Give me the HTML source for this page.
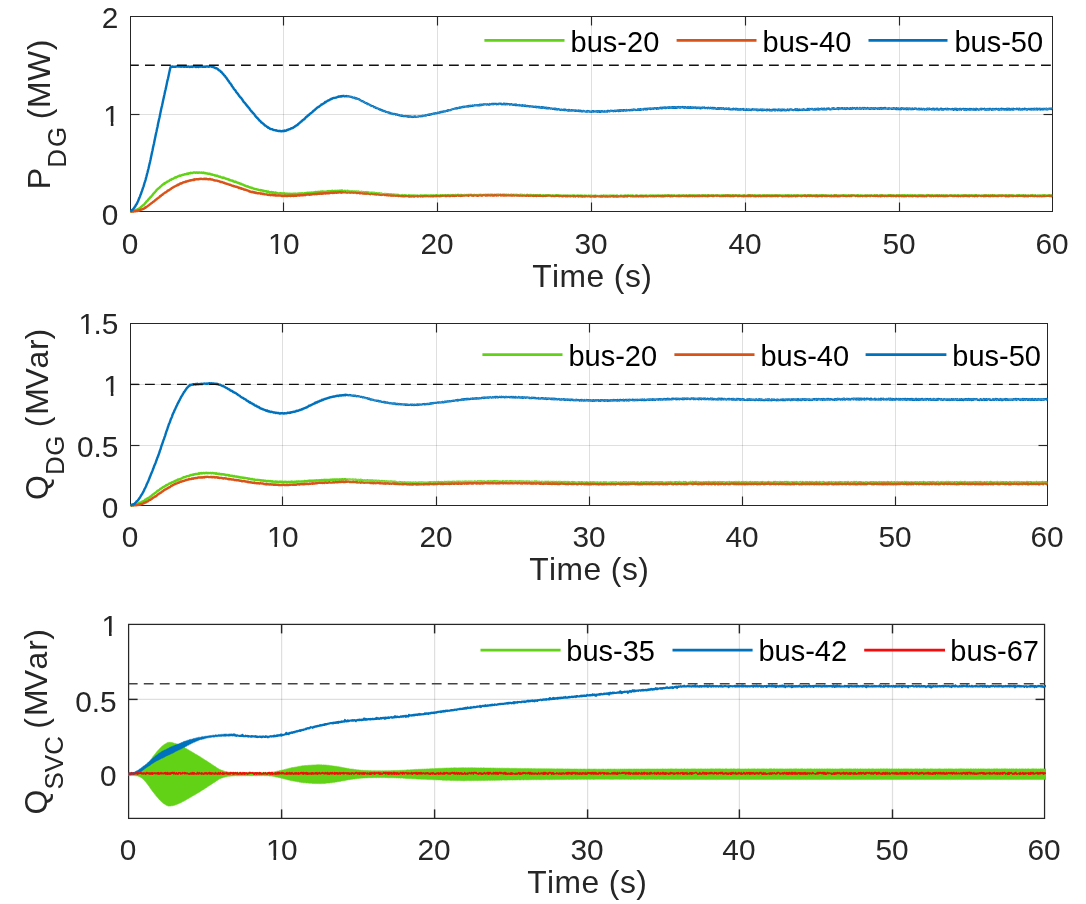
<!DOCTYPE html>
<html lang="en"><head><meta charset="utf-8"><title>DG and SVC power response</title>
<style>html,body{margin:0;padding:0;background:#fff;}svg{display:block;}text{font-family:"Liberation Sans", Arial, Helvetica, sans-serif;fill:#262626;font-kerning:none;}</style></head><body>
<svg width="1086" height="904" viewBox="0 0 1086 904">
<rect x="0" y="0" width="1086" height="904" fill="#ffffff"/>
<g id="ax1">
<clipPath id="clip1"><rect x="130.00" y="16.00" width="924.00" height="197.00"/></clipPath>
<line x1="283.50" y1="16.50" x2="283.50" y2="211.50" stroke="#262626" stroke-opacity="0.15" stroke-width="1.0"/>
<line x1="437.50" y1="16.50" x2="437.50" y2="211.50" stroke="#262626" stroke-opacity="0.15" stroke-width="1.0"/>
<line x1="591.50" y1="16.50" x2="591.50" y2="211.50" stroke="#262626" stroke-opacity="0.15" stroke-width="1.0"/>
<line x1="745.50" y1="16.50" x2="745.50" y2="211.50" stroke="#262626" stroke-opacity="0.15" stroke-width="1.0"/>
<line x1="899.50" y1="16.50" x2="899.50" y2="211.50" stroke="#262626" stroke-opacity="0.15" stroke-width="1.0"/>
<line x1="130.50" y1="114.50" x2="1052.50" y2="114.50" stroke="#262626" stroke-opacity="0.15" stroke-width="1.0"/>
<line x1="283.50" y1="211.50" x2="283.50" y2="202.50" stroke="#262626" stroke-width="1.15"/>
<line x1="283.50" y1="16.50" x2="283.50" y2="25.50" stroke="#262626" stroke-width="1.15"/>
<line x1="437.50" y1="211.50" x2="437.50" y2="202.50" stroke="#262626" stroke-width="1.15"/>
<line x1="437.50" y1="16.50" x2="437.50" y2="25.50" stroke="#262626" stroke-width="1.15"/>
<line x1="591.50" y1="211.50" x2="591.50" y2="202.50" stroke="#262626" stroke-width="1.15"/>
<line x1="591.50" y1="16.50" x2="591.50" y2="25.50" stroke="#262626" stroke-width="1.15"/>
<line x1="745.50" y1="211.50" x2="745.50" y2="202.50" stroke="#262626" stroke-width="1.15"/>
<line x1="745.50" y1="16.50" x2="745.50" y2="25.50" stroke="#262626" stroke-width="1.15"/>
<line x1="899.50" y1="211.50" x2="899.50" y2="202.50" stroke="#262626" stroke-width="1.15"/>
<line x1="899.50" y1="16.50" x2="899.50" y2="25.50" stroke="#262626" stroke-width="1.15"/>
<line x1="130.50" y1="114.50" x2="139.50" y2="114.50" stroke="#262626" stroke-width="1.15"/>
<line x1="1052.50" y1="114.50" x2="1043.50" y2="114.50" stroke="#262626" stroke-width="1.15"/>
<rect x="130.50" y="16.50" width="922.00" height="195.00" fill="none" stroke="#262626" stroke-width="1.0"/>
<g clip-path="url(#clip1)">
<path d="M130.50 211.50l.5 .1 .5-.15 .5-.42 .5-.06 .5 .24 .5-.64 .5 .36 .5-.16 .5-.36 .5-.27 .5-.21 .5-.22 .5-.11 .5-.21 .5-.24 .5-.02 .5-.42 .5-.43 .5-.12 .5-.83 .5-.42 .5-.13 .5-.76 .5-.45 .5-.17 .5-.5 .5-.21 .5-.68 .5-.58 .5-.54 .5-.69 .5-.69 .5-.45 .5-.26 .5-.87 .5-.47 .5-.8 .5-.08 .5-.99 .5-.52 .5-.22 .5-.81 .5-.38 .5-.71 .5-.52 .5-.96 .5-.31 .5-.58 .5-.34 .5-.86 .5-.4 .5-.86 .5-.33 .5-.56 .5-.6 .5-.09 .5-.74 .5-.11 .5-.68 .5-.43 .5-.41 .5-.38 .5-.72 .5-.21 .5-.49 .5-.26 .5-.54 .5 .18 .5-.78 .5-.06 .5-.54 .5 .03 .5-.43 .5-.62 .5 .13 .5-.22 .5-.31 .5-.47 .5-.53 .5-.23 .5 .18 .5-.48 .5-.47 .5 .17 .5-.38 .5-.28 .5-.35 .5-.21 .5-.33 .5-.34 .5 .28 .5-.46 .5-.15 .5-.34 .5 .06 .5-.63 .5 .02 .5-.38 .5-.12 .5 .34 .5-.35 .5-.29 .5-.1 .5 .06 .5-.46 .5 .01 .5-.08 .5-.32 .5-.03 .5 .03 .5-.03 .5-.57 .5 .36 .5-.67 .5 .35 .5-.07 .5-.5 .5 .08 .5 .15 .5-.57 .5 .29 .5 .03 .5-.24 .5 .06 .5-.36 .5-.07 .5 .05 .5-.15 .5 .06 .5 .32 .5-.25 .5-.16 .5-.06 .5 .39 .5-.31 .5 .32 .5-.27 .5 .01 .5 .24 .5-.07 .5-.06 .5-.06 .5 .31 .5-.23 .5 .36 .5-.46 .5 .28 .5 .13 .5 .33 .5-.34 .5 .42 .5 .01 .5 .12 .5 .05 .5 .32 .5-.28 .5 .16 .5 0 .5 .03 .5 .22 .5 .54 .5 .09 .5-.31 .5 .42 .5 .06 .5 .2 .5 .18 .5-.08 .5 .53 .5-.16 .5 .23 .5 .15 .5-.13 .5 .07 .5 .36 .5 .36 .5 .18 .5 .09 .5-.21 .5 .63 .5 .09 .5 .2 .5-.06 .5 .4 .5-.36 .5 .15 .5 .15 .5 .3 .5 .17 .5 .12 .5 .4 .5-.16 .5 .5 .5-.09 .5 .48 .5-.23 .5 .34 .5 .55 .5-.07 .5 .33 .5 .08 .5 .14 .5-.08 .5 .39 .5-.15 .5 .63 .5 .27 .5 .1 .5-.31 .5 .35 .5 .16 .5 .06 .5 .48 .5 .28 .5-.1 .5 .51 .5 .15 .5-.22 .5 .57 .5 .26 .5-.22 .5 .42 .5 .24 .5 .17 .5-.11 .5 .54 .5 .18 .5 .31 .5 .18 .5-.09 .5 .43 .5 .28 .5 .21 .5-.25 .5 .11 .5 .56 .5-.08 .5 .4 .5 .4 .5-.16 .5 .1 .5 .29 .5 .29 .5-.17 .5 .32 .5 .01 .5 .47 .5 .25 .5-.14 .5 .14 .5 .23 .5-.06 .5 .14 .5 .17 .5 .2 .5-.11 .5 .51 .5 .01 .5-.06 .5-.03 .5 .51 .5-.27 .5 .1 .5 .1 .5 .07 .5 .59 .5-.29 .5 .12 .5 .41 .5-.04 .5-.17 .5 .24 .5 .36 .5-.22 .5 .28 .5-.28 .5 .46 .5 .11 .5 .1 .5-.01 .5-.11 .5-.11 .5 .34 .5 .22 .5-.28 .5 .11 .5 .23 .5 .19 .5 .15 .5-.41 .5 .09 .5 .42 .5-.04 .5 .1 .5 .21 .5 .01 .5-.01 .5 0 .5-.18 .5 .19 .5-.24 .5 .39 .5 .03 .5 .02 .5-.13 .5-.01 .5 .06 .5-.2 .5 .52 .5-.15 .5-.06 .5 .13 .5 .13 .5-.18 .5 .29 .5 .08 .5-.3 .5-.13 .5 .39 .5 .15 .5-.5 .5 .35 .5 .08 .5 .06 .5-.48 .5-.02 .5 .54 .5-.53 .5 .02 .5 .23 .5-.09 .5 .17 .5-.35 .5 .41 .5-.44 .5 .31 .5-.45 .5 .22 .5-.29 .5 .13 .5-.03 .5 .21 .5-.19 .5-.28 .5 .53 .5-.11 .5-.02 .5-.44 .5 .04 .5-.14 .5-.11 .5-.1 .5 .24 .5-.28 .5-.01 .5 .36 .5-.27 .5-.23 .5 .24 .5-.29 .5 .11 .5-.2 .5 .09 .5 .02 .5-.11 .5-.13 .5 .19 .5 0 .5-.46 .5-.08 .5-.06 .5 .48 .5-.07 .5-.47 .5 .4 .5-.5 .5 .13 .5-.04 .5 .21 .5-.56 .5 .12 .5 .14 .5-.36 .5 .07 .5 .1 .5 .22 .5-.1 .5 .01 .5-.07 .5-.07 .5 .06 .5-.13 .5 0 .5-.29 .5-.11 .5 .32 .5-.38 .5 .42 .5-.22 .5-.19 .5 .33 .5-.5 .5 .19 .5-.28 .5 .5 .5-.27 .5 .12 .5-.34 .5 .28 .5-.08 .5-.06 .5 .16 .5-.33 .5-.03 .5 .15 .5 .07 .5-.32 .5 .19 .5-.29 .5 .19 .5 .12 .5-.43 .5 .39 .5-.43 .5 .56 .5-.29" fill="none" stroke="#62d216" stroke-width="2.4" stroke-linejoin="round" />
<path d="M343.20 190.65l.35 .25 .35-.16 .35 .17 .35-.51 .35 .38 .35 0 .35 .31 .35-.71 .35 .34 .35 .15 .35-.06 .35-.37 .35 .42 .35-.28 .35-.01 .35 .56 .35-.53 .35 .22 .35 .25 .35-.02 .35-.1 .35 .22 .35-.26 .35 .14 .35 .18 .35-.09 .35-.01 .35-.17 .35 .15 .35-.11 .35 .3 .35-.27 .35 .09 .35 .26 .35-.18 .35-.11 .35 .42 .35-.34 .35 .4 .35-.02 .35-.25 .35 .24 .35-.52 .35 .31 .35 .41 .35-.2 .35 .01 .35 .11 .35 .04 .35-.05 .35-.11 .35-.16 .35 .11 .35 .03 .35 .14 .35 .48 .35-.49 .35 .1 .35-.04 .35 .2 .35 .32 .35-.02 .35-.39 .35-.06 .35 .53 .35-.29 .35 .18 .35-.46 .35 .67 .35-.42 .35 .17 .35-.21 .35 .21 .35 .36 .35 .04 .35-.26 .35 .27 .35-.22 .35-.04 .35 .18 .35-.25 .35 .13 .35 .35 .35 .08 .35-.54 .35 .58 .35 .11 .35-.27 .35-.28 .35 .54 .35-.32 .35 .36 .35-.18 .35 .25 .35-.27 .35 .21 .35 .07 .35 .13 .35-.32 .35 .66 .35-.51 .35 .05 .35-.01 .35-.12 .35 .33 .35 .32 .35-.02 .35-.38 .35-.02 .35 .19 .35 .4 .35-.2 .35 .39 .35-.18 .35 0 .35 .15 .35 .02 .35-.3 .35-.04 .35 .18 .35 .07 .35-.25 .35 .27 .35 .2 .35-.39 .35 .03 .35 .06 .35 .12 .35 .58 .35-.74 .35 .15 .35 .02 .35 .27 .35-.35 .35 .39 .35-.21 .35 .11 .35 .45 .35-.47 .35 .38 .35-.15 .35 .03 .35 .36 .35-.52 .35 .65 .35 0 .35-.16 .35-.48 .35 .53 .35-.03 .35 .17 .35-.44 .35 .63 .35-.03 .35-.61 .35 .19 .35-.21 .35 .68 .35 .09 .35 .09 .35-.29 .35 .07 .35 .03 .35-.07 .35 .34 .35-.26 .35-.2 .35 .16 .35-.38 .35 .6 .35-.01 .35-.2 .35 .37 .35-.06 .35-.33 .35-.2 .35 .07 .35 .05 .35 .12 .35 .13 .35 .41 .35-.52 .35 .53 .35-.17 .35 .15 .35-.36 .35-.32 .35 .66 .35-.44 .35-.08 .35 .56 .35-.09 .35-.39 .35 .05 .35 .57 .35-.56 .35 .37 .35-.47 .35 .57 .35-.58 .35 .33 .35-.39 .35 .42 .35 .25 .35-.63 .35 .15 .35 .41 .35-.13 .35-.25 .35 .27 .35-.15 .35 .34 .35-.48 .35 .39 .35-.11 .35 .09 .35-.31 .35 .29 .35-.02 .35-.27 .35-.3 .35 .78 .35-.21 .35-.43 .35 .44 .35-.38 .35 .15 .35 .32 .35-.34 .35-.14 .35 .01 .35-.19 .35 .11 .35 .04 .35-.08 .35-.1 .35 .33 .35-.21 .35 .43 .35 .15 .35-.55 .35 .25 .35-.06 .35-.36 .35 .03 .35 .63 .35-.34 .35 .27 .35-.62 .35 .43 .35 .22 .35 0 .35-.72 .35 .42 .35-.13 .35 .32 .35-.58 .35 .16 .35 .45 .35-.29 .35-.02 .35 .43 .35-.55 .35-.24 .35 .29 .35-.21 .35-.06 .35 .4 .35 .32 .35-.32 .35 .05 .35-.27 .35 .2 .35 .15 .35-.14 .35 .17 .35-.22 .35-.3 .35 .32 .35-.08 .35-.28 .35 .38 .35 .16 .35-.58 .35 .34 .35 .15 .35-.28 .35-.11 .35 .08 .35 .14 .35 .11 .35-.11 .35-.38 .35 .59 .35 .09 .35-.7 .35 .12 .35-.07 .35 .57 .35 .05 .35-.74 .35 .24 .35-.12 .35 .23 .35 .38 .35-.73 .35 .09 .35 .26 .35 .03 .35 .18 .35-.26 .35-.26 .35 .18 .35 .53 .35-.2 .35-.54 .35 .58 .35-.42 .35 .39 .35-.65 .35 .72 .35-.61 .35 .25 .35 .17 .35-.13 .35-.3 .35-.02 .35 .12 .35-.2 .35 .13 .35-.08 .35 .28 .35-.09 .35 .19 .35-.26 .35-.22 .35 .25 .35 .36 .35-.43 .35 .12 .35 .3 .35-.3 .35 .4 .35 .02 .35-.52 .35 .36 .35-.41 .35-.1 .35 .25 .35 .13 .35 .28 .35-.67 .35 .47 .35-.2 .35-.3 .35 .72 .35-.24 .35-.49 .35 .66 .35-.69 .35-.01 .35 .2 .35 .51 .35-.78 .35 .76 .35-.27 .35-.47 .35 .43 .35-.1 .35 .09 .35 .14 .35-.05 .35 .27 .35-.73 .35 .56 .35-.35 .35 .32 .35 .09 .35 .08 .35-.62 .35 .15 .35 .42 .35 0 .35-.5 .35 .49 .35-.46 .35-.03 .35 .32 .35-.25 .35-.02 .35-.06 .35 .04 .35-.25 .35-.07 .35 .59 .35-.17 .35 .09 .35 .11 .35-.49 .35 0 .35 .03 .35 .02 .35 .39 .35-.33 .35-.05 .35 .27 .35-.39 .35-.07 .35 .5 .35 .05 .35-.39 .35 .29 .35-.52 .35 .31 .35 .15 .35-.28 .35 .08 .35 .22 .35-.02 .35-.37 .35 .47 .35-.54 .35 .76 .35-.66 .35 .04 .35-.04 .35 .68 .35-.61 .35 .27 .35 .33 .35-.03 .35-.79 .35 .42 .35 .06 .35 .09 .35-.32 .35 0 .35-.28 .35 .02 .35 .45 .35-.41 .35 .11 .35 .11 .35-.23 .35-.03 .35 .77 .35-.42 .35-.2 .35 .43 .35-.6 .35 .2 .35 .62 .35-.05 .35-.23 .35-.47 .35 .2 .35-.25 .35 .17 .35-.17 .35 .09 .35 .44 .35-.46 .35 .05 .35 .65 .35-.49 .35 0 .35-.21 .35 .61 .35-.1 .35-.11 .35 .06 .35-.44 .35 .14 .35 .28 .35 .33 .35-.12 .35-.15 .35-.1 .35-.44 .35 .77 .35-.72 .35 .06 .35 .49 .35 .11 .35-.02 .35-.29 .35-.23 .35-.12 .35 .71 .35 .11 .35-.63 .35 .54 .35-.4 .35-.07 .35 .17 .35-.43 .35 .38 .35-.2 .35 .45 .35-.18 .35 .32 .35 .03 .35-.5 .35-.03 .35 .58 .35-.38 .35-.35 .35-.04 .35 .83 .35-.35 .35-.46 .35 .41 .35 0 .35-.06 .35 .46 .35 0 .35-.72 .35 .03 .35 .23 .35 .38 .35-.18 .35 .1 .35-.13 .35-.32 .35 .54 .35-.7 .35 .6 .35-.43 .35 .24 .35 .45 .35-.38 .35-.41 .35 .33 .35 .21 .35-.53 .35 .18 .35-.2 .35 .46 .35-.13 .35 .11 .35-.18 .35 .33 .35-.42 .35 .65 .35 .05 .35-.41 .35-.02 .35 .36 .35-.5 .35 .46 .35-.45 .35 .38 .35-.33 .35 .24 .35 .29 .35-.76 .35 .67 .35-.23 .35-.14 .35-.02 .35-.24 .35 .17 .35 .33 .35-.46 .35 .51 .35 .26 .35 .03 .35-.08 .35-.07 .35-.55 .35 .71 .35-.68 .35 .6 .35 .01 .35-.22 .35-.08 .35-.28 .35 .29 .35-.2 .35-.14 .35 0 .35 .6 .35 .12 .35-.69 .35-.11 .35 .23 .35-.11 .35 .05 .35 .36 .35-.14 .35 .01 .35-.19 .35 .41 .35-.33 .35 .1 .35 .06 .35 .4 .35-.58 .35 .42 .35-.36 .35 .53 .35-.44 .35 .1 .35 .33 .35-.17 .35-.51 .35 .04 .35 .76 .35-.85 .35 .25 .35 .59 .35-.84 .35 .13 .35 .05 .35-.1 .35 .34 .35 .11 .35-.24 .35-.18 .35 .63 .35 0 .35-.22 .35-.37 .35 .36 .35 .09 .35-.18 .35 .39 .35-.42 .35 .11 .35-.35 .35 .41 .35 .18 .35-.02 .35-.42 .35 .66 .35-.24 .35-.26 .35-.01 .35 .33 .35-.53 .35 .42 .35 .07 .35-.18 .35 .33 .35-.36 .35 0 .35-.16 .35 .57 .35-.53 .35 .34 .35-.25 .35 .47 .35 .02 .35-.82 .35 .87 .35-.35 .35-.47 .35 .39 .35-.4 .35 .45 .35-.32 .35 .17 .35-.06 .35 .27 .35 .2 .35 .11 .35-.54 .35 .22 .35-.5 .35 .33 .35 .53 .35-.75 .35 .68 .35-.2 .35-.31 .35 .43 .35-.43 .35 .55 .35-.73 .35 .04 .35 .57 .35-.27 .35-.27 .35 .33 .35-.19 .35 .23 .35 .18 .35 .1 .35-.71 .35 .48 .35 .35 .35-.46 .35 .28 .35-.61 .35 .71 .35-.27 .35 .28 .35-.09 .35 .08 .35-.73 .35 .59 .35-.46 .35 .06 .35 .06 .35 .24 .35 .03 .35 .28 .35-.83 .35 .16 .35 .16 .35 .41 .35-.24 .35-.03 .35 .22 .35-.09 .35-.33 .35-.19 .35 .34 .35 .38 .35-.25 .35-.5 .35 .35 .35-.05 .35 .18 .35 .01 .35 .33 .35-.56 .35 .07 .35 .18 .35 .25 .35-.17 .35-.21 .35 .31 .35-.3 .35 .44 .35-.62 .35-.14 .35 .63 .35-.48 .35 .5 .35-.22 .35-.09 .35-.38 .35 .63 .35-.65 .35 .81 .35-.08 .35-.52 .35-.16 .35 .69 .35-.37 .35-.32 .35 .33 .35-.23 .35 .15 .35 .21 .35 .25 .35-.1 .35-.59 .35 .29 .35 .01 .35 .45 .35-.82 .35 .39 .35 .36 .35-.47 .35-.12 .35 .26 .35-.21 .35 .55 .35-.77 .35 .11 .35-.11 .35 .57 .35-.39 .35 .56 .35-.01 .35 .04 .35-.62 .35-.24 .35 .35 .35 .53 .35-.19 .35-.64 .35 .59 .35 .19 .35 .05 .35-.24 .35 .14 .35-.02 .35-.45 .35-.24 .35 .58 .35-.54 .35 .22 .35 .56 .35-.4 .35-.04 .35 .39 .35-.61 .35 .65 .35-.08 .35-.5 .35-.04 .35-.18 .35 .72 .35-.67 .35-.16 .35 .8 .35-.27 .35 .07 .35 .05 .35-.63 .35 .04 .35 .37 .35-.41 .35 .41 .35 .22 .35-.08 .35-.04 .35-.52 .35 .17 .35 .61 .35-.72 .35 .38 .35-.45 .35 .82 .35-.71 .35 .22 .35 .12 .35 .16 .35 .2 .35-.19 .35-.36 .35-.25 .35 .58 .35 .24 .35-.88 .35 .69 .35-.55 .35 .26 .35 .06 .35 .08 .35 .34 .35-.28 .35-.27 .35 .29 .35-.23 .35-.05 .35-.05 .35 .12 .35-.2 .35-.04 .35-.08 .35 .26 .35-.13 .35 .5 .35 0 .35-.46 .35 .25 .35 .26 .35-.51 .35 .18 .35-.1 .35 .19 .35 .28 .35-.76 .35 .76 .35-.28 .35 .12 .35-.15 .35 .22 .35-.51 .35 .35 .35-.41 .35 .22 .35 .16 .35-.44 .35-.14 .35 .68 .35 .01 .35-.13 .35-.32 .35 .31 .35-.54 .35 .54 .35-.08 .35 .03 .35-.16 .35-.21 .35 .47 .35-.25 .35 .26 .35-.35 .35-.26 .35 .42 .35 .07 .35 .28 .35-.04 .35-.77 .35 .66 .35-.48 .35 .41 .35-.3 .35-.06 .35 .16 .35 .04 .35 .15 .35-.06 .35 .04 .35-.28 .35 .27 .35-.31 .35 .24 .35-.14 .35 .1 .35-.51 .35 .45 .35-.27 .35 .16 .35-.3 .35 .55 .35 .22 .35-.51 .35-.23 .35 .47 .35-.46 .35 .72 .35-.73 .35 .23 .35 .12 .35-.36 .35 .19 .35-.04 .35 .41 .35 .25 .35-.58 .35 .39 .35-.61 .35 .41 .35-.14 .35-.13 .35 .5 .35-.08 .35-.57 .35 .15 .35 .49 .35 .16 .35-.36 .35 .24 .35 .11 .35-.23 .35-.09 .35-.4 .35 .14 .35 .23 .35 .29 .35-.59 .35 .08 .35-.35 .35 .63 .35-.23 .35 .33 .35-.53 .35 .4 .35 .01 .35-.2 .35-.26 .35 .2 .35 .32 .35-.52 .35-.1 .35 .35 .35-.21 .35 .53 .35 .01 .35 .12 .35-.1 .35-.18 .35-.44 .35 .6 .35-.09 .35 .02 .35-.05 .35 .13 .35-.51 .35 .36 .35-.15 .35-.17 .35-.01 .35-.16 .35 .31 .35-.11 .35 .04 .35 .41 .35-.16 .35 0 .35 .28 .35-.72 .35 .27 .35-.39 .35 .28 .35 .53 .35-.82 .35 .64 .35 .1 .35-.34 .35 .27 .35-.33 .35-.09 .35 .15 .35-.3 .35 .11 .35 0 .35 .64 .35-.62 .35-.1 .35 .68 .35-.76 .35 .78 .35-.1 .35-.2 .35-.21 .35-.22 .35-.08 .35-.01 .35 .24 .35 .05 .35 .49 .35-.37 .35 .44 .35-.26 .35-.55 .35 .39 .35-.37 .35-.12 .35 .86 .35-.57 .35-.15 .35-.08 .35 .52 .35-.18 .35-.42 .35 .66 .35-.43 .35 .5 .35-.28 .35 .04 .35-.07 .35 .21 .35 .3 .35-.19 .35-.69 .35 .41 .35-.25 .35-.13 .35 .09 .35 .05 .35 .68 .35-.21 .35 .11 .35-.15 .35-.37 .35 .08 .35 .04 .35-.14 .35 .12 .35 .34 .35-.67 .35 .2 .35 .19 .35 .19 .35-.03 .35 .08 .35-.6 .35 .07 .35 .13 .35-.03 .35 .45 .35 .23 .35-.29 .35-.63 .35 .26 .35 .48 .35 .12 .35-.32 .35-.23 .35 0 .35 .27 .35 .22 .35-.5 .35-.15 .35-.18 .35 .13 .35 .69 .35-.22 .35 .35 .35-.88 .35 .28 .35 .41 .35-.13 .35-.57 .35 .33 .35 .22 .35 .05 .35-.23 .35-.25 .35 .75 .35-.48 .35 .24 .35-.18 .35-.43 .35 .15 .35-.17 .35 .12 .35 .01 .35 .21 .35-.09 .35 .04 .35 .44 .35-.77 .35 .08 .35 .68 .35-.27 .35-.09 .35-.16 .35 .26 .35-.31 .35 .62 .35-.04 .35-.48 .35-.29 .35 .83 .35-.56 .35 .34 .35 .2 .35-.06 .35 .06 .35-.36 .35 .34 .35-.37 .35-.19 .35 .21 .35-.14 .35 .42 .35 .06 .35-.67 .35 .03 .35 .21 .35 .07 .35 .48 .35-.01 .35 .02 .35-.23 .35-.05 .35-.39 .35 .1 .35-.36 .35 .8 .35-.54 .35-.19 .35 .23 .35 .01 .35 .39 .35-.7 .35 .22 .35 .64 .35-.04 .35-.21 .35-.07 .35-.33 .35 .63 .35-.11 .35-.24 .35-.34 .35 .05 .35 .16 .35-.04 .35-.27 .35 .34 .35 .04 .35-.16 .35 .1 .35-.05 .35 .04 .35 .24 .35-.12 .35-.29 .35 .58 .35-.28 .35-.05 .35 .25 .35 .04 .35 .09 .35-.04 .35-.14 .35 .06 .35-.55 .35 .52 .35-.43 .35 0 .35-.13 .35 .27 .35-.37 .35 .62 .35 .09 .35 .03 .35-.63 .35 .5 .35 .19 .35-.78 .35 .15 .35 .07 .35 .19 .35-.28 .35 .36 .35-.19 .35 .3 .35-.12 .35 .15 .35-.43 .35 .45 .35 .03 .35-.01 .35-.64 .35 .86 .35-.36 .35-.3 .35 .16 .35 .08 .35 0 .35-.27 .35 .02 .35 .1 .35 .41 .35-.34 .35-.39 .35 .4 .35-.24 .35-.19 .35 .95 .35-.67 .35 .24 .35-.18 .35-.3 .35 .83 .35 .04 .35-.74 .35 .23 .35-.04 .35-.21 .35 .49 .35 .12 .35-.02 .35-.09 .35-.64 .35 .2 .35 .28 .35 .19 .35-.31 .35 .06 .35 .39 .35-.81 .35 .24 .35 .02 .35 .7 .35-.76 .35-.18 .35 .37 .35 .23 .35-.49 .35 .67 .35-.63 .35 .5 .35-.53 .35 .71 .35-.67 .35 .52 .35 .1 .35-.57 .35-.16 .35 .48 .35-.08 .35-.02 .35 .3 .35-.32 .35 .04 .35-.01 .35-.03 .35-.05 .35-.25 .35 .14 .35-.03 .35-.02 .35 .53 .35-.66 .35 .09 .35 .32 .35-.22 .35-.07 .35 .13 .35 .13 .35 .17 .35 .3 .35-.12 .35-.42 .35 .02 .35-.03 .35-.18 .35 .71 .35-.88 .35 .14 .35 .45 .35-.07 .35-.31 .35 .65 .35-.52 .35 .19 .35-.51 .35 .8 .35-.78 .35 .28 .35 .49 .35 .06 .35-.04 .35-.07 .35-.59 .35-.21 .35 .42 .35-.38 .35 .89 .35-.95 .35 .32 .35-.13 .35-.18 .35 .48 .35-.42 .35 .82 .35-.21 .35-.32 .35 .47 .35-.04 .35-.47 .35 .52 .35 .08 .35-.31 .35-.27 .35 .55 .35 .04 .35-.59 .35-.26 .35 .78 .35-.21 .35-.43 .35 .34 .35-.26 .35 .61 .35-.58 .35-.14 .35-.16 .35 .3 .35 .65 .35-.77 .35 .24 .35 .51 .35-.96 .35 .29 .35 .52 .35-.72 .35 .83 .35-.1 .35-.69 .35 .45 .35-.03 .35 .13 .35-.38 .35 .07 .35-.14 .35 .05 .35-.11 .35 .72 .35-.01 .35-.53 .35 .33 .35-.2 .35-.21 .35 .07 .35 .62 .35-.63 .35 .24 .35 .37 .35-.65 .35 .51 .35-.7 .35 .62 .35 .08 .35 .03 .35 .14 .35-.27 .35 .27 .35-.7 .35 .24 .35-.31 .35-.13 .35 .36 .35 .28 .35 .06 .35-.76 .35 .92 .35-.69 .35 .04 .35 .54 .35 .06 .35-.15 .35-.41 .35 .13 .35 .37 .35-.47 .35 .45 .35-.03 .35-.31 .35 .43 .35-.52 .35 .37 .35-.11 .35-.31 .35 .2 .35 .08 .35-.07 .35-.43 .35 .88 .35-.02 .35-.93 .35 .9 .35-.41 .35-.4 .35 .69 .35-.39 .35 .28 .35 .12 .35-.29 .35-.49 .35 .77 .35-.13 .35 .22 .35-.64 .35 .52 .35 .08 .35-.51 .35 .05 .35-.08 .35-.32 .35 .22 .35 .1 .35-.22 .35 .66 .35-.34 .35 .14 .35-.29 .35 .08 .35 .39 .35-.28 .35 .13 .35-.18 .35 .14 .35 .34 .35-.63 .35 .25 .35 .17 .35-.6 .35 .87 .35-.46 .35-.25 .35 .51 .35 .06 .35-.19 .35 .29 .35-.83 .35 .44 .35 .21 .35 .18 .35-.28 .35-.04 .35-.21 .35 .18 .35-.02 .35 .36 .35-.08 .35-.09 .35 .18 .35-.85 .35 .7 .35-.31 .35 .29 .35-.45 .35 .17 .35 .35 .35-.78 .35 .25 .35 .2 .35 .36 .35-.58 .35 .55 .35-.58 .35 .06 .35 .25 .35 .1 .35 .23 .35 0 .35-.63 .35 .5 .35-.12 .35-.24 .35 .39 .35 .12 .35-.42 .35 .44 .35-.79 .35 .04 .35 .59 .35-.45 .35 .28 .35-.09 .35-.35 .35 .6 .35-.01 .35-.59 .35 .11 .35 .54 .35 .11 .35-.04 .35-.37 .35-.13 .35 .08 .35-.27 .35 .32 .35-.27 .35-.07 .35 .22 .35-.32 .35 .41 .35 .23 .35-.05 .35 .33 .35-.09 .35-.26 .35 .27 .35-.46 .35 .36 .35-.52 .35 .25 .35 .45 .35-.38 .35-.09 .35 .28 .35-.48 .35 .52 .35-.81 .35 .22 .35-.06 .35 .08 .35 .69 .35-.93 .35 .28 .35 .27 .35 .13 .35 .07 .35-.39 .35-.16 .35 .63 .35-.73 .35-.05 .35 .16 .35 .26 .35 .45 .35-.21 .35-.17 .35-.04 .35 .17 .35-.06 .35-.29 .35-.25 .35 .11 .35 .58 .35-.15 .35 .17 .35-.76 .35 .86 .35-.52 .35 .55 .35-.34 .35-.04 .35 .27 .35-.19 .35 .04 .35-.51 .35 .44 .35-.24 .35-.28 .35 .05 .35 .35 .35-.22 .35 .51 .35-.65 .35-.11 .35 .99 .35-.69 .35 .2 .35-.3 .35 0 .35 .19 .35 .39 .35-.75 .35 .8 .35 .15 .35-.43 .35-.2 .35-.13 .35-.05 .35 .14 .35 .53 .35-.85 .35 .79 .35-.12 .35-.65 .35 .05 .35 .67 .35-.07 .35-.36 .35 .55 .35-.65 .35 .22 .35-.31 .35 .53 .35-.56 .35 .09 .35 .59 .35-.27 .35 .16 .35 .07 .35-.12 .35-.41 .35 .5 .35-.58 .35 .15 .35 .18 .35-.34 .35 0 .35 .54 .35 .09 .35-.37 .35 .02 .35-.18 .35 .31 .35 .06 .35 .35 .35-.89 .35 .87 .35 .08 .35-.64 .35 .38 .35 .09 .35-.17 .35-.36 .35 .33 .35 .26 .35-.77 .35 .37 .35-.46 .35 .82 .35-.06 .35-.73 .35 .7 .35-.06 .35-.56 .35 .4 .35 .16 .35-.35 .35 .16 .35 .48 .35-.34 .35-.14 .35-.43 .35 .05 .35 .73 .35-.11 .35 .1 .35-.26 .35 0 .35-.05 .35 .21 .35-.41 .35 .17 .35-.03 .35 .19 .35-.44 .35-.19 .35 .06 .35 .09 .35 .68 .35-.14 .35 .03 .35-.31 .35-.34 .35 .37 .35 .39 .35-.35 .35 .12 .35-.26 .35-.22 .35 .48 .35-.15 .35-.13 .35-.09 .35 .44 .35-.38 .35 .26 .35-.32 .35 .49 .35-.38 .35 .11 .35 .45 .35-.21 .35 .02 .35-.4 .35 .5 .35-.45 .35 .6 .35-.09 .35-.24 .35 .17 .35-.29 .35 .19 .35-.61 .35 .87 .35-.19 .35-.66 .35 .1 .35 .33 .35 .19 .35-.61 .35 .81 .35-.61 .35 .64 .35-.24 .35-.26 .35-.13 .35-.26 .35-.01 .35 .54 .35 .14 .35 .14 .35-.55 .35 .58 .35-.64 .35 .64 .35-.02 .35-.77 .35 .71 .35-.16 .35 0 .35 .14 .35-.3 .35-.03 .35-.14 .35 .5 .35 .03 .35-.74 .35 .61 .35-.49 .35-.1 .35 .02 .35 .37 .35-.29 .35-.04 .35-.14 .35 .22 .35 .45 .35-.75 .35 .46 .35 .12 .35-.55 .35 .24 .35 .62 .35 .08 .35-.14 .35-.68 .35 .59 .35-.31 .35-.28 .35 .31 .35 .44 .35-.04 .35-.49 .35-.33 .35 .84 .35 .09 .35-.48 .35-.28 .35 .31 .35 .16 .35-.22 .35-.13 .35-.1 .35 .05 .35-.25 .35 .21 .35 .69 .35-.94 .35 .72 .35 .06 .35-.39 .35 .2 .35-.38 .35 .45 .35 .04 .35 .02 .35-.24 .35 .48 .35-.1 .35-.3 .35 .11 .35-.41 .35 .67 .35-.29 .35 .24 .35-.6 .35 .69 .35-.87 .35 .42 .35-.42 .35 .08 .35 .57 .35-.69 .35 .31 .35-.19 .35 .66 .35-.77 .35 .26 .35 .52 .35-.17 .35 .01 .35 .29 .35-.97 .35 .64 .35 .08 .35 .01 .35-.04 .35-.64 .35 .01 .35 .69 .35-.16 .35-.35 .35-.25 .35 .52 .35-.44 .35 .66 .35-.41 .35 .47 .35-.71 .35 .39 .35-.39 .35 .68 .35-.22 .35-.33 .35 .73 .35-.28 .35-.34 .35 .52 .35-.48 .35 .56 .35-.64 .35 .68 .35-.92 .35 .67 .35-.44 .35 .13 .35 .22 .35-.59 .35 .17 .35-.12 .35 .64 .35-.52 .35 .28 .35-.17 .35-.09 .35 .7 .35-.43 .35 .14 .35 .05 .35 .12 .35-.56 .35-.18 .35 .39 .35-.3 .35-.15 .35 .9 .35-.29 .35-.22 .35-.27 .35 .62 .35-.23 .35-.36 .35 .81 .35-.03 .35-.02 .35-.1 .35-.3 .35-.23 .35 .35 .35-.5 .35 .47 .35-.55 .35-.06 .35 .71 .35-.38 .35 .36 .35 .08 .35 .06 .35-.22 .35 .23 .35-.19 .35 .27 .35-.03 .35-.86 .35 .23 .35 .12 .35-.14 .35-.07 .35 .69 .35-.84 .35 .15 .35 .58 .35-.54 .35 .04 .35 .71 .35-.21 .35-.31 .35-.31 .35 .13 .35 .71 .35-.19 .35-.72 .35 .64 .35-.33 .35 .34 .35-.42 .35-.17 .35-.11 .35 .28 .35 .56 .35 .03 .35-.21 .35 .07 .35-.56 .35 .16 .35 .55 .35 .09 .35-.55 .35 .34 .35 .15 .35 .07 .35-.7 .35 .35 .35-.26 .35 .08 .35-.01 .35-.18 .35-.26 .35 .75 .35-.07 .35 .14 .35-.69 .35 .09 .35 .36 .35 .34 .35-.47 .35-.27 .35 .39 .35 .37 .35-.09 .35 .03 .35-.49 .35-.15 .35 .61 .35-.08 .35 .06 .35-.46 .35-.1 .35-.05 .35 .63 .35 .05 .35-.55 .35 .5 .35-.49 .35 .07 .35 .12 .35-.35 .35 .05 .35 0 .35-.01 .35 .26 .35-.42 .35 .68 .35-.61 .35 .27 .35 .2 .35-.5 .35 .27 .35 .15 .35-.01 .35 .34 .35-.1 .35-.67 .35 .71 .35-.28 .35 .13 .35-.52 .35 .31 .35 .23 .35 .1 .35 .01 .35-.59 .35 .61 .35-.26 .35 .1" fill="none" stroke="#62d216" stroke-width="1.6" stroke-linejoin="round" />
<path d="M345.80 191.17l.6-.53 .6 .63 .6-.03 .6-.06 .6-.5 .6 .2 .6-.4 .6 .74 .6 .19 .6-.85 .6 .74 .6-.03 .6-.76 .6 1.11 .6-.49 .6-.22 .6-.25 .6 .96 .6-.5 .6 .26 .6-.34 .6 .54 .6-.21 .6 .55 .6-.13 .6 .12 .6-.54 .6-.18 .6 1.05 .6 .11 .6-.31 .6 .38 .6-.22 .6-.07 .6-.18 .6-.03 .6 .21 .6-.28 .6 .31 .6 .15 .6-.53 .6 .5 .6-.08 .6 .49 .6 .28 .6-.18 .6 .12 .6 0 .6-.39 .6 .21 .6 .65 .6 .19 .6-.9 .6-.15 .6 1.25 .6-.07 .6-.25 .6 .32 .6-.22 .6 .45 .6-.77 .6 .31 .6 .34 .6-.52 .6 .69 .6-.52 .6 .62 .6 .16 .6-.43 .6 .77 .6-.41 .6 .2 .6-.88 .6 .16 .6 .8 .6 .34 .6-.36 .6 .4 .6-1.04 .6 1.1 .6 .03 .6-.28 .6-.21 .6 .39 .6-.54 .6 .58 .6 .07 .6-.15 .6-.32 .6-.29 .6 .28 .6 .86 .6-.76 .6-.14 .6 .25 .6 .39 .6 .11 .6 .41 .6 0 .6 .17 .6-.08 .6-.54 .6-.37 .6 1.07 .6-.92 .6 .52 .6-.45 .6 .73 .6-.79 .6 .29 .6-.25 .6 .84 .6-.31 .6 .01 .6-.41 .6-.18 .6 .89 .6-.13 .6-.04 .6 .34 .6-.57 .6-.5 .6 .56 .6-.43 .6 .29 .6-.07 .6 .13 .6 .46 .6-.15 .6-.53 .6 .53 .6 .05 .6-.12 .6-.3 .6 .45 .6-.54 .6-.52 .6 .21 .6 .5 .6-.37 .6 .05 .6-.04 .6-.29 .6-.14 .6-.07 .6 .83 .6-.48 .6 .17 .6 .63 .6-.42 .6 .24 .6-.07 .6 .24 .6-1.19 .6 .41 .6 .75 .6-.66 .6 .64 .6-1.03 .6-.17 .6 1.11 .6-.66 .6 .13 .6 .56 .6-.97 .6 1 .6-.78 .6-.2 .6-.03 .6 .38 .6-.08 .6 .56 .6-1.13 .6-.02 .6 .14 .6 .61 .6 .23 .6-.41 .6 .17 .6 .04 .6-.86 .6 .3 .6 1.02 .6-.91 .6 .83 .6-.63 .6-.37 .6-.31 .6 .29 .6 .14 .6 .15 .6 0 .6 .14 .6-.11 .6-.61 .6 .31 .6 .95 .6-1.29 .6 .96 .6-.36 .6 .31 .6-.52 .6 .05 .6 .19 .6 .54 .6-.81 .6-.34 .6-.08 .6 1.17 .6-.8 .6-.27 .6 .65 .6 .34 .6-.35 .6-.62 .6 .34 .6-.2 .6-.35 .6 1.32 .6-.72 .6-.45 .6 1.04 .6 .13 .6-.24 .6-.79 .6-.09 .6 .46 .6 .08 .6 .41 .6 .12 .6-.09 .6-.8 .6 .34 .6-.65 .6 .55 .6-.64 .6 .06 .6 .01 .6 .25 .6 .01 .6 .55 .6-.89 .6 .05 .6 .77 .6 .02 .6 .05 .6 .01 .6-.08 .6-.16 .6 .27 .6-.94 .6 .18 .6 .76 .6-.79 .6 .49 .6-.39 .6 .24 .6 .58 .6-.25 .6-.3 .6-.25 .6 .77 .6-.21 .6-.31 .6 .61 .6-.25 .6 .42 .6-.45 .6 .34 .6-.5 .6 .24 .6 .19 .6-1.08 .6 .56 .6 .19 .6-.78 .6 1.06 .6-.1 .6 .32 .6-.81 .6 .15 .6 .65 .6-.72 .6 .62 .6-.59 .6-.12 .6-.08 .6-.09 .6 .33 .6-.39 .6 .98 .6 .22 .6-1.27 .6-.06 .6-.06 .6 1.36 .6-1.24 .6 .89 .6-.54 .6-.15 .6 .08 .6 .66 .6-.98 .6 1.25 .6-.42 .6-.48 .6-.04 .6 .67 .6-.03 .6-.45 .6 .04 .6 .2 .6 .66 .6-.54 .6 .46 .6-.29 .6-.1 .6-.1 .6 .29 .6-.27 .6 .36 .6-.8 .6 .22 .6 .82 .6-.7 .6 .68 .6 .15 .6-.53 .6-.7 .6 .99 .6-.13 .6-.55 .6 .86 .6-.56 .6-.63 .6 .03 .6 .25 .6 .58 .6 .31 .6-1.06 .6-.11 .6 .91 .6-.31 .6 .05 .6 .58 .6 .16 .6 .08 .6-.28 .6-1.16 .6 .23 .6 .66 .6 .57 .6-1.32 .6 .66 .6-.17 .6 .02 .6-.2 .6 .01 .6-.04 .6-.2 .6 .69 .6-.16 .6 .41 .6-.1 .6 .48 .6-.93 .6 .84 .6-.76 .6 .43 .6 .23 .6-.62 .6 .09 .6 .29 .6-.79 .6 .65 .6-.67 .6 .21 .6 .62 .6 .54 .6 .05 .6-1.13 .6-.17 .6 .58 .6-.11 .6-.09 .6 .6 .6-.08 .6-.22 .6 .1 .6-.06 .6 .15 .6 .4 .6 .03 .6 .06 .6-.18 .6-1.17 .6 .55 .6 .51 .6-.75 .6 .49 .6-.85 .6 .23 .6 .31 .6-.51 .6 .55 .6-.3 .6 .99 .6-.84 .6 .1 .6 .65 .6-.37 .6-.8 .6 .27 .6 .61 .6-.64 .6 .07 .6 .59 .6-.2 .6-.35 .6 .45 .6 .12 .6-.94 .6 .37 .6 .05 .6 .9 .6-1.3 .6 .46 .6-.24 .6 .79 .6 .18 .6-1.19 .6 1.27 .6-.26 .6-.76 .6 1.1 .6-.98 .6 .78 .6-1.13 .6 .6 .6 .08 .6 .62 .6-.1 .6-.46 .6-.79 .6 .6 .6-.09 .6 .98 .6-.5 .6-.44 .6-.07 .6 .64 .6-1.07 .6 1.15 .6-.24 .6-.38 .6 .44 .6-.5 .6-.41 .6 .43 .6-.59 .6 .06 .6 .56 .6 .62 .6-1 .6 .47 .6 .77 .6-.25 .6 .12 .6-.37 .6-.14 .6-.01 .6 .02 .6-.22 .6-.17 .6-.2 .6-.29 .6 .49 .6 .65 .6-.36 .6-.63 .6 1.05 .6-1.26 .6 1.45 .6-.46 .6-.16 .6-.24 .6 .67 .6-1.33 .6 .01 .6 .82 .6-.37 .6 .17 .6 .21 .6-.81 .6 1.54 .6-.51 .6-.95 .6 1.05 .6-.34 .6 .25 .6 .08 .6 .41 .6-1.44 .6 1.44 .6-.86 .6-.45 .6 .28 .6-.02 .6 .87 .6-.61 .6-.76 .6 1.06 .6-.36 .6 .52 .6-1.27 .6 1.35 .6 .04 .6-1.47 .6 .78 .6-.6 .6 .68 .6-.74 .6 1.32 .6-1.17 .6 .81 .6-.03 .6-.56 .6-.18 .6 1.16 .6-1.46 .6 .36 .6 .11 .6 .43 .6-.36 .6-.43 .6 .76 .6 .25 .6-.03 .6-.36 .6-.31 .6-.5 .6 .87 .6 .16 .6-.32 .6 .87 .6-1.28 .6 1.03 .6-.16 .6 .3 .6 .04 .6-1.16 .6 1.15 .6-.88 .6 .47 .6 .46 .6-.61 .6-.02 .6-.87 .6 .89 .6-.61 .6 .25 .6-.02 .6 1.01 .6-.57 .6 .15 .6-.94 .6 .22 .6 .97 .6-1.29 .6 1.42 .6-.9 .6-.06 .6 .21 .6-.13 .6 .05 .6-.08 .6 .47 .6-.73 .6-.18 .6 .45 .6-.59 .6 .61 .6 .08 .6 .5 .6-1.16 .6 .49 .6 .66 .6-.76 .6 .86 .6-.2 .6-1.17 .6 .59 .6 .66 .6-.41 .6 .25 .6 .55 .6-.55 .6-.22 .6 .52 .6-.72 .6-.73 .6 .46 .6 .55 .6 .62 .6-.59 .6-.56 .6 1.23 .6-1.03 .6-.3 .6 .56 .6-.36 .6-.41 .6 1.05 .6-.04 .6 .49 .6-1.45 .6 1.35 .6-.2 .6-.95 .6 .39 .6 .27 .6-.55 .6-.37 .6 1.28 .6-1.18 .6 .57 .6-.09 .6 .82 .6-.61 .6-.23 .6 .97 .6-1.1 .6 .66 .6-.87 .6 .92 .6-.01 .6 .14 .6-.61 .6-.46 .6 .72 .6 .49 .6-1.06 .6-.51 .6 .29 .6 1.33 .6-1.64 .6 .08 .6 .08 .6 1.4 .6-.9 .6 .55 .6 .03 .6-.49 .6 .53 .6-.48 .6 .14 .6-.41 .6-.55 .6 1.06 .6-.59 .6 .02 .6 1.08 .6-.93 .6-.46 .6 .94 .6-.16 .6-.86 .6 .52 .6 .47 .6-.59 .6 1.26 .6-.33 .6-.53 .6 .73 .6-1.57 .6 .34 .6 1.23 .6-.72 .6-.61 .6 .72 .6 .28 .6-.22 .6-1.01 .6-.01 .6 .66 .6-.7 .6 .12 .6 1.01 .6-.37 .6-.64 .6 1.43 .6-.92 .6 .93 .6-.49 .6 .02 .6-.36 .6 .45 .6-.78 .6 .03 .6 1.12 .6-1.22 .6 .33 .6 .65 .6-.75 .6 .07 .6 .98 .6-1.27 .6 .06 .6 1.18 .6-1.12 .6 .1 .6 1.01 .6-1.03 .6 1.24 .6-.32 .6 .04 .6-1.13 .6-.02 .6 .98 .6 .14 .6-1.11 .6-.03 .6 .07 .6-.2 .6 .53 .6 .15 .6 .23 .6-1.06 .6 .25 .6-.14 .6 .29 .6-.16 .6 1.38 .6-1.03 .6-.44 .6 .98 .6 .56 .6-.33 .6-.27 .6-.5 .6 .05 .6-.19 .6 .94 .6-.01 .6-.58 .6 .69 .6-.39 .6 .06 .6-.77 .6-.05 .6-.03 .6 1.28 .6-.21 .6 .18 .6-.14 .6-.03 .6-.69 .6 .62 .6-1.12 .6 .91 .6-1.14 .6 1.72 .6-.16 .6-1.34 .6 1.13 .6 .11 .6-1.47 .6 .98 .6-.27 .6 .37 .6 .51 .6-.31 .6-.96 .6 .64 .6 .02 .6-1.04 .6 .23 .6 .43 .6-.35 .6 .11 .6 .83 .6 .54 .6-.95 .6 .36 .6 .21 .6-.16 .6-.03 .6-1.24 .6 1.64 .6-1.34 .6 .03 .6 .63 .6 .14 .6 .32 .6-.87 .6 1.24 .6-.61 .6 .41 .6-.69 .6-.77 .6-.12 .6 1.2 .6-.41 .6 .03 .6-.22 .6-.28 .6 .56 .6-.42 .6 1.22 .6-1.36 .6 1.5 .6-.21 .6-.9 .6 .74 .6-.37 .6-.21 .6 .65 .6 .04 .6-1.2 .6 1.34 .6-1.66 .6-.05 .6 .91 .6-.35 .6 .23 .6 .11 .6-.02 .6 .83 .6 .02 .6-1.08 .6-.11 .6 .69 .6-.86 .6 .38 .6 .6 .6-1.35 .6 1.46 .6-.08 .6-.65 .6-.27 .6 .56 .6-.47 .6 1 .6-.44 .6-.54 .6 .95 .6-.38 .6-.9 .6 .54 .6 .14 .6 .87 .6-1.19 .6 .24 .6 1.01 .6-1.05 .6 .76 .6-1.39 .6 .57 .6-.4 .6 1.33 .6-.63 .6-.63 .6-.24 .6 .62 .6-.62 .6 .74 .6 .46 .6-.79 .6-.27 .6 .37 .6-.37 .6 1.28 .6-1.42 .6 1.23 .6-.78 .6 .75 .6 .08 .6-1.2 .6 1.18 .6 .36 .6-.72 .6 .15 .6-.62 .6-.28 .6 1.08 .6 .15 .6-1.17 .6-.17 .6 .45 .6 .52 .6-.5 .6 1.14 .6-.33 .6 .24 .6-.6 .6 .3 .6 .37 .6-1.74 .6 1.02 .6-.73 .6 1.15 .6-1.07 .6 .97 .6-.78 .6 .61 .6 .05 .6 .44 .6-.07 .6-.83 .6 .48 .6-.96 .6-.16 .6 1.17 .6 .36 .6-.3 .6-.44 .6 .22 .6 .19 .6-.31 .6-.39 .6 .93 .6-.92 .6 1.02 .6-.2 .6-.01 .6 .07 .6 .29 .6 .01 .6-.93 .6-.23 .6 .67 .6 .45 .6-.64 .6-1.15 .6 .02 .6 .81 .6 .62 .6 .19 .6-.98 .6 .27 .6-.01 .6-.79 .6-.18 .6 .99 .6-.03 .6 .68 .6-1.29 .6 1.27 .6-1.1 .6 .5 .6 .32 .6-1.06 .6 1.52 .6 .02 .6 .02 .6-1.84 .6 1.22 .6 .06 .6 .39 .6-1.29 .6-.14 .6 1.3 .6-1.04 .6-.37 .6 .04 .6 1.06 .6-.21 .6 .4 .6 .11 .6-1.52 .6 1.76 .6-.1 .6 .1 .6-.31 .6-.73 .6-.26 .6 1.26 .6-.93 .6 .13 .6 .4 .6-.02 .6 .01 .6-.14 .6-.21 .6 .49 .6-.71 .6-.25 .6 1.23 .6-.12 .6-.25 .6-1.04 .6-.23 .6 1.66 .6 .04 .6-1.27 .6 .68 .6-1.17 .6 .72 .6 .59 .6-.65 .6 .84 .6 .2 .6-1.47 .6 1.05 .6-.6 .6-.38 .6 .33 .6 .26 .6 .78 .6-.25 .6-1.44 .6 .1 .6 1.78 .6-.83 .6 .1 .6-.49 .6 .91 .6-.52 .6 .07 .6-.66 .6 1.01 .6-1.07 .6-.15 .6 .88 .6 .44 .6-1.02 .6 .01 .6-.29 .6 .87 .6 .31 .6-1.22 .6 .78 .6 .01 .6-.83 .6 .81 .6-.49 .6-.14 .6 1.49 .6-1.7 .6 .48 .6 .53 .6-.41 .6-.74 .6 1.62 .6-1.2 .6 .33 .6 .95 .6 .11 .6-.1 .6-.96 .6 .63 .6 .2 .6-1.24 .6 1.47 .6-1.65 .6 1.06 .6-.8 .6-.04 .6-.15 .6 1.53 .6-1.55 .6 1.49 .6-1.42 .6 .32 .6-.23 .6 1.48 .6-1.7 .6 1.46 .6-1.07 .6 1.24 .6-.38 .6-.93 .6 .47 .6-.66 .6 .46 .6-.72 .6 1.25 .6-.17 .6-.61 .6-.49 .6 1.75 .6-1.54 .6 .38 .6-.57 .6 .68 .6 .03 .6 .25 .6-.4 .6-.14 .6 1.02 .6-.96 .6 .1 .6 .3 .6-.41 .6 .86 .6-1.22 .6 .45 .6 .19 .6-.31 .6 1.11 .6-.93 .6 .13 .6 .09 .6 .69 .6-1.16 .6 1.15 .6 .23 .6-1.29 .6-.19 .6 1.18 .6-.91 .6-.16 .6-.28 .6 1.02 .6 .61 .6-.11 .6-.55 .6-.29 .6 1.03 .6-.61 .6 .57 .6-.51 .6 .01 .6 .01 .6-1.09 .6 .24 .6-.35 .6 1.64 .6 .12 .6-.74 .6-.85 .6-.06 .6 .61 .6-.11 .6-.37 .6-.2 .6 1.06 .6 .28 .6-1.39 .6 .47 .6-.02 .6 .46 .6 .12 .6-.37 .6 .87 .6-.91 .6-.16 .6 .88 .6 .14 .6 .07 .6-1.35 .6 .05 .6 .51 .6 .96 .6-.66 .6 0 .6-.56 .6 1.26 .6-1.53 .6 .71 .6 .22 .6 .26 .6 .01 .6-.82 .6-.22 .6 1.35 .6-.81 .6-.51 .6-.28 .6 1.27 .6 .08 .6-.53 .6-.35 .6 .52 .6 .61 .6-.76 .6 .4" fill="none" stroke="#ffffff" stroke-width="0.45" stroke-linejoin="round" stroke-opacity="0.5"/>
<path d="M130.50 211.50l.5 .11 .5-.19 .5-.22 .5 .28 .5 .05 .5 .04 .5-.53 .5-.07 .5 .27 .5 .06 .5-.51 .5 .25 .5-.28 .5 .35 .5-.48 .5-.27 .5 .3 .5-.43 .5-.08 .5-.34 .5-.06 .5-.31 .5-.14 .5-.04 .5-.41 .5-.03 .5-.13 .5-.48 .5-.63 .5 .25 .5-.78 .5-.24 .5-.24 .5-.29 .5-.53 .5-.3 .5-.26 .5-.48 .5-.48 .5-.31 .5-.4 .5-.45 .5-.21 .5-.44 .5-.46 .5-.22 .5-.33 .5-.5 .5-.59 .5-.04 .5-.9 .5 .01 .5-.63 .5-.42 .5-.13 .5-.51 .5-.21 .5-.45 .5-.84 .5-.15 .5-.23 .5-.78 .5-.1 .5-.1 .5-.81 .5-.44 .5-.25 .5-.32 .5-.39 .5-.26 .5-.11 .5-.53 .5-.3 .5-.63 .5-.36 .5 .2 .5-.69 .5 .03 .5-.68 .5-.14 .5-.29 .5-.65 .5-.32 .5-.07 .5-.49 .5-.19 .5-.35 .5-.21 .5-.2 .5-.36 .5-.26 .5-.17 .5-.14 .5-.64 .5 .32 .5-.59 .5 .06 .5-.78 .5-.19 .5-.2 .5 .27 .5-.5 .5 .05 .5-.28 .5-.56 .5-.02 .5-.2 .5-.1 .5 .01 .5-.57 .5 .35 .5-.43 .5-.21 .5 .05 .5-.39 .5 .12 .5-.31 .5-.09 .5-.29 .5-.11 .5 .28 .5-.28 .5-.2 .5 .11 .5-.02 .5-.54 .5 .41 .5-.67 .5 .28 .5-.29 .5-.08 .5 .08 .5 0 .5-.17 .5 .11 .5 .09 .5-.51 .5 0 .5 .19 .5-.16 .5-.08 .5 .1 .5 .1 .5 .11 .5 .02 .5-.08 .5-.28 .5 .33 .5-.1 .5-.3 .5 .48 .5-.4 .5 .29 .5 .04 .5 .17 .5-.1 .5 .25 .5-.49 .5 .06 .5 .17 .5 .32 .5 0 .5-.1 .5 .17 .5 .34 .5 .01 .5 .33 .5-.06 .5 .37 .5 .05 .5-.03 .5 .05 .5 .04 .5 .18 .5 .18 .5 .14 .5 .03 .5 .33 .5-.08 .5 .61 .5-.04 .5-.12 .5 .29 .5 .11 .5 .1 .5 .35 .5-.02 .5 .14 .5 .49 .5 0 .5 .31 .5 .04 .5 .19 .5 .04 .5 .24 .5 .19 .5 .09 .5 .45 .5-.19 .5 .15 .5 .24 .5 .42 .5 .2 .5-.01 .5 .04 .5 .33 .5 .27 .5-.19 .5 .41 .5 .18 .5-.03 .5 .01 .5 .44 .5-.08 .5 .26 .5 .27 .5 .42 .5-.32 .5 .12 .5 .45 .5 .41 .5-.37 .5 .53 .5-.19 .5 .48 .5-.09 .5 .5 .5-.01 .5 .35 .5-.07 .5 .06 .5 .23 .5 .22 .5 .09 .5 .18 .5 .37 .5 .09 .5 .39 .5-.05 .5 .17 .5 .25 .5 .22 .5-.03 .5-.2 .5 .38 .5-.13 .5 .46 .5-.21 .5 .39 .5-.13 .5 .52 .5-.36 .5 .43 .5 .11 .5-.17 .5 .27 .5-.08 .5 .04 .5 .07 .5-.07 .5 .47 .5-.29 .5 .14 .5 .01 .5 .5 .5-.1 .5 .03 .5 .14 .5 .2 .5-.05 .5 0 .5-.05 .5 .18 .5 .34 .5-.18 .5 0 .5 .31 .5-.45 .5 .07 .5 .49 .5 .14 .5-.48 .5 .04 .5 .04 .5 .39 .5-.21 .5 .3 .5 .1 .5-.34 .5 .55 .5-.32 .5 .22 .5-.09 .5 .03 .5 .07 .5-.2 .5 .28 .5-.07 .5 .09 .5-.1 .5 .13 .5 .24 .5 .19 .5-.45 .5 .41 .5-.13 .5-.3 .5-.04 .5 .53 .5-.39 .5-.07 .5 .33 .5 .03 .5 .11 .5-.24 .5-.12 .5-.01 .5-.07 .5 .24 .5 .17 .5-.52 .5 .16 .5-.04 .5-.18 .5 .29 .5 .21 .5-.45 .5 .25 .5 .08 .5-.4 .5 .36 .5-.13 .5-.1 .5-.3 .5 .02 .5-.14 .5 .45 .5-.09 .5-.47 .5 .23 .5-.23 .5 .3 .5-.16 .5 .19 .5-.17 .5-.42 .5 .12 .5 .08 .5 .16 .5-.36 .5-.15 .5 .01 .5-.06 .5-.1 .5 .07 .5-.1 .5 .11 .5 .19 .5-.01 .5-.52 .5 .2 .5 .02 .5-.36 .5 .19 .5-.25 .5 .06 .5-.07 .5 .25 .5-.39 .5 .14 .5-.01 .5-.19 .5 .31 .5-.39 .5-.05 .5 .18 .5-.16 .5 .11 .5-.38 .5-.04 .5 .31 .5-.24 .5 .24 .5-.4 .5-.04 .5 .34 .5-.33 .5-.19 .5 .04 .5 .29 .5-.34 .5 .14 .5 .14 .5-.17 .5 .05 .5 .09 .5-.44 .5 .31 .5-.23 .5-.25 .5-.07 .5 .08 .5-.15 .5 .35 .5-.17 .5-.34 .5 .47 .5-.2 .5-.12 .5-.21 .5 .18 .5 .24 .5-.22 .5-.1 .5 .07 .5-.05 .5 .03 .5-.27 .5-.04 .5-.08 .5 .48 .5-.5" fill="none" stroke="#d95319" stroke-width="2.4" stroke-linejoin="round" />
<path d="M341.00 192.24l.35 .26 .35-.07 .35 .32 .35-.55 .35-.08 .35 .04 .35 .27 .35-.16 .35 .14 .35 .19 .35-.28 .35 .28 .35-.51 .35 .43 .35 .3 .35 .04 .35-.28 .35 .34 .35-.59 .35 .07 .35 .13 .35 .06 .35 .27 .35-.28 .35-.31 .35 .54 .35-.36 .35 .55 .35-.52 .35 .08 .35-.11 .35 .16 .35 .26 .35-.25 .35-.16 .35 .46 .35 .14 .35-.48 .35 .27 .35-.26 .35-.02 .35 .31 .35-.05 .35 .5 .35-.67 .35 .53 .35 .09 .35-.23 .35 .09 .35-.18 .35 .03 .35-.14 .35 .72 .35-.69 .35 .11 .35 .5 .35-.19 .35 .07 .35-.16 .35-.08 .35 .54 .35-.52 .35 .16 .35 .39 .35-.34 .35 .55 .35-.61 .35 .31 .35 .03 .35 0 .35 .24 .35-.56 .35 .43 .35 .22 .35-.58 .35 .43 .35-.06 .35-.01 .35 .14 .35 .09 .35 .1 .35 .18 .35-.17 .35 .31 .35-.25 .35-.29 .35-.07 .35-.04 .35 .19 .35-.09 .35 .49 .35 .03 .35-.03 .35-.16 .35 .09 .35-.13 .35 .56 .35-.7 .35 .28 .35 .23 .35-.29 .35 .58 .35-.28 .35-.05 .35-.23 .35 .21 .35 .28 .35-.22 .35-.16 .35 .46 .35-.19 .35 .47 .35-.1 .35 .05 .35 .17 .35-.04 .35-.36 .35 .22 .35-.23 .35-.02 .35 .03 .35-.05 .35 .13 .35 .02 .35 .39 .35-.32 .35-.14 .35 .33 .35-.16 .35 .43 .35-.36 .35 .29 .35-.29 .35 .28 .35 .33 .35-.44 .35 .21 .35-.06 .35-.28 .35-.02 .35 .69 .35-.39 .35 .31 .35-.21 .35 .37 .35-.51 .35 .26 .35 .07 .35 .22 .35-.61 .35 .29 .35 .11 .35 .11 .35-.34 .35 .34 .35 .15 .35 .05 .35-.4 .35 .19 .35-.1 .35 .1 .35-.01 .35 .5 .35-.75 .35 .79 .35-.74 .35 .06 .35 .12 .35 .08 .35 .49 .35 0 .35 .1 .35-.44 .35-.29 .35 .52 .35 .24 .35-.64 .35 .61 .35-.67 .35 .62 .35-.19 .35 .36 .35-.02 .35-.67 .35 .39 .35-.2 .35 .17 .35-.3 .35 .25 .35 .05 .35-.32 .35 .4 .35 .35 .35-.68 .35 .74 .35-.37 .35-.23 .35 .63 .35-.4 .35-.03 .35-.04 .35 .42 .35-.62 .35 .07 .35 .06 .35-.18 .35 .65 .35-.3 .35 .1 .35 .23 .35-.32 .35-.19 .35 .22 .35-.03 .35-.17 .35-.06 .35 .11 .35 .31 .35-.48 .35 .69 .35-.63 .35 .02 .35-.12 .35 .22 .35-.02 .35 .25 .35 .18 .35-.55 .35 .47 .35-.42 .35 .08 .35-.24 .35 .63 .35-.43 .35 .26 .35-.56 .35 .55 .35-.39 .35 .18 .35 .18 .35-.42 .35 .29 .35 .25 .35-.57 .35 .25 .35-.24 .35-.04 .35 .29 .35-.04 .35 .15 .35 .18 .35-.14 .35-.31 .35 .12 .35 .15 .35 .13 .35-.13 .35-.16 .35-.32 .35 .61 .35-.49 .35 .09 .35 .4 .35-.58 .35 .59 .35-.58 .35-.12 .35 .35 .35 .23 .35-.34 .35 .36 .35-.38 .35 .35 .35-.6 .35 .14 .35-.14 .35 .51 .35-.23 .35 .15 .35-.36 .35 .41 .35 .21 .35-.77 .35 .19 .35 .46 .35-.02 .35 .01 .35-.55 .35 .28 .35-.41 .35 .29 .35 .11 .35-.27 .35 .13 .35-.05 .35-.24 .35-.02 .35 .59 .35-.66 .35 .83 .35-.08 .35 .07 .35-.18 .35-.66 .35 .09 .35 .16 .35-.12 .35-.1 .35 .71 .35-.01 .35-.12 .35-.44 .35 .5 .35-.03 .35-.42 .35-.17 .35 0 .35 .22 .35 .36 .35-.65 .35 .3 .35-.07 .35 .45 .35-.63 .35 .42 .35-.28 .35 .27 .35 .14 .35 0 .35 .01 .35-.47 .35-.02 .35-.14 .35 .11 .35-.12 .35 .56 .35-.63 .35 .12 .35 .5 .35-.02 .35 .17 .35-.51 .35-.29 .35 .64 .35-.44 .35 .41 .35-.65 .35 .01 .35 .47 .35 .07 .35-.11 .35-.03 .35 .05 .35-.4 .35-.06 .35 .24 .35 .16 .35-.26 .35-.06 .35 .22 .35-.04 .35-.12 .35 .56 .35 .01 .35-.77 .35 .36 .35-.21 .35 .08 .35-.27 .35 .04 .35-.04 .35 .07 .35 .44 .35-.49 .35 .69 .35-.08 .35-.46 .35 .36 .35 .22 .35-.72 .35 .37 .35-.08 .35-.14 .35-.02 .35-.18 .35 .48 .35-.39 .35 .19 .35 .42 .35-.5 .35-.03 .35 .53 .35-.31 .35-.01 .35-.3 .35 .35 .35-.23 .35 .14 .35-.13 .35-.27 .35 .68 .35-.17 .35 .23 .35-.57 .35-.02 .35-.13 .35 .14 .35 .02 .35-.13 .35 .07 .35 .02 .35 .48 .35-.35 .35 .31 .35-.66 .35 .12 .35 .65 .35-.78 .35 .02 .35 .38 .35-.2 .35-.08 .35 .35 .35 0 .35-.37 .35 .3 .35-.07 .35 .33 .35-.67 .35 .14 .35 .29 .35-.46 .35 .7 .35 .1 .35-.55 .35 .38 .35-.46 .35 .61 .35-.64 .35-.18 .35 .05 .35 .34 .35-.36 .35 .81 .35-.3 .35-.06 .35 .05 .35-.18 .35 .41 .35-.15 .35-.25 .35-.12 .35-.13 .35 .15 .35 .04 .35-.24 .35 .73 .35-.58 .35 .25 .35-.41 .35 .42 .35 .08 .35-.49 .35 .78 .35-.7 .35 .09 .35 .41 .35-.35 .35 .47 .35-.55 .35 .07 .35 .33 .35 .15 .35 .02 .35-.52 .35 .22 .35-.11 .35 .24 .35-.39 .35 .53 .35-.1 .35-.47 .35 .12 .35 .03 .35 .52 .35-.41 .35 .14 .35 .28 .35-.47 .35 .49 .35-.57 .35-.24 .35 .08 .35 .52 .35-.27 .35 .4 .35-.26 .35 .14 .35-.29 .35 .21 .35 .1 .35-.28 .35 .1 .35 .32 .35 .08 .35-.51 .35-.24 .35 .68 .35-.34 .35 .46 .35-.18 .35-.34 .35 .43 .35-.26 .35 .15 .35 .15 .35-.26 .35 .33 .35-.48 .35-.01 .35 .23 .35-.2 .35 .27 .35-.15 .35 .19 .35 .08 .35-.22 .35 .31 .35-.12 .35 .08 .35-.73 .35 0 .35 .55 .35-.26 .35 .48 .35-.42 .35 .31 .35-.43 .35 .34 .35 .25 .35-.03 .35-.43 .35 .1 .35 .06 .35-.17 .35 .13 .35 .43 .35-.07 .35-.49 .35 .33 .35 .24 .35-.51 .35 .43 .35-.04 .35 .08 .35-.7 .35 .75 .35 .05 .35-.64 .35 .35 .35-.48 .35 .46 .35 .1 .35 .04 .35 .1 .35-.49 .35-.15 .35 .62 .35-.69 .35 .19 .35 .01 .35 .48 .35-.29 .35 .35 .35-.14 .35 .16 .35-.05 .35 .09 .35-.53 .35 .08 .35 .24 .35-.03 .35 .18 .35 .03 .35-.44 .35-.16 .35 .56 .35-.05 .35-.36 .35-.19 .35-.02 .35 .2 .35 .03 .35-.05 .35-.14 .35 .11 .35 .17 .35-.23 .35 .11 .35 .21 .35 .37 .35 .02 .35-.41 .35-.24 .35 .13 .35 .37 .35-.24 .35 .15 .35 .15 .35-.06 .35 .18 .35-.68 .35 .19 .35-.23 .35 .44 .35 .09 .35-.32 .35-.17 .35 .36 .35-.26 .35 .03 .35 .17 .35 .51 .35-.52 .35 .31 .35-.29 .35 .03 .35-.23 .35 .04 .35 .53 .35-.3 .35-.13 .35 .63 .35-.09 .35-.55 .35 .16 .35 .12 .35-.35 .35 .23 .35-.12 .35 .47 .35-.63 .35 .8 .35-.67 .35 .09 .35-.22 .35 .75 .35-.07 .35-.68 .35 .42 .35-.12 .35 .19 .35-.23 .35 .56 .35-.66 .35 .54 .35-.49 .35 .35 .35-.2 .35 .09 .35 .01 .35 .09 .35-.49 .35-.01 .35 .82 .35-.64 .35 .1 .35-.1 .35 .37 .35 .3 .35-.51 .35-.07 .35 .03 .35-.29 .35 .06 .35-.03 .35 .25 .35 .59 .35-.75 .35 .37 .35-.3 .35-.15 .35 .72 .35-.64 .35 .02 .35 .61 .35-.51 .35-.04 .35 .67 .35-.67 .35 .58 .35-.47 .35 .24 .35-.23 .35 .03 .35 .54 .35-.02 .35-.66 .35 .5 .35-.53 .35 .15 .35-.21 .35 .53 .35 .07 .35 .02 .35 .03 .35-.35 .35-.19 .35-.15 .35 .39 .35 .45 .35-.44 .35 .15 .35 .28 .35-.05 .35-.11 .35-.13 .35-.33 .35 .47 .35-.3 .35 .26 .35-.43 .35 .65 .35-.71 .35 .57 .35 .09 .35-.67 .35 .65 .35-.2 .35-.04 .35-.31 .35 .06 .35-.08 .35 .19 .35 .18 .35 .08 .35-.03 .35-.32 .35-.01 .35 .39 .35 .19 .35-.69 .35 .18 .35-.13 .35 .64 .35-.88 .35 .8 .35-.11 .35-.4 .35 .32 .35-.29 .35 .25 .35-.2 .35 .45 .35-.42 .35 .32 .35-.21 .35-.19 .35 .54 .35-.7 .35 .65 .35 .06 .35-.12 .35-.22 .35 .01 .35 .28 .35-.45 .35 .35 .35-.04 .35 .07 .35-.38 .35 .19 .35-.51 .35-.02 .35 .03 .35 .57 .35-.34 .35 .5 .35-.76 .35 .09 .35 .6 .35-.38 .35-.18 .35 .51 .35-.5 .35 .67 .35-.64 .35 .53 .35-.34 .35 .41 .35-.59 .35 .58 .35-.57 .35 .13 .35 .17 .35-.08 .35 .11 .35 .02 .35-.39 .35-.24 .35 .65 .35-.11 .35-.04 .35-.06 .35 .39 .35-.58 .35 .57 .35-.69 .35 .48 .35 .23 .35-.73 .35 .57 .35-.46 .35-.2 .35 .34 .35 .25 .35-.39 .35 .61 .35-.87 .35 .24 .35 .07 .35 .02 .35-.06 .35-.26 .35 .17 .35 .05 .35 .37 .35-.27 .35 .31 .35-.25 .35-.1 .35-.17 .35 .06 .35 .62 .35-.41 .35-.13 .35-.09 .35 .6 .35-.16 .35-.01 .35 .1 .35-.52 .35 .45 .35-.61 .35 .54 .35-.32 .35 .32 .35-.41 .35 .12 .35 .29 .35 .24 .35-.55 .35-.16 .35-.04 .35 .5 .35 .2 .35-.81 .35 .3 .35-.16 .35 .72 .35-.76 .35-.06 .35 .64 .35 .22 .35-.22 .35-.61 .35 .27 .35 .1 .35 .35 .35-.13 .35-.65 .35 .36 .35 .3 .35-.22 .35 .12 .35 .27 .35 .01 .35-.13 .35-.25 .35-.25 .35-.14 .35 .01 .35 .44 .35 .12 .35 .07 .35 .05 .35-.58 .35 .04 .35-.13 .35 .32 .35 .37 .35-.17 .35-.3 .35-.26 .35 .63 .35 .05 .35-.12 .35-.45 .35 .09 .35 .18 .35 .31 .35-.63 .35 .16 .35-.34 .35-.05 .35 .22 .35 .53 .35-.13 .35-.19 .35-.06 .35-.14 .35 .47 .35-.26 .35-.4 .35 .52 .35 .34 .35-.86 .35 .86 .35-.84 .35 .19 .35 .63 .35-.01 .35-.74 .35 .5 .35-.1 .35-.2 .35 .36 .35-.14 .35-.39 .35 .25 .35 .2 .35-.08 .35-.08 .35 .18 .35-.56 .35-.09 .35-.01 .35 .55 .35-.18 .35 .37 .35 .13 .35-.81 .35 .25 .35 .04 .35 .12 .35 .33 .35-.29 .35-.28 .35 .34 .35-.32 .35 .21 .35-.43 .35 .44 .35-.08 .35 .15 .35-.07 .35 0 .35 .16 .35-.57 .35 .58 .35-.13 .35 .06 .35-.27 .35-.3 .35 .79 .35-.09 .35 .14 .35-.49 .35 .4 .35-.01 .35-.31 .35 .33 .35-.08 .35-.67 .35 .03 .35 .25 .35 .12 .35 .11 .35-.08 .35 .29 .35-.07 .35-.66 .35 .22 .35 .52 .35-.13 .35-.7 .35 .58 .35-.47 .35 .35 .35 .46 .35-.87 .35 .71 .35-.32 .35 .47 .35-.12 .35-.75 .35 .55 .35 .2 .35-.55 .35 .4 .35-.42 .35-.05 .35 .12 .35-.04 .35 .63 .35-.69 .35 .18 .35 .06 .35 .2 .35 .26 .35-.34 .35 .23 .35-.69 .35 .51 .35-.47 .35 .66 .35-.26 .35-.43 .35 .67 .35-.31 .35-.03 .35-.39 .35 .79 .35-.38 .35 .34 .35-.75 .35 .57 .35-.29 .35 .15 .35 .09 .35 .19 .35 .09 .35-.72 .35 .66 .35-.7 .35-.11 .35 .28 .35-.01 .35 .46 .35-.2 .35-.17 .35 .39 .35 .13 .35-.28 .35 .02 .35 .19 .35-.54 .35 .67 .35-.78 .35-.12 .35 .74 .35-.62 .35 .15 .35 .17 .35-.38 .35 .3 .35-.07 .35-.26 .35 .5 .35-.15 .35-.27 .35 .59 .35-.36 .35-.36 .35 .81 .35-.45 .35-.3 .35 .19 .35-.03 .35-.21 .35 .28 .35-.16 .35 .05 .35 .44 .35-.5 .35-.13 .35 .15 .35 .11 .35-.12 .35 .41 .35 .27 .35-.04 .35-.35 .35 .3 .35 .01 .35-.15 .35 .16 .35-.41 .35 .36 .35-.22 .35 .21 .35 0 .35-.65 .35 .74 .35-.77 .35 .38 .35 .16 .35 .22 .35-.73 .35 .58 .35-.31 .35-.29 .35 .28 .35 .3 .35-.54 .35 .73 .35-.77 .35 .19 .35 .09 .35-.26 .35 .83 .35 .04 .35-.06 .35-.68 .35 .61 .35-.48 .35-.04 .35 .38 .35-.58 .35-.08 .35 .9 .35-.56 .35 .42 .35-.35 .35-.32 .35 .37 .35-.3 .35-.08 .35-.06 .35 .36 .35-.13 .35 .07 .35 .61 .35-.13 .35-.12 .35-.45 .35 .49 .35-.05 .35-.16 .35-.28 .35-.03 .35 .2 .35-.14 .35 .59 .35-.4 .35 .2 .35 .21 .35-.26 .35-.45 .35 .16 .35 .58 .35-.85 .35 .17 .35 .38 .35 .23 .35-.03 .35-.09 .35-.02 .35-.32 .35-.3 .35 .55 .35-.54 .35 .7 .35-.65 .35-.1 .35 .94 .35-.8 .35 .4 .35-.51 .35 .9 .35-.94 .35 .65 .35 .15 .35-.53 .35-.28 .35 .03 .35 .02 .35 .68 .35-.22 .35 .36 .35-.26 .35-.04 .35-.38 .35 .02 .35 .74 .35-.03 .35-.5 .35 .35 .35-.08 .35-.43 .35-.07 .35 .53 .35 .21 .35 .02 .35-.61 .35-.28 .35 .24 .35-.24 .35 .9 .35-.67 .35 .53 .35-.59 .35 .7 .35-.46 .35 .34 .35-.23 .35 .16 .35-.68 .35 .02 .35 .26 .35 .51 .35 .03 .35-.19 .35-.11 .35-.54 .35 .86 .35-.26 .35-.05 .35 .22 .35-.59 .35 .38 .35 .06 .35 .07 .35-.65 .35 .62 .35 .17 .35-.26 .35-.45 .35 .73 .35-.8 .35 .13 .35 .61 .35-.26 .35-.25 .35 .46 .35-.16 .35-.51 .35 .11 .35 .56 .35 .01 .35-.73 .35 .44 .35 .19 .35-.38 .35-.26 .35 .35 .35 .51 .35-.2 .35-.51 .35 .62 .35-.18 .35-.37 .35-.02 .35-.09 .35 .23 .35-.05 .35-.07 .35 .58 .35-.11 .35-.27 .35 .47 .35-.29 .35 .27 .35-.12 .35-.19 .35 .06 .35 .08 .35-.02 .35 .12 .35-.53 .35 .03 .35-.12 .35 .67 .35-.02 .35-.46 .35-.04 .35-.26 .35 .83 .35-.3 .35 .29 .35-.33 .35-.12 .35 .24 .35 .13 .35-.04 .35-.49 .35 .16 .35 .43 .35-.43 .35 .29 .35-.28 .35 .31 .35-.76 .35-.06 .35 .09 .35 .34 .35-.07 .35 .58 .35 .04 .35-.85 .35 .69 .35-.32 .35 .33 .35-.47 .35 .4 .35-.76 .35 .46 .35-.14 .35-.08 .35 .05 .35 .12 .35 .08 .35 .02 .35 .21 .35 .09 .35 .14 .35-.29 .35-.41 .35 .32 .35-.14 .35-.2 .35 .09 .35-.1 .35 .31 .35-.47 .35 .47 .35-.13 .35-.4 .35 .27 .35 .69 .35-.39 .35-.51 .35 .51 .35 .12 .35-.56 .35 .26 .35-.18 .35 .32 .35 .28 .35-.58 .35-.1 .35 0 .35 .47 .35-.54 .35 .46 .35 .28 .35-.04 .35-.1 .35-.66 .35 .42 .35-.19 .35 .28 .35-.37 .35-.01 .35 .81 .35-.07 .35-.78 .35 .73 .35-.76 .35 .27 .35 .65 .35-.05 .35-.47 .35 .23 .35-.32 .35 .47 .35-.53 .35-.11 .35-.07 .35 .49 .35-.07 .35 .34 .35-.75 .35 .65 .35 .14 .35-.19 .35-.63 .35 .03 .35-.06 .35 .24 .35 .43 .35-.62 .35 .31 .35-.41 .35 .64 .35-.58 .35 .69 .35-.18 .35-.42 .35 .51 .35-.35 .35 .17 .35 .04 .35-.29 .35 .15 .35 .37 .35 .07 .35-.01 .35-.28 .35 .3 .35-.73 .35 .84 .35-.93 .35 .85 .35-.11 .35-.4 .35 .4 .35 .17 .35-.8 .35 .49 .35-.65 .35 .66 .35-.6 .35 .61 .35-.64 .35 .37 .35 .47 .35-.56 .35 .66 .35-.5 .35-.29 .35 .76 .35-.78 .35 .43 .35 .35 .35 0 .35-.38 .35-.35 .35 .29 .35-.21 .35 .02 .35 .01 .35-.12 .35-.16 .35 .71 .35-.74 .35 .56 .35-.2 .35 .28 .35-.07 .35-.1 .35 .3 .35-.21 .35 .33 .35-.31 .35 .29 .35-.02 .35-.15 .35-.38 .35 .16 .35-.41 .35 .65 .35-.08 .35 .17 .35-.74 .35 .05 .35 .52 .35 .08 .35-.66 .35-.04 .35 .29 .35 .02 .35-.29 .35 .05 .35 .1 .35-.19 .35 .14 .35-.12 .35 .34 .35 .38 .35-.09 .35-.06 .35-.13 .35-.28 .35-.14 .35 .14 .35 .76 .35-.14 .35-.24 .35 .04 .35 .14 .35 .07 .35-.58 .35 .56 .35-.15 .35-.37 .35 .01 .35-.12 .35 .38 .35 .42 .35-.18 .35-.62 .35-.05 .35 .16 .35-.12 .35-.02 .35 .59 .35-.42 .35 .26 .35-.25 .35 .66 .35-.39 .35-.45 .35 .64 .35-.49 .35 .17 .35-.17 .35 .2 .35-.18 .35 .01 .35-.16 .35 .8 .35-.75 .35 .07 .35 .13 .35-.29 .35 .11 .35 .18 .35 .17 .35-.04 .35-.17 .35 .31 .35 .07 .35-.48 .35-.03 .35 .39 .35-.22 .35 .42 .35-.82 .35 .53 .35-.19 .35-.14 .35 .66 .35-.65 .35 .57 .35 .06 .35 .12 .35-.85 .35 .04 .35-.08 .35 .24 .35 .59 .35-.27 .35-.49 .35-.04 .35 .64 .35-.13 .35-.62 .35 .59 .35-.4 .35 .1 .35-.19 .35 .89 .35-.53 .35 .16 .35-.42 .35 .18 .35 .27 .35 .1 .35 .16 .35-.66 .35-.01 .35 .16 .35-.09 .35 .51 .35-.45 .35 0 .35 .13 .35 .06 .35-.21 .35-.34 .35 .73 .35-.63 .35 .74 .35-.6 .35 .01 .35 .28 .35 .37 .35-.53 .35 .1 .35-.07 .35-.3 .35 .18 .35 .63 .35 .02 .35-.69 .35 .67 .35-.9 .35 .7 .35-.69 .35 .4 .35-.02 .35 .02 .35 .51 .35-.59 .35-.33 .35 .09 .35 .64 .35-.62 .35-.07 .35 .14 .35 .78 .35-.54 .35-.29 .35 .51 .35-.28 .35 .17 .35 .45 .35-.3 .35-.17 .35 .47 .35-.49 .35-.06 .35 .4 .35 .11 .35-.24 .35-.35 .35 .03 .35-.39 .35 .23 .35 .54 .35-.29 .35 .37 .35-.19 .35-.1 .35 .24 .35-.31 .35 .17 .35-.18 .35-.14 .35 .42 .35-.7 .35 .91 .35-.02 .35-.13 .35-.36 .35-.02 .35-.05 .35 .06 .35-.24 .35 .58 .35 .08 .35-.38 .35 .35 .35-.56 .35 .57 .35 .11 .35-.3 .35 .29 .35-.23 .35-.04 .35-.22 .35-.41 .35 .07 .35 .7 .35-.65 .35 .51 .35-.53 .35 .6 .35 .2 .35-.34 .35-.58 .35 .7 .35-.26 .35 .39 .35-.72 .35 .13 .35 .64 .35-.08 .35 .07 .35-.39 .35 .15 .35 .26 .35-.27 .35-.57 .35 .06 .35-.15 .35 .11 .35-.08 .35 .35 .35 .24 .35 .24 .35-.45 .35-.25 .35 .75 .35 .01 .35 .06 .35-.96 .35 .57 .35 .04 .35-.1 .35-.34 .35 .73 .35-.38 .35-.5 .35 .31 .35 .38 .35-.53 .35 .58 .35-.57 .35 .22 .35-.14 .35-.16 .35 .75 .35-.54 .35 .41 .35 .14 .35-.61 .35-.27 .35 .52 .35-.29 .35 .63 .35-.71 .35 .56 .35-.69 .35 .24 .35-.07 .35 .65 .35-.25 .35 .06 .35-.58 .35 .23 .35 .58 .35-.28 .35 .15 .35-.26 .35-.29 .35 .7 .35-.65 .35-.09 .35 .48 .35-.56 .35 .67 .35-.05 .35-.33 .35 .14 .35-.03 .35-.42 .35 .01 .35 .27 .35-.34 .35 .18 .35 .18 .35 .26 .35-.11 .35-.35 .35 .59 .35 .03 .35-.13 .35 .03 .35-.44 .35 .59 .35-.25 .35-.41 .35 .5 .35-.05 .35-.06 .35-.1 .35 .3 .35-.04 .35-.14 .35-.52 .35 .16 .35 .75 .35-.58 .35 .23 .35-.5 .35 .44 .35 .04 .35 .15 .35 .21 .35-.51 .35-.15 .35-.15 .35 .17 .35 .11 .35 .52 .35-.45 .35 .17 .35 .05 .35-.72 .35 .22 .35 .31 .35-.48 .35 .09 .35 .6 .35-.08 .35-.53 .35-.02 .35 .72 .35-.37 .35-.15 .35 .4 .35-.05 .35 .32 .35-.89 .35 .67 .35-.31 .35-.21 .35 .25 .35-.48 .35 .1 .35-.01 .35 .58 .35 .02 .35-.47 .35 .07 .35 .46 .35-.38 .35-.04 .35 .6 .35-.41 .35 0 .35 .07 .35-.57 .35 .36 .35 .39 .35-.14 .35 .24 .35-.58 .35 .17 .35-.25 .35-.04 .35-.1 .35 .11 .35-.04 .35 .28 .35-.03 .35 .35 .35 .02 .35-.24 .35 .12 .35-.19 .35-.16 .35 .19 .35 .13 .35 .32 .35-.13 .35-.75 .35 .57 .35-.55 .35 .53 .35 .23 .35-.15 .35-.58 .35 .3 .35-.22 .35 .46 .35 .05 .35 .03 .35-.38 .35 .24 .35-.39 .35 .72 .35 .01 .35-.91 .35 .53 .35 .16 .35-.49 .35-.2 .35-.03 .35 .71 .35-.7 .35 .38 .35 .41 .35-.75 .35 .66 .35-.28 .35-.04 .35 .09 .35-.13 .35 .51 .35-.19 .35-.28 .35-.27 .35 .38 .35 .5 .35-.11 .35-.82 .35 .29 .35 .11 .35-.06 .35-.3 .35 .08 .35 .34 .35 .19 .35 0 .35-.05 .35 0 .35-.66 .35 .21 .35 .12 .35-.08 .35 .13 .35 .01 .35-.06 .35-.33 .35 .86 .35 .09 .35-.34 .35-.35 .35 .18 .35 .46 .35-.31 .35 .1 .35 0 .35 .28 .35-.32 .35-.55 .35 .4 .35 .41 .35-.79 .35-.08 .35 0 .35 .02 .35 .09 .35 .61 .35-.17 .35 .13 .35-.17 .35-.21 .35 .44 .35-.62 .35 .19 .35 .06 .35 .26 .35 .08 .35-.19 .35 .04 .35-.33 .35 .31 .35 .25 .35-.4 .35 .31 .35-.24 .35 0 .35 .1 .35-.47 .35 .08 .35-.04 .35 .36 .35 .13 .35 .04 .35-.5 .35 .12 .35-.18 .35 .5 .35-.23 .35-.15 .35-.05 .35 .73 .35-.47 .35 .51 .35-.67 .35-.1 .35 .5 .35 .19 .35-.75 .35 .7 .35-.27 .35 .31 .35 .05 .35-.52 .35 .51 .35-.76 .35 .26 .35 0 .35-.19 .35 .23 .35 .27 .35-.64 .35 .37 .35 .05 .35-.33 .35 .44 .35-.39 .35 .32 .35 0 .35 .18 .35 .18 .35 0 .35-.43 .35-.24 .35-.02 .35 .55 .35-.03 .35 .03 .35 .04 .35-.26 .35 .33 .35-.24 .35-.03 .35 .21 .35-.19 .35 .12 .35 .16 .35-.53 .35 .35 .35-.45 .35 .19 .35 .38 .35 .1 .35-.02 .35-.19 .35 .09 .35 .03 .35-.27 .35-.37 .35-.22 .35 .74 .35 0 .35-.03 .35-.15 .35 .08 .35 .06 .35-.19 .35 .13 .35-.44 .35 .31 .35 .1 .35-.06 .35-.31 .35-.13 .35 .52 .35-.54 .35 .68 .35-.61 .35 .59 .35-.41 .35 .54 .35-.67 .35-.07" fill="none" stroke="#d95319" stroke-width="1.9" stroke-linejoin="round" />
<path d="M343.60 192.65l.6 .13 .6-.5 .6 .16 .6 .24 .6-.42 .6 .13 .6 .24 .6-.29 .6-.17 .6 .95 .6-.92 .6 1.08 .6-.14 .6-.45 .6 .54 .6-.94 .6 .65 .6-.22 .6-.03 .6 .77 .6-1.01 .6 1.05 .6-.92 .6 .77 .6-.44 .6 .34 .6 .53 .6-.12 .6-.82 .6 .3 .6 .26 .6 .32 .6-.83 .6 1.09 .6 .02 .6 .18 .6-.89 .6 .05 .6 .81 .6-.35 .6-.29 .6-.24 .6 .29 .6 .62 .6 .12 .6-.43 .6 .75 .6-.46 .6 .06 .6-.1 .6 .06 .6-.01 .6 .64 .6-.43 .6-.21 .6 .3 .6 .67 .6-.31 .6-.62 .6 .44 .6 .11 .6-.52 .6 1.24 .6-.01 .6-.97 .6 .61 .6-.26 .6-.08 .6 .12 .6-.24 .6 .85 .6-.37 .6 .46 .6 .19 .6-.28 .6-.25 .6-.22 .6 .68 .6 .06 .6 .17 .6-.79 .6-.08 .6 1.09 .6-.31 .6-.62 .6 .81 .6-.8 .6 .77 .6-.07 .6 .24 .6-.77 .6 1.08 .6 .07 .6 .08 .6-.25 .6-.56 .6 .89 .6-.44 .6 .16 .6-.05 .6-.57 .6 .86 .6-.24 .6-.54 .6 .23 .6-.29 .6 .39 .6 .74 .6-.78 .6 .03 .6 .54 .6-.93 .6 .05 .6 .82 .6-.79 .6 .63 .6 .26 .6-.33 .6-.63 .6 .17 .6 .43 .6 .54 .6-.4 .6 .06 .6-.14 .6-.36 .6 .37 .6-.8 .6 .53 .6 .52 .6-.81 .6 .58 .6 .09 .6-.76 .6 .92 .6-.82 .6 .95 .6-.83 .6 .34 .6 .44 .6-.18 .6-.45 .6-.4 .6 .55 .6-.04 .6-.71 .6 .41 .6 .71 .6-.54 .6-.47 .6 .61 .6-.27 .6 .61 .6-.58 .6-.63 .6 .17 .6 .01 .6 1.03 .6-.81 .6-.02 .6 .83 .6-1.05 .6 .55 .6 .43 .6-.06 .6-1.02 .6 .41 .6-.3 .6 .59 .6-.62 .6-.1 .6 .12 .6-.2 .6 .78 .6-.6 .6 .16 .6-.18 .6 .13 .6-.11 .6 .06 .6 .48 .6-.74 .6 .69 .6-.47 .6-.35 .6 .03 .6 1.05 .6-1.18 .6 .32 .6 .79 .6-1.08 .6 .17 .6 .07 .6 .77 .6-.99 .6 1.13 .6-1.15 .6 .61 .6 .28 .6-.31 .6-.08 .6-.1 .6-.26 .6 1.01 .6-.82 .6 .32 .6-.09 .6 .52 .6-1 .6-.14 .6 1.03 .6-.55 .6 .17 .6-.03 .6 .22 .6 .07 .6-.2 .6-.98 .6 1.15 .6-1.11 .6 1.13 .6-1.21 .6 1.08 .6-.2 .6-.86 .6 1.01 .6-.25 .6-.65 .6 1.05 .6-.4 .6-.19 .6 .67 .6-1.05 .6-.04 .6 1 .6-1.03 .6 .92 .6-.86 .6 .84 .6-.57 .6 .29 .6-.02 .6-.3 .6 .17 .6 .18 .6-.73 .6 1.1 .6-.13 .6-.88 .6 .02 .6 .24 .6 .54 .6-.37 .6-.29 .6 .65 .6-.82 .6 .73 .6 .06 .6-.93 .6 .67 .6 .04 .6 .54 .6-.96 .6 .23 .6 .68 .6-1.15 .6 1.1 .6-.76 .6-.03 .6 .94 .6-.87 .6-.2 .6-.05 .6 .7 .6-.08 .6-.57 .6 .38 .6-.3 .6 .8 .6-.69 .6 .38 .6 .44 .6-.97 .6 1.04 .6-.67 .6 .23 .6-.53 .6 .62 .6 .05 .6-.19 .6 .4 .6-.56 .6-.66 .6 1.32 .6-.5 .6 .08 .6-.02 .6-.8 .6 .36 .6-.28 .6 .83 .6 .31 .6-.28 .6 .24 .6-.7 .6-.44 .6 .57 .6-.35 .6 .21 .6-.09 .6-.07 .6 .75 .6-.12 .6 .34 .6 .25 .6-1.1 .6 1.05 .6-.24 .6-.3 .6 .62 .6-.67 .6-.71 .6 .15 .6 .29 .6 .58 .6-.19 .6 .19 .6-.99 .6 .36 .6 .46 .6 .16 .6-.32 .6-.31 .6 .14 .6 .69 .6-.06 .6-.7 .6 1.07 .6-1.35 .6 .29 .6 .31 .6 .56 .6-.35 .6 .18 .6 .42 .6-.87 .6-.27 .6 .35 .6 .24 .6-.64 .6-.14 .6 1.04 .6 .41 .6-.08 .6-.83 .6 .12 .6 .57 .6 .25 .6-.95 .6 .91 .6-.38 .6-.83 .6 .47 .6-.68 .6 .63 .6 .18 .6 .42 .6-.7 .6 .49 .6 .03 .6-.21 .6 .15 .6-.23 .6 .24 .6-.23 .6 .7 .6-1.22 .6 1.16 .6-.17 .6-1.12 .6 1.09 .6-.54 .6 .23 .6 .02 .6 .34 .6-.37 .6 .23 .6-.63 .6-.23 .6 .93 .6 .5 .6-1.4 .6 1.3 .6-.81 .6 .42 .6-.59 .6 .66 .6-.39 .6 .56 .6-.8 .6 .09 .6 .46 .6-.8 .6 1.36 .6-.57 .6 .57 .6-1.24 .6 .84 .6-.79 .6-.19 .6 .57 .6 .05 .6 .13 .6-.14 .6-.42 .6 .76 .6-.65 .6 .04 .6 .77 .6-.16 .6 .08 .6 .3 .6-.11 .6-.99 .6 1.19 .6-.72 .6 .06 .6-.44 .6 .17 .6 .27 .6-.83 .6 1.08 .6-.59 .6 .54 .6 .07 .6-.18 .6-.87 .6 .78 .6-.34 .6 .57 .6 0 .6-.34 .6 .37 .6-.94 .6 1.07 .6 .24 .6-.11 .6-.14 .6-.65 .6 .84 .6-.6 .6-.55 .6 .52 .6 .49 .6-.28 .6 .25 .6-1.28 .6 1.49 .6-.08 .6-.67 .6 .67 .6-1.19 .6 .29 .6-.32 .6 .8 .6 .4 .6 .02 .6-1.37 .6 1.1 .6-.34 .6-.55 .6 1.09 .6-.59 .6-.79 .6 .53 .6 .5 .6 .27 .6-1.06 .6 .63 .6-.82 .6 1.33 .6-1.46 .6 1.55 .6-.66 .6 .3 .6-.14 .6-.27 .6-.11 .6-.38 .6 .13 .6-.32 .6 .28 .6 .63 .6-.17 .6 .02 .6-.07 .6 .68 .6-.16 .6-.96 .6 .48 .6 .67 .6-1.16 .6 .71 .6-.09 .6 .03 .6-.19 .6 .3 .6-.6 .6 .92 .6-.61 .6-.38 .6 .49 .6 .07 .6 .39 .6-.47 .6-.2 .6-.28 .6 .12 .6-.24 .6 .55 .6 .4 .6-.45 .6-.65 .6-.28 .6 1.4 .6-.98 .6 .66 .6 .42 .6-.01 .6-.65 .6 .6 .6-.86 .6 .9 .6-.44 .6-1.01 .6 1.22 .6-1.09 .6 1.4 .6-1.59 .6 1.18 .6-1.01 .6 .64 .6-.28 .6 .84 .6-1.01 .6 .74 .6 .37 .6-1.47 .6 1.09 .6-1.07 .6 1.17 .6 .13 .6-1.21 .6 1.25 .6-.75 .6-.22 .6 1.1 .6-.98 .6-.3 .6 .2 .6 .97 .6 .14 .6-.9 .6 .06 .6 .18 .6 .4 .6-1.41 .6 1.34 .6 .3 .6-.97 .6 .05 .6 .89 .6-.94 .6-.06 .6 .83 .6-.66 .6 .29 .6-.62 .6 .68 .6-.54 .6 .71 .6-.5 .6 .73 .6-.63 .6 .53 .6-.72 .6 .39 .6-.69 .6 .55 .6 .13 .6-.81 .6 .61 .6 .65 .6-1.24 .6 .49 .6 .6 .6-.71 .6-.68 .6 .85 .6-.11 .6 .81 .6-.46 .6 .2 .6-.71 .6 .92 .6-.12 .6-1.28 .6 .99 .6 .42 .6-.44 .6 .56 .6-1.24 .6 .57 .6-.09 .6-.42 .6 .85 .6-.61 .6 .38 .6 .23 .6-.09 .6-1.1 .6-.08 .6 1.34 .6-.3 .6-.88 .6-.03 .6 .65 .6-.56 .6 1.31 .6-1.23 .6 1.26 .6-.4 .6-.28 .6 .2 .6 .04 .6-.72 .6 .36 .6-.74 .6-.04 .6 1.58 .6-.16 .6-.17 .6-1.15 .6 .92 .6 .16 .6-.5 .6-.1 .6 .62 .6-1.27 .6 .82 .6-.38 .6 .33 .6 .19 .6-.23 .6 .81 .6 .01 .6-.22 .6 .06 .6-.52 .6-.41 .6 .97 .6-1.24 .6 .85 .6 .07 .6-.94 .6 .17 .6 .84 .6 .33 .6-.84 .6 .26 .6 .31 .6-.22 .6-.22 .6 .32 .6 .13 .6 .16 .6-.43 .6 .18 .6-.84 .6-.06 .6 1.17 .6-1.06 .6 .39 .6 .8 .6-1.33 .6 .96 .6-.77 .6 .68 .6 .34 .6 .01 .6-.08 .6-.47 .6 .05 .6-.67 .6-.1 .6 1.14 .6-1.26 .6 1.59 .6-1.35 .6 .97 .6-.5 .6 .3 .6 .27 .6-.84 .6 .96 .6-.13 .6-.31 .6-.01 .6-.35 .6 1.07 .6-1.07 .6-.26 .6 .58 .6 .66 .6 .01 .6-.64 .6-.34 .6 .65 .6-.34 .6 .48 .6 .02 .6-.24 .6 .5 .6-.6 .6 .6 .6-.59 .6-.8 .6 .75 .6 .26 .6-.63 .6-.47 .6 .34 .6 .79 .6-1.06 .6-.36 .6 1.6 .6 .17 .6-.19 .6-.12 .6-.14 .6-.32 .6 .18 .6 .18 .6-.78 .6-.23 .6 .91 .6-.17 .6 .72 .6-1.07 .6 0 .6-.54 .6-.2 .6 .23 .6 .84 .6 .69 .6-1.58 .6 .09 .6 .97 .6-.71 .6-.48 .6 1.57 .6-1.38 .6 .54 .6 .6 .6 .04 .6 .33 .6-.68 .6-.83 .6-.13 .6 1.06 .6-.2 .6-.54 .6-.16 .6 .35 .6-.12 .6 .13 .6-.01 .6 .76 .6-.55 .6 .73 .6-.66 .6-.4 .6 1.2 .6-.51 .6 .36 .6-1.15 .6 1.4 .6-.64 .6-.5 .6-.23 .6-.29 .6-.13 .6 .31 .6 .22 .6 .42 .6-.25 .6-.67 .6 .18 .6-.24 .6 .05 .6 .49 .6 .64 .6-.92 .6 1.39 .6 .2 .6-.71 .6-1.08 .6 .25 .6 .63 .6 .81 .6 .09 .6-.47 .6 .29 .6-1.51 .6 .78 .6-.05 .6-.5 .6 .66 .6 0 .6 .78 .6-1.72 .6 .44 .6-.24 .6 .09 .6 .18 .6 .1 .6 1.12 .6-1.2 .6 .3 .6-.6 .6 .1 .6-.01 .6 .67 .6-.51 .6-.04 .6 .46 .6-.96 .6 1.61 .6-1.54 .6 .68 .6 1.1 .6-1.56 .6-.23 .6 .83 .6 .28 .6-.47 .6-.31 .6 .89 .6-.19 .6-.46 .6 .51 .6 .43 .6-.62 .6-.24 .6 .43 .6-.21 .6-.77 .6 1.53 .6-1.48 .6 1.17 .6-.59 .6 .67 .6-.5 .6 .57 .6-.67 .6-.42 .6 .99 .6 .11 .6-.62 .6 .82 .6-.43 .6 .43 .6-1.4 .6 1.42 .6-.33 .6 .33 .6-1.13 .6 .4 .6 .64 .6-.42 .6-.73 .6 0 .6 1.25 .6-.52 .6-1.18 .6 .39 .6 .57 .6-.7 .6 .53 .6 .38 .6-1.11 .6 .32 .6 1.19 .6-1.59 .6 .13 .6 1.35 .6-.27 .6-.39 .6 .73 .6-1.23 .6-.39 .6 1.53 .6-.33 .6-.57 .6 .46 .6-.95 .6 .44 .6 .49 .6 .52 .6-1 .6-.48 .6 .05 .6 .41 .6 .61 .6 .15 .6-.02 .6 .34 .6-.36 .6-.03 .6-.14 .6 .14 .6 .12 .6 .46 .6-1.51 .6 .88 .6-.98 .6 .15 .6 1.37 .6-.99 .6 .31 .6-.68 .6 .57 .6-.92 .6 1.05 .6 .71 .6-.5 .6-.05 .6-.21 .6-.44 .6 .86 .6-.73 .6-.1 .6 .4 .6 .81 .6-.46 .6-.11 .6-1.04 .6 1.3 .6-.74 .6 .39 .6-.12 .6 .42 .6-1.43 .6 .13 .6 .34 .6-.15 .6 .91 .6-1.07 .6-.04 .6 .83 .6-.88 .6 1.38 .6-.88 .6-.06 .6 .56 .6 .72 .6-1.31 .6-.11 .6 .27 .6 .78 .6 .29 .6-1.48 .6-.23 .6 .52 .6 .03 .6 .81 .6-.13 .6 .13 .6-.67 .6 .06 .6 .98 .6-1.7 .6-.05 .6-.01 .6 1.52 .6-.57 .6 .34 .6-.08 .6 .3 .6-.53 .6-.39 .6-.41 .6 .57 .6-.41 .6 1.39 .6-.31 .6-.91 .6 .43 .6-.08 .6 .26 .6 .65 .6-1.28 .6 .65 .6-.21 .6 .85 .6-1.4 .6 .82 .6-1.06 .6 .86 .6 .79 .6-.45 .6-1.31 .6 1.81 .6-.84 .6 .07 .6 .7 .6-.69 .6-.69 .6 .4 .6 .6 .6-.67 .6-.43 .6 .42 .6-.54 .6-.01 .6 .04 .6 .74 .6-.36 .6-.27 .6 1.06 .6-.24 .6 .4 .6-1.25 .6 .87 .6-.68 .6 .44 .6-.09 .6 .26 .6-.03 .6 .66 .6-.55 .6-.52 .6 .84 .6-1.2 .6 1.16 .6-.37 .6-.61 .6 .94 .6-1.21 .6-.15 .6 .45 .6 .44 .6 .24 .6-.6 .6 .5 .6 .76 .6 .04 .6-.53 .6-.8 .6 .34 .6 .63 .6 .15 .6 .12 .6-1.07 .6-.1 .6 0 .6 .85 .6 .33 .6-.75 .6-.23 .6 .43 .6-.47 .6 .28 .6-.72 .6-.17 .6 .58 .6-.26 .6-.22 .6 1.54 .6-.51 .6-.58 .6 1.14 .6-1.68 .6 .46 .6 1.02 .6 .16 .6-.33 .6-1.16 .6 .73 .6-.94 .6-.02 .6 1.52 .6-1.64 .6 .18 .6 .02 .6 1.15 .6-.16 .6-.78 .6 .37 .6 1.03 .6-1.41 .6-.27 .6 1.1 .6-1.02 .6 .85 .6-.58 .6-.42 .6 1.19 .6 .18 .6-.83 .6-.3 .6 1.56 .6-1.39 .6 0 .6 .23 .6-.24 .6 .01 .6 1.29 .6-1.6 .6 1.43 .6-.57 .6-.95 .6 .22 .6 .96 .6-.19 .6-.6 .6 .09 .6 1.21 .6-.36 .6-.14 .6 .5 .6-1.32 .6 .19 .6 .96 .6-.75 .6 .01 .6 .69 .6 .36 .6-.21 .6-.22 .6-.62 .6 .49 .6-.91 .6 .05 .6-.09 .6 .91 .6 .5 .6-.36 .6-.93 .6 .74 .6-.58 .6 .9 .6-.65 .6-.45 .6 .08 .6-.39 .6 .53 .6-.05 .6 .23 .6 .38 .6 .51 .6-.21 .6-.46 .6-.4 .6-.37 .6 .8 .6-1 .6-.02 .6 1.12 .6-.91 .6 1.3 .6-.34 .6-.27 .6 .78 .6-1.53 .6 .34 .6 .37 .6 .87 .6-1.68 .6 .99 .6 .61" fill="none" stroke="#62d216" stroke-width="0.45" stroke-linejoin="round" stroke-opacity="0.35"/>
<path d="M130.50 211.50l.5-.58 .5-.33 .5-.56 .5-.32 .5-.24 .5-.82 .5-.61 .5-.61 .5-1.05 .5-.33 .5-1.32 .5-.36 .5-.97 .5-1.11 .5-1.02 .5-1.28 .5-1.35 .5-1.02 .5-1.21 .5-1.61 .5-.95 .5-1.66 .5-1.29 .5-1.61 .5-1.49 .5-1.18 .5-1.65 .5-2.06 .5-1.25 .5-1.63 .5-1.91 .5-1.83 .5-2.14 .5-1.68 .5-2.19 .5-1.72 .5-2.23 .5-2.38 .5-1.85 .5-2.31 .5-2.61 .5-2.29 .5-2.44 .5-1.89 .5-2.76 .5-2.25 .5-2.1 .5-2.63 .5-2.38 .5-2.51 .5-2.38 .5-2.06 .5-2.63 .5-1.87 .5-2.92 .5-2.19 .5-2.43 .5-1.92 .5-2.43 .5-2.72 .5-2.37 .5-2.3 .5-1.92 .5-2.31 .5-2.37 .5-2.38 .5-2.3 .5-2.21 .5-2.57 .5-1.87 .5-2.28 .5-2.33 .5-2.54 .5-2.28 .5-1.82 .5-2.28 .5-2.39 .5-2.25 .5-2.46 .5-2.02 .5-.08 .5-.24 .5 .07 .5-.42 .5 .14 .5 .23 .5-.25 .5 .03 .5-.02 .5 .22 .5-.44 .5 .28 .5-.13 .5-.13 .5-.11 .5 .35 .5-.25 .5 .24 .5-.08 .5-.01 .5 .3 .5-.47 .5 .29 .5-.08 .5-.15 .5 .15 .5 .29 .5-.39 .5 .29 .5-.24 .5 .16 .5 .02 .5-.28 .5 .45 .5-.26 .5-.1 .5 .01 .5 .46 .5-.02 .5-.28 .5-.12 .5 .26 .5-.39 .5 .48 .5-.51 .5 .02 .5 .17 .5 .07 .5-.27 .5 .17 .5 .41 .5-.13 .5-.43 .5 .49 .5-.25 .5 .31 .5-.4 .5-.01 .5 .21 .5-.12 .5-.13 .5 .15 .5 .06 .5-.2 .5 .3 .5-.05 .5 0 .5-.07 .5-.26 .5 .28 .5-.33 .5-.03 .5 .21 .5-.2 .5-.04 .5 .27 .5 .22 .5-.56 .5 .22 .5-.22 .5 .26 .5 .22 .5 .04 .5-.16 .5 .51 .5 .02 .5 .2 .5 .23 .5 .34 .5-.07 .5 .53 .5-.18 .5 .45 .5 .14 .5 .45 .5 .67 .5 .42 .5 .1 .5 .3 .5 .47 .5 .81 .5 .2 .5 .36 .5 .91 .5 .35 .5 .51 .5 .87 .5 .51 .5 .18 .5 1.2 .5 .35 .5 .49 .5 1.12 .5 .39 .5 .85 .5 .75 .5 .38 .5 1.18 .5 .47 .5 .42 .5 1.01 .5 .41 .5 1.29 .5 .53 .5 .54 .5 .95 .5 .7 .5 .64 .5 .41 .5 .6 .5 1.13 .5 .7 .5 .34 .5 .69 .5 .67 .5 .58 .5 1.05 .5 .41 .5 .76 .5 .59 .5 .34 .5 .63 .5 .69 .5 .85 .5 .72 .5 .86 .5 .57 .5 .54 .5 .42 .5 .6 .5 .83 .5 .42 .5 .87 .5 .59 .5 .25 .5 1.03 .5 .19 .5 .75 .5 1.01 .5 .41 .5 .74 .5 .65 .5 .22 .5 .92 .5 .36 .5 .42 .5 .62 .5 .61 .5 .9 .5 .59 .5 .7 .5 .24 .5 .85 .5 .25 .5 .57 .5 .74 .5 .37 .5 .87 .5 .09 .5 .45 .5 .86 .5 .46 .5 .03 .5 .56 .5 .54 .5 .16 .5 .6 .5 .65 .5 .39 .5 .02 .5 .47 .5 .33 .5 .6 .5 0 .5 .82 .5-.22 .5 .52 .5 .37 .5 .39 .5 .02 .5 .36 .5 0 .5 0 .5 .29 .5 .28 .5 .1 .5 .3 .5-.01 .5 .03 .5 .2 .5 .12 .5-.2 .5 .29 .5 .24 .5 .16 .5-.09 .5 .25 .5-.09 .5-.04 .5-.05 .5 .35 .5 .08 .5-.13 .5-.33 .5 .25 .5-.18 .5 .18 .5-.63 .5 .36 .5-.3 .5 .1 .5-.29 .5-.51 .5 .25 .5-.27 .5-.36 .5-.26 .5-.03 .5-.11 .5-.27 .5-.5 .5-.15 .5 .08 .5-.32 .5-.14 .5-.47 .5-.37 .5 .03 .5-.65 .5-.42 .5-.14 .5-.3 .5-.51 .5 .07 .5-.82 .5-.47 .5-.08 .5-.74 .5-.34 .5-.36 .5-.53 .5-.22 .5-.76 .5-.15 .5-.77 .5-.18 .5-.22 .5-.57 .5-.35 .5-.69 .5-.68 .5-.31 .5-.2 .5-.82 .5-.11 .5-.63 .5-.07 .5-.76 .5-.44 .5-.45 .5-.26 .5-.17 .5-.67 .5-.3 .5-.55 .5-.68 .5-.12 .5-.41 .5-.42 .5-.59 .5-.43 .5-.37 .5-.58 .5-.32 .5-.32 .5-.26 .5-.14 .5-.51 .5-.48 .5-.25 .5-.52 .5-.59 .5 .04 .5-.33 .5-.36 .5-.21 .5-.36 .5-.29 .5-.78 .5 .27 .5-.55 .5-.29 .5-.28 .5-.49 .5-.26 .5 .07 .5-.44 .5-.04 .5-.7 .5-.02 .5-.22 .5-.56 .5 .14 .5-.35 .5-.16 .5-.32 .5 .08 .5-.11 .5-.02 .5-.17 .5-.05 .5-.12 .5-.28 .5-.37 .5 .06 .5-.38 .5 .2 .5-.24 .5 .05 .5 .06 .5-.48 .5 .42 .5-.55 .5 .22 .5-.2 .5-.13 .5 .24 .5-.14" fill="none" stroke="#0072bd" stroke-width="2.4" stroke-linejoin="round" />
<path d="M344.30 95.89l.35 .44 .35-.34 .35 .42 .35-.19 .35-.13 .35-.16 .35 .51 .35-.42 .35 .44 .35-.11 .35 0 .35-.17 .35 .26 .35-.19 .35 .52 .35 .03 .35-.28 .35 .3 .35-.12 .35 .4 .35-.23 .35 .07 .35 .16 .35 .51 .35 0 .35-.16 .35 .34 .35-.17 .35 0 .35 .54 .35-.41 .35 .57 .35 .22 .35-.41 .35 .6 .35 .08 .35-.31 .35 .38 .35 .03 .35 .23 .35 .15 .35 .17 .35-.08 .35 .33 .35 .18 .35 .39 .35 .21 .35 .21 .35 .11 .35 .34 .35-.03 .35 .03 .35 .02 .35 .61 .35 .08 .35-.07 .35 .4 .35 .45 .35-.03 .35 0 .35 .49 .35-.08 .35-.06 .35 .22 .35 .73 .35-.37 .35 .61 .35-.3 .35 .42 .35 .08 .35 .21 .35 .01 .35 .37 .35 .39 .35 .02 .35-.08 .35 .59 .35 .2 .35-.1 .35 .1 .35-.06 .35 .19 .35 .35 .35-.01 .35 .7 .35-.05 .35-.06 .35 .32 .35-.11 .35 .63 .35-.12 .35 .28 .35-.18 .35 .33 .35 .3 .35-.06 .35-.06 .35 .41 .35 .37 .35-.08 .35 .47 .35-.12 .35 .35 .35-.41 .35 .53 .35 .06 .35 .04 .35 .49 .35-.39 .35 .39 .35 .02 .35 .56 .35 .02 .35-.25 .35 .08 .35 .06 .35 .23 .35 .61 .35 .08 .35 .08 .35-.15 .35 .17 .35 .18 .35 .26 .35-.41 .35 .22 .35 .37 .35-.18 .35 .62 .35-.49 .35 .71 .35-.4 .35 .08 .35 .24 .35 .23 .35 .32 .35-.25 .35 .36 .35 .08 .35 .15 .35-.34 .35 .16 .35-.22 .35 .32 .35 .05 .35-.07 .35 .54 .35-.29 .35-.02 .35 .06 .35 .01 .35 .56 .35-.08 .35 .07 .35 0 .35 .44 .35-.33 .35 .14 .35 .21 .35 .23 .35 .02 .35 .08 .35-.4 .35 .57 .35-.02 .35-.27 .35 .38 .35 .16 .35-.08 .35 .05 .35 .12 .35 .08 .35-.01 .35-.43 .35 .14 .35-.01 .35 .28 .35-.23 .35 .37 .35 .29 .35 .08 .35-.61 .35 .47 .35-.33 .35 .52 .35-.54 .35 .07 .35 .17 .35-.19 .35 .46 .35-.3 .35 .37 .35 .17 .35-.32 .35 0 .35 .36 .35-.47 .35 .39 .35-.12 .35-.49 .35 .19 .35 .28 .35-.48 .35 .54 .35 .01 .35-.12 .35 .01 .35-.18 .35 .12 .35-.27 .35-.07 .35 .17 .35-.2 .35-.15 .35-.07 .35 .08 .35-.09 .35 .21 .35-.02 .35-.04 .35-.02 .35-.39 .35-.05 .35 .27 .35-.51 .35 .3 .35-.18 .35 .04 .35-.04 .35-.09 .35-.36 .35-.22 .35 .59 .35-.11 .35-.34 .35 .04 .35-.47 .35 .19 .35 .02 .35 0 .35-.41 .35-.16 .35 .54 .35-.15 .35-.55 .35 .38 .35-.08 .35-.52 .35 .36 .35-.37 .35-.11 .35-.2 .35 .23 .35-.06 .35-.15 .35-.36 .35 .42 .35-.42 .35-.11 .35 .19 .35-.4 .35 .45 .35-.26 .35 .03 .35-.4 .35-.01 .35-.2 .35-.07 .35 .05 .35 .19 .35-.27 .35 .16 .35-.59 .35 .05 .35-.25 .35 .55 .35-.68 .35 .27 .35 .01 .35-.41 .35 .48 .35-.08 .35-.62 .35-.15 .35 .29 .35-.18 .35-.02 .35-.07 .35 .16 .35-.23 .35-.41 .35 .22 .35-.3 .35 .29 .35-.45 .35-.43 .35 .57 .35-.55 .35 .3 .35-.24 .35 .01 .35-.1 .35 .03 .35-.14 .35-.23 .35-.33 .35 .04 .35-.25 .35-.05 .35 0 .35-.12 .35-.19 .35-.07 .35-.09 .35-.17 .35 .2 .35-.45 .35 .03 .35-.14 .35 .31 .35-.4 .35-.22 .35 .45 .35-.36 .35 .19 .35-.44 .35-.05 .35 .08 .35-.44 .35 .6 .35-.7 .35 .51 .35-.26 .35 .01 .35-.48 .35 .45 .35-.33 .35-.16 .35-.22 .35-.08 .35 .46 .35 .03 .35-.47 .35 .18 .35-.07 .35-.2 .35-.06 .35 0 .35-.2 .35 .26 .35-.29 .35 .02 .35-.29 .35 .55 .35-.71 .35 .44 .35-.09 .35-.28 .35 .44 .35-.75 .35 .13 .35 .01 .35 .19 .35-.08 .35 .06 .35 .07 .35-.68 .35 .37 .35-.16 .35 .18 .35-.16 .35-.18 .35-.29 .35 .19 .35 .07 .35-.13 .35 0 .35 .17 .35-.28 .35 .36 .35-.41 .35 .02 .35-.04 .35 .33 .35-.27 .35 .25 .35-.78 .35 .7 .35-.62 .35 .51 .35-.69 .35 .6 .35-.21 .35 .01 .35-.26 .35-.03 .35-.21 .35-.04 .35 .34 .35-.24 .35-.27 .35 .08 .35-.03 .35-.01 .35 .18 .35 .33 .35-.28 .35 .1 .35-.52 .35 .43 .35 .11 .35 .08 .35-.24 .35-.1 .35 .25 .35-.67 .35 .5 .35-.07 .35-.01 .35-.31 .35-.23 .35 .03 .35 .4 .35-.3 .35 .49 .35-.66 .35 .53 .35-.28 .35-.15 .35-.04 .35 .06 .35 .01 .35-.12 .35-.01 .35 .58 .35-.44 .35 .16 .35 .06 .35-.3 .35 .48 .35-.51 .35-.08 .35-.12 .35 .18 .35-.16 .35 .45 .35-.04 .35-.43 .35 .74 .35-.17 .35-.13 .35 .32 .35-.32 .35-.27 .35 .49 .35 .15 .35-.7 .35 .37 .35-.21 .35 .56 .35-.64 .35 .59 .35-.46 .35 .36 .35 .06 .35 .08 .35-.55 .35 .36 .35-.26 .35 .02 .35 .05 .35 .01 .35 .66 .35-.28 .35-.22 .35 .21 .35-.32 .35 .15 .35 .36 .35 .08 .35-.03 .35 .33 .35 .02 .35-.09 .35-.27 .35 .27 .35-.38 .35 .53 .35-.47 .35 .64 .35-.77 .35 .67 .35-.21 .35 .3 .35-.21 .35 .29 .35-.07 .35-.02 .35 .29 .35-.65 .35 .7 .35-.3 .35 .19 .35 0 .35-.19 .35 .15 .35 .4 .35-.36 .35 .39 .35-.71 .35 .51 .35 .13 .35-.21 .35-.22 .35 .63 .35 0 .35-.27 .35-.19 .35 .65 .35-.01 .35 .08 .35 .03 .35-.42 .35 .33 .35-.09 .35-.02 .35 .05 .35 .26 .35 .31 .35-.4 .35-.05 .35 .25 .35 .04 .35-.15 .35 .24 .35 .05 .35 .11 .35-.45 .35 .44 .35-.16 .35 .43 .35-.19 .35 .2 .35 .04 .35-.47 .35-.08 .35 .61 .35-.56 .35 .79 .35-.18 .35-.19 .35 .24 .35-.42 .35 .46 .35 .27 .35-.74 .35 .82 .35-.49 .35 .11 .35 .49 .35-.09 .35-.31 .35 .54 .35-.77 .35 .57 .35-.1 .35 .36 .35-.7 .35 .29 .35 .17 .35-.31 .35 .53 .35 .2 .35 .09 .35-.61 .35 .35 .35 .44 .35-.74 .35 .58 .35-.32 .35 .57 .35-.22 .35 .29 .35-.68 .35 .51 .35-.12 .35-.23 .35 .3 .35 .32 .35-.09 .35 .05 .35-.23 .35 .23 .35-.01 .35 .44 .35 .01 .35-.34 .35 .1 .35-.15 .35 .28 .35-.34 .35 .76 .35-.43 .35-.31 .35 .28 .35 .6 .35-.51 .35 .11 .35 .54 .35-.12 .35-.33 .35-.13 .35 .23 .35 .02 .35 .49 .35-.27 .35 .37 .35 .09 .35-.06 .35-.37 .35 .02 .35 .17 .35 .15 .35 .18 .35 .01 .35-.41 .35 .41 .35-.29 .35 .39 .35-.64 .35 .76 .35-.1 .35-.45 .35 .12 .35 .08 .35 .21 .35 .37 .35 .09 .35-.29 .35-.41 .35 .79 .35 .01 .35-.74 .35 .53 .35 .03 .35 .02 .35 .08 .35-.61 .35 .29 .35 .05 .35 .29 .35-.46 .35 .18 .35-.07 .35-.09 .35 .4 .35-.22 .35 .27 .35-.22 .35 .54 .35-.59 .35 .61 .35-.08 .35-.42 .35 .22 .35 .02 .35 .09 .35 .21 .35-.57 .35 .16 .35 .49 .35-.52 .35 .69 .35-.4 .35-.28 .35 .68 .35-.45 .35 .69 .35-.05 .35-.01 .35 .01 .35-.71 .35-.02 .35 .35 .35 .04 .35 0 .35 .19 .35 .18 .35 .02 .35 .15 .35-.22 .35 .2 .35-.7 .35-.04 .35 .39 .35 .41 .35-.44 .35-.24 .35 .03 .35 .1 .35 .58 .35-.46 .35 .48 .35 .08 .35-.14 .35 .14 .35-.6 .35-.05 .35 .05 .35-.2 .35 .84 .35-.66 .35 .39 .35-.31 .35 .23 .35-.09 .35 .26 .35-.48 .35 .08 .35-.14 .35 .17 .35 .47 .35 .11 .35-.87 .35 .76 .35-.11 .35-.6 .35 .07 .35 .64 .35-.62 .35 .65 .35-.35 .35 .4 .35-.44 .35-.36 .35 .43 .35-.15 .35-.36 .35 .68 .35 .07 .35 .05 .35-.31 .35-.06 .35-.37 .35 .7 .35-.23 .35-.07 .35 .01 .35 .13 .35-.48 .35-.22 .35 .8 .35-.91 .35 .21 .35 .19 .35-.43 .35 .24 .35 .5 .35-.24 .35-.05 .35-.55 .35 .37 .35-.3 .35 .23 .35-.02 .35 .02 .35-.12 .35 .42 .35-.31 .35 .39 .35-.54 .35-.21 .35 .18 .35 .47 .35-.5 .35 .42 .35-.14 .35-.43 .35-.08 .35-.09 .35 .29 .35 .22 .35-.4 .35 .6 .35-.9 .35 .7 .35-.6 .35 .76 .35-.87 .35 .76 .35-.51 .35-.13 .35-.25 .35 .15 .35 .13 .35 .51 .35 .01 .35-.87 .35 .44 .35-.52 .35 .04 .35 .47 .35-.11 .35 .34 .35-.02 .35-.73 .35 .43 .35 .15 .35-.05 .35-.22 .35-.07 .35 .03 .35-.17 .35 .13 .35 .29 .35-.54 .35 .07 .35-.03 .35 .39 .35-.61 .35 .17 .35 .27 .35-.36 .35 .43 .35-.33 .35-.44 .35 .24 .35-.23 .35 .26 .35-.09 .35-.04 .35 .45 .35 .05 .35-.16 .35-.01 .35 .11 .35 0 .35-.74 .35 .68 .35-.73 .35 .09 .35 .48 .35-.64 .35 .77 .35-.05 .35-.92 .35 .59 .35 .26 .35-.39 .35-.02 .35 .02 .35-.05 .35 0 .35 .08 .35 .24 .35-.87 .35 .12 .35-.24 .35 .03 .35 .11 .35 .66 .35-.6 .35 .26 .35-.31 .35 .64 .35-.81 .35 .18 .35-.05 .35-.18 .35-.16 .35 .28 .35-.21 .35-.2 .35 .82 .35-.56 .35-.35 .35 .57 .35-.16 .35 .18 .35-.35 .35-.25 .35 .47 .35-.26 .35 .44 .35-.57 .35-.13 .35-.06 .35 .05 .35-.05 .35 .26 .35-.18 .35 .57 .35-.78 .35 .7 .35-.62 .35 .12 .35 .44 .35-.2 .35 .14 .35-.43 .35-.24 .35 .33 .35-.01 .35-.66 .35 .04 .35 .81 .35-.25 .35 .08 .35-.65 .35 .76 .35-.69 .35-.18 .35 .19 .35-.02 .35-.32 .35 .77 .35 .01 .35-.7 .35 .34 .35 .3 .35-.51 .35 .12 .35-.29 .35 .21 .35-.17 .35 .5 .35-.68 .35-.15 .35 .86 .35-.74 .35 .36 .35 .15 .35-.39 .35 .59 .35-.6 .35-.16 .35-.14 .35 .83 .35-.69 .35 .68 .35-.46 .35 .48 .35-.86 .35 .77 .35 .12 .35-.27 .35-.59 .35 .87 .35-.2 .35-.6 .35 .77 .35-.9 .35 .04 .35-.11 .35 .58 .35-.19 .35-.32 .35 .41 .35 .4 .35-.8 .35 .56 .35-.48 .35 .35 .35-.17 .35-.06 .35-.27 .35 .58 .35-.13 .35 .25 .35-.51 .35 .82 .35-.98 .35 .18 .35 .46 .35-.51 .35 .13 .35 .26 .35 .26 .35 .12 .35-.56 .35 .36 .35-.65 .35 .9 .35-.22 .35 .24 .35-.7 .35 .3 .35 .26 .35-.73 .35 .85 .35-.14 .35 .1 .35-.64 .35 .64 .35-.21 .35-.42 .35-.01 .35 .76 .35-.47 .35-.12 .35 .1 .35 .34 .35-.56 .35 .04 .35 .51 .35 .27 .35-.23 .35 .3 .35-.68 .35 .08 .35 .03 .35 0 .35-.09 .35 .56 .35-.52 .35 .15 .35 .07 .35 .55 .35-.68 .35 .39 .35-.37 .35 .5 .35-.42 .35-.37 .35 .54 .35-.19 .35-.06 .35 .04 .35-.29 .35 .77 .35-.18 .35 .11 .35-.06 .35-.18 .35 .09 .35 .03 .35 .48 .35-.59 .35-.19 .35-.06 .35 .28 .35 .26 .35 .02 .35 .17 .35-.06 .35-.6 .35 .34 .35-.01 .35-.26 .35 .52 .35 .21 .35-.76 .35 .53 .35-.42 .35 .71 .35-.22 .35-.51 .35 .49 .35-.28 .35-.02 .35 .5 .35-.26 .35 .57 .35 0 .35-.05 .35-.46 .35 .54 .35-.87 .35 .76 .35-.43 .35 .56 .35-.88 .35 .59 .35-.52 .35 .25 .35 .31 .35-.45 .35 .61 .35-.18 .35-.29 .35 .35 .35-.09 .35-.42 .35 .74 .35 .02 .35 .22 .35 .05 .35-.6 .35 .31 .35-.03 .35-.58 .35 .74 .35-.47 .35 .17 .35 .23 .35-.11 .35-.23 .35 .65 .35-.82 .35 .56 .35-.44 .35 .82 .35 .02 .35-.22 .35 .2 .35-.12 .35-.1 .35 .11 .35 .19 .35-.74 .35 .57 .35-.58 .35 .32 .35-.12 .35 .34 .35 .01 .35 .31 .35-.06 .35-.83 .35 .13 .35-.12 .35 .73 .35-.38 .35 .7 .35-.82 .35 .83 .35-.21 .35 .02 .35-.16 .35 .32 .35-.7 .35 .71 .35 .02 .35-.28 .35 .07 .35-.46 .35 .3 .35 .12 .35-.29 .35-.29 .35 1.01 .35-.15 .35-.47 .35 .2 .35 .07 .35 .42 .35-.43 .35 .19 .35 .1 .35-.76 .35 .54 .35 .4 .35-.11 .35 .12 .35-.83 .35 .69 .35-.54 .35 .67 .35-.09 .35-.44 .35 .23 .35-.11 .35 .54 .35-.42 .35-.52 .35 .51 .35-.56 .35 .14 .35 .4 .35-.02 .35-.43 .35 .31 .35-.05 .35 .01 .35 .18 .35-.45 .35 .01 .35 .23 .35 .55 .35 .25 .35-.2 .35-.75 .35 .85 .35 0 .35 .03 .35-.12 .35-.52 .35 .27 .35-.05 .35-.45 .35 .57 .35-.3 .35 .77 .35-.31 .35 .16 .35-.86 .35 .76 .35 .11 .35-.38 .35-.23 .35 .27 .35 .07 .35-.12 .35-.13 .35 .4 .35 .25 .35-.7 .35 .7 .35-.93 .35 .71 .35-.38 .35 .2 .35-.19 .35-.3 .35 .09 .35 .93 .35-.64 .35 .6 .35-.48 .35 .43 .35-.52 .35 .62 .35-.58 .35-.25 .35-.09 .35-.12 .35 .04 .35 .65 .35-.36 .35 .58 .35-.77 .35 .83 .35-.85 .35 .09 .35 .08 .35-.09 .35 .17 .35 .44 .35-.83 .35 .19 .35-.22 .35 .82 .35-.75 .35 .44 .35 .41 .35-.64 .35-.23 .35 .17 .35 .77 .35-.97 .35 .87 .35-.85 .35 .04 .35 .7 .35-.16 .35-.37 .35 .43 .35-.64 .35 .84 .35-.36 .35 .42 .35-.4 .35-.04 .35 .33 .35-.32 .35-.58 .35 .6 .35-.37 .35 .39 .35 .41 .35-.46 .35 .26 .35-.56 .35-.41 .35 .04 .35-.04 .35 .22 .35 .06 .35 .05 .35 .38 .35 .1 .35 .02 .35-.03 .35 .11 .35-.16 .35-.31 .35-.06 .35-.39 .35-.09 .35 .97 .35-.83 .35 .83 .35-.55 .35-.41 .35 .89 .35-.14 .35 .32 .35-.54 .35 .45 .35-.5 .35-.3 .35 .16 .35 .29 .35 .26 .35-.09 .35 .12 .35-.47 .35-.09 .35 .06 .35 .47 .35-.67 .35-.37 .35 .38 .35 .3 .35 .2 .35 .12 .35-.31 .35 .14 .35-.01 .35-.01 .35-.26 .35 .4 .35-.07 .35-1.05 .35 .12 .35 1.02 .35-.39 .35-.63 .35 .9 .35-.98 .35 .52 .35-.19 .35-.12 .35-.07 .35-.19 .35 .33 .35-.33 .35 .61 .35-.37 .35 .52 .35 .19 .35-.07 .35-.18 .35 .04 .35-.83 .35 1.03 .35-.48 .35-.04 .35 .14 .35-.59 .35 .33 .35-.42 .35 .94 .35-.51 .35-.45 .35 .99 .35-.47 .35 .19 .35 .05 .35-.13 .35-.32 .35-.2 .35-.28 .35 .67 .35-.62 .35 .3 .35 .61 .35 .01 .35-.11 .35-.76 .35 .89 .35-.97 .35 .92 .35-.21 .35 .26 .35 0 .35-.56 .35-.26 .35 .72 .35-.74 .35 .02 .35 .27 .35-.52 .35 .37 .35-.39 .35 .37 .35 .54 .35 0 .35 .04 .35-.29 .35 .02 .35-.39 .35 .55 .35-.92 .35 .03 .35-.07 .35 .34 .35-.42 .35 .76 .35-.63 .35 .6 .35-.16 .35 .15 .35 0 .35 .1 .35-.38 .35 .1 .35-.39 .35 .29 .35-.5 .35 1.03 .35-.03 .35-1.04 .35-.08 .35 .45 .35 .16 .35-.07 .35-.17 .35 .33 .35-.27 .35 0 .35-.46 .35 .67 .35-.62 .35 .93 .35-.47 .35-.15 .35 .36 .35 .27 .35-.87 .35 .27 .35 .69 .35-.14 .35-.57 .35-.04 .35 .54 .35-.89 .35 .04 .35 .54 .35-.01 .35 0 .35 .23 .35 .13 .35-.58 .35-.09 .35 .63 .35-.73 .35 .75 .35-.21 .35 .17 .35-.26 .35-.64 .35 .73 .35-.26 .35-.38 .35-.1 .35 .19 .35-.17 .35 .01 .35 .85 .35 .13 .35 .05 .35-.53 .35 .01 .35-.61 .35 .07 .35 .78 .35-.24 .35-.01 .35 .23 .35 .07 .35-.12 .35-.84 .35 .64 .35 .35 .35-.02 .35 .15 .35-.51 .35 0 .35-.6 .35 .59 .35 .06 .35 .43 .35-.04 .35-.99 .35 .1 .35 .29 .35 .47 .35-.73 .35 .73 .35-.22 .35 .34 .35-.64 .35 .08 .35-.41 .35 .55 .35 .31 .35-.31 .35 .01 .35 .47 .35-.18 .35-.54 .35 .76 .35-.26 .35-.51 .35-.1 .35 .56 .35-.21 .35 .12 .35-.56 .35 .76 .35 .12 .35-.53 .35-.14 .35 .81 .35 0 .35-1.01 .35 .5 .35-.13 .35-.18 .35 .29 .35 .18 .35-.36 .35-.07 .35 .67 .35-.24 .35-.42 .35-.18 .35 .28 .35 .67 .35-.13 .35-.74 .35 .48 .35-.72 .35 1.08 .35 .05 .35-.87 .35 .16 .35-.05 .35-.14 .35 .6 .35-.36 .35-.44 .35 .26 .35 .53 .35 .05 .35-.82 .35 .65 .35 .11 .35 0 .35 .02 .35 .16 .35-.53 .35 .62 .35-.49 .35-.45 .35 .71 .35-.36 .35 .35 .35-.31 .35 .15 .35 .08 .35 .18 .35-.49 .35 .46 .35-.53 .35 .68 .35-.67 .35-.19 .35-.03 .35 .67 .35-.32 .35 .3 .35-.31 .35 .16 .35 .52 .35 .07 .35-1.05 .35 1.09 .35-.53 .35 .29 .35 .23 .35-.89 .35 .24 .35 .61 .35-.44 .35 .46 .35-.07 .35 .2 .35-.4 .35-.71 .35 1.01 .35-.86 .35-.03 .35 .26 .35-.19 .35-.07 .35 .6 .35 .33 .35-.77 .35 .14 .35 .32 .35-.4 .35 .23 .35 .51 .35-.95 .35 .51 .35-.39 .35 .68 .35-.67 .35 .73 .35-.49 .35 .64 .35-.68 .35 .16 .35-.46 .35 .21 .35 .17 .35 .58 .35-.36 .35 .27 .35 .06 .35-.91 .35 .27 .35 .63 .35-.09 .35-.23 .35-.18 .35 .11 .35-.57 .35 .14 .35 .28 .35-.26 .35 .11 .35 .7 .35-.04 .35-.04 .35-.19 .35 .43 .35-.83 .35 .47 .35-.23 .35 .63 .35-.71 .35-.13 .35 .64 .35 .06 .35-.11 .35 .09 .35-.71 .35 .5 .35-.08 .35 .46 .35-.62 .35-.17 .35 .08 .35 .25 .35 .57 .35-.34 .35 .03 .35-.3 .35-.08 .35 .64 .35-.57 .35-.38 .35 .79 .35-.69 .35 .23 .35 .27 .35 .26 .35-.98 .35 .78 .35-.62 .35 .6 .35-.03 .35-.1 .35-.11 .35 .15 .35 .5 .35-.72 .35 .14 .35-.38 .35 .29 .35-.4 .35 1.04 .35-.68 .35 .72 .35-.96 .35 .63 .35-.07 .35 .08 .35 .16 .35-.86 .35 .8 .35-.85 .35 .33 .35 .66 .35-.33 .35 .44 .35-.08 .35-.52 .35-.17 .35-.09 .35-.19 .35 .81 .35 .11 .35-.91 .35 .54 .35 .41 .35-.23 .35-.26 .35 .64 .35-.63 .35-.13 .35 .23 .35-.18 .35 .05 .35 .13 .35-.5 .35 .64 .35-.03 .35 .16 .35-.56 .35-.24 .35 .8 .35-.4 .35 .27 .35-.39 .35 .1 .35-.1 .35 .28 .35 .18 .35-.49 .35 .1 .35 .18 .35 .28 .35-.39 .35-.37 .35 .55 .35-.07 .35 .65 .35-.5 .35-.64 .35 .72 .35-.67 .35 .34 .35-.4 .35 .68 .35-.51 .35 .92 .35-.9 .35 .94 .35-.07 .35-.47 .35-.07 .35-.09 .35 .44 .35-.68 .35 .2 .35-.35 .35 .44 .35-.28 .35 .87 .35-.56 .35-.27 .35 .06 .35-.12 .35-.1 .35-.05 .35 .8 .35-.73 .35 .88 .35 .15 .35-.06 .35-.89 .35 .74 .35-.23 .35 .41 .35-.78 .35 .38 .35 .01 .35-.51 .35 .49 .35 .15 .35 .1 .35 .06 .35-1 .35 .88 .35-.52 .35 .53 .35-.74 .35 .27 .35 .04 .35 .34 .35-.09 .35 .23 .35-.96 .35 .33 .35 .54 .35-.59 .35 .72 .35-.64 .35 .43 .35-.74 .35 1.04 .35-.97 .35 .36 .35-.03 .35-.1 .35 .28 .35-.01 .35 .32 .35 .21 .35-.2 .35-.1 .35-.63 .35 .02 .35-.24 .35 .1 .35 .82 .35-.87 .35 .26 .35 .13 .35-.27 .35 .22 .35-.11 .35 .19 .35-.27 .35-.19 .35 1.06 .35-.2 .35 .03 .35-.61 .35 .82 .35-.13 .35-.51 .35-.14 .35 .6 .35-.93 .35 .66 .35 .36 .35 .05 .35 .02 .35-.6 .35-.5 .35 .4 .35-.09 .35 .37 .35 .17 .35 .31 .35-.79 .35 .05 .35-.33 .35 .89 .35-.4 .35-.32 .35 .32 .35-.02 .35 .4 .35-.71 .35 .34 .35-.08 .35-.41 .35 .04 .35 .12 .35 .24 .35 .14 .35 .23 .35 .19 .35-.98 .35 1.06 .35-.67 .35 .44 .35-.54 .35 .47 .35-.05 .35-.8 .35 1.02 .35-.99 .35 .54 .35-.34 .35 .45 .35-.49 .35 .51 .35 .19 .35-.21 .35 .29 .35-.54 .35 .34 .35-.27 .35 .56 .35-.98 .35 .93 .35-1.03 .35 1.01 .35-.93 .35 .74 .35-.72 .35 .81 .35-.67 .35-.18 .35 .96 .35-.36 .35 .33 .35-.07 .35-.84 .35 0 .35 .75 .35 .15 .35-.8 .35 .85 .35-1.04 .35 .89 .35-.17 .35-.29 .35 0 .35-.09 .35 .2 .35 .02 .35-.4 .35-.18 .35 .61 .35-.4 .35-.11 .35 .18 .35-.13 .35 .86 .35-.69 .35 .43 .35-.77 .35 .78 .35 .35 .35-.24 .35 .01 .35-.42 .35 .07 .35 .51 .35-.8 .35 .32 .35 .27 .35-.47 .35 .16 .35-.53 .35 .78 .35-.62 .35 .1 .35-.04 .35 .59 .35-.38 .35 .71 .35-.24 .35 .15 .35-.28 .35-.55 .35 .11 .35 .04 .35-.19 .35 .31 .35 .39 .35-.32 .35-.43 .35 .67 .35 .28 .35-.59 .35-.4 .35 .7 .35-.23 .35 .32 .35-.24 .35 .32 .35-1.04 .35 .77 .35-.07 .35 .21 .35-.67 .35 .44 .35-.39 .35 .59 .35-.82 .35 .1 .35 .94 .35-.25 .35-.59 .35 .07 .35 .15 .35-.25 .35-.11 .35 .99 .35-.91 .35 .64 .35-.04 .35 .02 .35-.52 .35-.1 .35 .47 .35 .45 .35-.73 .35-.2 .35 .34 .35-.38 .35 .18 .35 .46 .35-.59 .35 .24 .35 .24 .35-.59 .35-.02 .35 .98 .35-.12 .35 .02 .35-.38 .35-.08 .35-.48 .35 .16 .35-.16 .35 .5 .35-.12 .35-.32 .35-.09 .35 .57 .35-.52 .35-.16 .35 .25" fill="none" stroke="#0072bd" stroke-width="2.1" stroke-linejoin="round" />
<path d="M346.90 96.60l.6-.11 .6-.1 .6-.26 .6 .39 .6-.44 .6 .5 .6 .32 .6-.33 .6 .74 .6-.01 .6-.31 .6 .29 .6 .59 .6 .69 .6-.82 .6 .83 .6-.11 .6 .36 .6 .91 .6-.09 .6-.15 .6 .5 .6 .94 .6 .17 .6-.23 .6 .44 .6 .22 .6-.06 .6 1.31 .6-.59 .6 .29 .6 .18 .6 1.32 .6 .27 .6-.04 .6 .17 .6 .36 .6 .03 .6 .93 .6-.13 .6 .65 .6 .08 .6 .25 .6 .26 .6 .4 .6 .31 .6 .1 .6-.19 .6 .18 .6 .17 .6 1.08 .6-.21 .6-.35 .6 .99 .6 .58 .6 .32 .6 .26 .6 .16 .6-.64 .6 .66 .6 .47 .6 .15 .6-.14 .6-.19 .6 1.29 .6 .06 .6 .31 .6-.41 .6 .01 .6 .94 .6-.07 .6 .19 .6-.64 .6 .25 .6 .99 .6 .29 .6-.53 .6 .8 .6-.74 .6 .64 .6-.16 .6 .36 .6-.3 .6 .36 .6 .22 .6 .28 .6-.36 .6 .63 .6-.39 .6 1.09 .6-.83 .6-.06 .6 .31 .6 .49 .6-.06 .6 .36 .6-.62 .6 .48 .6 .26 .6 .61 .6-.05 .6-.34 .6-.3 .6-.19 .6 .71 .6-.05 .6-.09 .6 .34 .6-.32 .6 .42 .6-.64 .6 .04 .6 .74 .6-.46 .6 .46 .6-1.2 .6 1.08 .6-1.18 .6 .84 .6-.28 .6-.67 .6 .17 .6 .15 .6 .02 .6-.18 .6-.7 .6 1.17 .6-.94 .6 .38 .6 .16 .6-.05 .6-1.16 .6 .82 .6-.62 .6 .07 .6-.67 .6-.26 .6 .45 .6 .31 .6-.77 .6 .58 .6-.46 .6-1.04 .6 1.08 .6-1.22 .6 .02 .6 .33 .6 .37 .6-1.19 .6 .09 .6-.46 .6-.07 .6 .33 .6 .07 .6-.21 .6-.74 .6 .38 .6-.11 .6 .53 .6-.95 .6 .27 .6-.34 .6 .25 .6-.38 .6 .38 .6-.63 .6-.55 .6-.05 .6 .44 .6-.82 .6 .6 .6-.81 .6 .52 .6-1.23 .6 .71 .6-.62 .6-.45 .6 .34 .6-.87 .6 .04 .6 .73 .6-.59 .6-.39 .6-.41 .6-.11 .6-.04 .6 .18 .6-.73 .6 .13 .6 .18 .6 .51 .6-.13 .6-.01 .6-1.08 .6-.23 .6 .9 .6-.29 .6-.71 .6 .18 .6 .59 .6-.22 .6 .09 .6-.68 .6-.49 .6 .41 .6-.66 .6-.07 .6-.1 .6 .15 .6-.19 .6 .07 .6 .54 .6-.1 .6-.97 .6 1.1 .6-.12 .6 .11 .6-1.07 .6 .65 .6-.3 .6 .15 .6 .22 .6-1.21 .6 1.01 .6-.03 .6-.36 .6-.39 .6 .15 .6-.62 .6 .81 .6-.32 .6-.01 .6 .14 .6-.9 .6-.11 .6 .06 .6-.09 .6 .98 .6-.98 .6 .32 .6 .36 .6-.59 .6 .9 .6-.02 .6-.76 .6 .26 .6 .27 .6 .26 .6-.42 .6-.36 .6-.58 .6 .85 .6 .02 .6 .05 .6-.49 .6 .74 .6-.38 .6-.29 .6-.18 .6-.29 .6 .99 .6-.55 .6 .8 .6-.74 .6 0 .6 .72 .6-.55 .6 .9 .6-.57 .6 .57 .6-1.13 .6-.07 .6-.01 .6 1.29 .6-.53 .6 .42 .6-.25 .6 .69 .6-.18 .6-.42 .6-.38 .6 .35 .6 .06 .6 .01 .6 .58 .6 .23 .6 .05 .6-.86 .6 .02 .6 .8 .6 .15 .6 .14 .6 .24 .6-.77 .6-.32 .6 .5 .6 0 .6-.25 .6 .9 .6-.18 .6 .23 .6 .43 .6-.37 .6 .52 .6-.04 .6-.35 .6 .2 .6-.16 .6-.06 .6 .57 .6-.13 .6-.28 .6 .48 .6-.11 .6-.57 .6 1 .6-.31 .6 .7 .6 .01 .6-1.1 .6 .28 .6 .7 .6-.68 .6 .99 .6-.17 .6 .48 .6-.84 .6 .57 .6-.07 .6 .19 .6 .46 .6-.83 .6-.11 .6 .92 .6-.91 .6 .66 .6 .63 .6-.05 .6-.16 .6-.95 .6 1.52 .6-.73 .6-.17 .6-.27 .6 .18 .6-.08 .6 .84 .6-.2 .6-.06 .6 .85 .6-1.05 .6 .59 .6 .64 .6 .1 .6-.12 .6-.22 .6-.49 .6 .42 .6 .57 .6 .13 .6-.2 .6 .5 .6-.45 .6 .48 .6 .14 .6-1.07 .6 .02 .6 1.33 .6-1.01 .6 .28 .6 .01 .6 .69 .6-1.24 .6 .77 .6 0 .6-.52 .6 .57 .6 .69 .6-1.22 .6 .34 .6 .59 .6-.07 .6 .37 .6-.6 .6-.31 .6 .42 .6 .74 .6-.57 .6-.03 .6 .63 .6-.27 .6-.66 .6 .41 .6 .85 .6-1.34 .6 1.17 .6-.68 .6 .71 .6-.88 .6 .79 .6 .34 .6-1.22 .6 1.41 .6-1.31 .6-.13 .6 1.28 .6-.47 .6-.73 .6 .97 .6-.22 .6 .77 .6-.02 .6-.15 .6-.56 .6 .46 .6-.13 .6-.73 .6 .74 .6-.71 .6 .19 .6-.55 .6 .08 .6 .56 .6 .52 .6-.08 .6-1.02 .6 .59 .6-.39 .6-.17 .6 .23 .6 .48 .6 .37 .6-1.33 .6 .28 .6 .7 .6-.42 .6-.2 .6 .63 .6-1.27 .6 1.45 .6-1.1 .6 .89 .6-.05 .6-.02 .6-.38 .6 .01 .6-.98 .6 .57 .6 .28 .6-.59 .6 .62 .6-.24 .6 .15 .6 .27 .6-.87 .6 .43 .6-.96 .6 1.17 .6-.01 .6-.24 .6-.02 .6-.25 .6-.41 .6 .72 .6-1.11 .6 .69 .6-.8 .6 1 .6-.43 .6 .18 .6-.79 .6 .37 .6 .36 .6-.39 .6 .42 .6-1.07 .6 .41 .6-.44 .6 .99 .6-.59 .6 .54 .6-.01 .6-1.2 .6 .91 .6 .27 .6 .15 .6-1.38 .6-.03 .6 .54 .6 .46 .6-1.08 .6 1.41 .6-.5 .6-1.18 .6 1.16 .6-.56 .6-.46 .6 .76 .6 .05 .6-.2 .6-.65 .6-.16 .6-.24 .6 .13 .6 .27 .6-.08 .6-.48 .6 1.23 .6-1.13 .6-.22 .6 .16 .6 .34 .6 .26 .6-.94 .6 .07 .6-.25 .6 .57 .6 .95 .6-.4 .6 .08 .6 .06 .6-1.19 .6 .67 .6-.43 .6-.12 .6 .62 .6-.37 .6 .07 .6-.62 .6 1.08 .6-.51 .6-.07 .6 .18 .6 .23 .6-1.26 .6 .12 .6 1.16 .6-.52 .6 .34 .6-.95 .6 1.08 .6-.95 .6 .61 .6 .17 .6-.68 .6-.18 .6 .13 .6-.62 .6-.11 .6 1.47 .6-.49 .6-.96 .6 .85 .6-.57 .6 1 .6-.81 .6-.58 .6 1.1 .6 .56 .6-.42 .6 .38 .6-1.45 .6 .33 .6 .83 .6-.53 .6-.47 .6 .29 .6-.09 .6 .72 .6 .13 .6-.05 .6-.1 .6 .14 .6 .31 .6-1.11 .6 .04 .6 1.22 .6-.16 .6-.36 .6 .24 .6-.24 .6-.56 .6 .46 .6-.54 .6-.23 .6 .43 .6 .82 .6-1.13 .6-.14 .6 .34 .6 .96 .6 .19 .6-1.03 .6 1.2 .6-.81 .6 .38 .6-.01 .6-.36 .6 .7 .6 .12 .6-.71 .6-.28 .6 1.13 .6-.39 .6-.56 .6-.33 .6 .43 .6 .1 .6 .67 .6-.17 .6-.31 .6 .71 .6-.53 .6 .5 .6-1.36 .6 .05 .6 1.38 .6-.19 .6-.81 .6-.22 .6-.06 .6 .46 .6 1.01 .6-1.19 .6 .13 .6 1.04 .6-1.11 .6 .12 .6 .92 .6 .22 .6 .17 .6-1.55 .6 .52 .6 .52 .6-.46 .6 .74 .6-.88 .6 .69 .6-.75 .6 0 .6 1.16 .6-.27 .6-.08 .6-.32 .6 .55 .6 .52 .6-1 .6-.56 .6 .4 .6 .95 .6-.84 .6 .84 .6-.96 .6 .72 .6-.39 .6 .32 .6-.26 .6 .41 .6 .28 .6-.04 .6-.46 .6-.68 .6 1.43 .6-1.27 .6 .51 .6 .75 .6 .36 .6-.44 .6-1.07 .6 1.54 .6-1.63 .6 0 .6 1.27 .6 .35 .6-.49 .6 .44 .6-.39 .6-1 .6 .98 .6 .28 .6-.48 .6 .41 .6-.43 .6-.64 .6 1.38 .6-1.17 .6 .01 .6-.13 .6 .4 .6 .11 .6-.35 .6-.06 .6 .53 .6-.79 .6 .88 .6-.69 .6 .05 .6-.01 .6 1.32 .6-.05 .6 .31 .6-.32 .6-.54 .6-.2 .6 .35 .6 .08 .6 .65 .6-1.18 .6 1.03 .6 .09 .6 0 .6-.6 .6-.02 .6 .7 .6-1.07 .6 .66 .6-1.28 .6 .29 .6 .48 .6 .42 .6-1.03 .6 1.17 .6-.45 .6-.81 .6-.19 .6 .65 .6 .78 .6 .27 .6-.4 .6-.99 .6 1.23 .6-1.38 .6 .44 .6 .49 .6-.62 .6-.03 .6 .18 .6 .86 .6-.81 .6-.72 .6 .49 .6 .41 .6-.09 .6 .75 .6-.84 .6 .51 .6-.08 .6-.54 .6-.1 .6 .06 .6-.65 .6-.07 .6 .03 .6 .02 .6-.1 .6 .57 .6-.48 .6 1.53 .6-1.08 .6-.76 .6 1.21 .6 .08 .6 .43 .6-1.34 .6 .13 .6 .79 .6-.25 .6-.02 .6 .57 .6 .1 .6-1.87 .6 .7 .6 1.02 .6-1.75 .6 .59 .6 .78 .6-1.31 .6 .94 .6 .62 .6-.75 .6-1.01 .6 .19 .6 .54 .6-.77 .6 1.21 .6-.76 .6 .13 .6 .81 .6-.11 .6 .11 .6-1.17 .6 .28 .6 .54 .6-.28 .6 .57 .6-.77 .6 .93 .6-1.32 .6 .81 .6 .26 .6 .34 .6-1.17 .6 .94 .6-.55 .6 .06 .6-.74 .6 1.16 .6-1.55 .6 1.74 .6-.82 .6 .01 .6-.78 .6 .93 .6-1 .6 1.28 .6-.18 .6-1.11 .6 1.17 .6-.31 .6-.65 .6 .68 .6 .05 .6-.38 .6 .36 .6 .17 .6 .18 .6-.13 .6-1.38 .6 1.42 .6 .16 .6-.89 .6 .79 .6-1.3 .6-.36 .6 .76 .6-.63 .6 .02 .6 .59 .6 1 .6-.87 .6 .88 .6-.91 .6-.1 .6-.84 .6 .11 .6 1.5 .6-.36 .6-.23 .6 .61 .6-.46 .6-.7 .6 1.11 .6-.26 .6-1.23 .6 1.42 .6-.88 .6 .91 .6-.04 .6 .16 .6-1.51 .6 1.18 .6-.8 .6 1.04 .6-1.41 .6 1.44 .6 .19 .6-.86 .6 .06 .6 .12 .6 .55 .6-1.54 .6 1.46 .6-.96 .6 .11 .6 .89 .6-1.42 .6 .04 .6 1.03 .6 .1 .6-.96 .6 .89 .6-.63 .6-.62 .6 .45 .6-.19 .6 .56 .6 0 .6-.12 .6 1 .6-.99 .6-.36 .6 1.44 .6-.58 .6 .6 .6-.95 .6 .3 .6-.52 .6 1.21 .6-1.3 .6 1.25 .6-1.11 .6 .82 .6-.23 .6 .26 .6-1.08 .6 1.51 .6-.95 .6-.79 .6 1.16 .6-1.14 .6 1.09 .6 .14 .6-.97 .6-.16 .6 .04 .6 1 .6 .18 .6 .34 .6-1.13 .6-.42 .6 1.02 .6 .4 .6-.2 .6-.45 .6-.41 .6 .88 .6 .25 .6-1.2 .6 .94 .6 .13 .6 .43 .6-1.17 .6 .04 .6-.65 .6 .22 .6 1.12 .6-.89 .6 1.22 .6-1.11 .6 .91 .6-.82 .6 .76 .6-.59 .6-.43 .6 0 .6 .16 .6-.31 .6 1.43 .6 .11 .6-.23 .6-1.5 .6 1.68 .6-.16 .6 .1 .6-.39 .6-.8 .6 .18 .6 .18 .6-.38 .6-.29 .6 1.76 .6-1.06 .6 .42 .6-.94 .6 1.43 .6-.19 .6-1.35 .6 .31 .6 1.04 .6-1.3 .6-.05 .6 .19 .6 .05 .6 1.2 .6 .03 .6-.4 .6-.5 .6 .92 .6-.28 .6-1.08 .6 .25 .6 .97 .6-.24 .6-.32 .6 .26 .6-.54 .6 .66 .6-.85 .6 1.62 .6-.31 .6-.61 .6 .92 .6-.57 .6-.18 .6 .13 .6 .11 .6 .55 .6-.38 .6-1.04 .6-.33 .6 1.64 .6-.34 .6-.3 .6-.17 .6 .88 .6-1.72 .6 .22 .6 .31 .6 1.29 .6-.57 .6-.18 .6-.49 .6-.34 .6-.27 .6 .24 .6 .06 .6 .64 .6-.27 .6 1.16 .6-.1 .6-.7 .6-.74 .6 .29 .6-.55 .6 1.21 .6-.53 .6 1.03 .6-1.16 .6 1.02 .6-.87 .6 .49 .6-.57 .6 .87 .6-1.11 .6-.13 .6-.2 .6 .62 .6 .67 .6-.51 .6 .72 .6-.49 .6-.1 .6-.06 .6-.88 .6 1.05 .6-.76 .6-.21 .6 .04 .6 .12 .6 .87 .6-.64 .6 .02 .6 .22 .6 1.03 .6-1.33 .6 .09 .6-.1 .6 .12 .6-.03 .6 1.01 .6 .28 .6-1.11 .6 .9 .6-1.45 .6 .72 .6 .64 .6-1.39 .6 1.73 .6-1.14 .6 .19 .6 .84 .6-.05 .6-1.35 .6 .47 .6 .53 .6-.52 .6 .91 .6-1.41 .6 1.47 .6-.67 .6-.02 .6 .13 .6-.79 .6 .34 .6-.43 .6 1.11 .6-.9 .6-.36 .6 1.42 .6-1.04 .6 1.15 .6-.96 .6 .39 .6 .25 .6-.51 .6 .81 .6-.25 .6 .15 .6-.69 .6-.76 .6 .08 .6-.05 .6 .73 .6 .79 .6-.76 .6-.23 .6-.61 .6 .5 .6-.36 .6 .51 .6 0 .6 .91 .6-1.03 .6 .92 .6-1.6 .6 .58 .6 .71 .6-.52 .6-.7 .6 .52 .6 .37 .6 .76 .6-1.36 .6-.29 .6 1.27 .6-.27 .6-.51 .6 .08 .6-.13 .6 .64 .6 .38 .6-1.08 .6 1.16 .6-.94 .6 .14 .6-.45 .6-.33 .6 .21 .6 .1 .6 .35 .6 .1 .6 .66 .6-.92 .6 .77 .6-.98 .6 .42 .6-.76 .6 1.54 .6-1.03 .6 .55 .6-.16 .6-.14 .6-.48 .6 1.11 .6-.67 .6-.65 .6-.07 .6 .76 .6 .12 .6-.56 .6-.08 .6 1.13 .6-.29 .6-1.03 .6 1.26 .6-1.43 .6 1.49 .6-.02 .6-1.36 .6 1.64 .6-.17 .6-1.38 .6 .9 .6-.37 .6-.61 .6 .11" fill="none" stroke="#ffffff" stroke-width="0.45" stroke-linejoin="round" stroke-opacity="0.4"/>
</g>
<line x1="130.50" y1="65.25" x2="1052.50" y2="65.25" stroke="#111111" stroke-width="1.3" stroke-dasharray="9.8 6.2" stroke-dashoffset="1.5"/>
<text x="121.72" y="253.90" font-size="29.8" letter-spacing="0.0">0</text>
<text x="266.43" y="253.90" font-size="29.8" letter-spacing="0.0" dx="1.5 -1.5">10</text>
<rect x="269.42" y="250.15" width="6.00" height="4.55" fill="#fff"/>
<rect x="278.02" y="250.15" width="5.66" height="4.55" fill="#fff"/>
<text x="420.43" y="253.90" font-size="29.8" letter-spacing="0.0">20</text>
<text x="574.43" y="253.90" font-size="29.8" letter-spacing="0.0">30</text>
<text x="728.43" y="253.90" font-size="29.8" letter-spacing="0.0">40</text>
<text x="882.43" y="253.90" font-size="29.8" letter-spacing="0.0">50</text>
<text x="1035.43" y="253.90" font-size="29.8" letter-spacing="0.0">60</text>
<text x="101.83" y="224.70" font-size="29.8" letter-spacing="0.0">0</text>
<text x="101.83" y="125.70" font-size="29.8" letter-spacing="0.0" dx="1.5">1</text>
<rect x="104.82" y="121.95" width="6.00" height="4.55" fill="#fff"/>
<rect x="113.42" y="121.95" width="5.66" height="4.55" fill="#fff"/>
<text x="101.83" y="27.70" font-size="29.8" letter-spacing="0.0">2</text>
<text x="592.22" y="286.70" font-size="31.8" text-anchor="middle" letter-spacing="0.45">Time (s)</text>
<text transform="translate(49.80 189.20) rotate(-90)" font-size="32.0" text-anchor="start">P<tspan font-size="26.0" dy="16.20" dx="0.00 2.00">DG</tspan><tspan dy="-16.20" dx="-1.20 0.00 0.40 0.50 0.50"> (MW)</tspan></text>
<line x1="484.40" y1="40.30" x2="564.50" y2="40.30" stroke="#62d216" stroke-width="2.7"/>
<text x="570.60" y="51.60" font-size="29.0" text-anchor="start" fill="#000" style="fill:#000">bus-20</text>
<line x1="676.60" y1="40.30" x2="756.50" y2="40.30" stroke="#d95319" stroke-width="2.7"/>
<text x="762.60" y="51.60" font-size="29.0" text-anchor="start" fill="#000" style="fill:#000">bus-40</text>
<line x1="868.50" y1="40.30" x2="947.50" y2="40.30" stroke="#0072bd" stroke-width="2.7"/>
<text x="954.40" y="51.60" font-size="29.0" text-anchor="start" fill="#000" style="fill:#000">bus-50</text>
</g>
<g id="ax2">
<clipPath id="clip2"><rect x="130.00" y="323.00" width="919.00" height="184.00"/></clipPath>
<line x1="282.50" y1="323.50" x2="282.50" y2="505.50" stroke="#262626" stroke-opacity="0.15" stroke-width="1.0"/>
<line x1="436.50" y1="323.50" x2="436.50" y2="505.50" stroke="#262626" stroke-opacity="0.15" stroke-width="1.0"/>
<line x1="589.50" y1="323.50" x2="589.50" y2="505.50" stroke="#262626" stroke-opacity="0.15" stroke-width="1.0"/>
<line x1="742.50" y1="323.50" x2="742.50" y2="505.50" stroke="#262626" stroke-opacity="0.15" stroke-width="1.0"/>
<line x1="895.50" y1="323.50" x2="895.50" y2="505.50" stroke="#262626" stroke-opacity="0.15" stroke-width="1.0"/>
<line x1="130.50" y1="445.50" x2="1047.50" y2="445.50" stroke="#262626" stroke-opacity="0.15" stroke-width="1.0"/>
<line x1="130.50" y1="384.50" x2="1047.50" y2="384.50" stroke="#262626" stroke-opacity="0.15" stroke-width="1.0"/>
<line x1="282.50" y1="505.50" x2="282.50" y2="496.50" stroke="#262626" stroke-width="1.15"/>
<line x1="282.50" y1="323.50" x2="282.50" y2="332.50" stroke="#262626" stroke-width="1.15"/>
<line x1="436.50" y1="505.50" x2="436.50" y2="496.50" stroke="#262626" stroke-width="1.15"/>
<line x1="436.50" y1="323.50" x2="436.50" y2="332.50" stroke="#262626" stroke-width="1.15"/>
<line x1="589.50" y1="505.50" x2="589.50" y2="496.50" stroke="#262626" stroke-width="1.15"/>
<line x1="589.50" y1="323.50" x2="589.50" y2="332.50" stroke="#262626" stroke-width="1.15"/>
<line x1="742.50" y1="505.50" x2="742.50" y2="496.50" stroke="#262626" stroke-width="1.15"/>
<line x1="742.50" y1="323.50" x2="742.50" y2="332.50" stroke="#262626" stroke-width="1.15"/>
<line x1="895.50" y1="505.50" x2="895.50" y2="496.50" stroke="#262626" stroke-width="1.15"/>
<line x1="895.50" y1="323.50" x2="895.50" y2="332.50" stroke="#262626" stroke-width="1.15"/>
<line x1="130.50" y1="445.50" x2="139.50" y2="445.50" stroke="#262626" stroke-width="1.15"/>
<line x1="1047.50" y1="445.50" x2="1038.50" y2="445.50" stroke="#262626" stroke-width="1.15"/>
<line x1="130.50" y1="384.50" x2="139.50" y2="384.50" stroke="#262626" stroke-width="1.15"/>
<line x1="1047.50" y1="384.50" x2="1038.50" y2="384.50" stroke="#262626" stroke-width="1.15"/>
<rect x="130.50" y="323.50" width="917.00" height="182.00" fill="none" stroke="#262626" stroke-width="1.0"/>
<g clip-path="url(#clip2)">
<path d="M130.50 505.50l.5-.02 .5-.12 .5 .16 .5-.48 .5 .02 .5-.17 .5-.1 .5 .01 .5-.01 .5-.2 .5-.49 .5-.06 .5 .05 .5-.1 .5-.12 .5-.5 .5-.14 .5-.46 .5 .06 .5-.36 .5-.1 .5-.21 .5-.51 .5-.32 .5 .11 .5-.28 .5-.13 .5-.58 .5-.57 .5-.3 .5 .22 .5-.47 .5-.67 .5-.18 .5-.47 .5 0 .5-.37 .5-.24 .5-.52 .5-.52 .5-.07 .5-.69 .5-.17 .5-.69 .5-.35 .5-.19 .5-.58 .5-.05 .5-.59 .5-.14 .5-.59 .5-.39 .5-.43 .5-.56 .5-.28 .5-.04 .5-.49 .5-.31 .5-.56 .5-.48 .5 .02 .5-.56 .5-.11 .5-.75 .5-.14 .5-.13 .5-.14 .5-.73 .5 .17 .5-.47 .5-.56 .5-.39 .5 .28 .5-.42 .5-.24 .5-.44 .5-.45 .5-.02 .5-.15 .5-.47 .5 .17 .5-.35 .5-.69 .5-.07 .5 .13 .5-.32 .5-.19 .5-.6 .5 .2 .5-.36 .5-.37 .5-.04 .5-.48 .5 .18 .5-.7 .5-.09 .5 .06 .5-.38 .5 .08 .5-.23 .5-.29 .5-.38 .5-.15 .5-.25 .5-.2 .5-.37 .5-.03 .5 .08 .5-.27 .5-.29 .5-.18 .5-.25 .5-.22 .5-.11 .5 .12 .5 .03 .5-.29 .5-.35 .5-.01 .5-.4 .5-.16 .5-.15 .5 .18 .5-.11 .5-.38 .5 .35 .5-.59 .5 .11 .5-.02 .5-.47 .5 .04 .5 .06 .5 0 .5-.09 .5-.09 .5-.44 .5-.08 .5 .41 .5-.49 .5 .07 .5 .23 .5-.53 .5 .45 .5-.17 .5-.19 .5-.13 .5 .14 .5 .16 .5-.4 .5 0 .5 .14 .5 .17 .5-.25 .5-.01 .5 .32 .5-.26 .5 .16 .5-.06 .5-.07 .5-.05 .5 .15 .5 .13 .5-.38 .5 .1 .5 .01 .5 .4 .5-.25 .5 .12 .5 .09 .5 .33 .5-.52 .5 .17 .5 .48 .5-.18 .5 .01 .5 .42 .5-.43 .5 .01 .5 .61 .5 .03 .5-.1 .5-.08 .5 .38 .5-.29 .5 .23 .5-.07 .5 .22 .5-.17 .5 .35 .5 .07 .5 .39 .5-.28 .5 .16 .5-.15 .5 .16 .5 .04 .5 .52 .5-.43 .5 .39 .5 .2 .5 .14 .5-.06 .5-.23 .5 .53 .5-.16 .5 .09 .5 .31 .5-.44 .5 .51 .5 .11 .5 .04 .5-.2 .5 .52 .5-.32 .5 .14 .5 .4 .5 .14 .5-.3 .5 .21 .5 .32 .5-.1 .5-.1 .5 .17 .5 .24 .5 .15 .5-.17 .5 .01 .5 .44 .5-.2 .5 .05 .5 .1 .5 .05 .5 .02 .5 .23 .5-.05 .5 .36 .5-.25 .5 .22 .5 .43 .5-.22 .5 .34 .5-.33 .5 .41 .5-.34 .5 .59 .5 .08 .5-.09 .5-.22 .5 .4 .5 .1 .5-.01 .5 .14 .5-.24 .5 .38 .5-.26 .5 .24 .5 0 .5-.05 .5 .1 .5 .44 .5-.43 .5 .31 .5 .06 .5-.16 .5 .04 .5 .26 .5 .01 .5-.01 .5 .05 .5 .03 .5 .29 .5 .25 .5-.36 .5 .1 .5 .22 .5-.2 .5-.07 .5 .35 .5-.14 .5-.18 .5 .23 .5 .36 .5-.46 .5 .54 .5-.14 .5 .16 .5-.13 .5 .12 .5 .13 .5-.4 .5-.01 .5 .31 .5-.03 .5 .05 .5-.07 .5 .39 .5-.2 .5 .02 .5-.32 .5 .16 .5 .02 .5 .45 .5-.5 .5 .23 .5 .15 .5-.06 .5 .1 .5-.24 .5-.11 .5 .04 .5 .2 .5-.02 .5-.07 .5 .31 .5-.32 .5-.11 .5 .22 .5-.02 .5 .12 .5-.15 .5-.34 .5 .27 .5-.19 .5 .01 .5 .31 .5 .1 .5-.08 .5-.4 .5 .1 .5 .23 .5-.03 .5-.49 .5 .11 .5 .16 .5-.26 .5-.13 .5 .09 .5 .16 .5 .08 .5-.01 .5-.14 .5-.01 .5-.07 .5 .13 .5-.12 .5-.01 .5 .1 .5-.5 .5-.08 .5 .26 .5-.09 .5 .25 .5-.39 .5 .18 .5-.02 .5-.31 .5-.17 .5 .21 .5-.16 .5-.04 .5 .13 .5-.2 .5 .19 .5 0 .5-.12 .5 .03 .5-.26 .5 .2 .5 .13 .5-.03 .5-.47 .5 .1 .5 .2 .5-.1 .5-.15 .5 .24 .5 .01 .5-.23 .5-.21 .5 .4 .5-.32 .5-.1 .5-.16 .5 .47 .5-.17 .5-.4 .5 .05 .5 .42 .5-.53 .5 .34 .5-.08 .5-.07 .5 .1 .5-.24 .5 .16 .5 .13 .5-.21 .5-.05 .5 .03 .5-.27 .5 .07 .5 .21 .5-.11 .5-.29 .5 .43 .5-.3 .5-.12 .5-.07 .5 .44 .5-.13 .5-.27 .5-.09 .5 .38 .5-.44 .5 .21 .5 .07 .5 .15 .5-.16 .5-.36 .5 .23 .5 .23 .5-.4 .5-.12 .5-.02 .5 .46 .5 .05 .5-.29 .5-.1 .5 .06 .5-.14 .5 .16" fill="none" stroke="#62d216" stroke-width="2.4" stroke-linejoin="round" />
<path d="M345.40 479.39l.35 .05 .35-.34 .35 .7 .35-.28 .35-.04 .35 .21 .35-.62 .35 .43 .35-.17 .35 .23 .35 .24 .35-.69 .35 .09 .35 .15 .35 .16 .35 .24 .35-.06 .35-.14 .35-.28 .35 .27 .35-.04 .35-.25 .35 .65 .35-.04 .35-.17 .35-.28 .35 .27 .35-.18 .35 .27 .35-.47 .35 .47 .35-.02 .35 .31 .35-.27 .35 .18 .35-.43 .35 .28 .35-.17 .35 .55 .35 0 .35-.56 .35 .32 .35-.43 .35 .41 .35 .37 .35-.67 .35 .49 .35-.15 .35 .4 .35-.45 .35 .35 .35-.17 .35 .18 .35 .06 .35-.15 .35-.22 .35 .22 .35 .17 .35 .04 .35-.13 .35-.12 .35-.29 .35 .05 .35 .44 .35-.18 .35 .25 .35-.11 .35-.08 .35-.14 .35 .54 .35-.44 .35 .31 .35-.41 .35 .72 .35-.63 .35 .3 .35 .27 .35-.44 .35 .35 .35-.17 .35 .47 .35-.65 .35 .07 .35 .31 .35 .14 .35-.07 .35-.29 .35 .27 .35-.32 .35 .51 .35-.25 .35 .54 .35-.44 .35-.26 .35-.01 .35 .28 .35-.03 .35 .59 .35-.12 .35-.31 .35-.07 .35-.13 .35 .07 .35 .52 .35-.53 .35 .61 .35-.29 .35 .25 .35-.03 .35-.39 .35 .55 .35 .12 .35-.61 .35 .73 .35-.12 .35-.14 .35 .09 .35-.51 .35 .17 .35 .57 .35-.01 .35-.51 .35 .29 .35-.15 .35-.11 .35 .5 .35-.07 .35-.47 .35 .5 .35-.52 .35 .09 .35 .28 .35-.29 .35 .41 .35 .15 .35-.33 .35 .38 .35-.49 .35 .03 .35 .35 .35-.37 .35 .62 .35 .13 .35-.71 .35 .67 .35-.17 .35 .35 .35-.13 .35 .11 .35-.02 .35 .01 .35-.06 .35 .14 .35-.66 .35 .61 .35-.09 .35-.24 .35 .08 .35-.25 .35 .18 .35 .35 .35-.12 .35 .32 .35-.53 .35-.01 .35 .43 .35 .2 .35-.48 .35 .04 .35-.27 .35 .16 .35 .57 .35 .07 .35-.39 .35 .31 .35-.51 .35 .36 .35 .23 .35-.46 .35 .25 .35 .1 .35-.49 .35 .1 .35 .28 .35-.27 .35-.07 .35 0 .35 .52 .35-.26 .35 .08 .35 .07 .35-.26 .35 .28 .35-.17 .35-.3 .35 .36 .35-.02 .35 .16 .35 .22 .35-.76 .35 .47 .35 .07 .35-.18 .35-.04 .35 .23 .35-.15 .35-.1 .35 .19 .35-.04 .35-.44 .35 .23 .35 .44 .35-.62 .35 .3 .35 .09 .35-.43 .35 .06 .35 .1 .35 .22 .35-.4 .35 .53 .35-.07 .35 .09 .35-.47 .35 .24 .35 .26 .35-.36 .35 .11 .35-.14 .35 .27 .35-.1 .35 .1 .35 .17 .35-.16 .35-.18 .35-.27 .35 .21 .35 .35 .35 .03 .35-.73 .35 .45 .35-.55 .35 .07 .35 .21 .35-.24 .35 .46 .35-.14 .35-.1 .35 .38 .35-.42 .35-.09 .35 .02 .35-.23 .35 .58 .35-.07 .35-.2 .35 .33 .35-.42 .35-.1 .35-.16 .35 .11 .35 .22 .35-.11 .35 .09 .35-.33 .35-.03 .35 .53 .35-.22 .35 .3 .35 .05 .35-.42 .35 .08 .35 .25 .35-.54 .35 .56 .35-.38 .35-.11 .35 .18 .35 .14 .35 .16 .35-.02 .35-.67 .35 .1 .35 .14 .35-.24 .35 .32 .35 0 .35 .05 .35-.15 .35-.1 .35 .29 .35-.45 .35-.02 .35 .58 .35-.47 .35-.03 .35 .07 .35 .27 .35-.29 .35 .35 .35-.02 .35-.21 .35 .44 .35-.15 .35-.53 .35 .08 .35-.11 .35 .5 .35-.44 .35 .21 .35-.31 .35 .66 .35-.11 .35-.08 .35 .02 .35-.29 .35-.15 .35-.15 .35 .33 .35 .41 .35-.75 .35 .14 .35 .28 .35-.39 .35 .18 .35 .38 .35-.46 .35 .07 .35-.03 .35-.07 .35 .51 .35 .11 .35-.31 .35-.29 .35-.01 .35 .37 .35 .02 .35 .08 .35-.59 .35 .05 .35 .12 .35 .07 .35 .32 .35-.63 .35 .18 .35-.16 .35 .58 .35-.09 .35 .08 .35-.42 .35 .17 .35 .3 .35-.74 .35 .66 .35-.04 .35-.29 .35 .29 .35-.02 .35-.5 .35 .67 .35-.03 .35-.59 .35 .59 .35-.35 .35-.04 .35 .22 .35 .12 .35-.57 .35-.12 .35 .6 .35-.34 .35 .09 .35-.07 .35 .34 .35-.27 .35 .11 .35 .05 .35-.66 .35 .47 .35 .04 .35-.44 .35 .05 .35-.09 .35 .29 .35 .31 .35-.46 .35 .53 .35-.69 .35 .23 .35-.1 .35 .62 .35-.68 .35 .58 .35-.29 .35-.22 .35 .13 .35-.25 .35 .4 .35 .05 .35-.2 .35 .3 .35-.02 .35-.09 .35 .07 .35-.28 .35-.24 .35 .31 .35-.06 .35-.27 .35 .47 .35-.22 .35 .2 .35-.42 .35 .03 .35-.12 .35 .7 .35-.19 .35-.33 .35-.23 .35 .25 .35 .38 .35 .1 .35-.64 .35 .65 .35-.62 .35-.15 .35 .09 .35-.1 .35 .19 .35 .45 .35-.25 .35 .27 .35-.6 .35 .56 .35-.53 .35 .16 .35 .53 .35-.18 .35 0 .35-.07 .35-.24 .35 .22 .35-.17 .35 .31 .35-.1 .35 .19 .35-.04 .35 0 .35-.65 .35-.06 .35 .31 .35 .49 .35-.29 .35-.02 .35 .21 .35-.16 .35-.45 .35 .31 .35 .34 .35-.05 .35-.64 .35 .81 .35-.41 .35-.2 .35 .13 .35 .44 .35-.03 .35-.47 .35 .25 .35-.49 .35 .62 .35-.62 .35 .56 .35-.34 .35-.14 .35-.01 .35 .73 .35-.65 .35 .22 .35-.27 .35 .29 .35 .29 .35-.49 .35 .41 .35-.31 .35-.2 .35 .6 .35-.4 .35 .26 .35 .27 .35-.19 .35-.34 .35 .25 .35 .12 .35-.46 .35 .65 .35-.63 .35-.16 .35 .43 .35-.04 .35-.28 .35 .29 .35-.18 .35 .48 .35-.28 .35 .04 .35-.33 .35 .71 .35-.61 .35 .3 .35 .17 .35-.22 .35-.17 .35 .29 .35 .07 .35-.5 .35 .1 .35-.05 .35-.14 .35 .53 .35 .33 .35-.63 .35 .59 .35-.48 .35 .47 .35-.71 .35 .2 .35 .47 .35 .06 .35-.09 .35-.1 .35-.32 .35 .59 .35-.35 .35 .22 .35-.36 .35 .47 .35-.27 .35 .09 .35-.5 .35 .25 .35-.28 .35 .23 .35 .2 .35-.24 .35-.25 .35 .38 .35 .3 .35-.33 .35 .35 .35-.33 .35 .15 .35-.22 .35-.18 .35 .62 .35-.24 .35 .26 .35-.01 .35 .01 .35-.35 .35-.07 .35-.06 .35 .22 .35 .13 .35 .23 .35 .13 .35-.24 .35-.13 .35-.24 .35 .26 .35-.26 .35 .53 .35-.57 .35 .17 .35-.16 .35 0 .35 .49 .35-.49 .35 .11 .35-.24 .35 .77 .35-.01 .35-.45 .35 .48 .35-.6 .35 .02 .35 .27 .35-.29 .35 .61 .35 .07 .35-.75 .35 .29 .35-.01 .35 .5 .35 0 .35-.81 .35 .8 .35-.27 .35-.15 .35-.03 .35 .38 .35-.65 .35 .25 .35-.26 .35 .27 .35 .36 .35 .03 .35-.61 .35 .1 .35 .41 .35-.47 .35-.11 .35 .74 .35-.75 .35 .78 .35-.26 .35-.18 .35-.08 .35 .09 .35 .45 .35-.28 .35-.38 .35 .38 .35-.22 .35 .53 .35-.66 .35 .3 .35-.41 .35 .22 .35 .4 .35-.08 .35 .27 .35-.67 .35 .28 .35-.32 .35 .53 .35-.52 .35 .73 .35-.38 .35 .05 .35-.15 .35 .03 .35 .43 .35-.09 .35-.33 .35 .39 .35-.39 .35-.26 .35 .13 .35 .18 .35 .02 .35-.23 .35 .48 .35-.41 .35 .37 .35-.11 .35 .12 .35 .22 .35-.16 .35-.08 .35 .07 .35-.15 .35 .43 .35-.15 .35-.59 .35 0 .35 .26 .35 .44 .35-.69 .35 .09 .35 .68 .35-.22 .35-.18 .35-.33 .35-.12 .35 .27 .35-.12 .35 .63 .35-.33 .35 0 .35 .1 .35-.11 .35-.22 .35 .45 .35 .01 .35 .15 .35-.37 .35-.32 .35 .75 .35-.85 .35 .13 .35 .5 .35 .15 .35 .07 .35-.31 .35-.28 .35-.22 .35 .63 .35-.08 .35-.47 .35 .57 .35 .19 .35-.69 .35 .38 .35-.16 .35 .18 .35-.45 .35 .71 .35-.55 .35 .32 .35-.37 .35-.04 .35 .7 .35-.63 .35 .63 .35-.08 .35-.28 .35 .01 .35-.48 .35 .67 .35-.08 .35-.09 .35 .21 .35-.31 .35-.08 .35 .33 .35-.23 .35 .1 .35-.41 .35 .05 .35-.02 .35 .56 .35 .18 .35-.02 .35-.38 .35 .21 .35-.61 .35 .19 .35 .56 .35-.59 .35-.12 .35 .25 .35 .3 .35 .2 .35-.87 .35 .55 .35 .19 .35-.03 .35 .1 .35-.25 .35 .18 .35-.4 .35 .17 .35-.04 .35-.1 .35 .01 .35 .23 .35-.5 .35 .62 .35-.12 .35-.46 .35 .13 .35 .45 .35-.38 .35 .39 .35-.41 .35 .54 .35-.55 .35 .54 .35-.55 .35 .03 .35-.22 .35 .56 .35-.65 .35 .64 .35-.26 .35 .33 .35-.22 .35 .3 .35-.39 .35-.27 .35 .64 .35-.03 .35-.05 .35-.22 .35-.31 .35-.22 .35 .72 .35-.14 .35-.2 .35 .07 .35 .25 .35-.51 .35-.2 .35 .07 .35 .82 .35-.72 .35 .71 .35-.87 .35 .59 .35-.14 .35-.03 .35-.45 .35 .52 .35 .04 .35 .2 .35 0 .35-.02 .35-.69 .35 .75 .35-.33 .35 .32 .35 .03 .35-.76 .35 .3 .35 .09 .35 .09 .35 .31 .35-.84 .35 .52 .35-.1 .35-.33 .35 .51 .35 .04 .35-.57 .35-.01 .35 .35 .35 .43 .35-.11 .35-.16 .35-.25 .35 .51 .35-.44 .35-.31 .35 .43 .35-.47 .35 .71 .35-.33 .35 .21 .35 .1 .35-.05 .35 0 .35-.01 .35-.37 .35-.33 .35 .21 .35 .36 .35-.31 .35 .62 .35-.62 .35 .36 .35-.54 .35 .31 .35 .32 .35 .1 .35-.78 .35 .68 .35 .14 .35-.87 .35 .73 .35-.71 .35 .58 .35 .29 .35-.84 .35 .61 .35-.59 .35 .44 .35-.22 .35 .2 .35 .18 .35-.52 .35 .09 .35-.17 .35 .27 .35-.3 .35-.05 .35 .65 .35-.03 .35-.63 .35 .58 .35 .02 .35-.31 .35-.04 .35-.07 .35 .35 .35-.44 .35 .39 .35-.14 .35 .1 .35 .23 .35-.5 .35 .08 .35 .16 .35-.15 .35 .33 .35-.5 .35 .72 .35 .02 .35-.76 .35 .34 .35-.14 .35 0 .35-.13 .35 .31 .35 .25 .35-.53 .35 .51 .35-.04 .35-.11 .35 .24 .35-.27 .35 .19 .35 .14 .35-.09 .35-.26 .35-.27 .35 .29 .35 .11 .35 0 .35-.31 .35 .33 .35-.39 .35-.19 .35 .77 .35-.03 .35-.47 .35 .12 .35-.5 .35 .88 .35-.57 .35 .24 .35-.44 .35 0 .35 .42 .35 .08 .35 .28 .35-.26 .35-.08 .35-.01 .35-.31 .35 .09 .35 .24 .35-.46 .35 .15 .35-.12 .35-.13 .35 .39 .35-.07 .35 .17 .35-.15 .35-.31 .35 .74 .35-.77 .35-.02 .35 0 .35 .72 .35-.39 .35 .54 .35-.59 .35 .08 .35 .27 .35 .24 .35-.04 .35-.5 .35 .29 .35-.59 .35 .48 .35 .07 .35-.35 .35 .36 .35-.33 .35 .43 .35-.65 .35 .42 .35 .4 .35-.3 .35 .29 .35 .01 .35-.17 .35 .03 .35-.06 .35-.21 .35 .26 .35 0 .35 .07 .35-.81 .35 .03 .35 .4 .35 .24 .35-.28 .35-.04 .35-.34 .35 .55 .35 .33 .35-.32 .35-.35 .35 .37 .35-.25 .35 0 .35-.3 .35 .62 .35-.67 .35 .79 .35-.79 .35 .73 .35-.4 .35 0 .35 .13 .35-.29 .35 .02 .35 .48 .35 .19 .35-.73 .35 .13 .35 .67 .35-.28 .35 .22 .35-.51 .35 .36 .35-.05 .35 .03 .35-.25 .35-.18 .35 .07 .35-.21 .35-.06 .35 .29 .35 .45 .35-.5 .35 .22 .35 .25 .35-.69 .35 .26 .35 0 .35 .32 .35 .18 .35-.85 .35 .51 .35-.51 .35 .28 .35 .09 .35-.11 .35 .13 .35-.05 .35 .13 .35-.24 .35 .14 .35-.17 .35 .19 .35 .28 .35-.65 .35 .93 .35-.81 .35 .61 .35-.48 .35-.21 .35 .69 .35-.22 .35-.29 .35 .12 .35 .46 .35-.15 .35-.41 .35-.04 .35 .31 .35-.42 .35 .1 .35 .55 .35-.07 .35-.67 .35 .4 .35-.05 .35 .33 .35-.3 .35-.19 .35 .59 .35-.62 .35 .43 .35-.35 .35 .32 .35-.42 .35 .67 .35-.48 .35 .29 .35 .07 .35-.27 .35 .07 .35-.41 .35 .41 .35-.01 .35 .35 .35-.52 .35-.19 .35 .24 .35 .36 .35-.74 .35 .02 .35 .93 .35-.43 .35 .16 .35-.24 .35-.26 .35 .45 .35-.41 .35 .2 .35-.23 .35 .67 .35-.49 .35 .29 .35-.5 .35 .41 .35-.3 .35-.17 .35 .19 .35-.24 .35 .52 .35-.05 .35 .29 .35-.8 .35 .37 .35 .56 .35-.62 .35-.28 .35 .72 .35-.68 .35 .6 .35-.18 .35 .33 .35-.35 .35 .16 .35-.4 .35 .7 .35-.75 .35 .6 .35-.14 .35-.2 .35-.1 .35-.28 .35 .68 .35-.54 .35 .62 .35 .01 .35-.65 .35 .08 .35 .4 .35 .06 .35-.7 .35 .76 .35-.01 .35-.19 .35 .26 .35 .08 .35-.75 .35 .72 .35-.08 .35-.27 .35-.46 .35 .83 .35-.21 .35-.37 .35-.04 .35 .61 .35-.7 .35 .57 .35-.36 .35 .24 .35 .12 .35-.7 .35 .16 .35-.14 .35 .28 .35-.26 .35 .75 .35-.12 .35-.2 .35-.38 .35 .02 .35 .37 .35 .31 .35 .02 .35 0 .35-.59 .35 .36 .35-.17 .35 .03 .35 .12 .35-.37 .35-.03 .35 .14 .35-.17 .35 .61 .35-.48 .35-.32 .35 .58 .35 .34 .35-.42 .35-.26 .35 .6 .35-.26 .35-.01 .35-.16 .35 .3 .35-.09 .35-.12 .35-.21 .35 .44 .35 .12 .35-.8 .35-.06 .35 .07 .35 .75 .35-.25 .35-.21 .35 .56 .35-.03 .35-.5 .35-.06 .35 .16 .35 .06 .35 .24 .35 .04 .35-.58 .35 .56 .35-.76 .35 .12 .35 .21 .35-.34 .35 .27 .35-.31 .35 .76 .35-.13 .35-.41 .35 .26 .35-.13 .35 .42 .35-.51 .35-.06 .35 .53 .35-.02 .35-.05 .35-.63 .35-.02 .35 .87 .35 .04 .35-.75 .35 .28 .35-.03 .35-.17 .35-.2 .35 .17 .35 .69 .35-.51 .35-.23 .35-.13 .35 .56 .35 .19 .35-.57 .35 .49 .35-.72 .35 .11 .35 .5 .35-.54 .35 .37 .35 .01 .35-.44 .35 .78 .35-.09 .35 .06 .35-.14 .35-.37 .35 .41 .35-.12 .35 .05 .35 .13 .35-.46 .35 .62 .35-.45 .35-.14 .35 .21 .35 .44 .35-.27 .35-.6 .35 .18 .35 .39 .35 .28 .35-.41 .35 0 .35-.53 .35 .15 .35 .64 .35-.55 .35 .29 .35 .14 .35-.09 .35 .17 .35-.12 .35-.33 .35 .27 .35 .11 .35-.62 .35 .89 .35-.34 .35 .35 .35-.11 .35-.82 .35 .05 .35 .76 .35-.6 .35 .66 .35 .07 .35-.21 .35-.15 .35-.18 .35 .47 .35-.28 .35-.53 .35 .62 .35-.39 .35-.19 .35 .23 .35 .49 .35-.12 .35-.36 .35 .44 .35-.26 .35-.22 .35-.24 .35 .58 .35-.43 .35 .26 .35-.27 .35 .39 .35-.57 .35 .22 .35 .34 .35 .22 .35-.11 .35-.44 .35 .11 .35 .1 .35 .44 .35-.76 .35 .61 .35-.67 .35 .72 .35-.73 .35 .27 .35-.01 .35 .3 .35-.35 .35 .48 .35 .18 .35-.26 .35-.7 .35 .08 .35 .7 .35-.39 .35 .1 .35 .33 .35-.13 .35-.18 .35-.23 .35-.22 .35 .03 .35-.06 .35 .35 .35 .55 .35-.84 .35 .41 .35 .1 .35 .32 .35 .05 .35-.33 .35-.08 .35 .13 .35-.27 .35 .34 .35 .06 .35-.63 .35 .32 .35-.22 .35-.18 .35 .29 .35 .18 .35-.08 .35-.14 .35 .18 .35-.06 .35-.47 .35 .66 .35 .1 .35-.33 .35 .19 .35-.41 .35 .49 .35-.27 .35 .18 .35 .03 .35-.24 .35-.24 .35 .75 .35-.11 .35-.45 .35 0 .35 .47 .35-.1 .35-.47 .35 .54 .35-.48 .35 .5 .35-.73 .35 .84 .35-.58 .35 .55 .35-.67 .35 .12 .35-.12 .35 .34 .35-.34 .35 .42 .35 .01 .35 .09 .35-.32 .35-.02 .35-.18 .35 .24 .35 .04 .35-.25 .35 .28 .35-.39 .35 .25 .35-.1 .35 .21 .35 .25 .35-.75 .35 .41 .35-.34 .35 .25 .35 .39 .35-.1 .35 .08 .35 .09 .35-.47 .35 .03 .35-.18 .35 .14 .35 .29 .35 .05 .35 .04 .35-.17 .35-.49 .35 .6 .35 .2 .35 .02 .35-.85 .35 .36 .35 .11 .35 .13 .35 .18 .35-.77 .35 .87 .35-.46 .35 .53 .35-.18 .35-.39 .35 .55 .35-.49 .35-.35 .35 .09 .35 .34 .35 .22 .35-.45 .35 .63 .35-.68 .35 .72 .35-.33 .35 .08 .35-.34 .35 .14 .35-.18 .35 .16 .35 .33 .35-.07 .35 .05 .35-.41 .35-.11 .35 .29 .35 .36 .35-.24 .35-.48 .35 .56 .35 .1 .35-.15 .35-.01 .35-.05 .35-.11 .35-.18 .35 .33 .35-.3 .35-.24 .35 .72 .35 .02 .35-.79 .35 .67 .35-.18 .35-.29 .35 0 .35-.18 .35 .3 .35-.24 .35 .46 .35 .28 .35-.65 .35-.04 .35 .26 .35-.4 .35 .02 .35 .04 .35 .65 .35-.33 .35 .29 .35 .04 .35-.53 .35-.12 .35-.12 .35 .67 .35-.19 .35 .31 .35-.19 .35-.49 .35 .31 .35-.07 .35-.29 .35 .02 .35 .57 .35-.05 .35-.24 .35-.3 .35 .14 .35 .18 .35 .3 .35-.33 .35 .34 .35-.39 .35 .24 .35 .15 .35-.33 .35 .05 .35-.42 .35 .06 .35 .57 .35-.58 .35 .09 .35 .3 .35 .44 .35 .07 .35-.23 .35-.41 .35-.18 .35 .23 .35-.35 .35 .22 .35 .43 .35-.09 .35 .31 .35-.62 .35 .11 .35 .31 .35-.48 .35-.01 .35 .74 .35-.63 .35 .53 .35-.48 .35 .5 .35-.07 .35-.54 .35-.24 .35 .61 .35-.32 .35-.01 .35 .39 .35-.31 .35-.13 .35 .58 .35-.06 .35 .01 .35-.48 .35 .65 .35-.47 .35-.19 .35-.18 .35 .67 .35-.1 .35 .23 .35-.85 .35-.04 .35 .84 .35-.64 .35 .08 .35-.2 .35 .37 .35-.29 .35-.15 .35 .89 .35-.81 .35 .23 .35-.17 .35 .62 .35-.04 .35 .14 .35-.45 .35 .32 .35 .02 .35 .03 .35-.68 .35 .33 .35 .17 .35-.35 .35 .47 .35-.14 .35 .16 .35-.06 .35-.3 .35-.32 .35 .12 .35 .26 .35 .45 .35-.74 .35 .61 .35-.56 .35 .33 .35 .31 .35-.45 .35-.23 .35 .09 .35 .44 .35-.08 .35-.04 .35-.42 .35 .54 .35 .09 .35-.38 .35-.18 .35 .33 .35 .18 .35-.34 .35 .11 .35 .19 .35 .17 .35-.84 .35 .61 .35-.63 .35 .21 .35 .41 .35-.51 .35 .5 .35 .11 .35-.1 .35 .14 .35-.21 .35-.11 .35 .49 .35-.65 .35-.17 .35 .33 .35 .09 .35-.23 .35 .59 .35-.62 .35-.14 .35 .35 .35-.32 .35 .41 .35-.34 .35 .08 .35 .32 .35-.01 .35-.63 .35 .52 .35 0 .35-.21 .35 .01 .35 .24 .35 .17 .35 0 .35 .07 .35-.32 .35-.27 .35 .47 .35-.57 .35-.14 .35 .12 .35-.09 .35 .37 .35-.02 .35 .56 .35-.11 .35-.02 .35-.09 .35-.56 .35-.02 .35 .66 .35-.06 .35-.71 .35 .36 .35-.14 .35 .28 .35-.1 .35 .02 .35 .15 .35 .15 .35 .12 .35-.4 .35-.11 .35 .48 .35-.84 .35 .75 .35-.72 .35 .25 .35 .62 .35-.61 .35-.26 .35 .08 .35 .83 .35-.55 .35-.04 .35 .53 .35-.05 .35-.6 .35-.13 .35 .78 .35-.52 .35 .08 .35-.3 .35 .25 .35 .48 .35 .02 .35-.72 .35 .45 .35-.5 .35 .37 .35 .27 .35-.52 .35 .33 .35-.4 .35 .09 .35 .36 .35-.3 .35-.12 .35 .1 .35 .44 .35-.34 .35 .18 .35-.34 .35 .36 .35-.58 .35 .02 .35 .16 .35 .57 .35-.61 .35 .24 .35 .57 .35-.76 .35-.08 .35 .13 .35 .25 .35 .37 .35-.87 .35 .5 .35-.51 .35 .97 .35-.53 .35 .22 .35-.42 .35 .21 .35 .35 .35-.7 .35 .09 .35 .09 .35 .52 .35 .08 .35-.15 .35-.5 .35 .07 .35 .42 .35-.3 .35-.09 .35 .65 .35-.74 .35 .52 .35-.6 .35 .73 .35-.62 .35 .63 .35-.21 .35 .16 .35-.23 .35-.54 .35 .3 .35 .58 .35-.86 .35 .41 .35-.01 .35-.08 .35-.16 .35 .03 .35-.11 .35 .06 .35-.22 .35 .71 .35 .14 .35-.67 .35-.16 .35 .32 .35-.27 .35 .32 .35-.18 .35 .33 .35 .16 .35 .14 .35-.16 .35 .11 .35 .17 .35-.6 .35-.24 .35 .01 .35 .29 .35 .23 .35 .14 .35-.66 .35 .35 .35-.44 .35 .49 .35 .3 .35-.53 .35 .34 .35-.05 .35 .03 .35-.48 .35 .33 .35-.46 .35 .36 .35-.36 .35 .92 .35-.62 .35-.1 .35 .65 .35-.47 .35 .08 .35 .36 .35-.35 .35-.13 .35 .35 .35-.44 .35-.15 .35 .57 .35-.22 .35 .5 .35-.45 .35 .35 .35-.86 .35-.02 .35 .33 .35 .48 .35-.35 .35 .13 .35-.25 .35-.01 .35-.02 .35-.05 .35-.24 .35 .64 .35-.37 .35 .61 .35-.33 .35-.43 .35 .13 .35-.11 .35 .57 .35-.5 .35 .31 .35-.13 .35-.06 .35 .5 .35-.36 .35-.2 .35-.14 .35 .13 .35-.11 .35 .47 .35 .08 .35-.14 .35 .11 .35 .04 .35-.18 .35-.38 .35 .45 .35-.62 .35 .46 .35-.32 .35 .54 .35-.03 .35-.34 .35 .25 .35 .13 .35-.2 .35-.26 .35-.14 .35 .76 .35-.78 .35 .11 .35 .58 .35-.73 .35 .09 .35 .23 .35-.22 .35-.11 .35 .74 .35-.61 .35 .74 .35-.86 .35 .22 .35 .3 .35-.47 .35 .38 .35 .01 .35 .11 .35 .33 .35-.52 .35 .5 .35-.69 .35 .43 .35-.22 .35 .35 .35-.26 .35 .33 .35-.7 .35 .11 .35 .28 .35 .09 .35-.25 .35 .42 .35-.42 .35 .55 .35 0 .35-.89 .35 .6 .35 .22 .35-.81 .35 .69 .35-.16 .35-.06 .35-.25 .35 .46 .35-.51 .35-.04 .35 .17 .35 .64 .35-.58 .35-.27 .35 .26 .35 .37 .35-.15 .35 .1 .35 .11 .35-.54 .35 .06 .35 .51 .35-.48 .35 .13 .35 .32 .35-.2 .35 .28 .35-.9 .35 .61 .35-.11 .35-.1 .35-.11 .35 .08 .35 .44 .35-.34 .35-.26 .35 .47 .35 .13 .35-.41 .35-.28 .35 .61 .35-.05 .35 0 .35-.68 .35 .11 .35 .85 .35-.42 .35-.29 .35-.21 .35 .43 .35-.16 .35-.16 .35 .48 .35-.46 .35 .77 .35-.72 .35 .66 .35-.54 .35-.06" fill="none" stroke="#62d216" stroke-width="1.8" stroke-linejoin="round" />
<path d="M348.00 479.74l.6-.29 .6-.43 .6 .85 .6-.33 .6 .03 .6-.21 .6 .56 .6-.24 .6-.63 .6 1.01 .6-.37 .6-.33 .6-.25 .6 .02 .6 .13 .6 .19 .6 .36 .6-.34 .6 .71 .6-.29 .6-.09 .6 .03 .6-.2 .6 .39 .6-.34 .6 .14 .6 .26 .6 .18 .6-.35 .6 .51 .6-.41 .6 .72 .6-.92 .6 .56 .6-.24 .6 .16 .6-.38 .6 .31 .6-.15 .6 .64 .6 .16 .6 .05 .6 .19 .6-.61 .6 .35 .6 .44 .6-.53 .6 .06 .6 .21 .6-.74 .6 1.06 .6-.5 .6 .46 .6-.73 .6 .48 .6 .14 .6 .29 .6-.18 .6 .07 .6 .42 .6-.79 .6 .26 .6 .58 .6-.5 .6 .2 .6-.07 .6 .62 .6-.34 .6 .15 .6-.9 .6 .49 .6 .47 .6-.7 .6 .8 .6 .22 .6-.18 .6-.01 .6-.54 .6-.17 .6 1.07 .6-.62 .6 .64 .6-.27 .6 .37 .6-1.13 .6 1.02 .6-.05 .6-.19 .6-.49 .6 .08 .6 .96 .6-.67 .6 .49 .6 .31 .6-.94 .6-.18 .6-.02 .6 .53 .6 .52 .6-.02 .6-.25 .6-.75 .6 .33 .6-.12 .6 .02 .6-.03 .6-.12 .6 .61 .6-.21 .6 .02 .6-.1 .6 .67 .6-.66 .6-.17 .6 .16 .6-.05 .6 .12 .6 .04 .6-.21 .6 .52 .6-.62 .6 .98 .6-.04 .6-.52 .6 .3 .6-.69 .6 .09 .6 .81 .6-.59 .6 .35 .6 .08 .6-.16 .6-.34 .6-.1 .6-.44 .6 1.05 .6-.24 .6-.84 .6 1.01 .6-.74 .6 .74 .6-.95 .6-.18 .6 1.1 .6 .03 .6-.54 .6 .54 .6-1.11 .6 .07 .6 1.08 .6-.05 .6-.34 .6-.49 .6 .49 .6-.97 .6 .46 .6 .66 .6-.85 .6-.14 .6 .47 .6 .23 .6-.49 .6 .67 .6 .11 .6-.94 .6 .21 .6 .6 .6-.46 .6 .32 .6-.59 .6 .67 .6 .02 .6-.09 .6 .13 .6-.67 .6 .16 .6 .39 .6-.13 .6-.26 .6-.69 .6 .24 .6 .31 .6 .4 .6 .2 .6 .1 .6-.83 .6 .78 .6-.81 .6-.28 .6 1.01 .6-1.13 .6 .5 .6 .4 .6-.22 .6 .3 .6-.45 .6-.13 .6-.15 .6 .38 .6-.09 .6-.09 .6 .23 .6-.25 .6 .25 .6-.28 .6 .38 .6-.81 .6 .21 .6-.08 .6 .78 .6-.42 .6 .49 .6-.54 .6 .52 .6-.28 .6 .21 .6-.84 .6 .96 .6-.98 .6 .62 .6-.18 .6-.38 .6-.36 .6-.09 .6-.06 .6 .75 .6 .01 .6-.64 .6-.1 .6-.04 .6 .78 .6 .24 .6 .2 .6-.61 .6 .38 .6-.71 .6-.28 .6 .74 .6-.35 .6 .1 .6-.41 .6 .81 .6 .27 .6-.2 .6-.86 .6 .19 .6-.11 .6 1.12 .6-.85 .6-.35 .6 .95 .6-.86 .6-.19 .6 .42 .6-.48 .6 .6 .6-.03 .6-.17 .6 .35 .6 .33 .6-.64 .6-.09 .6 .52 .6-.31 .6-.22 .6 .98 .6-1.05 .6 .28 .6-.15 .6 .74 .6-.2 .6 .36 .6-.92 .6 .81 .6-.23 .6-.79 .6 .2 .6 .86 .6-.58 .6-.39 .6-.04 .6 .24 .6 .52 .6-.73 .6 .03 .6 1.03 .6-.86 .6 .62 .6 .23 .6-.12 .6-.17 .6-.25 .6 .38 .6-.49 .6 .59 .6-.08 .6-.85 .6-.15 .6 .97 .6-.26 .6 .2 .6 .09 .6-.28 .6-.48 .6 .66 .6-.42 .6 .32 .6-.68 .6 1.38 .6-1.14 .6 1.21 .6-.29 .6-.59 .6 .27 .6-.5 .6-.29 .6 .72 .6-.62 .6 .17 .6-.16 .6 .73 .6 .18 .6 .45 .6-1.06 .6 .89 .6-.36 .6-.85 .6 .54 .6 .92 .6-.36 .6-.08 .6 .05 .6 .4 .6-.62 .6-.6 .6-.12 .6 .79 .6-.58 .6 1.15 .6 .07 .6-.61 .6 .07 .6-.71 .6 1.03 .6-.57 .6 .5 .6-.48 .6 .57 .6-1.02 .6 1.29 .6-.43 .6-.5 .6 .1 .6-.29 .6 .46 .6 .59 .6-.63 .6-.21 .6 .2 .6-.06 .6 .02 .6 .15 .6 .31 .6 .01 .6-1.04 .6 1.39 .6-.88 .6 .14 .6 .12 .6 .61 .6-1.32 .6 1.23 .6-.24 .6-.21 .6-.2 .6 .22 .6 .26 .6-.38 .6 .74 .6-.54 .6-.16 .6 .69 .6-1.34 .6 1.35 .6-.63 .6-.53 .6 .87 .6-.68 .6 .36 .6 .09 .6 .68 .6-.44 .6-.35 .6 .32 .6 .01 .6-.78 .6 .37 .6-.32 .6-.08 .6 .34 .6-.45 .6 .23 .6 0 .6 .57 .6-.18 .6-.49 .6 1.38 .6-.37 .6-.1 .6-.06 .6 .13 .6-.83 .6 .84 .6-.56 .6-.26 .6 .14 .6 .84 .6-.65 .6 .73 .6 .19 .6-.09 .6-.72 .6 .13 .6 .06 .6-.8 .6 1.05 .6 .07 .6-.95 .6 .22 .6 .46 .6 .51 .6-.94 .6 .82 .6-1.28 .6 .75 .6-.39 .6 .89 .6-1.07 .6-.15 .6 .45 .6 .6 .6-.03 .6-.63 .6 .61 .6-.92 .6 .48 .6 .68 .6-1.14 .6 .12 .6 .19 .6-.23 .6 .5 .6-.18 .6 .28 .6-.92 .6 1.27 .6-.67 .6-.53 .6 .89 .6-.72 .6 .06 .6 .87 .6-1.1 .6 1.41 .6-1.13 .6 .57 .6-.78 .6 1.42 .6-.08 .6-.48 .6-.63 .6 .15 .6 .35 .6-.49 .6 .5 .6 .52 .6-1.24 .6 .21 .6 1.11 .6-.16 .6-1.35 .6 .11 .6 .88 .6 .31 .6 .23 .6-1.38 .6 .56 .6 .06 .6 .55 .6-.6 .6-.73 .6 .06 .6 .69 .6-.6 .6 .62 .6 .12 .6-.14 .6 .12 .6-.93 .6 1.12 .6-1.09 .6 .77 .6-.58 .6 .41 .6 .66 .6 .06 .6 .07 .6-.32 .6-.26 .6 .44 .6-1.21 .6-.07 .6 1.4 .6-.26 .6-.49 .6-.29 .6 1.19 .6-1.26 .6 .06 .6 1.15 .6-.31 .6 .15 .6 .14 .6 .03 .6-.94 .6-.24 .6 .52 .6-.3 .6-.08 .6 .4 .6 .53 .6-.58 .6-.35 .6-.25 .6 1.07 .6-.33 .6-.7 .6 .99 .6-1.22 .6 .01 .6 .34 .6 .82 .6-.43 .6 .27 .6 .36 .6 .14 .6-.25 .6-.68 .6 .18 .6-.91 .6 .12 .6 .61 .6-.19 .6 .33 .6-.88 .6 1.6 .6-.79 .6-.54 .6 .8 .6-.11 .6 .22 .6 .48 .6-.93 .6-.75 .6 .34 .6 .35 .6-.26 .6 .4 .6 .24 .6-.18 .6-.81 .6-.04 .6 0 .6 1.12 .6-.48 .6 .25 .6-.26 .6 .5 .6 .51 .6-.65 .6-.69 .6 .89 .6-.88 .6 .81 .6-.19 .6-.97 .6 .31 .6 .06 .6 .26 .6 .87 .6-.3 .6-.39 .6-.13 .6-.65 .6 .32 .6 1.14 .6-.86 .6-.18 .6 1.15 .6-1.24 .6 1 .6-.73 .6-.02 .6-.06 .6-.11 .6-.01 .6 .03 .6 .32 .6-.04 .6-.74 .6 .66 .6 .74 .6-.12 .6-1.09 .6 .14 .6 .74 .6-.01 .6-1 .6 .45 .6 .35 .6 .3 .6-.21 .6 .14 .6 .43 .6-.02 .6-1.18 .6 1.16 .6-1.15 .6-.36 .6 1.36 .6 .22 .6-1.41 .6 1.14 .6-1.18 .6 1.47 .6-.79 .6 .04 .6 .74 .6-1.07 .6 .42 .6-.77 .6 .13 .6 .63 .6 .59 .6-.88 .6-.64 .6 .4 .6 .47 .6-.77 .6 .14 .6 .14 .6 1.1 .6-.74 .6-.51 .6 .71 .6 .06 .6 .08 .6 .21 .6-.3 .6-.92 .6 .97 .6 .02 .6-.19 .6-.63 .6 .11 .6 .75 .6 .25 .6-1.24 .6 1.23 .6-.56 .6 .32 .6 .28 .6-1.26 .6 1.16 .6 .03 .6-.5 .6-.37 .6 .56 .6 .03 .6-.33 .6 .22 .6 .38 .6 .1 .6 .27 .6 .05 .6-1.71 .6 1.59 .6-.04 .6 .21 .6-.37 .6 .28 .6 .06 .6-1.53 .6-.03 .6 .8 .6 .64 .6-.69 .6-.05 .6 .64 .6-.5 .6 .44 .6-.4 .6-.16 .6-.03 .6 .54 .6-1.23 .6 .4 .6-.44 .6 1.02 .6-.46 .6 .89 .6-1.01 .6 1.05 .6-1.1 .6 1.15 .6-.08 .6-1.12 .6 .45 .6-.84 .6 1 .6 .11 .6-.4 .6-.06 .6 .12 .6 .54 .6-1.08 .6 1.17 .6-.22 .6-.59 .6 1.06 .6-.72 .6-.13 .6 .04 .6-.35 .6 .34 .6-.8 .6 .95 .6-.5 .6 .6 .6-.11 .6 .72 .6-.47 .6-1.35 .6 .21 .6 .69 .6 .08 .6-.11 .6 .47 .6 .38 .6-1.62 .6 1.05 .6-.63 .6 .19 .6 1.05 .6-1.66 .6 .26 .6 .56 .6 .45 .6 .38 .6 .04 .6-.08 .6-.28 .6-.61 .6-.31 .6 1.08 .6-.22 .6-.07 .6 .12 .6 .27 .6-.69 .6-.55 .6-.46 .6 .43 .6 .78 .6-.54 .6-.32 .6-.12 .6-.19 .6 1.01 .6 .17 .6 .56 .6-.33 .6-1.18 .6 .09 .6 1.44 .6-1.28 .6 .48 .6 .5 .6-.32 .6-1.13 .6 .82 .6 .11 .6 .01 .6-.81 .6 1.62 .6-.88 .6 .33 .6 .18 .6-.98 .6-.43 .6 1.12 .6 .56 .6-.04 .6-.02 .6-1.28 .6 1.29 .6-1.54 .6 .4 .6 1.03 .6-1.39 .6 1.3 .6 .03 .6 .21 .6-.09 .6-.27 .6-1.04 .6-.1 .6-.07 .6 .44 .6 0 .6 1.29 .6-.26 .6-1.44 .6 .71 .6 .63 .6-.78 .6 .25 .6 .68 .6 .07 .6-1.41 .6 1.23 .6-.71 .6-.81 .6 .54 .6 1.11 .6-1.34 .6-.04 .6 1.51 .6-1 .6 .91 .6-1.2 .6-.41 .6 1.62 .6-1.13 .6 1.18 .6-.51 .6 .31 .6-.98 .6 .74 .6 .2 .6-.26 .6 .47 .6-.04 .6-.64 .6 .71 .6-.43 .6 .37 .6-1.46 .6 .3 .6-.28 .6-.24 .6 1.19 .6 .6 .6-.64 .6 .65 .6-.29 .6-.38 .6-.42 .6-.38 .6 1.44 .6-.03 .6-.08 .6-1.08 .6 .79 .6-.4 .6 .54 .6-.48 .6-1.06 .6 .51 .6-.02 .6 .11 .6 .03 .6-.62 .6 .94 .6 .82 .6-.62 .6-.77 .6 1.45 .6-.18 .6 .01 .6-1.46 .6 1.12 .6-.72 .6 .89 .6-.8 .6-.24 .6 1.37 .6-.22 .6-.39 .6-.32 .6 .17 .6 .17 .6-.44 .6-.03 .6-.28 .6 .69 .6-.65 .6 .25 .6-.24 .6 1.19 .6-.75 .6-.7 .6-.06 .6 1.24 .6 .31 .6-1.35 .6 .65 .6-.15 .6-.1 .6 .5 .6 .2 .6 .03 .6-1.14 .6 .73 .6-.85 .6 .05 .6 .31 .6 .43 .6-.15 .6-.85 .6 .84 .6-.61 .6 .01 .6 1.31 .6-.41 .6-.76 .6 1 .6 .4 .6-.25 .6-1.34 .6 .97 .6-.47 .6 .06 .6-.49 .6-.11 .6 1.61 .6-.98 .6-.56 .6 .57 .6-.01 .6-.57 .6 1.11 .6-.22 .6 .18 .6 .23 .6 .07 .6 .23 .6-.56 .6 .52 .6 .02 .6-1.51 .6 .37 .6 .17 .6-.02 .6-.71 .6 .57 .6 .75 .6-.53 .6 .3 .6 .05 .6-.13 .6-1.17 .6 .71 .6 .69 .6-.72 .6 1.14 .6-.02 .6-.85 .6 .89 .6-1.46 .6 .51 .6 .85 .6-1.59 .6 .8 .6-.18 .6-.05 .6 .08 .6 .32 .6 .62 .6-1.66 .6 .18 .6 1.02 .6-.27 .6 .34 .6 .24 .6-.05 .6-.95 .6-.2 .6 .77 .6-1.08 .6 1.03 .6 .05 .6-.26 .6 .7 .6-1.49 .6-.09 .6 1.73 .6-.17 .6-1.53 .6 1.3 .6-.26 .6-.84 .6 .52 .6 .34 .6 .02 .6-.77 .6-.36 .6 .1 .6 .34 .6 .13 .6-.2 .6 .26 .6-.46 .6 .56 .6-.11 .6-.07 .6 .15 .6 .92 .6-.14 .6-1.26 .6-.05 .6 .88 .6-.9 .6 1.37 .6-.83 .6 1.15 .6-1.16 .6 .33 .6-.91 .6 .21 .6 .01 .6 1.45 .6 .1 .6-.68 .6-.02 .6 .26 .6-.61 .6 .93 .6-1.33 .6 1.29 .6-1.69 .6 1.08 .6 .05 .6 .27 .6-1.1 .6 .31 .6 1.1 .6-1.38 .6 .19 .6 .54 .6 .78 .6-1.25 .6-.3 .6-.1 .6 1.65 .6-1.4 .6 .93 .6-1.27 .6 .67 .6 .3 .6 .29 .6-.19 .6-.41 .6-.49 .6 .48 .6 .09 .6-.28 .6-.33 .6 1.41 .6-1.31 .6 .35 .6 .16 .6-.57 .6 1.18 .6-1.18 .6 1.27 .6-1.53 .6 0 .6 .93 .6 .04 .6-.15 .6 .87 .6-.31 .6 .14 .6-.09 .6 .08 .6-.03 .6 .16 .6-.25 .6-1.09 .6 .63 .6 .36 .6-.37 .6-.01 .6-.35 .6-.28 .6 1.38 .6-1.02 .6-.64 .6 .63 .6 1.22 .6-1.86 .6 1.84 .6-1.52 .6-.29 .6 1.82 .6-1.4 .6 1.36 .6-1.36 .6 .18 .6 1.19 .6-1.37 .6 1.07 .6 .03 .6-.83 .6-.53 .6 1.3 .6-1.23 .6 .4 .6-.32 .6 1.33 .6-1.18 .6 .51 .6 .24 .6-.78 .6 .58 .6 .28 .6 .51 .6-1.05 .6-.17 .6 .01 .6 .4 .6-.46 .6 .18 .6 .44 .6 .18 .6-.03 .6-.12 .6-.98 .6 1.01 .6-.87 .6 1.2 .6 .1 .6-1.19 .6 1.29 .6-.61 .6 .19 .6-.01 .6-.11 .6-1.01 .6 .86 .6 .73 .6-.28 .6-.71 .6 1.01" fill="none" stroke="#ffffff" stroke-width="0.45" stroke-linejoin="round" stroke-opacity="0.5"/>
<path d="M130.50 505.50l.5-.07 .5 .21 .5-.38 .5-.11 .5 .18 .5 .15 .5-.1 .5-.28 .5 .07 .5 .12 .5-.08 .5 .08 .5-.54 .5 .28 .5-.12 .5-.31 .5 .31 .5-.39 .5-.03 .5 .08 .5-.41 .5-.08 .5-.21 .5-.03 .5-.28 .5-.52 .5-.26 .5 .29 .5-.32 .5-.62 .5 .2 .5-.37 .5-.3 .5-.18 .5-.17 .5-.66 .5-.44 .5 .07 .5-.52 .5-.07 .5-.34 .5-.33 .5-.24 .5-.73 .5-.32 .5-.13 .5-.56 .5-.14 .5-.49 .5 .08 .5-.43 .5-.38 .5-.3 .5-.73 .5-.17 .5-.3 .5-.69 .5-.22 .5 0 .5-.69 .5 .05 .5-.61 .5-.32 .5-.56 .5 .1 .5-.59 .5-.44 .5-.36 .5-.32 .5 .05 .5-.56 .5-.18 .5-.45 .5 .05 .5-.55 .5-.32 .5 0 .5-.36 .5-.19 .5-.4 .5-.6 .5-.12 .5-.07 .5-.6 .5-.13 .5-.44 .5-.06 .5-.18 .5-.46 .5 .01 .5-.5 .5-.02 .5-.1 .5-.19 .5-.39 .5-.36 .5 .28 .5-.46 .5-.22 .5-.46 .5 .25 .5-.15 .5-.22 .5-.32 .5-.16 .5 .06 .5-.09 .5-.35 .5-.12 .5-.03 .5-.44 .5-.23 .5 .21 .5-.21 .5-.29 .5 .18 .5-.18 .5-.55 .5 .17 .5 .01 .5 .02 .5-.23 .5-.38 .5-.15 .5 .4 .5-.16 .5-.35 .5-.09 .5 .13 .5-.15 .5-.3 .5 .06 .5 .23 .5-.39 .5-.32 .5-.01 .5-.02 .5 .24 .5-.22 .5 .13 .5-.27 .5 .27 .5-.22 .5 .23 .5-.13 .5-.2 .5 .27 .5-.42 .5 .07 .5-.09 .5-.21 .5 .15 .5-.16 .5 .01 .5 0 .5 .14 .5 .11 .5 0 .5 .05 .5-.26 .5 .07 .5-.09 .5 .49 .5-.43 .5 .31 .5-.05 .5-.22 .5 .49 .5-.15 .5 .07 .5 .16 .5-.22 .5 .1 .5-.09 .5 .5 .5-.24 .5 .34 .5 .06 .5-.2 .5 .18 .5-.16 .5 .22 .5-.04 .5 .44 .5-.09 .5 .2 .5-.32 .5 .04 .5-.06 .5 .42 .5-.11 .5 .05 .5 .17 .5 .14 .5 .17 .5 .15 .5-.35 .5 .25 .5 .33 .5-.29 .5 .21 .5 .01 .5 .25 .5 .06 .5-.12 .5 0 .5 .29 .5 .26 .5-.24 .5 .14 .5-.08 .5 .47 .5-.42 .5 .27 .5-.09 .5 .29 .5 .17 .5-.21 .5 .41 .5-.16 .5 .05 .5 .15 .5 .43 .5 .05 .5-.27 .5-.08 .5 .11 .5 .29 .5-.18 .5 .47 .5 .02 .5-.04 .5-.09 .5 .56 .5-.28 .5-.01 .5 .51 .5-.07 .5-.06 .5-.04 .5 .34 .5 0 .5 .18 .5 .13 .5-.18 .5 .22 .5 .12 .5-.36 .5 .32 .5 .2 .5 .04 .5 .03 .5-.1 .5 .31 .5-.16 .5-.06 .5 .15 .5 .29 .5-.38 .5 .02 .5 .08 .5 .1 .5 .12 .5-.01 .5-.01 .5 .2 .5 .25 .5 .13 .5-.12 .5 .32 .5-.49 .5 .54 .5-.46 .5 .37 .5-.2 .5 .34 .5 .05 .5 .07 .5-.28 .5-.05 .5 .39 .5-.02 .5-.11 .5 .01 .5 .07 .5 .3 .5-.47 .5 .3 .5 .19 .5-.44 .5 .41 .5 .07 .5-.32 .5 .07 .5 .07 .5 .36 .5-.04 .5 .03 .5-.32 .5 .32 .5-.22 .5 .07 .5 .04 .5 .05 .5-.23 .5 .02 .5-.14 .5 .44 .5-.25 .5 .3 .5-.42 .5 .21 .5 .22 .5-.19 .5 .11 .5 .01 .5-.25 .5-.22 .5 .25 .5 0 .5-.21 .5-.1 .5 .08 .5 .24 .5-.3 .5 .27 .5-.28 .5 .24 .5-.14 .5 .18 .5-.46 .5 .3 .5-.21 .5-.18 .5-.05 .5 .02 .5 .23 .5 .08 .5-.36 .5-.01 .5-.16 .5 .21 .5-.28 .5 .09 .5 .32 .5-.26 .5-.16 .5 .23 .5-.48 .5 .41 .5 0 .5-.22 .5-.2 .5-.03 .5 .37 .5-.14 .5 .12 .5-.51 .5 .1 .5 .19 .5-.16 .5-.09 .5-.25 .5 .45 .5-.47 .5 .27 .5-.1 .5 .07 .5-.04 .5-.22 .5 .02 .5-.31 .5 .37 .5-.31 .5-.13 .5-.08 .5 .12 .5-.13 .5 0 .5 .11 .5-.06 .5-.08 .5-.08 .5 .23 .5-.07 .5-.11 .5-.15 .5 .33 .5-.44 .5 .14 .5-.13 .5 .28 .5-.14 .5 .2 .5-.18 .5-.04 .5-.37 .5-.07 .5 .35 .5 .06 .5 .02 .5 .04 .5-.09 .5-.23 .5 .05 .5-.22 .5 .34 .5-.03 .5-.18 .5-.32 .5 .18 .5 .04 .5 .06 .5-.13 .5 .07 .5-.04 .5-.09 .5-.34 .5 .35 .5-.18 .5 .18 .5-.43 .5 .22 .5-.12 .5 .09 .5 .29 .5-.13 .5 .06 .5-.03 .5-.47 .5 .4" fill="none" stroke="#d95319" stroke-width="2.4" stroke-linejoin="round" />
<path d="M345.40 482.02l.35 .01 .35-.4 .35 .1 .35 .22 .35-.3 .35 .19 .35-.07 .35-.26 .35 0 .35 .12 .35 .21 .35 .38 .35-.11 .35-.36 .35 .4 .35 .03 .35 .11 .35-.17 .35-.05 .35 .06 .35-.46 .35 .43 .35-.42 .35 .49 .35 .05 .35-.22 .35-.14 .35 .29 .35-.26 .35 .2 .35 .28 .35-.52 .35 .75 .35-.02 .35-.4 .35 .39 .35 .02 .35-.07 .35-.21 .35-.03 .35-.11 .35 .51 .35-.09 .35 .26 .35-.26 .35-.48 .35 .18 .35-.11 .35 .22 .35 .25 .35 0 .35 .06 .35-.18 .35 .46 .35-.37 .35-.14 .35 .16 .35-.01 .35-.15 .35 .33 .35-.02 .35-.4 .35 .24 .35-.13 .35 .19 .35-.12 .35-.07 .35 .26 .35-.25 .35 .03 .35 .55 .35-.39 .35 .45 .35-.27 .35 .14 .35 .23 .35-.59 .35-.05 .35 .28 .35 .51 .35-.48 .35 .06 .35 .17 .35-.48 .35 .5 .35 .06 .35 .22 .35-.2 .35 .03 .35-.46 .35 .3 .35-.18 .35 .09 .35-.18 .35 .27 .35-.18 .35 .14 .35-.21 .35 .78 .35-.45 .35-.05 .35 .3 .35 .07 .35-.05 .35-.28 .35 .2 .35-.09 .35 .28 .35-.28 .35 .44 .35-.4 .35-.15 .35 .55 .35-.65 .35 .77 .35 .01 .35-.4 .35-.13 .35-.16 .35 .29 .35 .24 .35-.42 .35 .41 .35-.3 .35 .21 .35 .22 .35-.25 .35 .16 .35-.24 .35 .2 .35 .21 .35 .07 .35 .06 .35-.53 .35-.14 .35-.05 .35 .12 .35 .48 .35-.43 .35 .5 .35-.58 .35 .62 .35-.3 .35-.19 .35 .37 .35 .15 .35-.57 .35 .31 .35-.25 .35 .73 .35-.42 .35 .04 .35 .12 .35 .2 .35 .12 .35-.44 .35 .03 .35 .36 .35-.07 .35-.03 .35 .11 .35 .12 .35-.72 .35 .44 .35-.24 .35 .56 .35-.74 .35 .33 .35 .07 .35-.32 .35 .22 .35 .06 .35-.23 .35 .57 .35-.34 .35 .1 .35 .29 .35 .1 .35-.54 .35 .42 .35-.37 .35 .55 .35-.02 .35-.35 .35-.33 .35 .64 .35-.14 .35 .1 .35-.24 .35 .38 .35-.5 .35 .35 .35-.57 .35 .69 .35-.49 .35-.16 .35 .24 .35-.25 .35 .37 .35 .05 .35-.33 .35-.13 .35 .64 .35-.15 .35-.05 .35 .29 .35-.73 .35 .36 .35-.41 .35 .69 .35-.03 .35-.38 .35 .16 .35 .13 .35-.09 .35 .04 .35-.37 .35 .39 .35 .01 .35-.23 .35 .05 .35-.12 .35 .16 .35 .25 .35-.75 .35 .62 .35-.04 .35-.25 .35-.2 .35 .35 .35 .11 .35-.53 .35 .35 .35 .14 .35-.41 .35 .47 .35-.25 .35-.4 .35 .64 .35-.69 .35 .67 .35-.24 .35-.48 .35 .12 .35-.03 .35 .44 .35 .09 .35-.35 .35 .23 .35-.07 .35 .24 .35-.53 .35-.11 .35 .24 .35 .35 .35-.5 .35 .47 .35-.63 .35 .65 .35-.36 .35 .32 .35-.32 .35 .05 .35 .14 .35-.46 .35-.13 .35 .3 .35-.22 .35 .07 .35-.06 .35-.05 .35 .62 .35-.2 .35-.24 .35 .45 .35-.76 .35 .77 .35-.1 .35-.3 .35 .4 .35-.51 .35-.19 .35-.04 .35 .54 .35-.38 .35-.04 .35 .46 .35 .05 .35-.42 .35-.04 .35 .14 .35-.1 .35 .4 .35-.31 .35-.23 .35-.23 .35 .81 .35-.53 .35 .51 .35-.05 .35-.4 .35-.18 .35 .42 .35-.55 .35-.03 .35-.03 .35 .46 .35 .18 .35-.12 .35 .23 .35-.74 .35 .56 .35-.03 .35 .01 .35-.18 .35-.34 .35 .18 .35-.09 .35 .61 .35-.16 .35 .11 .35-.3 .35-.45 .35 .59 .35-.34 .35 .25 .35-.19 .35 .1 .35-.36 .35 .64 .35-.51 .35 .47 .35 .03 .35-.3 .35-.36 .35 .2 .35 .09 .35-.19 .35-.2 .35 .76 .35-.31 .35-.08 .35-.37 .35 .36 .35 .25 .35-.55 .35 .63 .35-.63 .35-.06 .35 .55 .35-.52 .35 .61 .35-.55 .35-.16 .35 .46 .35-.53 .35 .07 .35 .41 .35 .14 .35-.22 .35 .28 .35-.58 .35 .55 .35-.32 .35 .36 .35-.64 .35 .34 .35-.39 .35 .06 .35 .16 .35 .17 .35 0 .35-.29 .35 .05 .35 .58 .35-.83 .35 .32 .35 .39 .35-.15 .35-.1 .35-.37 .35 .08 .35 .65 .35-.38 .35-.25 .35 .56 .35-.1 .35-.06 .35-.47 .35 .15 .35 .38 .35-.5 .35 .6 .35-.49 .35 .08 .35 .22 .35-.59 .35 .46 .35-.02 .35-.39 .35 0 .35-.13 .35 .3 .35 .24 .35-.51 .35 .39 .35-.31 .35 .57 .35-.67 .35-.06 .35 .59 .35-.29 .35 .5 .35-.47 .35 .36 .35-.28 .35 0 .35-.09 .35 .28 .35-.6 .35 .69 .35-.13 .35 .06 .35-.57 .35 .55 .35-.18 .35 .18 .35-.18 .35 .33 .35-.07 .35-.22 .35 .37 .35-.42 .35-.15 .35 .46 .35-.61 .35 .52 .35-.19 .35 .39 .35-.84 .35 .22 .35 .56 .35-.3 .35-.34 .35 .45 .35-.19 .35 .07 .35-.36 .35-.13 .35 .79 .35-.21 .35 .27 .35-.42 .35-.21 .35-.19 .35 .45 .35 .21 .35 .13 .35-.49 .35-.1 .35-.03 .35 .64 .35-.23 .35-.13 .35 .35 .35-.16 .35-.19 .35 .22 .35-.09 .35 .08 .35-.38 .35 .34 .35-.49 .35-.1 .35 .42 .35 .24 .35-.49 .35 .6 .35-.37 .35 .18 .35 .19 .35-.06 .35-.13 .35-.34 .35-.08 .35 .36 .35 .02 .35 .01 .35-.18 .35-.2 .35 .69 .35-.23 .35 .02 .35-.6 .35 .46 .35 .01 .35-.41 .35 .13 .35-.05 .35 .43 .35 .23 .35-.21 .35-.28 .35 .48 .35-.26 .35 .25 .35-.22 .35-.38 .35 .25 .35-.14 .35 .05 .35-.23 .35 .66 .35-.19 .35-.22 .35 .37 .35-.22 .35-.36 .35 .68 .35 .01 .35-.23 .35 .09 .35-.07 .35-.25 .35-.21 .35 .55 .35-.33 .35 .43 .35-.39 .35 .07 .35 .48 .35-.72 .35 .15 .35 .39 .35-.23 .35 .41 .35-.68 .35-.09 .35 .72 .35-.58 .35 .12 .35-.08 .35 .23 .35 .44 .35-.39 .35 .23 .35-.52 .35 .36 .35-.29 .35 .01 .35 .08 .35 .08 .35 .31 .35-.56 .35 .15 .35 .66 .35-.55 .35-.31 .35 .79 .35-.8 .35 .35 .35 .32 .35 .21 .35-.04 .35 .05 .35-.31 .35 .35 .35-.67 .35 .08 .35 .31 .35-.01 .35 .18 .35-.64 .35 .24 .35 .23 .35-.49 .35 .39 .35 .35 .35-.78 .35 .75 .35-.1 .35-.26 .35-.2 .35 .53 .35-.39 .35 .26 .35-.46 .35 .59 .35 .15 .35 .01 .35 .06 .35-.85 .35 .7 .35-.52 .35-.12 .35 .64 .35 .1 .35-.77 .35 .14 .35 .25 .35 .37 .35-.38 .35-.38 .35 .64 .35 .21 .35-.73 .35 .62 .35 .13 .35-.5 .35 .39 .35-.18 .35 .32 .35-.28 .35-.35 .35 .39 .35-.35 .35 .03 .35-.33 .35 .08 .35 .1 .35 .45 .35-.13 .35-.11 .35 .2 .35-.27 .35 .01 .35 .27 .35 .13 .35 0 .35-.17 .35 .4 .35 .01 .35-.05 .35-.59 .35 .42 .35-.59 .35 .83 .35-.39 .35-.47 .35 .06 .35 .49 .35 .04 .35-.29 .35 .07 .35 .35 .35-.02 .35-.02 .35-.36 .35-.02 .35 .3 .35-.53 .35 .55 .35 .01 .35 .08 .35-.49 .35 .1 .35-.09 .35 .19 .35 .19 .35-.17 .35 .4 .35-.27 .35 .2 .35 .16 .35-.15 .35-.55 .35 .12 .35-.27 .35 .34 .35 .04 .35-.11 .35 .05 .35-.16 .35 .59 .35-.4 .35-.35 .35 .4 .35-.07 .35-.17 .35 .49 .35-.26 .35 .35 .35-.16 .35 .33 .35-.59 .35-.28 .35 .14 .35 .55 .35-.53 .35 .38 .35-.46 .35 .71 .35-.44 .35-.09 .35 .57 .35-.17 .35-.1 .35 .29 .35-.09 .35-.76 .35 .86 .35-.67 .35 .5 .35-.4 .35 0 .35 .12 .35-.4 .35 .8 .35-.55 .35 .36 .35-.47 .35-.05 .35-.07 .35 .45 .35-.07 .35 .29 .35-.27 .35 .07 .35 .06 .35-.4 .35 .22 .35 .44 .35 .15 .35-.48 .35-.17 .35 .52 .35-.3 .35-.48 .35 .11 .35 .46 .35-.49 .35 .39 .35 .42 .35-.43 .35-.06 .35 .33 .35-.27 .35 .3 .35-.79 .35 .8 .35-.65 .35 .05 .35 .33 .35 .11 .35-.5 .35 .61 .35-.3 .35 .26 .35-.38 .35 0 .35 .17 .35 .12 .35 .1 .35-.41 .35 .27 .35-.35 .35 .43 .35-.29 .35 .5 .35-.19 .35-.63 .35 .55 .35-.25 .35-.06 .35-.11 .35 .47 .35 .15 .35-.39 .35 .05 .35-.16 .35 .46 .35 .17 .35-.52 .35 0 .35-.26 .35 .1 .35 .1 .35 .02 .35-.24 .35 .19 .35-.3 .35 .22 .35 .36 .35 .25 .35-.68 .35 .47 .35-.45 .35 .69 .35-.68 .35-.19 .35 .87 .35-.59 .35-.13 .35 .24 .35 .38 .35-.44 .35 .06 .35 .19 .35-.62 .35 .86 .35-.19 .35-.12 .35-.22 .35 .59 .35-.87 .35-.07 .35 .57 .35 .08 .35-.51 .35 .68 .35-.4 .35-.1 .35 .37 .35-.3 .35-.24 .35 .26 .35-.39 .35 .27 .35 .26 .35-.49 .35 .35 .35 .04 .35-.44 .35 .17 .35-.16 .35 .46 .35 .12 .35-.62 .35 .55 .35 .29 .35-.81 .35 .54 .35-.27 .35-.17 .35 .71 .35-.55 .35 .53 .35 .05 .35-.64 .35 .61 .35 .03 .35-.89 .35 .87 .35-.25 .35-.62 .35 .51 .35 .32 .35 0 .35 .04 .35-.37 .35-.41 .35 .23 .35-.04 .35 .32 .35-.35 .35 .28 .35-.24 .35 .15 .35 .17 .35 .17 .35-.76 .35 .4 .35-.13 .35 .3 .35 .09 .35-.01 .35-.55 .35-.01 .35 .71 .35-.55 .35 .38 .35-.67 .35 .57 .35-.36 .35 .43 .35-.58 .35 .79 .35-.19 .35-.07 .35-.15 .35 .32 .35-.35 .35 .19 .35-.24 .35-.38 .35 .44 .35 .34 .35-.16 .35-.55 .35-.05 .35 .13 .35 .45 .35-.32 .35-.06 .35 .63 .35-.86 .35 .8 .35-.47 .35 .46 .35-.52 .35 .23 .35-.38 .35 .13 .35 .37 .35 .03 .35-.51 .35 .47 .35 .34 .35-.37 .35-.33 .35 .4 .35-.1 .35 .08 .35 .17 .35 .1 .35-.78 .35 .09 .35-.12 .35 .87 .35-.02 .35-.23 .35-.13 .35-.47 .35 .15 .35-.17 .35 .23 .35-.27 .35-.08 .35 .04 .35 .38 .35-.28 .35-.1 .35 .69 .35 .01 .35 .18 .35-.14 .35 .15 .35-.3 .35-.13 .35-.11 .35-.09 .35-.32 .35 .7 .35-.39 .35 .41 .35 .21 .35-.15 .35-.29 .35 .05 .35 .33 .35-.65 .35 .35 .35 .01 .35 .01 .35-.32 .35 .17 .35 .05 .35 .28 .35 .18 .35-.92 .35 .75 .35-.32 .35 .16 .35-.1 .35 .26 .35-.4 .35-.01 .35 .15 .35 .43 .35-.56 .35 .01 .35 .08 .35 .49 .35-.84 .35 .44 .35 .01 .35 .28 .35-.55 .35 .28 .35-.37 .35 .13 .35-.31 .35 .2 .35 .11 .35-.09 .35 .12 .35-.13 .35-.03 .35 .08 .35 .34 .35-.05 .35 .36 .35-.86 .35 .68 .35-.73 .35 .14 .35-.21 .35 .49 .35-.49 .35 .05 .35 .59 .35 0 .35-.56 .35 .53 .35-.19 .35 .45 .35-.3 .35-.05 .35 .47 .35-.73 .35 .18 .35 .33 .35-.05 .35-.7 .35-.03 .35 .27 .35 .71 .35-.92 .35-.05 .35 .92 .35-.8 .35 .18 .35 .56 .35-.47 .35-.37 .35 .38 .35 .32 .35-.58 .35 .11 .35 .07 .35-.33 .35 .69 .35-.61 .35 .13 .35 .24 .35 .32 .35-.7 .35 .91 .35-.47 .35-.35 .35 .01 .35 .37 .35-.46 .35 .07 .35 .82 .35-.08 .35-.27 .35 .14 .35-.66 .35 .17 .35-.27 .35 .58 .35-.59 .35 .1 .35 .92 .35-.93 .35 .92 .35-.46 .35-.05 .35-.37 .35 .27 .35-.04 .35 .35 .35 .3 .35-.68 .35-.31 .35 .97 .35-.5 .35-.07 .35 .36 .35-.12 .35-.11 .35-.41 .35 .68 .35-.57 .35 .37 .35-.43 .35 .04 .35 .41 .35 .12 .35 .24 .35-.3 .35-.05 .35-.04 .35-.32 .35 .65 .35-.35 .35-.54 .35 .44 .35-.15 .35-.19 .35 .56 .35 .12 .35 .09 .35-.02 .35 .12 .35-.83 .35 .39 .35-.17 .35 .34 .35-.04 .35-.64 .35 .21 .35-.06 .35-.16 .35 .21 .35 .22 .35-.18 .35-.16 .35 .67 .35-.76 .35 .18 .35 .46 .35-.29 .35 .25 .35-.59 .35 .9 .35-.57 .35 .45 .35-.43 .35 .44 .35-.84 .35 .26 .35 .74 .35-.96 .35 .82 .35-.5 .35 .11 .35-.2 .35 .06 .35 .67 .35-.54 .35-.35 .35 .65 .35-.57 .35 .34 .35 .26 .35-.35 .35-.37 .35 .66 .35 .21 .35-.26 .35 .26 .35-.48 .35-.28 .35 .13 .35 .49 .35 .15 .35-.7 .35 .58 .35-.07 .35-.56 .35 .63 .35-.42 .35-.29 .35 .44 .35-.33 .35 .3 .35 .44 .35-.8 .35 .37 .35-.04 .35-.36 .35 .47 .35-.39 .35 .7 .35-.05 .35-.35 .35-.3 .35-.11 .35 .09 .35 .32 .35 .06 .35-.47 .35 .64 .35-.27 .35 .51 .35-.61 .35 .07 .35 .35 .35-.4 .35 .39 .35-.26 .35-.44 .35 .83 .35-.01 .35-.82 .35 .22 .35 .25 .35-.49 .35 .32 .35-.36 .35 .49 .35-.05 .35 .47 .35-.13 .35-.56 .35 .43 .35 .3 .35-.88 .35 .42 .35-.41 .35 .12 .35 .25 .35-.51 .35 .5 .35-.2 .35-.24 .35 .49 .35-.35 .35 0 .35 .79 .35-.54 .35 .12 .35-.47 .35 .9 .35-.39 .35-.31 .35 .39 .35-.02 .35-.17 .35-.06 .35-.35 .35 .71 .35-.77 .35 .02 .35 .6 .35 .27 .35 .03 .35-.73 .35 .64 .35-.68 .35 .01 .35 .29 .35 .12 .35-.05 .35 .41 .35-.44 .35-.15 .35 .11 .35-.3 .35 .58 .35-.59 .35 .33 .35-.42 .35 .68 .35-.39 .35 .46 .35-.67 .35 .35 .35 .41 .35-.15 .35-.56 .35-.12 .35 .53 .35 .42 .35-.62 .35 .32 .35-.02 .35 .31 .35-.61 .35-.34 .35 .01 .35 .87 .35-.75 .35 .4 .35 .06 .35 .28 .35-.51 .35-.19 .35 .71 .35-.32 .35 .41 .35-.23 .35-.12 .35-.21 .35-.51 .35 .89 .35-.5 .35-.33 .35 .74 .35 .26 .35-.27 .35-.6 .35 .18 .35 0 .35-.04 .35 .41 .35 .04 .35-.48 .35 .12 .35-.07 .35-.07 .35 .43 .35 .16 .35-.1 .35 .27 .35-.02 .35 .02 .35-.19 .35-.45 .35 .41 .35 .24 .35-.75 .35 .08 .35-.36 .35 .96 .35-.12 .35-.73 .35 .35 .35-.17 .35 .06 .35 .1 .35 .55 .35-.68 .35 .28 .35 .19 .35-.04 .35-.73 .35 .33 .35 .53 .35-.71 .35 .3 .35 .36 .35-.63 .35 .31 .35 .5 .35-.93 .35 .21 .35-.29 .35 .04 .35 .81 .35-.3 .35 .1 .35-.39 .35 .48 .35-.61 .35 .06 .35-.15 .35 .97 .35-.68 .35-.04 .35 .14 .35-.2 .35 .74 .35-.69 .35-.26 .35 .87 .35-.12 .35-.6 .35 .21 .35-.23 .35 .81 .35 .01 .35-.94 .35 .18 .35 .21 .35 .23 .35 .23 .35 .08 .35 .03 .35-.39 .35 .19 .35 .16 .35-.16 .35-.31 .35 .4 .35-.22 .35-.37 .35-.29 .35 .81 .35-.82 .35 .85 .35-.01 .35-.65 .35 .73 .35-.33 .35 .44 .35-.02 .35-1 .35 .23 .35 .64 .35-.32 .35-.42 .35 .4 .35-.18 .35 .04 .35-.3 .35 .55 .35 .24 .35-.49 .35-.07 .35 .64 .35-.3 .35 .38 .35-.14 .35-.7 .35 .54 .35-.6 .35 .01 .35 .52 .35-.67 .35 .22 .35 .82 .35-.75 .35 .47 .35-.01 .35-.19 .35 .33 .35-.7 .35-.07 .35 .72 .35-.49 .35-.16 .35 .35 .35 .19 .35-.18 .35 .31 .35-.51 .35 .5 .35 .13 .35-.37 .35 .1 .35-.11 .35-.3 .35-.06 .35 .52 .35-.63 .35 .29 .35-.04 .35 .57 .35-.39 .35-.3 .35 .19 .35-.41 .35 .24 .35 .44 .35-.48 .35 .06 .35 .67 .35-.7 .35 .33 .35 .46 .35-.99 .35 .35 .35 .43 .35-.04 .35-.16 .35 .1 .35-.62 .35-.09 .35 .07 .35 .85 .35-.79 .35 .56 .35-.67 .35 .89 .35-.13 .35 .08 .35 .15 .35-.37 .35 .26 .35 .13 .35-1 .35-.05 .35 .77 .35-.18 .35-.37 .35 .47 .35-.01 .35-.35 .35-.32 .35 1.02 .35-.48 .35-.49 .35 .77 .35 .08 .35-.55 .35 .46 .35-.8 .35 .7 .35 .3 .35-.25 .35-.52 .35 .13 .35 .31 .35-.26 .35 .61 .35-.23 .35-.38 .35 .29 .35-.69 .35 .29 .35-.33 .35 .33 .35-.18 .35 .34 .35-.17 .35-.29 .35 .11 .35 .27 .35 .21 .35-.37 .35 .15 .35 .6 .35-.59 .35 .08 .35 .02 .35 .47 .35-.84 .35 .33 .35 .38 .35-.31 .35-.21 .35 .04 .35-.19 .35 .52 .35 .19 .35-.13 .35-.75 .35 .81 .35-.04 .35-.4 .35-.11 .35 .75 .35-.91 .35 .72 .35-.57 .35 .3 .35 .17 .35 .24 .35-.16 .35-.76 .35 .86 .35 .12 .35-1.03 .35 .29 .35 .64 .35-.39 .35-.57 .35 .84 .35 .24 .35-.93 .35 .79 .35-.27 .35-.01 .35-.62 .35 1.02 .35 .03 .35-.96 .35 .76 .35-.51 .35-.36 .35 .54 .35 .36 .35-.29 .35-.58 .35 .89 .35-.48 .35 .15 .35-.17 .35 .61 .35-.47 .35 .31 .35 .14 .35-.39 .35 .28 .35-.7 .35-.02 .35 .6 .35-.07 .35 .31 .35-.66 .35-.19 .35 .26 .35 .52 .35-.38 .35-.25 .35 .2 .35 .25 .35-.68 .35 .65 .35-.29 .35 .48 .35-.08 .35-.04 .35-.79 .35 .54 .35-.53 .35 .33 .35-.2 .35 .35 .35-.3 .35 .11 .35 .48 .35 .02 .35-.02 .35-.03 .35-.41 .35-.35 .35 .03 .35 .57 .35 .42 .35-.5 .35-.05 .35 .44 .35-.54 .35-.16 .35 .8 .35-1.05 .35 .59 .35-.4 .35 .08 .35 .76 .35-.29 .35-.14 .35-.48 .35 .9 .35-.54 .35-.37 .35 .49 .35-.51 .35 .85 .35-.49 .35-.13 .35-.04 .35-.05 .35-.02 .35 .45 .35-.47 .35 .41 .35 .36 .35-.15 .35-.22 .35-.12 .35-.09 .35-.1 .35 .18 .35 .63 .35-.49 .35-.28 .35-.02 .35 .19 .35 .01 .35-.12 .35 .22 .35 .22 .35-.05 .35 .03 .35-.22 .35 .33 .35-.82 .35 .55 .35 .28 .35-.11 .35 .24 .35-.89 .35 .57 .35 .14 .35-.43 .35-.16 .35 .21 .35 .42 .35-.66 .35 .61 .35-.04 .35-.22 .35-.03 .35 .47 .35-.89 .35-.08 .35 .5 .35-.48 .35 .19 .35-.13 .35 .89 .35-.48 .35-.28 .35 .08 .35-.16 .35 .21 .35-.21 .35 .72 .35-.3 .35-.5 .35 .82 .35-.44 .35-.46 .35 .79 .35-.1 .35-.18 .35-.09 .35 .34 .35 .27 .35-.52 .35 .44 .35-.39 .35-.34 .35 .53 .35 .08 .35-.73 .35 .1 .35-.11 .35-.09 .35 .33 .35 .17 .35 .1 .35-.09 .35 .36 .35-.72 .35 .86 .35-.22 .35-.77 .35 0 .35 .06 .35 .56 .35-.06 .35-.34 .35 .46 .35-.37 .35 .5 .35-.06 .35-.55 .35-.18 .35 .59 .35-.58 .35 .54 .35 .11 .35-.58 .35 .69 .35-.41 .35 .25 .35-.12 .35 .21 .35-.24 .35 .03 .35-.05 .35-.35 .35 .52 .35-.66 .35 .43 .35 .4 .35 .08 .35-.01 .35-.11 .35 .25 .35 .02 .35-.65 .35 .3 .35-.57 .35 .52 .35-.33 .35 .6 .35-.81 .35 .03 .35 .53 .35-.09 .35 .06 .35-.03 .35-.6 .35 .61 .35-.18 .35-.26 .35 .69 .35-.1 .35-.09 .35-.26 .35-.29 .35-.17 .35 .96 .35-.44 .35 .01 .35-.21 .35 .14 .35 .23 .35-.2 .35 .41 .35-.69 .35-.08 .35 .81 .35-.72 .35 .12 .35 .47 .35-.78 .35 .54 .35-.22 .35 .68 .35-.45 .35-.01 .35 .14 .35 .17 .35-.56 .35-.29 .35 .62 .35-.16 .35-.26 .35 .56 .35 .02 .35 .27 .35-.04 .35-.78 .35 .16 .35 .4 .35-.8 .35 .89 .35-.19 .35-.38 .35 .63 .35-.46 .35-.25 .35 .63 .35 .12 .35-.85 .35 .88 .35-.86 .35 .58 .35-.22 .35 .42 .35 .13 .35-.98 .35 .39 .35 .45 .35-.5 .35-.26 .35 .34 .35-.48 .35 .15 .35 .74 .35-.02 .35-.03 .35-.82 .35 .65 .35-.22 .35 .23 .35-.36 .35-.04 .35 .69 .35-.26 .35-.06 .35-.14 .35-.23 .35 .15 .35 .5 .35-.04 .35-.83 .35 .76 .35-.13 .35-.02 .35-.37 .35 .68 .35-.41 .35 .31 .35-.84 .35 .47 .35-.3 .35 .19 .35-.09 .35 .25 .35-.46 .35 .34 .35-.14 .35 .4 .35-.48 .35 .11 .35-.09 .35 .74 .35-.92 .35 .1 .35 .75 .35-.55 .35 .42 .35-.74 .35 .07 .35 .5 .35-.48 .35 .09 .35 .13 .35 .29 .35-.51 .35-.11 .35 .36 .35 .31 .35 .15 .35-.27 .35-.27 .35 .67 .35-.68 .35 .5 .35 0 .35-.11 .35-.15 .35-.35 .35 .39 .35-.61 .35 1.04 .35-.47 .35-.05 .35 .51 .35-.1 .35-.62 .35 .71 .35-.03 .35-.81 .35 .28 .35-.05 .35 .19 .35 .11 .35-.27 .35 .28 .35-.05 .35-.13 .35-.52 .35 .26 .35 .13 .35 .37 .35-.39 .35-.12 .35-.23 .35 .73 .35-.37 .35 .17 .35 .39 .35-.25 .35-.45 .35 .04 .35 .38 .35 .22 .35-.71 .35 .26 .35-.23 .35-.1 .35 .63 .35-.32 .35 .01 .35 .48 .35-.91 .35 .23 .35-.19 .35-.04 .35 .56 .35-.22 .35 .39 .35-.54 .35-.07 .35 .67 .35-.75 .35 .55 .35-.55 .35 .97 .35-.05 .35-.92 .35 .98 .35-.43 .35 .2 .35 .12 .35-.43 .35 0 .35-.13 .35 .31 .35-.65 .35 .72 .35 .06 .35-.05 .35-.08 .35-.33 .35 .4 .35-.33 .35 .29 .35-.43 .35 .01 .35 .43 .35-.53 .35 .73 .35-.02 .35-.29 .35-.32 .35 .09 .35-.22 .35 .66 .35 .23 .35-.92 .35-.05 .35 .4 .35 .59 .35-.84 .35 0 .35 .21 .35-.07 .35-.08 .35 .34 .35-.51 .35-.02 .35 .44 .35 .5 .35-.82 .35 .03 .35 0 .35-.16 .35 .02 .35 .24 .35-.04 .35 .34 .35-.47 .35 .82 .35-.37 .35 .25" fill="none" stroke="#d95319" stroke-width="2.1" stroke-linejoin="round" />
<path d="M348.00 481.40l.6 .84 .6-.48 .6-.07 .6 .68 .6-.51 .6-.15 .6 .15 .6 .26 .6-.39 .6 .35 .6-.18 .6-.21 .6-.09 .6 1.01 .6 .12 .6-.71 .6 .62 .6-.4 .6-.03 .6-.04 .6 .09 .6 .06 .6-.26 .6 .9 .6-.46 .6-.25 .6 .3 .6 .1 .6 .37 .6-.7 .6 .44 .6 .35 .6 .09 .6-.8 .6 .29 .6 .44 .6-.42 .6 .42 .6-.47 .6 .1 .6-.29 .6 .73 .6-.42 .6-.23 .6 .24 .6-.08 .6 .26 .6 .75 .6-.03 .6-.08 .6-.02 .6 .15 .6-.9 .6 .43 .6 .38 .6 .22 .6-.39 .6-.58 .6 .29 .6-.18 .6 .74 .6 .07 .6-.49 .6-.48 .6 1.18 .6-.03 .6 .08 .6-.21 .6 .33 .6-.88 .6-.17 .6 .92 .6-.01 .6-.67 .6 .45 .6-.62 .6 .09 .6 1.07 .6-.1 .6-.87 .6 .64 .6 .09 .6-.2 .6-.02 .6 .26 .6-.82 .6 1.23 .6-.44 .6-.14 .6-.23 .6 .01 .6 .46 .6-.53 .6 .68 .6-.78 .6 .41 .6-.12 .6-.35 .6 .91 .6 .26 .6-.63 .6-.18 .6 .55 .6-.7 .6 .96 .6-.44 .6 .23 .6-.48 .6 .29 .6 .05 .6 .07 .6 .22 .6-.47 .6 0 .6-.01 .6-.51 .6 .42 .6 .72 .6-.32 .6-.41 .6 .58 .6-.73 .6 .18 .6-.17 .6 .15 .6-.37 .6 .56 .6-.57 .6 .4 .6 .39 .6 .17 .6-.32 .6-.38 .6-.25 .6 .09 .6-.02 .6 .51 .6 .12 .6-.84 .6 .4 .6 .39 .6-.09 .6-.8 .6 .61 .6 .47 .6-.12 .6-.84 .6 .79 .6 .18 .6-.08 .6-.1 .6-1.01 .6 .41 .6 .29 .6 .27 .6-.07 .6-.57 .6-.09 .6 .45 .6-.58 .6 .18 .6 .57 .6-.78 .6 .76 .6-1.08 .6 .03 .6 .37 .6 .41 .6-.62 .6 .98 .6-.5 .6-.71 .6 .21 .6 .83 .6-1.02 .6-.13 .6 .3 .6-.31 .6 .22 .6 .39 .6 .45 .6-.52 .6 .13 .6-.61 .6 .3 .6 .41 .6-.24 .6 .62 .6-.73 .6 .69 .6-.99 .6 .63 .6 .12 .6 .26 .6-1.1 .6 .6 .6 .42 .6-.6 .6 .66 .6-.12 .6-.85 .6 .25 .6-.23 .6 .66 .6-1.05 .6 .86 .6-.95 .6 .06 .6 .99 .6-.79 .6 .49 .6 .46 .6-1.03 .6 .3 .6 .52 .6-.23 .6 0 .6-.61 .6 .46 .6 .43 .6-.45 .6 .16 .6 .07 .6-.47 .6 .2 .6-.23 .6-.12 .6-.29 .6 1.14 .6-.77 .6 .51 .6-.72 .6 .55 .6 .2 .6-.07 .6-.32 .6 .72 .6-1.18 .6 .83 .6-.89 .6 .54 .6-.71 .6 .08 .6 1.18 .6-.22 .6-1 .6 .06 .6 .03 .6 1.04 .6-.52 .6 .51 .6-.33 .6 .23 .6-.9 .6 .84 .6-.61 .6 .49 .6-.69 .6 .25 .6 .68 .6-1.04 .6 .12 .6 .19 .6-.11 .6 .9 .6 .07 .6-.07 .6-.56 .6 .29 .6-.09 .6 .11 .6-.03 .6 .45 .6-.39 .6-.89 .6 1.04 .6-.27 .6 .34 .6-.65 .6-.18 .6 .44 .6-.4 .6 .54 .6-.06 .6 .22 .6-.96 .6 1.11 .6-.96 .6 .52 .6-.07 .6 .83 .6-.26 .6 .18 .6-.94 .6 .35 .6 .56 .6-.02 .6-.38 .6-.12 .6-.36 .6 .41 .6 .51 .6-.21 .6 .16 .6-.31 .6-.74 .6 .15 .6 .35 .6 .7 .6-.6 .6 .69 .6-.67 .6 .39 .6-.05 .6-1 .6 .63 .6 .22 .6 .62 .6-.24 .6-.85 .6 .09 .6 .3 .6-.18 .6 .02 .6 .3 .6-.76 .6 .58 .6-.53 .6-.07 .6 1.25 .6-1.17 .6 .9 .6 .18 .6-1.02 .6 0 .6-.07 .6 1.28 .6-.59 .6-.48 .6 1.25 .6-.54 .6 .41 .6-1.17 .6 .74 .6 .26 .6-.46 .6 .08 .6-.66 .6 .25 .6 .07 .6 .29 .6-.64 .6 .11 .6 .77 .6 .6 .6-1.09 .6 .41 .6-.04 .6 .43 .6-.36 .6-.03 .6-.71 .6-.03 .6 .66 .6-.49 .6 .31 .6-.26 .6 .99 .6-.75 .6 .54 .6-.08 .6 .17 .6-.64 .6-.17 .6 1.09 .6-.57 .6 .35 .6-.41 .6-.64 .6 .16 .6 .04 .6-.17 .6 1.06 .6 .38 .6-.85 .6 .88 .6-1.32 .6 .37 .6 .39 .6 .08 .6-.95 .6 1.34 .6 .16 .6-1.08 .6 .01 .6 .52 .6-.32 .6 .16 .6 .54 .6-.34 .6-.81 .6 .33 .6 .83 .6 .11 .6-.97 .6-.35 .6 1.1 .6-.88 .6 .02 .6 .29 .6-.51 .6 .93 .6 .28 .6-.81 .6 .53 .6-.85 .6 .36 .6-.32 .6-.08 .6 .27 .6 .14 .6-.54 .6 .97 .6 .01 .6-.57 .6 .23 .6-.25 .6-.27 .6 1.34 .6-.03 .6-.75 .6 .57 .6-.49 .6 .71 .6-.55 .6 .39 .6-.47 .6 0 .6 .1 .6 .34 .6-1.14 .6 .94 .6 0 .6 .45 .6-1.03 .6 .54 .6-.51 .6 .35 .6-.93 .6 1.3 .6-1.01 .6 .47 .6-.52 .6 1.25 .6-.35 .6 .22 .6-.17 .6 .22 .6-.39 .6-.92 .6-.02 .6 1.09 .6-.74 .6 .68 .6-.45 .6 .67 .6-.83 .6-.4 .6 1.2 .6-.86 .6 .15 .6 .61 .6-.85 .6 1.11 .6-1.47 .6 1.18 .6 .15 .6-.38 .6-.69 .6-.15 .6 1.08 .6-.07 .6 .08 .6 .32 .6-.61 .6 .56 .6 .06 .6-.65 .6 .3 .6-.99 .6 1.36 .6-.83 .6 .01 .6 .3 .6 .28 .6-.95 .6 .77 .6 .13 .6-.71 .6 .07 .6 .72 .6-.9 .6 .77 .6 .14 .6-.87 .6-.08 .6-.21 .6 .02 .6 1.09 .6-.97 .6-.01 .6 .62 .6-.61 .6 0 .6 1.07 .6 .1 .6-.38 .6 .04 .6-.69 .6-.04 .6 .78 .6-.49 .6-.53 .6 .19 .6 .67 .6-.57 .6 .7 .6-.97 .6-.37 .6 .23 .6-.06 .6 .13 .6 1.32 .6-.55 .6-.36 .6-.49 .6 1.11 .6-.29 .6-.63 .6 .36 .6 .62 .6 .19 .6-.02 .6-.61 .6-.1 .6-.19 .6-.69 .6 .48 .6 .89 .6-.78 .6 .5 .6 .54 .6-.31 .6-.81 .6-.13 .6 1.16 .6-1.21 .6 .85 .6-.13 .6-.13 .6-.43 .6 1.13 .6-.35 .6-.61 .6-.42 .6 .41 .6-.62 .6 .24 .6 .09 .6-.14 .6 .65 .6-.67 .6-.09 .6-.04 .6 1.39 .6-1.38 .6 1.51 .6-.05 .6-.72 .6 .64 .6-1.48 .6 1.26 .6-.39 .6 .14 .6 .67 .6-1.44 .6 .25 .6 .65 .6-.87 .6 1.27 .6-1.3 .6 .4 .6 .61 .6 .2 .6-.13 .6 .05 .6-.71 .6-.05 .6 .29 .6-.64 .6 .62 .6 .03 .6-.4 .6-.3 .6-.1 .6 .46 .6 .32 .6 .77 .6-1.37 .6-.3 .6 .48 .6 .3 .6 .19 .6-.42 .6 1 .6-1.22 .6 .09 .6-.01 .6 1.24 .6-.86 .6-.22 .6-.53 .6 .59 .6 .73 .6 .06 .6 .2 .6-1.32 .6-.28 .6 .25 .6-.2 .6 1.4 .6-1.01 .6 .96 .6-.96 .6-.33 .6 .3 .6 .6 .6 .63 .6-.59 .6 .29 .6-.51 .6 .73 .6-.12 .6 .23 .6-.25 .6-.26 .6 .24 .6 .11 .6-.39 .6-1.06 .6 .64 .6 .94 .6-.49 .6-.52 .6 .87 .6-.94 .6 .06 .6 .26 .6 .24 .6-.18 .6-.43 .6 .41 .6-.37 .6 .56 .6-.2 .6-.8 .6 .93 .6 .56 .6-.57 .6-.98 .6 .85 .6-.69 .6 .45 .6-.45 .6 1.35 .6-.26 .6-.36 .6-.49 .6-.35 .6 1.09 .6-.84 .6 1.2 .6-.06 .6-1.29 .6 1.51 .6-.05 .6-1.61 .6 .78 .6-.4 .6 .61 .6 .39 .6-1.05 .6-.35 .6 .54 .6-.31 .6 .93 .6-.75 .6 .55 .6-.89 .6 .29 .6 .91 .6 .11 .6-.51 .6 .05 .6-.95 .6 .98 .6-.02 .6-.66 .6 .92 .6-1.09 .6 .74 .6-.8 .6 1.37 .6-.81 .6 1.03 .6-.94 .6 .59 .6-.5 .6-.83 .6 .5 .6 .49 .6 .38 .6-1.34 .6 .82 .6 .48 .6-1.02 .6 .24 .6-.11 .6 .83 .6-.83 .6 1.14 .6-.14 .6-.52 .6 .79 .6-1.21 .6-.57 .6 1.23 .6 .25 .6 .24 .6-1.43 .6-.25 .6 1.03 .6-.36 .6-.31 .6 .81 .6-.27 .6 .17 .6 .57 .6-.11 .6-1.27 .6-.21 .6 1.08 .6-1.18 .6 .37 .6 1.32 .6-.98 .6 .63 .6-.13 .6-1.02 .6 1.18 .6 .01 .6-1.38 .6 1.77 .6-1.6 .6 .69 .6 .02 .6-.03 .6 .98 .6-1.53 .6 1.19 .6 .13 .6-1.38 .6-.26 .6 .48 .6-.41 .6 .05 .6 1.43 .6-1.51 .6 .45 .6-.36 .6 .12 .6 .76 .6 .69 .6-.07 .6-1.43 .6 1.36 .6 .07 .6-1.18 .6-.07 .6 .29 .6 .79 .6 .4 .6-.85 .6-.26 .6-.08 .6 .16 .6-.39 .6 .88 .6-.23 .6-.45 .6 .68 .6 .14 .6-1.13 .6 .39 .6 .45 .6 .23 .6-1.29 .6 .07 .6 1.28 .6-.04 .6-1.04 .6 .34 .6 .56 .6-.33 .6 .51 .6-1.09 .6 .41 .6-.18 .6 .97 .6-.96 .6 .75 .6-.55 .6-.49 .6 .85 .6-.89 .6-.08 .6 1.41 .6 .07 .6-1.04 .6 .03 .6 .46 .6 .02 .6-.06 .6-.6 .6 .99 .6-.93 .6 1.09 .6 .13 .6-1.27 .6 .63 .6 .19 .6-.91 .6 1.4 .6-.98 .6 .12 .6-.3 .6 .08 .6-.58 .6 1.61 .6-.11 .6-.21 .6 .44 .6-.25 .6-.48 .6-1.12 .6 1.77 .6-.34 .6-.47 .6-.06 .6 .25 .6 .18 .6-.34 .6-.37 .6-.52 .6 .61 .6-.58 .6 .54 .6 .94 .6-.14 .6-.55 .6 .34 .6-.5 .6 .26 .6 .62 .6 .13 .6-1.29 .6 .93 .6-.73 .6 .13 .6-.1 .6-.45 .6 .12 .6 1.24 .6-.58 .6-.79 .6 1.57 .6-.39 .6-.03 .6-.42 .6 .11 .6-.86 .6 .06 .6 .92 .6 .01 .6-.52 .6 .8 .6-1.12 .6-.13 .6-.19 .6 1.66 .6-.76 .6 .09 .6 .14 .6-1.01 .6 1.44 .6 .19 .6-1.41 .6 0 .6 1.17 .6-.65 .6-.6 .6 1.48 .6-.26 .6-.88 .6 .49 .6 .18 .6-.7 .6 .43 .6-.39 .6 .88 .6-1.17 .6 .43 .6-.75 .6 1.03 .6-1.03 .6 .54 .6 .79 .6-.41 .6-.38 .6 .28 .6-.71 .6 .26 .6 1.27 .6-1.48 .6 1.22 .6-.08 .6-.2 .6 .27 .6-1.23 .6 .43 .6-.03 .6-.23 .6 .03 .6 .13 .6 1.25 .6-1.1 .6 .77 .6-.08 .6-.01 .6-.48 .6 .04 .6-.62 .6 1.33 .6-.97 .6 .64 .6 .3 .6-.56 .6-.4 .6 .97 .6-1.47 .6 1.25 .6-.89 .6 .78 .6-.91 .6 1.27 .6-.79 .6-.68 .6 1.31 .6-.88 .6-.47 .6 1.42 .6-1.44 .6 .23 .6-.02 .6 .4 .6 1.08 .6-1.71 .6 1.73 .6-1.34 .6 .26 .6 .71 .6 .12 .6-1.37 .6 1.06 .6-.45 .6-.7 .6 1.74 .6-1.12 .6 .54 .6 .1 .6-.96 .6 .08 .6 .2 .6 .94 .6-.09 .6-.35 .6-.58 .6-.06 .6 .08 .6 .05 .6 .15 .6-.11 .6-.12 .6 .78 .6 .24 .6-.01 .6-1.37 .6 .81 .6-.77 .6 1.34 .6-.7 .6-.94 .6 1.51 .6-.26 .6-1.06 .6 1.41 .6-1.51 .6 1.58 .6 .2 .6-1.06 .6 .3 .6-.4 .6 .17 .6 .66 .6-.07 .6-.71 .6 .79 .6-.97 .6 .88 .6-.89 .6 .98 .6-1.08 .6 .48 .6-.64 .6-.21 .6 .65 .6-.63 .6 .12 .6 .45 .6 .73 .6-.75 .6-.63 .6 .74 .6-.01 .6-.33 .6 .17 .6 .26 .6 .08 .6 .17 .6 .64 .6 .01 .6-.5 .6-.6 .6-.67 .6 .8 .6-.31 .6 .66 .6-.78 .6 .75 .6-.65 .6-.18 .6-.21 .6 .8 .6-.67 .6 .13 .6 .15 .6-.22 .6-.28 .6 .21 .6 1.16 .6-.59 .6 .48 .6 .04 .6-.17 .6-.07 .6 .53 .6-1.46 .6 .45 .6-.59 .6 .84 .6 .8 .6-.66 .6 .63 .6-.45 .6-1.08 .6 .07 .6 1.11 .6 .54 .6-1.51 .6 1.46 .6-.45 .6-1.05 .6 .31 .6 1.04 .6 .03 .6-.33 .6 .49 .6-.31 .6 .28 .6-1.03 .6 .1 .6-.22 .6-.21 .6 .17 .6-.31 .6 1.53 .6-.62 .6 .63 .6-1.55 .6 .93 .6-.34 .6 .88 .6-1.69 .6 1.11 .6-.15 .6-.9 .6 .8 .6-.35 .6 .01 .6-.48 .6 1.49 .6-1.2 .6 1.36 .6-1.47 .6 1.41 .6 .16 .6-.91 .6 .71 .6-1.14 .6-.22 .6 1.13 .6-.32 .6 .54 .6-.57 .6 .82 .6-1.07 .6-.03 .6 .69 .6 .43 .6-1.27 .6-.15 .6 1.08 .6-1 .6-.25 .6 .77 .6-.51 .6-.36 .6 .98 .6-.43 .6-.55 .6 .39 .6 .2 .6-.51 .6 1.04 .6-1.23 .6 .71 .6-.2 .6 1.14 .6-1.51 .6-.08 .6 .47 .6 1.2 .6-.91 .6 .75 .6-1.58" fill="none" stroke="#62d216" stroke-width="0.45" stroke-linejoin="round" stroke-opacity="0.35"/>
<path d="M130.50 505.50l.5-.23 .5 0 .5-.65 .5-.25 .5 .28 .5-.29 .5-.55 .5-.1 .5-.42 .5-.55 .5-.51 .5-.74 .5-.13 .5-.51 .5-.69 .5-.52 .5-.83 .5-.84 .5-.31 .5-1.28 .5-.68 .5-.87 .5-.62 .5-.97 .5-.86 .5-1.01 .5-.9 .5-1.31 .5-.88 .5-.95 .5-1.05 .5-1.21 .5-1.37 .5-.76 .5-1.29 .5-.91 .5-1.57 .5-1.02 .5-1.61 .5-.85 .5-1.62 .5-.93 .5-1.25 .5-1.21 .5-1.4 .5-1.28 .5-1.49 .5-1.2 .5-.96 .5-1.2 .5-1.68 .5-1.19 .5-1.49 .5-1.35 .5-1.06 .5-1.35 .5-1.53 .5-1.27 .5-1.95 .5-.9 .5-1.94 .5-1.51 .5-1.42 .5-1.4 .5-1.31 .5-1.78 .5-.98 .5-1.77 .5-1.16 .5-1.65 .5-1.75 .5-1.51 .5-1.09 .5-1.6 .5-1.72 .5-1.31 .5-1.49 .5-1.09 .5-1.17 .5-1.63 .5-1.51 .5-.72 .5-1.31 .5-1.7 .5-1.05 .5-1.11 .5-.79 .5-1.7 .5-.53 .5-1.32 .5-1.2 .5-1.05 .5-.89 .5-1.23 .5-1.02 .5-.69 .5-1.26 .5-.67 .5-1.23 .5-.73 .5-1.33 .5-.58 .5-.95 .5-.67 .5-.95 .5-.8 .5-1.09 .5-.35 .5-.77 .5-.89 .5-.59 .5-.88 .5-.61 .5-.41 .5-.61 .5-.71 .5-.04 .5-.56 .5-.77 .5 .34 .5-.31 .5-.16 .5 .15 .5-.53 .5-.08 .5 .46 .5-.57 .5 .15 .5 .26 .5-.44 .5 .33 .5-.5 .5 .4 .5-.56 .5 .27 .5 .23 .5-.12 .5-.09 .5-.15 .5 .16 .5-.06 .5-.36 .5 .31 .5 .03 .5-.1 .5-.29 .5 .08 .5-.13 .5 .07 .5 0 .5 .21 .5-.05 .5-.37 .5 .36 .5-.08 .5-.24 .5 .13 .5-.3 .5 .02 .5 .05 .5 .29 .5-.35 .5 .05 .5 .15 .5-.04 .5-.1 .5 .22 .5 .32 .5-.24 .5 .27 .5 .06 .5-.32 .5 .3 .5 .08 .5 .35 .5 .07 .5 .11 .5 .33 .5-.29 .5 .19 .5 .43 .5 .31 .5 .23 .5 .34 .5-.17 .5 .2 .5 .39 .5 .46 .5 .02 .5 .52 .5 .16 .5 .12 .5 .44 .5 .22 .5 .51 .5 .26 .5-.06 .5 .28 .5 .67 .5 .3 .5 .3 .5 0 .5 .15 .5 .55 .5 .55 .5 .08 .5 .36 .5-.09 .5 .53 .5 .16 .5 .25 .5 .39 .5 .35 .5 .44 .5 .39 .5 .27 .5 .21 .5 .19 .5 .53 .5 .57 .5 .32 .5 .34 .5 .31 .5 .14 .5 .29 .5 .15 .5 .64 .5 .23 .5 .22 .5 .12 .5 .39 .5 .63 .5 .22 .5 .47 .5-.09 .5 .65 .5 .43 .5-.21 .5 .87 .5-.26 .5 .7 .5 .17 .5 .15 .5 .3 .5 .09 .5 .71 .5-.17 .5 .84 .5 .27 .5 .19 .5-.16 .5 .56 .5 .38 .5 .02 .5 .27 .5 .48 .5-.21 .5 .47 .5 .53 .5 .22 .5 .32 .5 .2 .5-.17 .5 .66 .5-.19 .5 .4 .5 .22 .5 .25 .5 .17 .5-.05 .5 .56 .5-.27 .5 .52 .5-.29 .5 .69 .5 .13 .5-.23 .5 .31 .5 .08 .5 .4 .5-.27 .5-.01 .5 .31 .5 .06 .5 .08 .5 .41 .5-.13 .5-.05 .5 .12 .5 .5 .5-.16 .5-.08 .5 .24 .5-.15 .5 .28 .5-.09 .5 .14 .5 .37 .5-.23 .5 .18 .5-.23 .5-.07 .5 .1 .5-.09 .5 .17 .5 .08 .5-.27 .5 .23 .5-.16 .5 .13 .5-.08 .5 .05 .5-.21 .5-.45 .5 .1 .5-.05 .5 .2 .5-.09 .5-.49 .5 .32 .5-.39 .5 .05 .5-.11 .5-.25 .5-.03 .5-.17 .5 .01 .5-.03 .5-.3 .5 .08 .5-.35 .5-.4 .5 .19 .5-.3 .5 .1 .5-.42 .5 .05 .5-.43 .5 .1 .5-.21 .5-.13 .5-.59 .5 .05 .5-.03 .5-.39 .5-.32 .5 .05 .5-.27 .5-.38 .5 0 .5-.34 .5-.05 .5-.45 .5-.06 .5-.39 .5-.42 .5-.51 .5 .19 .5-.44 .5 .02 .5-.23 .5-.27 .5-.41 .5-.19 .5-.22 .5-.35 .5-.25 .5 .12 .5-.81 .5 .3 .5-.66 .5-.23 .5 .18 .5-.67 .5 .17 .5-.47 .5 .16 .5-.39 .5-.42 .5 0 .5-.12 .5-.15 .5-.7 .5 .34 .5-.27 .5-.55 .5 .02 .5-.23 .5-.14 .5-.4 .5 .23 .5-.3 .5-.24 .5 .07 .5-.5 .5-.05 .5-.08 .5-.14 .5-.3 .5 .04 .5-.22 .5 .06 .5-.33 .5-.05 .5-.02 .5-.35 .5 .12 .5 .1 .5-.21 .5-.21 .5-.31 .5 .18 .5-.19 .5-.1 .5 .12 .5 .08 .5-.35 .5-.27 .5 .23 .5-.2 .5 .18 .5-.11 .5-.29 .5 .24 .5-.21 .5 .07 .5-.42 .5 .11 .5 .33 .5-.51 .5 .4" fill="none" stroke="#0072bd" stroke-width="2.4" stroke-linejoin="round" />
<path d="M345.40 395.34l.35-.06 .35-.41 .35-.02 .35 .16 .35-.19 .35 .35 .35 .04 .35 .03 .35 .1 .35-.28 .35-.17 .35 .13 .35 .41 .35-.37 .35 0 .35 .39 .35-.01 .35 .22 .35-.03 .35 .08 .35 .06 .35-.5 .35 .62 .35-.37 .35-.06 .35 .54 .35-.32 .35-.04 .35 .31 .35 .21 .35-.25 .35 .38 .35 .12 .35-.21 .35-.13 .35 .1 .35-.02 .35 .23 .35 .03 .35 0 .35 .13 .35-.02 .35 .43 .35 .11 .35-.23 .35-.13 .35 .19 .35 .32 .35 .26 .35-.06 .35-.35 .35 .26 .35-.09 .35 .4 .35-.01 .35 .12 .35-.01 .35-.03 .35 .53 .35-.18 .35-.08 .35 .18 .35 0 .35 .62 .35-.35 .35 .58 .35 .11 .35-.44 .35 .52 .35-.27 .35 .4 .35 .25 .35-.22 .35-.07 .35 .37 .35 .05 .35-.15 .35 .27 .35 .06 .35 .02 .35 .06 .35 .43 .35-.09 .35-.08 .35 .17 .35 .12 .35 .23 .35-.19 .35 .3 .35-.34 .35 .44 .35 .06 .35-.37 .35 .48 .35-.3 .35 .61 .35-.15 .35-.19 .35 .44 .35-.22 .35-.06 .35 .38 .35 .23 .35 .01 .35 .13 .35 0 .35-.14 .35-.04 .35 .14 .35 .39 .35-.46 .35 .09 .35 .61 .35-.53 .35 .42 .35 .28 .35-.18 .35 .2 .35-.41 .35 .52 .35-.03 .35 .07 .35-.18 .35 .27 .35 .15 .35 .1 .35-.45 .35 .57 .35-.06 .35-.07 .35 .17 .35 .05 .35-.09 .35 .25 .35 .05 .35 0 .35-.35 .35 .14 .35 .39 .35-.19 .35-.23 .35 .46 .35-.38 .35 .56 .35-.17 .35 .23 .35-.39 .35 .41 .35-.35 .35-.12 .35 .49 .35 .15 .35 .03 .35-.5 .35 .32 .35 .1 .35-.2 .35 .31 .35-.21 .35 .36 .35-.17 .35-.06 .35 .07 .35-.03 .35 .08 .35 .17 .35-.22 .35-.18 .35 .46 .35-.13 .35 .3 .35-.54 .35 .52 .35-.29 .35 .37 .35-.32 .35-.12 .35 .38 .35-.28 .35 .41 .35-.15 .35 .21 .35-.1 .35-.14 .35 .11 .35-.36 .35 .03 .35 .11 .35 .19 .35 .26 .35-.6 .35 .17 .35-.11 .35 .49 .35 .05 .35-.24 .35-.23 .35 .41 .35-.35 .35 .19 .35 .11 .35-.32 .35-.1 .35-.12 .35 .57 .35-.62 .35 .52 .35 .06 .35-.38 .35-.21 .35 .36 .35-.36 .35 .14 .35-.1 .35 .25 .35-.02 .35-.11 .35-.11 .35 .13 .35-.42 .35-.01 .35-.06 .35-.02 .35 .15 .35-.25 .35 .51 .35-.63 .35 .56 .35-.13 .35-.21 .35-.05 .35 .15 .35-.37 .35 .3 .35-.3 .35 .22 .35-.25 .35 .29 .35-.3 .35-.02 .35-.33 .35 .5 .35-.7 .35-.07 .35 .19 .35 .4 .35-.55 .35-.18 .35 .14 .35 .27 .35-.02 .35-.55 .35 .2 .35-.03 .35-.23 .35-.05 .35 .08 .35 0 .35 .12 .35-.01 .35-.06 .35-.18 .35-.22 .35-.08 .35-.02 .35 .39 .35-.43 .35 .16 .35-.2 .35-.02 .35 .3 .35-.01 .35-.22 .35 .03 .35-.03 .35 .07 .35-.61 .35 .15 .35 .34 .35 .11 .35-.26 .35 .05 .35-.51 .35-.15 .35 .61 .35-.54 .35-.02 .35 .21 .35-.13 .35 .2 .35-.49 .35-.09 .35-.11 .35 .47 .35-.15 .35-.02 .35-.35 .35-.1 .35 .34 .35 .01 .35-.42 .35-.03 .35 .31 .35-.04 .35-.51 .35 .02 .35 .31 .35-.08 .35-.29 .35 .26 .35-.12 .35-.24 .35 0 .35-.26 .35 .1 .35-.26 .35 .25 .35-.37 .35-.1 .35 .66 .35-.65 .35 .09 .35 .37 .35-.64 .35 .32 .35-.1 .35 .02 .35 .01 .35-.17 .35 .26 .35-.23 .35-.41 .35 .27 .35-.43 .35 .12 .35 .43 .35-.67 .35 .17 .35-.24 .35 .58 .35-.67 .35 .34 .35-.11 .35 .28 .35-.67 .35-.06 .35 .57 .35-.51 .35 .15 .35 .33 .35-.48 .35-.12 .35 .44 .35-.05 .35 .11 .35-.18 .35-.18 .35-.32 .35 .38 .35-.18 .35-.12 .35 .09 .35-.35 .35 .56 .35-.45 .35 .4 .35-.14 .35-.12 .35-.31 .35 .3 .35-.28 .35 .39 .35-.45 .35 .36 .35-.64 .35 .55 .35-.26 .35 .06 .35-.01 .35 .25 .35-.3 .35 .23 .35-.21 .35-.22 .35 .34 .35-.15 .35-.07 .35 .14 .35-.58 .35-.03 .35 .3 .35-.22 .35-.17 .35 .07 .35-.2 .35 .59 .35-.57 .35-.1 .35 .39 .35-.25 .35-.11 .35 .26 .35-.1 .35-.04 .35 .19 .35-.4 .35 .23 .35 .31 .35-.45 .35 .27 .35-.3 .35-.12 .35 .09 .35-.26 .35 .15 .35 0 .35 .38 .35 .01 .35-.09 .35-.23 .35-.35 .35 .47 .35-.16 .35 .22 .35-.27 .35-.35 .35 .35 .35-.32 .35 .59 .35-.68 .35 .29 .35-.24 .35 .32 .35-.42 .35 .73 .35-.27 .35 .13 .35-.37 .35-.04 .35 .05 .35-.32 .35 .52 .35-.13 .35 .06 .35-.25 .35-.21 .35 .48 .35 .13 .35-.35 .35 0 .35-.12 .35-.03 .35 .41 .35-.17 .35 .35 .35-.3 .35-.35 .35 .07 .35 .33 .35-.25 .35 .28 .35-.04 .35 .1 .35-.14 .35-.08 .35 .01 .35-.19 .35-.05 .35 .52 .35-.12 .35-.08 .35 .18 .35-.56 .35 .42 .35 .2 .35-.21 .35 .25 .35-.6 .35 .68 .35-.53 .35 .34 .35 .22 .35-.31 .35-.21 .35 .57 .35-.58 .35 .39 .35-.09 .35-.05 .35 .22 .35 .13 .35 .04 .35-.13 .35 .05 .35-.64 .35 .3 .35 .17 .35-.06 .35 .39 .35 0 .35-.34 .35 .37 .35-.45 .35 .38 .35-.53 .35 .72 .35-.43 .35 .45 .35-.58 .35 .04 .35 .02 .35 .02 .35-.15 .35 .6 .35-.22 .35 .02 .35-.19 .35 .2 .35 0 .35-.35 .35 .25 .35-.09 .35 .13 .35 .12 .35 .48 .35-.48 .35 .44 .35-.1 .35 .22 .35-.12 .35 .12 .35-.64 .35 .54 .35-.34 .35 .06 .35-.22 .35 .05 .35 .46 .35-.36 .35 .37 .35-.22 .35 .25 .35 .01 .35-.32 .35 .59 .35-.14 .35-.11 .35 .07 .35 .04 .35-.23 .35 .24 .35-.37 .35 .72 .35-.22 .35 .07 .35 0 .35 .11 .35-.31 .35-.16 .35-.17 .35 .42 .35-.28 .35 .27 .35-.32 .35 .62 .35-.34 .35-.02 .35 .43 .35-.32 .35 .08 .35 .18 .35-.52 .35 .25 .35 .6 .35-.25 .35-.45 .35 .71 .35 0 .35-.21 .35-.53 .35 .36 .35-.01 .35-.16 .35 .38 .35-.25 .35 .34 .35-.34 .35 .59 .35-.53 .35-.21 .35 .74 .35-.52 .35-.13 .35 .79 .35-.52 .35 .35 .35-.49 .35 .62 .35 .05 .35-.47 .35-.01 .35-.08 .35 .41 .35-.13 .35 .43 .35-.43 .35 .14 .35-.08 .35-.09 .35-.16 .35 .48 .35-.24 .35 .55 .35-.2 .35 0 .35 .22 .35-.57 .35 .63 .35-.05 .35-.53 .35 .05 .35-.14 .35 .37 .35-.27 .35 .63 .35-.46 .35-.02 .35 .62 .35-.52 .35 .04 .35 .21 .35 0 .35-.19 .35 .29 .35-.34 .35 .42 .35-.3 .35-.07 .35 .12 .35-.06 .35 .49 .35-.02 .35-.56 .35 .7 .35-.05 .35-.63 .35 .37 .35 .03 .35 0 .35-.42 .35 .81 .35-.42 .35 .27 .35-.14 .35 .34 .35-.55 .35 .38 .35-.33 .35 .55 .35-.54 .35-.23 .35 .41 .35 .2 .35-.25 .35 .31 .35 .01 .35-.45 .35 .17 .35 .53 .35-.41 .35 .33 .35-.41 .35-.15 .35 .6 .35-.37 .35-.39 .35 .63 .35-.14 .35 .27 .35 .13 .35-.23 .35-.49 .35-.02 .35 .69 .35-.1 .35 .08 .35-.24 .35 .05 .35-.45 .35 .32 .35 .14 .35-.25 .35-.18 .35 .74 .35-.66 .35 .34 .35 .15 .35-.16 .35 .37 .35-.59 .35 .61 .35-.03 .35-.28 .35-.11 .35 .41 .35-.33 .35 .43 .35-.73 .35-.04 .35 .07 .35 .61 .35-.37 .35 .04 .35 .18 .35-.42 .35 .22 .35 .15 .35-.52 .35 .37 .35 .14 .35-.15 .35-.2 .35-.13 .35 .81 .35-.13 .35-.23 .35 .16 .35-.64 .35 .89 .35-.61 .35 .1 .35-.35 .35 .23 .35-.19 .35 .21 .35 .07 .35 .17 .35-.44 .35 .68 .35 .06 .35-.75 .35 .01 .35 .59 .35-.42 .35-.06 .35-.01 .35-.08 .35 .67 .35-.23 .35-.42 .35 .72 .35-.62 .35 .39 .35-.03 .35-.28 .35 .22 .35-.37 .35 .41 .35-.49 .35-.08 .35 .23 .35 .3 .35 0 .35-.41 .35-.23 .35 .48 .35 .18 .35-.67 .35 .09 .35 .29 .35-.26 .35 .18 .35-.2 .35 .48 .35 .07 .35 .16 .35-.88 .35 .1 .35 .69 .35-.18 .35-.01 .35-.64 .35 .91 .35-.64 .35-.26 .35 .05 .35 .02 .35 .47 .35-.22 .35-.12 .35-.13 .35 .1 .35 .49 .35-.42 .35-.35 .35 .93 .35-.04 .35-.57 .35 .26 .35-.54 .35 .45 .35-.5 .35 .17 .35 .66 .35-.77 .35 .36 .35 .06 .35-.36 .35 .7 .35-.44 .35-.42 .35 .65 .35-.28 .35-.3 .35 .17 .35 .18 .35-.06 .35-.06 .35-.43 .35 .09 .35 .29 .35 .53 .35-.77 .35 .05 .35 .21 .35-.15 .35 .54 .35-.13 .35-.06 .35-.54 .35 .21 .35 .4 .35-.23 .35-.41 .35 .68 .35 .06 .35-.16 .35-.17 .35-.42 .35 .18 .35 .08 .35 .11 .35-.03 .35-.39 .35 .43 .35 .2 .35-.59 .35-.14 .35 .3 .35-.01 .35 .51 .35-.65 .35 .49 .35 .04 .35-.68 .35 .75 .35-.34 .35 .28 .35-.08 .35-.31 .35 .34 .35-.51 .35-.02 .35 .26 .35-.22 .35-.17 .35 .57 .35 0 .35-.72 .35 .6 .35 .2 .35-.12 .35-.66 .35-.07 .35 .34 .35 .44 .35 0 .35-.88 .35 .85 .35-.26 .35 .01 .35-.43 .35 .38 .35 .29 .35-.36 .35 .32 .35-.23 .35-.46 .35 .1 .35-.1 .35 .03 .35 .36 .35-.19 .35 .4 .35-.71 .35-.07 .35-.06 .35 .15 .35 .46 .35-.56 .35 .46 .35 .26 .35-.29 .35-.43 .35 .54 .35 .07 .35-.32 .35-.15 .35 .21 .35-.52 .35 .55 .35-.44 .35 .4 .35-.33 .35 .05 .35 .55 .35-.6 .35 .44 .35-.7 .35 .58 .35-.62 .35 .42 .35 .37 .35-.63 .35 .01 .35 .63 .35-.5 .35 .19 .35 .08 .35 0 .35 .23 .35-.02 .35-.89 .35-.03 .35 .69 .35-.55 .35 .49 .35-.6 .35 .34 .35-.03 .35-.01 .35 .12 .35-.44 .35 .31 .35 .55 .35-.95 .35 .73 .35-.23 .35-.39 .35 .48 .35-.34 .35 .14 .35-.28 .35 .79 .35-.07 .35-.44 .35-.03 .35-.09 .35 .18 .35 .05 .35 .12 .35-.63 .35 .78 .35-.86 .35 .88 .35-.74 .35 .27 .35 .36 .35-.5 .35-.26 .35 .59 .35 .04 .35-.33 .35 .26 .35 .18 .35-.86 .35 .66 .35-.02 .35-.18 .35-.26 .35 .14 .35 .07 .35 .42 .35-.08 .35-.24 .35-.21 .35 .59 .35-.86 .35 .33 .35-.03 .35 .16 .35-.45 .35 .39 .35-.29 .35-.09 .35 .97 .35-.16 .35-.52 .35 .33 .35-.43 .35 .68 .35-.26 .35-.21 .35-.15 .35 .16 .35 .32 .35 .04 .35-.75 .35 .95 .35-.46 .35 .4 .35-.88 .35 .84 .35-.28 .35-.52 .35-.09 .35 .25 .35 .71 .35-.27 .35-.34 .35-.02 .35 .44 .35-.34 .35-.32 .35 .58 .35-.13 .35 .38 .35-.81 .35 .6 .35 .12 .35-.28 .35 .32 .35 .09 .35-.15 .35-.57 .35-.07 .35 .45 .35 .46 .35-.02 .35-.52 .35 .18 .35-.33 .35 .35 .35-.65 .35 .94 .35 .01 .35-.23 .35-.57 .35 .15 .35 .63 .35-.59 .35 .52 .35 .08 .35-.16 .35-.43 .35 .35 .35 .25 .35-.14 .35 .11 .35 .07 .35-.36 .35 .16 .35-.11 .35 .44 .35-.94 .35-.06 .35 .82 .35-.01 .35-.17 .35-.64 .35 .32 .35 .58 .35-.73 .35-.13 .35 1.03 .35-.46 .35-.45 .35 .27 .35 .52 .35 0 .35-.62 .35 .55 .35-.45 .35-.16 .35 .42 .35-.21 .35 .44 .35 .13 .35 .1 .35-.23 .35-.43 .35 0 .35-.17 .35 .31 .35 .31 .35-.75 .35 .08 .35 .63 .35-.47 .35 .33 .35-.02 .35-.38 .35 .77 .35-.44 .35-.46 .35 .92 .35-.15 .35-.61 .35 .69 .35-.73 .35 .4 .35 .21 .35 .36 .35-.04 .35-.07 .35 .06 .35-.88 .35-.07 .35 .08 .35 .62 .35-.69 .35 .18 .35-.16 .35 .64 .35 .06 .35-.48 .35 .02 .35 .8 .35-.58 .35-.18 .35 .45 .35 .06 .35-.21 .35-.47 .35 .19 .35 .6 .35-.57 .35-.12 .35 .14 .35 .52 .35 .18 .35-.03 .35 .02 .35 .01 .35 .09 .35-.13 .35-.24 .35-.35 .35 .77 .35-.85 .35 .11 .35 .5 .35-.35 .35-.44 .35 .57 .35 .37 .35-.39 .35 .28 .35-.63 .35 .65 .35-.49 .35 .03 .35 .43 .35-.19 .35-.14 .35-.08 .35-.05 .35 .64 .35-.33 .35 .22 .35 .21 .35-.56 .35 .3 .35-.71 .35 .48 .35 .2 .35 .09 .35-.15 .35-.15 .35 .51 .35-.84 .35 .58 .35-.33 .35-.42 .35 1.1 .35-.25 .35 .09 .35-.82 .35 .8 .35-.42 .35-.18 .35 .31 .35 .34 .35 .1 .35-.48 .35 .28 .35 .09 .35-.21 .35 .39 .35-.59 .35-.4 .35 .39 .35 .09 .35 .26 .35 .09 .35-.89 .35 .22 .35-.09 .35 .85 .35-.91 .35 .87 .35-.76 .35 .76 .35-.4 .35 .33 .35 .17 .35 .04 .35-1.02 .35 .91 .35-.16 .35-.44 .35-.16 .35 .5 .35 .05 .35-.64 .35 .68 .35-.2 .35 .14 .35 .17 .35-.42 .35 .53 .35-.4 .35-.34 .35 .11 .35-.09 .35 .74 .35-.33 .35-.13 .35 .43 .35-.36 .35-.11 .35-.07 .35 .48 .35-.4 .35-.17 .35-.19 .35 .1 .35 .55 .35-.65 .35 .73 .35-.05 .35-.65 .35-.15 .35 .84 .35-.3 .35 .3 .35 .11 .35-.88 .35 .54 .35-.46 .35 .28 .35-.44 .35 .78 .35-.47 .35-.28 .35-.04 .35 .34 .35-.13 .35 .46 .35-.62 .35 .16 .35 .71 .35-.67 .35-.26 .35 .07 .35 .82 .35-.86 .35 .05 .35 .43 .35-.25 .35-.38 .35 .43 .35-.24 .35 .23 .35 .18 .35-.09 .35-.43 .35 .63 .35-.54 .35 .69 .35-.36 .35-.54 .35 1.11 .35-.88 .35-.28 .35 .98 .35-.49 .35-.07 .35 .45 .35 .27 .35-1 .35 .76 .35 .21 .35-.06 .35-.74 .35-.3 .35 .53 .35 .13 .35-.45 .35 .41 .35-.66 .35 .96 .35-.59 .35-.36 .35 .25 .35 .73 .35-.83 .35 .07 .35 .1 .35 .11 .35-.3 .35 .04 .35 .67 .35-.24 .35-.46 .35 .9 .35-.75 .35 .23 .35 .11 .35 .4 .35-.34 .35 .18 .35-.54 .35-.12 .35 .54 .35-.19 .35-.2 .35-.4 .35 .4 .35-.44 .35 .76 .35-.59 .35 .35 .35-.07 .35-.56 .35 1.13 .35-.91 .35 .63 .35 .22 .35-.53 .35-.19 .35-.29 .35 .25 .35 .18 .35-.07 .35-.22 .35 .47 .35 .19 .35-.46 .35-.2 .35 .08 .35-.13 .35 .91 .35-.12 .35-.94 .35 .05 .35 .83 .35-.41 .35-.21 .35 .73 .35-.63 .35 .02 .35 .53 .35-.16 .35-.24 .35-.63 .35 .58 .35 .38 .35-.36 .35-.44 .35 .54 .35 .18 .35-.31 .35-.03 .35 .35 .35-.55 .35-.06 .35 .13 .35-.07 .35 .38 .35 .11 .35-.3 .35 .49 .35-.08 .35-.01 .35-.15 .35 .25 .35-.79 .35 .48 .35-.36 .35 .04 .35 .64 .35-.53 .35 .06 .35-.57 .35 .81 .35-.62 .35 .19 .35-.23 .35 .49 .35-.52 .35 .41 .35-.18 .35 .18 .35 .36 .35-.48 .35 .14 .35-.02 .35-.47 .35 .76 .35-.38 .35 .38 .35-.94 .35 .54 .35-.24 .35-.28 .35 1.05 .35-.35 .35 .25 .35-.34 .35-.31 .35 .17 .35-.45 .35 .61 .35 .06 .35-.15 .35 .24 .35-.54 .35 .71 .35-.27 .35-.53 .35 .53 .35 .02 .35 .26 .35-.52 .35-.3 .35-.11 .35 .23 .35 .11 .35 .38 .35-.82 .35 .06 .35 .75 .35-.65 .35-.21 .35 .07 .35 .68 .35-.08 .35 .41 .35-.94 .35 .62 .35-.71 .35 .89 .35-.37 .35-.54 .35-.06 .35 1.13 .35-.57 .35 .53 .35-.94 .35 .41 .35 .26 .35-.76 .35 .6 .35 .49 .35-.86 .35 .01 .35-.01 .35 .33 .35-.23 .35 .31 .35 .46 .35-1.06 .35 1.02 .35-.19 .35-.18 .35-.31 .35 .47 .35-.74 .35-.15 .35 .67 .35-.44 .35 .08 .35 .04 .35 .03 .35 .28 .35 .36 .35 .05 .35-.46 .35-.44 .35 .24 .35 .74 .35-1.01 .35 .81 .35-.27 .35 .24 .35 .03 .35-.28 .35 .31 .35-.01 .35 .03 .35 .05 .35-.87 .35 .4 .35 .61 .35-.84 .35 .05 .35 .62 .35-.08 .35 .03 .35 .06 .35 .18 .35-1.01 .35 .45 .35-.14 .35-.01 .35 .54 .35 .17 .35-.35 .35-.81 .35 .48 .35 .64 .35-.51 .35-.36 .35-.12 .35 .09 .35-.13 .35 .88 .35-.17 .35-.05 .35 .17 .35-.37 .35 .39 .35 .02 .35-.14 .35-.59 .35 .93 .35-.56 .35 .28 .35-.55 .35-.18 .35-.07 .35 .01 .35 1.1 .35-1.06 .35 .06 .35 .92 .35-1.07 .35 .98 .35-.05 .35 .16 .35-.32 .35-.47 .35 .89 .35-.26 .35-.61 .35 .02 .35 .59 .35-.26 .35 .41 .35-.63 .35-.2 .35 .66 .35-.81 .35 .29 .35 .14 .35 .17 .35-.05 .35 .45 .35-.07 .35-.79 .35-.03 .35 .62 .35-.33 .35 .72 .35-.81 .35-.12 .35 .18 .35 .43 .35-.16 .35-.38 .35 .8 .35 .03 .35-.15 .35-.61 .35-.29 .35 .71 .35 .02 .35 .29 .35-1.05 .35 .26 .35 .84 .35 .08 .35-.79 .35 .64 .35-.06 .35-.85 .35 .79 .35-.43 .35-.09 .35 .46 .35-.33 .35 .54 .35-.72 .35-.04 .35-.2 .35 .93 .35-.56 .35-.38 .35 1.1 .35-.98 .35 .08 .35 .55 .35 .35 .35 0 .35 .03 .35-.77 .35 .01 .35-.35 .35 .86 .35 .11 .35-1.01 .35 .37 .35 .68 .35-.57 .35 .46 .35-.45 .35 .65 .35-1.04 .35 .77 .35 .25 .35-.17 .35 .07 .35-.64 .35 .28 .35-.05 .35-.56 .35 .91 .35-.87 .35 .19 .35 .08 .35 .78 .35-.03 .35-.68 .35 .04 .35-.23 .35 .12 .35-.23 .35 1 .35-.69 .35-.16 .35-.14 .35 .07 .35-.13 .35 .45 .35 .5 .35 .12 .35-.81 .35-.16 .35 .32 .35-.42 .35 .95 .35-.61 .35 0 .35 .69 .35 .07 .35-.03 .35-.48 .35-.21 .35-.3 .35 1.05 .35-1.1 .35 .95 .35 .03 .35-.05 .35 .05 .35-.51 .35 .53 .35-.6 .35 .7 .35-1.07 .35 .98 .35-.59 .35 .24 .35-.65 .35-.02 .35 .11 .35 .15 .35 .09 .35 .41 .35-.26 .35 .23 .35-.41 .35-.21 .35 .8 .35-.21 .35 .34 .35 .05 .35-.54 .35-.32 .35-.03 .35 .33 .35-.18 .35 .5 .35-.29 .35 .13 .35-.28 .35 .52 .35-.31 .35 .4 .35-.45 .35 .45 .35-.04 .35-.64 .35 .01 .35 .84 .35-.7 .35 .26 .35 .34 .35-.44 .35-.57 .35 .41 .35 .15 .35 .5 .35-.01 .35-.8 .35-.2 .35 .46 .35-.09 .35 .41 .35-.33 .35-.39 .35 .29 .35-.25 .35 .72 .35-.32 .35 .27 .35-.75 .35 1.05 .35-.67 .35 .22 .35 .2 .35-.11 .35 .29 .35-.95 .35 .72 .35 .25 .35-.21 .35 .04 .35-.83 .35 .15 .35 .88 .35-.78 .35 .36 .35-.07 .35 .5 .35-.79 .35-.1 .35 .3 .35 .37 .35-.67 .35-.19 .35 .14 .35 .61 .35-.74 .35 .59 .35 .45 .35-.09 .35-.76 .35-.3 .35 .02 .35 .92 .35 .02 .35-.82 .35 .62 .35-.53 .35 .14 .35 .27 .35 .5 .35-1.08 .35 .79 .35 .2 .35-.5 .35 .53 .35-.63 .35-.42 .35 .46 .35 .09 .35 .13 .35-.66 .35-.01 .35 .1 .35 .02 .35 .08 .35 .5 .35-.32 .35 .61 .35 .01 .35 .02 .35-.05 .35 .17 .35-.53 .35-.19 .35 .04 .35-.38 .35 .06 .35 .96 .35-.3 .35 .2 .35 .01 .35-.07 .35-.55 .35-.39 .35 .47 .35 .65 .35-1.03 .35 .5 .35-.45 .35 .78 .35 .04 .35-.88 .35 .62 .35 .43 .35-.8 .35 .21 .35-.07 .35-.07 .35 .15 .35-.37 .35 .37 .35-.07 .35 .59 .35-.66 .35 .62 .35-.24 .35 .26 .35 .03 .35-.09 .35-.48 .35 .25 .35-.61 .35 .93 .35-.12 .35-.45 .35 .4 .35-.21 .35-.69 .35 .3 .35-.3 .35 .7 .35 .25 .35-.84 .35-.04 .35-.07 .35 .54 .35 .56 .35-.04 .35-.34 .35-.4 .35 .66 .35-1.03 .35 .56 .35 .11 .35 .49 .35-.77 .35 .76 .35-.71 .35 .68 .35-.44 .35-.32 .35 .27 .35 .08 .35-.26 .35-.32 .35-.13 .35 .61 .35 .5 .35-1 .35 .19 .35 .34 .35-.43 .35 .3 .35 .5 .35-.52 .35 .46 .35 .14 .35-.04 .35-.62 .35 .4 .35-.42 .35 .49 .35-.16 .35 .04 .35-.5 .35 .07 .35 .72 .35-.15 .35-.55 .35 .45 .35-.76 .35 .27 .35 .13 .35 .17 .35 .15 .35-.73 .35 .43 .35-.27 .35 .92 .35-1.11 .35 .32 .35-.07 .35-.16 .35 .17 .35-.09 .35 .49 .35-.06 .35 .14 .35 .39 .35-.74 .35 .56 .35-.19 .35 .11 .35-.12 .35-.76 .35 1.06 .35-.39 .35 .43 .35-.04 .35-1.07 .35 .27 .35 .24 .35 .45 .35-.84 .35 .54 .35-.46 .35 .22 .35-.11 .35-.22 .35 .91 .35-.26 .35 .31 .35-.9 .35 .56 .35-.1 .35 .39 .35-.84 .35 .05 .35 .21 .35 .7 .35-.94 .35 .36 .35-.27 .35-.29 .35 .95 .35-.48 .35-.08 .35 .62 .35-.29 .35 .37 .35-.95 .35 .73 .35-.76 .35 .75 .35-.38 .35 .53 .35-.64 .35 .54 .35-.56 .35-.32 .35 .64 .35-.46 .35 .64 .35 .02 .35-.49 .35-.24 .35 .76 .35 .13 .35 .02 .35-.2 .35-.68 .35 .79 .35-.56 .35 .12 .35-.29 .35 .6 .35 .26 .35-.73 .35-.21 .35 .34 .35-.35 .35-.05 .35 .39 .35-.03 .35-.52 .35 1.13 .35 .04" fill="none" stroke="#0072bd" stroke-width="2.1" stroke-linejoin="round" />
<path d="M348.00 395.51l.6-.6 .6 .44 .6 .39 .6-.1 .6 .27 .6-.23 .6-.43 .6 .02 .6 .02 .6 .97 .6-.61 .6 .32 .6 .29 .6-.78 .6 .38 .6 .85 .6-.45 .6-.08 .6 .53 .6-.42 .6 .78 .6 0 .6 .41 .6-.71 .6 .06 .6 .82 .6-.01 .6 .6 .6 .17 .6 .14 .6-.92 .6 1.02 .6 .25 .6 0 .6-.36 .6 .37 .6 .22 .6-.25 .6 .76 .6-.36 .6 .16 .6 .66 .6-.22 .6 .71 .6-.88 .6 1.3 .6-.19 .6-.34 .6 .24 .6 .72 .6 .21 .6-.7 .6 .58 .6-.11 .6 .43 .6 .16 .6-.29 .6-.24 .6 .09 .6 .99 .6-.36 .6 .58 .6 .11 .6-.03 .6-.6 .6 1.12 .6-.63 .6 .79 .6-1.12 .6 1.02 .6 .24 .6 .02 .6-.17 .6 .51 .6-.88 .6 .32 .6-.21 .6 .8 .6-.26 .6 .34 .6-.83 .6 .02 .6 .1 .6 1.05 .6-.36 .6-.54 .6 .04 .6 .92 .6-.65 .6 .67 .6-.56 .6 .96 .6-.68 .6 .59 .6-.55 .6-.34 .6 .23 .6 .86 .6-.56 .6 .49 .6-.64 .6 .35 .6 .16 .6 .29 .6 .24 .6-.72 .6-.09 .6-.1 .6 .61 .6-.03 .6-.53 .6-.1 .6-.15 .6 0 .6 .82 .6 .01 .6-.45 .6 .35 .6-.35 .6 .05 .6 .31 .6-.58 .6 .03 .6 .56 .6-.06 .6-.55 .6-.21 .6-.69 .6 .51 .6-.28 .6 .14 .6-.35 .6 .93 .6-1.06 .6 .49 .6-.91 .6 .43 .6 .71 .6-.88 .6-.46 .6 .71 .6 .16 .6-1.15 .6 .69 .6-.78 .6 .88 .6-.32 .6 .22 .6 .1 .6-.34 .6 .01 .6-.56 .6-.22 .6 .76 .6-.9 .6 .69 .6-.62 .6-.66 .6 .7 .6 .13 .6-1.05 .6 1.23 .6-.95 .6 .08 .6 .31 .6-.29 .6-.23 .6 .59 .6-1.2 .6 .71 .6-1.03 .6 .94 .6-.15 .6-.5 .6-.07 .6 .13 .6 .37 .6-1.09 .6 .23 .6 .02 .6-.22 .6-.24 .6 .26 .6-.28 .6 .27 .6-.29 .6 .46 .6-.06 .6-.48 .6 .38 .6-.57 .6-.28 .6 .23 .6 .31 .6-.48 .6 .29 .6-.68 .6 .36 .6-.2 .6 .07 .6-.34 .6-.49 .6-.21 .6 .04 .6-.07 .6 .44 .6-.11 .6 .31 .6 .4 .6-.79 .6-.17 .6 .37 .6-.18 .6-.69 .6 .98 .6-.65 .6 .23 .6 .1 .6 .35 .6-.89 .6 .17 .6 .52 .6 .07 .6-.34 .6 .09 .6-1.15 .6 .73 .6-.43 .6 .38 .6 .01 .6-.36 .6 .61 .6-.1 .6-1.1 .6 1.14 .6-.24 .6 .12 .6-.8 .6 .11 .6 .45 .6 .14 .6-.83 .6 .52 .6-.44 .6 .09 .6 0 .6-.16 .6 .69 .6-.1 .6-1.14 .6 .01 .6 0 .6 .08 .6 .09 .6-.04 .6 .11 .6 .14 .6 .47 .6-.19 .6-.68 .6 .78 .6-.13 .6-.83 .6 1.24 .6-.94 .6 .42 .6 .03 .6-.66 .6 .13 .6 .05 .6 1.09 .6-.02 .6-.01 .6-.91 .6 .26 .6 .2 .6-.69 .6 .13 .6 .51 .6-.51 .6 .53 .6 .12 .6-.7 .6 1.1 .6-.54 .6 .15 .6 .29 .6 .33 .6-1.01 .6 .06 .6 .69 .6 .4 .6-.96 .6 .4 .6-.6 .6-.02 .6 1.38 .6-.21 .6-.07 .6-.91 .6 .98 .6 .05 .6-.52 .6 .72 .6 .31 .6-1.07 .6-.28 .6 .4 .6 .61 .6 .36 .6 .09 .6-.16 .6-.26 .6-.56 .6 .19 .6-.13 .6 .57 .6-.68 .6 1.07 .6-.19 .6 .25 .6-.1 .6-.03 .6-.49 .6 .91 .6-.19 .6-.92 .6 .19 .6-.17 .6 .89 .6-.31 .6-.29 .6 .73 .6-.86 .6 1.34 .6-.02 .6-1.25 .6 .9 .6-.07 .6-.43 .6 .08 .6 .97 .6-1.29 .6 1.27 .6-.59 .6 .13 .6-.04 .6 .46 .6-.87 .6 .1 .6-.15 .6 .54 .6-.59 .6 1.44 .6-.77 .6-.1 .6 .91 .6-.08 .6-.94 .6-.19 .6 1.01 .6-.52 .6 .74 .6-.66 .6-.09 .6 .27 .6-.61 .6 .22 .6-.01 .6 .87 .6-.6 .6 .81 .6 .23 .6-.68 .6-.45 .6-.24 .6 1.47 .6-1.27 .6 .97 .6-1.09 .6 1.39 .6-.53 .6 .18 .6-.05 .6-.57 .6-.16 .6 1.12 .6-.41 .6 .04 .6-.69 .6 1.31 .6-.37 .6-.41 .6-.56 .6 .67 .6 .8 .6-.32 .6-1.13 .6 1.14 .6 .2 .6-.94 .6 .92 .6 .22 .6-.85 .6-.48 .6 .42 .6 .85 .6-.68 .6-.25 .6 .23 .6 .61 .6-.34 .6-.77 .6 .32 .6-.05 .6 .76 .6-.4 .6-.69 .6-.08 .6 .54 .6 .32 .6 .01 .6-.3 .6 .04 .6-.18 .6-.23 .6 .27 .6 .51 .6-.58 .6 .96 .6-.55 .6-.63 .6 .46 .6-.46 .6-.07 .6-.05 .6 .09 .6 .02 .6 1.23 .6-1.47 .6 .64 .6 .3 .6-.93 .6 .4 .6 .11 .6 .1 .6 .32 .6-.28 .6 .01 .6-.4 .6-.37 .6 .96 .6-.23 .6-.03 .6 .09 .6 .56 .6-.29 .6-.44 .6-.47 .6-.08 .6 .65 .6 .32 .6-.19 .6 .13 .6-1.11 .6 0 .6 .76 .6 .32 .6-.93 .6 1.26 .6-.85 .6-.68 .6 .87 .6 .63 .6-.04 .6-.02 .6-.88 .6 .7 .6-.89 .6 .86 .6-.59 .6-.23 .6-.56 .6 .55 .6 .44 .6-.8 .6 .42 .6-.34 .6-.15 .6 .28 .6-.3 .6 .68 .6 .1 .6-.55 .6-.41 .6 .34 .6-.3 .6 .8 .6 .39 .6-1.36 .6 .62 .6 .05 .6-.75 .6 1.54 .6-1.44 .6-.02 .6-.1 .6 .49 .6 .46 .6-.24 .6-.19 .6-.31 .6 .96 .6-.99 .6 .31 .6 .36 .6-1.09 .6 .2 .6 .49 .6-.34 .6-.15 .6 1.28 .6-1.6 .6 .47 .6-.25 .6 .06 .6 1.18 .6-.97 .6 .36 .6 .04 .6 .47 .6 .01 .6-.99 .6 .51 .6-.94 .6 .92 .6-.72 .6-.4 .6 1.25 .6 .37 .6-.51 .6 .13 .6 .23 .6-.99 .6 .88 .6-.66 .6 .03 .6-.76 .6 .33 .6 .2 .6 .24 .6-.55 .6 1.25 .6-.19 .6-1.23 .6-.07 .6-.11 .6 .24 .6 .97 .6-.91 .6 .6 .6-.06 .6 .67 .6-.9 .6-.38 .6 .52 .6-.24 .6-.45 .6 1.3 .6-.9 .6-.58 .6 1.43 .6-.01 .6-.77 .6 .68 .6-.5 .6 .19 .6-.23 .6-.58 .6 1.41 .6-1.6 .6 .03 .6 .72 .6-.43 .6 1.1 .6 .06 .6-.96 .6-.37 .6 .79 .6-.28 .6 1.05 .6-1.04 .6 .42 .6 .59 .6-.09 .6-1.31 .6 .51 .6 .17 .6 .4 .6 .18 .6 .08 .6-.53 .6 .4 .6 .11 .6-1.31 .6 1.51 .6-1.11 .6-.54 .6 .45 .6 .66 .6-.46 .6 .39 .6 .34 .6-.81 .6-.18 .6 .95 .6-1.14 .6 1.47 .6-.15 .6-.85 .6 .29 .6 .42 .6 .3 .6 .15 .6-.83 .6-.14 .6-.61 .6 1.64 .6-1.26 .6-.08 .6 1.19 .6-.23 .6-.46 .6 .28 .6 .53 .6-.8 .6-.72 .6 1.67 .6-.04 .6-.11 .6-1.23 .6 .19 .6-.43 .6 .93 .6 .64 .6-.67 .6-.75 .6 .05 .6 1.12 .6-.93 .6 .96 .6-.3 .6-.35 .6 .11 .6 .69 .6 .25 .6-1.43 .6 1.12 .6-.28 .6-.66 .6-.06 .6 .04 .6 1.33 .6-.4 .6-1.28 .6 .75 .6 .58 .6-.95 .6 .43 .6-.2 .6 .33 .6-.71 .6 1.02 .6-.99 .6 .73 .6-.61 .6 .79 .6-.95 .6 .33 .6 .95 .6-1.19 .6 .19 .6 .75 .6-.05 .6-.93 .6 .86 .6 .7 .6-1.46 .6 .48 .6-.61 .6 1.13 .6-1.03 .6 .55 .6-.36 .6 1.04 .6-1.03 .6 .19 .6 .7 .6-1.08 .6 .85 .6-.69 .6 .03 .6 1.49 .6-1.66 .6 .31 .6 .17 .6 .67 .6-.94 .6-.12 .6 .26 .6 .6 .6 .67 .6-.71 .6-1.03 .6 .67 .6 .3 .6 .47 .6 .33 .6-1.55 .6 1.24 .6-.2 .6-.11 .6-.18 .6 .18 .6-.6 .6-.47 .6 .34 .6-.43 .6 1.39 .6-.95 .6 1.19 .6-.64 .6 .22 .6-.34 .6 .66 .6-.2 .6-1.17 .6 1.02 .6 .26 .6-.25 .6 .25 .6-.28 .6-.43 .6-.71 .6 .29 .6 .89 .6-.79 .6 .86 .6 .09 .6 .33 .6-.19 .6 .15 .6-1.37 .6-.29 .6 1.38 .6-.96 .6 1.04 .6-.32 .6 .49 .6-1.46 .6 .14 .6 .74 .6-1.27 .6 1.25 .6-.25 .6-.12 .6-.79 .6 1.26 .6-1.31 .6 1.2 .6 .2 .6-1.04 .6 1.14 .6-1.2 .6 .26 .6 .8 .6 .15 .6 .06 .6-.29 .6-1.43 .6 1.56 .6 .02 .6 .08 .6-1.09 .6-.38 .6 1.26 .6-1.02 .6 .25 .6 .91 .6-1.36 .6 .18 .6 .09 .6 .9 .6 .26 .6-1.49 .6 .21 .6 .92 .6-1.07 .6 .73 .6-.28 .6 .72 .6-1.1 .6 .49 .6 .11 .6-1.04 .6 .04 .6 .25 .6-.31 .6 .64 .6 .34 .6-.15 .6 .28 .6-.12 .6 .25 .6 .26 .6-1.59 .6 .08 .6-.07 .6 .99 .6-.77 .6 .63 .6-.4 .6 .26 .6 .03 .6 .29 .6-1.09 .6 .91 .6-.39 .6 .48 .6-.3 .6-.73 .6 .81 .6 .2 .6 .59 .6-.74 .6-.38 .6-.49 .6 .26 .6 1.49 .6-.77 .6 .7 .6-1.53 .6 .1 .6 1.36 .6-1.59 .6 .82 .6 .34 .6-.24 .6 .25 .6-1.17 .6 .96 .6-.03 .6 .46 .6-.56 .6-.3 .6 .25 .6-.55 .6 1.16 .6-.46 .6-.51 .6 .81 .6-.72 .6 .37 .6 .92 .6-.11 .6-.92 .6-.35 .6 .91 .6 .44 .6-.21 .6-.5 .6 .3 .6 .46 .6-1.33 .6-.38 .6 1.25 .6 .33 .6-.65 .6-.52 .6 .16 .6-.72 .6 1.41 .6 .44 .6-1.59 .6 .85 .6-.29 .6 .39 .6 .64 .6-.28 .6-.37 .6-1.12 .6 .57 .6-.01 .6 .76 .6-1.11 .6 .19 .6-.23 .6 1.1 .6-1.31 .6 .72 .6-.05 .6 1.04 .6-1.59 .6 1.3 .6-.55 .6-.23 .6-.55 .6 .69 .6 1.09 .6-.41 .6-1.12 .6-.05 .6 .79 .6 .2 .6 .54 .6 .04 .6-.14 .6-1.41 .6 .61 .6-.43 .6 .76 .6-.69 .6 .35 .6 .88 .6-1.19 .6 1.17 .6-.51 .6-.65 .6 .8 .6-.05 .6-.5 .6 .86 .6-.15 .6-.31 .6 .16 .6 .28 .6-.46 .6 .3 .6-.46 .6-.08 .6-.15 .6 .02 .6 .87 .6-.88 .6 .39 .6-.35 .6 .41 .6-.89 .6-.17 .6 .63 .6-.18 .6 1.13 .6-.15 .6 .16 .6-.71 .6 .32 .6 .21 .6-.83 .6-.4 .6 1.64 .6-.07 .6-1.64 .6 .21 .6 1.26 .6-.33 .6 .25 .6-.58 .6-.49 .6-.08 .6 1.39 .6-.7 .6-.02 .6 .16 .6 .14 .6-.78 .6-.36 .6 1.6 .6-1.41 .6 1.07 .6-.57 .6-.21 .6 1.13 .6-.37 .6 .1 .6-.92 .6 .8 .6-.66 .6 .74 .6 .22 .6-1.49 .6 1.38 .6-.87 .6-.59 .6 1.25 .6 .22 .6-1.09 .6 .84 .6-.06 .6-.17 .6 .63 .6-.29 .6-.36 .6 .81 .6-1.8 .6 1.17 .6 .06 .6 0 .6 .21 .6-.55 .6-.68 .6 .95 .6-1.06 .6 1.46 .6-.25 .6-1.15 .6 1.14 .6-.94 .6 1.09 .6-1.42 .6-.04 .6 .69 .6 .08 .6-.04 .6-.76 .6-.01 .6 .89 .6 .41 .6 .53 .6-.33 .6-.88 .6 .27 .6 .51 .6-.76 .6 .5 .6-.38 .6 .63 .6-.69 .6-.49 .6 .65 .6-.01 .6 .21 .6-.5 .6 .06 .6 .88 .6-.04 .6-1.39 .6 .87 .6 .53 .6-1.36 .6 .76 .6-.51 .6 .67 .6-.27 .6 .44 .6 0 .6-1.09 .6 .6 .6-.6 .6 1.7 .6-1.72 .6 .27 .6-.14 .6 .02 .6 .8 .6-.58 .6 .91 .6 .48 .6-.28 .6-1 .6-.1 .6-.19 .6 1.08 .6-1.19 .6 1.7 .6-.33 .6-.17 .6 .42 .6-1.78 .6 .25 .6 .68 .6 .31 .6-1.06 .6 .81 .6-.9 .6 .62 .6-.47 .6 1.23 .6-.04 .6 .11 .6-.8 .6-.46 .6 1.13 .6-.62 .6-.58 .6-.2 .6 .52 .6 .61 .6-.24 .6-.17 .6-.74 .6 1 .6 .88 .6-1.56 .6 1.14 .6-1.33 .6 1.28 .6-.63 .6 .57 .6-.16 .6-.57 .6 .95 .6-.73 .6 1 .6-.4 .6-1.44 .6 1.41 .6-.34 .6 .62 .6-.59 .6 .03 .6-.01 .6-.74 .6 .5 .6 .74 .6-1.36 .6 .43 .6 .75 .6 .19 .6-1.34 .6 .17 .6 .91 .6 .02 .6-.91 .6-.29 .6-.09 .6 1.59 .6 .07 .6-1.79 .6 .7 .6-.19 .6 .27 .6 .21 .6-.11 .6 .16 .6-.07 .6 .01 .6 .7 .6-1.19 .6-.17 .6 1.26 .6-.69 .6-.76 .6 1.2 .6-.31 .6 .29 .6-.86 .6 1.18 .6-1.35 .6 1.2 .6-.97 .6 1.07 .6-.07 .6-.06 .6-.18 .6 .15" fill="none" stroke="#ffffff" stroke-width="0.45" stroke-linejoin="round" stroke-opacity="0.4"/>
</g>
<line x1="130.50" y1="384.40" x2="1047.50" y2="384.40" stroke="#111111" stroke-width="1.3" stroke-dasharray="9.8 6.2" stroke-dashoffset="1.5"/>
<text x="121.72" y="546.70" font-size="29.8" letter-spacing="0.0">0</text>
<text x="265.43" y="546.70" font-size="29.8" letter-spacing="0.0" dx="1.5 -1.5">10</text>
<rect x="268.42" y="542.95" width="6.00" height="4.55" fill="#fff"/>
<rect x="277.02" y="542.95" width="5.66" height="4.55" fill="#fff"/>
<text x="419.43" y="546.70" font-size="29.8" letter-spacing="0.0">20</text>
<text x="572.43" y="546.70" font-size="29.8" letter-spacing="0.0">30</text>
<text x="725.43" y="546.70" font-size="29.8" letter-spacing="0.0">40</text>
<text x="878.43" y="546.70" font-size="29.8" letter-spacing="0.0">50</text>
<text x="1030.43" y="546.70" font-size="29.8" letter-spacing="0.0">60</text>
<text x="101.83" y="518.00" font-size="29.8" letter-spacing="0.0">0</text>
<text x="76.98" y="456.80" font-size="29.8" letter-spacing="0.0">0.5</text>
<text x="101.83" y="396.00" font-size="29.8" letter-spacing="0.0" dx="1.5">1</text>
<rect x="104.82" y="392.25" width="6.00" height="4.55" fill="#fff"/>
<rect x="113.42" y="392.25" width="5.66" height="4.55" fill="#fff"/>
<text x="76.98" y="334.40" font-size="29.8" letter-spacing="0.0" dx="1.5 -1.5 0">1.5</text>
<rect x="79.97" y="330.65" width="6.00" height="4.55" fill="#fff"/>
<rect x="88.57" y="330.65" width="5.66" height="4.55" fill="#fff"/>
<text x="589.22" y="580.00" font-size="31.8" text-anchor="middle" letter-spacing="0.45">Time (s)</text>
<text transform="translate(48.00 500.00) rotate(-90)" font-size="32.0" text-anchor="start">Q<tspan font-size="26.0" dy="16.20" dx="0.00 0.60">DG</tspan><tspan dy="-16.20" dx="-0.60 0.00 1.70 -1.20 -0.50 0.80 -0.20"> (MVar)</tspan></text>
<line x1="482.40" y1="354.70" x2="562.50" y2="354.70" stroke="#62d216" stroke-width="2.7"/>
<text x="568.40" y="366.30" font-size="29.0" text-anchor="start" fill="#000" style="fill:#000">bus-20</text>
<line x1="674.40" y1="354.70" x2="754.50" y2="354.70" stroke="#d95319" stroke-width="2.7"/>
<text x="760.40" y="366.30" font-size="29.0" text-anchor="start" fill="#000" style="fill:#000">bus-40</text>
<line x1="865.60" y1="354.70" x2="946.40" y2="354.70" stroke="#0072bd" stroke-width="2.7"/>
<text x="952.30" y="366.30" font-size="29.0" text-anchor="start" fill="#000" style="fill:#000">bus-50</text>
</g>
<g id="ax3">
<clipPath id="clip3"><rect x="128.10" y="623.90" width="917.95" height="196.00"/></clipPath>
<line x1="281.60" y1="624.40" x2="281.60" y2="818.40" stroke="#262626" stroke-opacity="0.15" stroke-width="1.25"/>
<line x1="434.60" y1="624.40" x2="434.60" y2="818.40" stroke="#262626" stroke-opacity="0.15" stroke-width="1.25"/>
<line x1="587.60" y1="624.40" x2="587.60" y2="818.40" stroke="#262626" stroke-opacity="0.15" stroke-width="1.25"/>
<line x1="739.40" y1="624.40" x2="739.40" y2="818.40" stroke="#262626" stroke-opacity="0.15" stroke-width="1.25"/>
<line x1="892.50" y1="624.40" x2="892.50" y2="818.40" stroke="#262626" stroke-opacity="0.15" stroke-width="1.25"/>
<line x1="128.60" y1="774.00" x2="1044.55" y2="774.00" stroke="#262626" stroke-opacity="0.15" stroke-width="1.25"/>
<line x1="128.60" y1="699.40" x2="1044.55" y2="699.40" stroke="#262626" stroke-opacity="0.15" stroke-width="1.25"/>
<line x1="281.60" y1="818.40" x2="281.60" y2="809.40" stroke="#262626" stroke-width="1.4375"/>
<line x1="281.60" y1="624.40" x2="281.60" y2="633.40" stroke="#262626" stroke-width="1.4375"/>
<line x1="434.60" y1="818.40" x2="434.60" y2="809.40" stroke="#262626" stroke-width="1.4375"/>
<line x1="434.60" y1="624.40" x2="434.60" y2="633.40" stroke="#262626" stroke-width="1.4375"/>
<line x1="587.60" y1="818.40" x2="587.60" y2="809.40" stroke="#262626" stroke-width="1.4375"/>
<line x1="587.60" y1="624.40" x2="587.60" y2="633.40" stroke="#262626" stroke-width="1.4375"/>
<line x1="739.40" y1="818.40" x2="739.40" y2="809.40" stroke="#262626" stroke-width="1.4375"/>
<line x1="739.40" y1="624.40" x2="739.40" y2="633.40" stroke="#262626" stroke-width="1.4375"/>
<line x1="892.50" y1="818.40" x2="892.50" y2="809.40" stroke="#262626" stroke-width="1.4375"/>
<line x1="892.50" y1="624.40" x2="892.50" y2="633.40" stroke="#262626" stroke-width="1.4375"/>
<line x1="128.60" y1="774.00" x2="137.60" y2="774.00" stroke="#262626" stroke-width="1.4375"/>
<line x1="1044.55" y1="774.00" x2="1035.55" y2="774.00" stroke="#262626" stroke-width="1.4375"/>
<line x1="128.60" y1="699.40" x2="137.60" y2="699.40" stroke="#262626" stroke-width="1.4375"/>
<line x1="1044.55" y1="699.40" x2="1035.55" y2="699.40" stroke="#262626" stroke-width="1.4375"/>
<rect x="128.60" y="624.40" width="915.95" height="194.00" fill="none" stroke="#262626" stroke-width="1.25"/>
<line x1="128.60" y1="683.80" x2="1044.55" y2="683.80" stroke="#444444" stroke-width="1.5" stroke-dasharray="9.8 6.2" stroke-dashoffset="0.8"/>
<g clip-path="url(#clip3)">
<path d="M128.70 772.97l.5-.02 .5-.15 .5 .06 .5 .11 .5-.21 .5 .03 .5 .14 .5 0 .5-.04 .5-.04 .5-.04 .5-.1 .5-.01 .5-.07 .5-.01 .5-.03 .5-.09 .5 .02 .5-.17 .5-.24 .5-.31 .5-.2 .5-.29 .5-.25 .5-.25 .5-.36 .5-.34 .5-.22 .5-.59 .5-.6 .5-.38 .5-.67 .5-.5 .5-.68 .5-.62 .5-.59 .5-.78 .5-.52 .5-.59 .5-.88 .5-.54 .5-.76 .5-.8 .5-.72 .5-.53 .5-.73 .5-.68 .5-.86 .5-.51 .5-.69 .5-.76 .5-.47 .5-.8 .5-.46 .5-.77 .5-.41 .5-.64 .5-.62 .5-.57 .5-.51 .5-.67 .5-.35 .5-.56 .5-.51 .5-.49 .5-.54 .5-.47 .5-.38 .5-.48 .5-.22 .5-.48 .5-.23 .5-.35 .5-.25 .5-.28 .5-.41 .5-.2 .5-.23 .5-.17 .5 .05 .5-.1 .5 .03 .5-.1 .5 .22 .5 .07 .5-.05 .5 .11 .5 .19 .5 .14 .5 .06 .5 .26 .5 .11 .5 .04 .5 .07 .5 .21 .5 .2 .5 .29 .5 .19 .5 .32 .5 .13 .5 .19 .5 .26 .5 .29 .5 .21 .5 .27 .5 .14 .5 .3 .5 .3 .5 .1 .5 .35 .5 .32 .5 .31 .5 .32 .5 .07 .5 .49 .5 .07 .5 .46 .5 .12 .5 .3 .5 .36 .5 .4 .5 .17 .5 .22 .5 .41 .5 .26 .5 .22 .5 .26 .5 .47 .5 .19 .5 .29 .5 .32 .5 .22 .5 .44 .5 .27 .5 .21 .5 .39 .5 .26 .5 .28 .5 .33 .5 .4 .5 .1 .5 .31 .5 .38 .5 .29 .5 .36 .5 .37 .5 .25 .5 .29 .5 .38 .5 .34 .5 .37 .5 .25 .5 .38 .5 .12 .5 .5 .5 .17 .5 .36 .5 .5 .5 .32 .5 .19 .5 .44 .5 .24 .5 .26 .5 .31 .5 .39 .5 .31 .5 .39 .5 .34 .5 .41 .5 .19 .5 .41 .5 .34 .5 .26 .5 .28 .5 .49 .5 .4 .5 .23 .5 .27 .5 .3 .5 .33 .5 .45 .5 .21 .5 .24 .5 .04 .5 .25 .5 .28 .5 .08 .5 .17 .5 .18 .5 .26 .5 .19 .5 .08 .5 .24 .5 .06 .5 .07 .5 .04 .5 .2 .5-.01 .5 .18 .5 .09 .5-.01 .5 .08 .5-.02 .5 .15 .5-.07 .5 0 .5 .17 .5 .04 .5-.05 .5 .11 .5 .08 .5-.13 .5 .11 .5-.05 .5-.03 .5 .15 .5-.07 .5-.15 .5 .18 .5 .02 .5-.08 .5-.09 .5 .17 .5-.09 .5 .1 .5-.09 .5 .01 .5 .07 .5-.11 .5 .15 .5-.14 .5 .14 .5-.01 .5-.12 .5 .11 .5-.03 .5-.06 .5 .05 .5-.09 .5-.03 .5 .23 .5-.07 .5 .02 .5-.1 .5-.08 .5 .01 .5 .07 .5-.02 .5 .07 .5-.06 .5 .16 .5-.13 .5-.01 .5 .01 .5-.03 .5-.03 .5 .13 .5-.08 .5 .02 .5 .12 .5-.03 .5 .04 .5-.07 .5 .03 .5 0 .5-.07 .5 .1 .5-.13 .5-.01 .5 .06 .5 .01 .5 .01 .5-.01 .5-.12 .5 .18 .5-.03 .5 .03 .5-.19 .5-.04 .5 .08 .5-.2 .5 0 .5 .09 .5-.2 .5-.02 .5-.08 .5 .02 .5-.08 .5-.15 .5 0 .5-.13 .5-.13 .5-.1 .5-.08 .5-.11 .5-.22 .5-.1 .5-.07 .5 0 .5-.04 .5-.34 .5-.11 .5 .02 .5-.04 .5-.11 .5-.29 .5-.08 .5-.04 .5-.09 .5-.12 .5-.25 .5-.05 .5-.15 .5-.22 .5-.01 .5-.27 .5 0 .5-.2 .5-.04 .5-.12 .5-.27 .5-.03 .5-.04 .5-.17 .5-.16 .5-.17 .5-.1 .5-.01 .5-.04 .5-.09 .5-.09 .5-.13 .5-.02 .5-.19 .5-.09 .5 .01 .5-.13 .5-.08 .5-.19 .5-.05 .5-.19 .5 .09 .5-.21 .5 .02 .5-.23 .5 .01 .5-.12 .5-.01 .5 0 .5-.09 .5-.17 .5 .06 .5-.17 .5 .06 .5 .04 .5-.09 .5-.09 .5 .03 .5-.06 .5-.08 .5-.04 .5 .03 .5-.04 .5-.03 .5-.16 .5 .16 .5-.05 .5-.2 .5 .11 .5-.12 .5 .08 .5-.1 .5 .01 .5-.03 .5-.01 .5-.02 .5 0 .5-.06 .5 0 .5-.09 .5 .11 .5-.06 .5-.07 .5 .18 .5-.01 .5-.06 .5 .1 .5 .1 .5-.17 .5 .17 .5 .1 .5-.17 .5 .06 .5 .07 .5 .2 .5-.18 .5 .18 .5-.01 .5 .03 .5 .02 .5 .15 .5 .04 .5 .07 .5 .17 .5-.03 .5 .05 .5 .1 .5 .06 .5 .11 .5 .04 .5 .02 .5 .19 .5 .06 .5-.01 .5 .1 .5-.08 .5 .26 .5 .07 .5 0 .5 .01 .5 .17 .5 .14 .5 .04 .5 .1 .5 .06 .5 .15 .5 .14 .5 .11 .5-.05 .5 .25 .5 .05 .5 .03 .5 .22 .5-.06 .5 .08 .5 .24 .5 .15 .5-.08 .5 .14 .5 .04 .5 .14 .5 .14 .5 .07 .5 .02 .5 .08 .5-.02 .5 .09 .5-.02 .5 .09 .5 .08 .5 .17 .5 .07 .5-.07 .5 .12 .5 .17 .5 .1 .5 .03 .5 .02 .5-.06 .5 .17 .5 .18 .5-.15 .5 .07 .5 .19 .5 .04 .5 .05 .5-.05 .5-.06 .5 .21 .5 .06 .5-.06 .5-.02 .5-.04 .5 .05 .5 .08 .5 .07 .5-.14 .5 .1 .5-.09 .5 .14 .5 0 .5 .01 .5-.04 .5-.02 .5 .2 .5 .02 .5-.08 .5 .11 .5-.13 .5 .01 .5 0 .5-.05 .5 .06 .5 .03 .5 .08 .5-.09 .5 .02 .5 .09 .5-.06 .5 .03 .5-.04 .5-.05 .5 .05 .5 .03 .5 .07 .5-.12 .5-.06 .5-.03 .5 .23 .5-.09 .5 .04 .5-.01 .5-.07 .5-.09 .5 .06 .5-.11 .5 .11 .5 .08 .5-.14 .5 .01 .5-.06 .5 .12 .5 .01 .5-.09 .5-.05 .5-.08 .5 .11 .5-.12 .5 .01 .5 0 .5-.03 .5 .09 .5-.03 .5 .04 .5-.04 .5-.01 .5-.15 .5 .06 .5 .05 .5-.08 .5-.11 .5 .09 .5-.11 .5 .04 .5 .03 .5-.1 .5-.04 .5-.02 .5 .01 .5 .04 .5-.13 .5 .01 .5-.02 .5 0 .5-.19 .5 .08 .5-.14 .5-.05 .5 .01 .5 .17 .5-.12 .5 .01 .5-.08 .5-.01 .5-.1 .5 .05 .5-.12 .5 .03 .5-.03 .5-.02 .5-.13 .5 .07 .5-.09 .5-.08 .5 .15 .5-.18 .5 .17 .5-.13 .5-.05 .5-.11 .5-.02 .5 .14 .5-.02 .5-.1 .5 .09 .5-.15 .5 .03 .5-.11 .5 .03 .5 .06 .5-.09 .5-.06 .5 .03 .5 .06 .5-.09 .5-.1 .5 .13 .5-.21 .5 .13 .5-.1 .5 0 .5-.09 .5-.02 .5-.05 .5 .07 .5 .01 .5-.19 .5 .04 .5 .02 .5 .1 .5-.14 .5-.01 .5-.03 .5-.11 .5 .06 .5-.11 .5 .13 .5-.03 .5-.02 .5-.16 .5 .03 .5-.1 .5 .09 .5-.11 .5 .13 .5-.09 .5-.1 .5 .06 .5-.06 .5 .04 .5 .04 .5-.23 .5 .04 .5 .12 .5-.19 .5 .09 .5 .07 .5-.19 .5 .14 .5-.17 .5 .06 .5 .01 .5-.16 .5 .17 .5-.02 .5-.2 .5 .09 .5 .1 .5-.15 .5 .01 .5-.04 .5-.07 .5 0 .5 .12 .5-.1 .5 .16 .5-.02 .5-.05 .5-.06 .5 .06 .5-.19 .5 .22 .5 .01 .5-.1 .5 0 .5 .04 .5-.18 .5 .17 .5-.08 .5-.09 .5 .11 .5 .12 .5-.08 .5-.08 .5 .06 .5 .08 .5-.16 .5 .19 .5-.19 .5 0 .5-.02 .5 .21 .5-.07 .5 .01 .5-.05 .5-.07 .5 .07 .5-.05 .5 .1 .5 .03 .5-.03 .5-.03 .5-.03 .5 .11 .5-.12 .5 .19 .5-.1 .5 .01 .5 .08 .5-.17 .5 .2 .5 0 .5-.12 .5-.04 .5 .15 .5-.17 .5 .17 .5 0 .5-.13 .5-.03 .5 .03 .5 .15 .5-.06 .5 .14 .5-.2 .5 .21 .5 .01 .5-.15 .5-.06 .5 .2 .5-.04 .5 .02 .5-.12 .5-.02 .5 .06 .5 .15 .5-.2 .5 .2 .5-.14 .5 .03 .5 .07 .5 .09 .5-.08 .5 .01 .5 .06 .5-.01 .5 .05 .5-.12 .5 .16 .5 .01 .5-.05 .5-.15 .5 .08 .5 .11 .5-.13 .5 .07 .5-.03 .5-.03 .5 .11 .5-.05 .5 .12 .5-.17 .5 .21 .5-.12 .5 .09 .5-.11 .5-.03 .5 0 .5 .06 .5 0 .5 .11 .5 0 .5 .08 .5-.06 .5-.01 .5-.06 .5-.05 .5 .15 .5-.1 .5 .21 .5-.07 .5-.15 .5 .11 .5-.08 .5-.01 .5 .1 .5 .14 .5-.19 .5 .22 .5-.13 .5-.02 .5 .15 .5-.14 .5-.03 .5 .19 .5 .01 .5-.03 .5 .01 .5-.07 .5 .1 .5-.1 .5 .03 .5-.08 .5 .1 .5 .05 .5-.1 .5-.03 .5 0 .5 .1 .5-.08 .5 .08 .5 .05 .5-.13 .5 .18 .5-.16 .5 .01 .5 .14 .5 .07 .5-.19 .5 .14 .5-.05 .5-.06 .5 .09 .5-.02 .5-.01 .5 .12 .5-.07 .5 .06 .5-.18 .5 .22 .5-.16 .5 .07 .5-.1 .5 .03 .5 .07 .5 .07 .5 .01 .5-.07 .5-.05 .5 .1 .5-.06 .5-.04 .5 .15 .5 .01 .5-.15 .5-.02 .5 .17 .5 .02 .5-.17 .5 .08 .5 .07 .5-.08 .5 .12 .5-.18 .5 .13 .5-.08 .5 .12 .5-.16 .5 .17 .5-.05 .5 .06 .5-.14 .5 .18 .5-.04 .5-.14 .5 .2 .5-.16 .5 .05 .5 0 .5 .1 .5 0 .5-.15 .5 .19 .5-.17 .5 .14 .5-.14 .5 .08 .5-.07 .5 .14 .5-.06 .5 .04 .5 .11 .5-.04 .5-.15 .5 .06 .5 .04 .5-.05 .5-.06 .5 .07 .5-.02 .5-.01 .5-.01 .5-.01 .5 .18 .5-.08 .5 .06 .5 .02 .5 .02 .5-.06 .5 .07 .5-.17 .5 .01 .5 .12 .5-.06 .5-.05 .5 .05 .5 .01 .5 .12 .5-.11 .5 .12 .5-.16 .5 .16 .5-.01 .5-.15 .5 .14 .5 .01 .5 0 .5 .03 .5-.1 .5 .01 .5-.06 .5 .06 .5 .11 .5-.07 .5 .04 .5 .02 .5-.06 .5-.01 .5-.08 .5 .09 .5 .01 .5-.13 .5-.01 .5 .23 .5-.22 .5 .18 .5-.04 .5 .05 .5-.07 .5 .01 .5-.08 .5 .09 .5 .07 .5-.16 .5 .17 .5-.16 .5 .09 .5 .07 .5-.02 .5-.13 .5 .06 .5 .06 .5 .05 .5-.06 .5 .04 .5-.1 .5 .03 .5-.09 .5 .03 .5-.01 .5 .15 .5 0 .5-.01 .5-.12 .5 .13 .5-.08 .5-.1 .5 .06 .5-.09 .5 .1 .5 .1 .5-.13 .5-.01 .5-.07 .5 .1 .5 .05 .5 .05 .5-.14 .5-.02 .5 .16 .5-.2 .5 .07 .5 .02 .5 .11 .5-.08 .5 .07 .5 0 .5-.04 .5 .01 .5-.14 .5 .15 .5-.01 .5-.11 .5-.03 .5 .01 .5 .14 .5-.04 .5-.05 .5-.1 .5 .2 .5-.22 .5 .05 .5 .16 .5-.09 .5-.04 .5 .04 .5 .02 .5 .02 .5-.04 .5-.12 .5 .03 .5 .02 .5 .05 .5 .02 .5 .05 .5-.14 .5-.02 .5 .17 .5-.06 .5-.05 .5-.08 .5 .03 .5 .15 .5-.07 .5-.12 .5 .11 .5-.02 .5 .08 .5-.16 .5 .07 .5 .12 .5-.05 .5-.01 .5-.07 .5-.03 .5-.04 .5 .05 .5 .01 .5 .02 .5 .09 .5-.1 .5 .05 .5-.12 .5 .05 .5 .14 .5-.19 .5-.02 .5-.01 .5-.01 .5 .03 .5-.02 .5 .02 .5 .06 .5 .07 .5 .02 .5-.06 .5-.11 .5 .17 .5-.04 .5 .04 .5-.02 .5-.14 .5 .19 .5-.05 .5-.11 .5 .11 .5-.09 .5-.08 .5 .13 .5 .08 .5-.08 .5 .06 .5-.17 .5 .07 .5-.05 .5 .15 .5-.19 .5-.03 .5 .12 .5-.03 .5-.05 .5 .17 .5-.15 .5-.02 .5 .11 .5 .07 .5-.14 .5 .08 .5-.17 .5 .19 .5-.08 .5 .03 .5-.05 .5-.1 .5 .08 .5-.05 .5 0 .5 .16 .5-.12 .5 .11 .5-.01 .5-.02 .5-.05 .5-.1 .5 .17 .5-.19 .5 .09 .5 .12 .5-.03 .5-.05 .5 .01 .5 .08 .5-.04 .5-.06 .5-.04 .5-.07 .5 .18 .5-.01 .5-.04 .5 .06 .5-.21 .5 .02 .5 .12 .5 .09 .5-.02 .5-.07 .5-.13 .5 .11 .5 .02 .5 .03 .5 .05 .5-.05 .5-.06 .5 .06 .5-.1 .5 .03 .5 .01 .5-.04 .5 .15 .5-.17 .5 .09 .5-.1 .5 .18 .5-.16 .5 .07 .5 .07 .5-.06 .5-.02 .5-.12 .5 .08 .5 .01 .5 .06 .5-.05 .5-.05 .5 .06 .5-.04 .5 .11 .5-.09 .5 0 .5 .06 .5-.04 .5-.03 .5-.08 .5 .09 .5 .1 .5 .02 .5-.03 .5-.17 .5 .18 .5-.09 .5 .05 .5-.02 .5-.03 .5-.07 .5 .04 .5-.01 .5 .1 .5-.14 .5-.02 .5 .18 .5-.04 .5-.02 .5-.1 .5-.01 .5 .13 .5-.12 .5 .17 .5-.17 .5 .11 .5-.09 .5 .02 .5 0 .5-.07 .5 .09 .5 .11 .5-.09 .5-.07 .5 .07 .5 .1 .5-.11 .5 .01 .5 .07 .5-.17 .5 .06 .5 .01 .5-.02 .5 .06 .5 .06 .5-.09 .5 .09 .5-.08 .5 .1 .5-.13 .5 .03 .5 .05 .5-.16 .5 .21 .5-.1 .5-.02 .5-.06 .5-.01 .5 .09 .5 .09 .5-.05 .5 .07 .5 .02 .5-.12 .5-.07 .5 .18 .5-.18 .5 .08 .5-.08 .5 .16 .5-.03 .5-.05 .5 .08 .5-.05 .5-.01 .5 .01 .5 .05 .5-.11 .5 .07 .5-.08 .5 .07 .5-.03 .5 .05 .5-.05 .5-.01 .5-.1 .5-.01 .5 .2 .5-.1 .5 .12 .5-.12 .5-.09 .5 .16 .5-.1 .5 .07 .5-.14 .5 .2 .5-.17 .5 .05 .5 .01 .5 .03 .5 .09 .5-.01 .5-.12 .5 0 .5 .09 .5-.1 .5-.02 .5 .17 .5-.05 .5-.08 .5-.05 .5 .07 .5-.02 .5-.03 .5 .07 .5-.1 .5 .02 .5 .07 .5-.03 .5 0 .5 .06 .5-.14 .5 .16 .5 .05 .5-.01 .5-.01 .5-.2 .5 .06 .5-.05 .5 .01 .5 .01 .5-.03 .5 .21 .5-.08 .5-.06 .5-.02 .5-.06 .5 .01 .5 .15 .5-.05 .5-.03 .5 .03 .5-.02 .5 .08 .5-.04 .5-.03 .5-.1 .5 .13 .5 .08 .5-.15 .5 .02 .5 .1 .5-.14 .5 .1 .5 .01 .5 .04 .5 .02 .5-.01 .5-.16 .5 .15 .5-.05 .5-.04 .5-.09 .5 .13 .5-.04 .5 .07 .5-.03 .5-.11 .5 .14 .5-.14 .5 0 .5 .13 .5 .06 .5-.05 .5 .06 .5-.19 .5-.02 .5 .09 .5-.05 .5 .01 .5-.03 .5 .03 .5 .11 .5-.08 .5 .02 .5-.08 .5 .11 .5 .02 .5-.09 .5 .05 .5-.07 .5-.04 .5 .02 .5-.04 .5 .22 .5 .01 .5-.19 .5 .16 .5-.06 .5 .04 .5-.04 .5-.02 .5-.03 .5 0 .5 .12 .5-.14 .5-.03 .5 .2 .5-.17 .5-.05 .5 .05 .5 .12 .5 0 .5 .02 .5 .01 .5 .02 .5-.16 .5-.03 .5 .18 .5-.01 .5-.1 .5-.04 .5-.03 .5 .19 .5-.09 .5 0 .5-.11 .5 0 .5 .06 .5 .12 .5-.02 .5-.14 .5-.04 .5 .13 .5 .03 .5 .04 .5-.07 .5-.09 .5 .07 .5 .04 .5-.12 .5 .17 .5-.19 .5-.03 .5 .07 .5 .12 .5-.05 .5-.07 .5 .01 .5 .04 .5 .07 .5 .04 .5-.06 .5-.14 .5 .18 .5-.01 .5-.03 .5 .03 .5-.2 .5 .16 .5-.04 .5 .12 .5-.01 .5-.12 .5 .09 .5-.03 .5 .01 .5-.1 .5 .1 .5-.17 .5 0 .5 .05 .5 0 .5-.06 .5 .21 .5-.02 .5 0 .5 .01 .5 .02 .5-.18 .5 .08 .5-.03 .5 0 .5 .07 .5-.07 .5 .13 .5-.19 .5 .01 .5 .17 .5-.15 .5 .03 .5 .02 .5 .06 .5 .05 .5-.06 .5-.1 .5 .14 .5-.12 .5-.06 .5-.01 .5 .19 .5-.07 .5-.07 .5-.04 .5 .21 .5-.04 .5-.01 .5-.08 .5-.05 .5 .04 .5 .07 .5-.01 .5-.12 .5 .18 .5-.07 .5 0 .5 .01 .5-.02 .5 .1 .5-.18 .5 .12 .5-.02 .5 .09 .5-.08 .5-.11 .5 .04 .5 .13 .5-.2 .5 .16 .5-.06 .5-.11 .5 .19 .5-.15 .5 .03 .5 .04 .5-.04 .5 .12 .5 .03 .5-.01 .5-.1 .5 .07 .5-.11 .5 .03 .5 .01 .5-.02 .5-.05 .5 .17 .5-.06 .5-.08 .5-.01 .5-.04 .5 .08 .5-.03 .5 .14 .5-.19 .5 .02 .5 .11 .5-.09 .5 .01 .5 .15 .5-.18 .5-.01 .5 .04 .5 .01 .5 .03 .5 .05 .5-.14 .5 .02 .5 .17 .5-.06 .5-.14 .5 .12 .5 .06 .5-.14 .5 .06 .5 .07 .5-.12 .5 .1 .5-.07 .5 .04 .5 .01 .5-.13 .5 .14 .5 .03 .5-.15 .5-.02 .5 .11 .5-.01 .5-.01 .5 .1 .5-.19 .5 .13 .5 .05 .5-.01 .5-.02 .5-.12 .5 0 .5 .05 .5 .09 .5-.17 .5-.01 .5 .21 .5-.13 .5 .06 .5 .07 .5-.2 .5 .08 .5 .1 .5-.16 .5 .17 .5-.04 .5-.08 .5 .1 .5-.09 .5 .11 .5 .03 .5-.1 .5 .02 .5-.11 .5-.01 .5 .06 .5-.03 .5 .04 .5-.07 .5 .12 .5-.03 .5-.09 .5-.02 .5 .12 .5 .1 .5-.01 .5 .01 .5-.14 .5 .12 .5-.2 .5-.02 .5 .03 .5-.03 .5 .03 .5 .09 .5 .08 .5-.02 .5-.05 .5-.11 .5 .14 .5-.01 .5 .04 .5-.06 .5-.05 .5-.01 .5 .05 .5-.05 .5 .16 .5-.21 .5 .14 .5-.06 .5 0 .5 .03 .5-.05 .5 .09 .5-.02 .5-.03 .5-.02 .5 .04 .5 .04 .5-.14 .5-.01 .5 .01 .5 .05 .5 .03 .5-.02 .5 .09 .5-.03 .5 0 .5-.03 .5 .1 .5-.22 .5 .1 .5-.02 .5 .15 .5-.17 .5 .03 .5 .08 .5-.08 .5-.06 .5 .01 .5 .07 .5-.03 .5 .05 .5-.08 .5 .17 .5-.15 .5 .01 .5 .06 .5 .05 .5 .01 .5-.08 .5 .08 .5-.05 .5-.08 .5 .04 .5-.04 .5 .11 .5-.05 .5-.01 .5-.05 .5 .1 .5-.12 .5 .01 .5-.07 .5 .03 .5 .05 .5 0 .5 .02 .5 .06 .5-.1 .5-.02 .5 .11 .5 .02 .5 .05 .5-.1 .5-.11 .5 .07 .5 .08 .5-.06 .5-.07 .5 .2 .5-.03 .5-.14 .5-.03 .5 .08 .5-.05 .5 .06 .5 .06 .5-.11 .5 .02 .5 .06 .5-.02 .5-.13 .5 .08 .5-.05 .5 .18 .5-.1 .5 .08 .5-.13 .5-.05 .5 .2 .5 0 .5-.07 .5-.11 .5-.01 .5 .14 .5-.03 .5-.05 .5 .06 .5-.13 .5 .04 .5 .18 .5-.12 .5-.01 .5 .14 .5-.13 .5-.1 .5 .15 .5-.04 .5-.06 .5 .07 .5-.06 .5 .1 .5 .06 .5-.21 .5 .16 .5 .03 .5-.04 .5-.04 .5-.06 .5 .02 .5-.06 .5-.02 .5 .16 .5-.14 .5-.02 .5 .05 .5-.06 .5 .14 .5-.01 .5-.02 .5-.09 .5 .1 .5 .05 .5-.09 .5-.02 .5 .04 .5-.03 .5 .02 .5 .05 .5-.13 .5 .06 .5-.04 .5 .03 .5 .13 .5-.1 .5 .02 .5-.04 .5 .16 .5-.02 .5-.2 .5 .05 .5 .04 .5 .08 .5-.1 .5-.04 .5-.01 .5 .17 .5-.11 .5-.01 .5 .02 .5 .14 .5-.07 .5-.11 .5-.01 .5-.02 .5 .19 .5-.11 .5 .06 .5 .04 .5-.19 .5 .03 .5 .05 .5 .08 .5-.07 .5-.04 .5-.05 .5 .08 .5-.05 .5 .18 .5-.02 .5-.11 .5-.08 .5 .07 .5 .14 .5-.08 .5-.03 .5-.03 .5-.04 .5-.02 .5 .07 .5 .13 .5 0 .5-.02 .5-.13 .5 .06 .5-.1 .5 .02 .5-.02 .5 .05 .5-.08 .5 .2 .5 .01 .5-.17 .5 .03 .5-.03 .5 .12 .5 .07 .5-.02 .5-.21 .5 .21 .5-.11 .5-.07 .5 .03 .5 .05 .5-.03 .5 .05 .5-.12 .5 .13 .5-.07 .5 .12 .5-.05 .5-.14 .5 .23 .3-.19 0 10.79-.3-.03-.5-.2-.5 0-.5 .14-.5-.1-.5 .19-.5-.23-.5 .12-.5 .08-.5-.01-.5-.05-.5 .04-.5-.1-.5 .09-.5 .01-.5-.01-.5-.05-.5-.12-.5 .2-.5-.1-.5 .04-.5-.07-.5 .12-.5-.14-.5-.04-.5 .03-.5 .13-.5-.09-.5 .01-.5-.09-.5 0-.5 .22-.5-.19-.5 .01-.5-.03-.5 .11-.5-.04-.5-.08-.5 .07-.5-.06-.5 .13-.5-.01-.5-.06-.5 .11-.5-.05-.5 .02-.5 .06-.5 .02-.5-.1-.5-.03-.5-.11-.5 .03-.5 .21-.5-.1-.5-.05-.5 .14-.5-.22-.5 .22-.5-.02-.5-.08-.5 .07-.5-.02-.5-.17-.5 .11-.5 .04-.5-.04-.5 .01-.5-.12-.5 .14-.5-.02-.5-.03-.5 .05-.5-.04-.5 .08-.5 .04-.5-.04-.5 .03-.5-.17-.5 .14-.5-.11-.5-.02-.5 .06-.5-.05-.5 .15-.5-.15-.5 .09-.5 .07-.5-.09-.5-.05-.5-.03-.5 .11-.5-.07-.5-.01-.5 .07-.5-.03-.5-.1-.5 .11-.5-.04-.5 .12-.5-.2-.5 .19-.5 0-.5-.12-.5-.07-.5 .11-.5 0-.5-.12-.5 .19-.5-.17-.5 .02-.5 .05-.5 .05-.5-.07-.5 .03-.5-.1-.5 .12-.5-.12-.5 .14-.5-.04-.5-.06-.5 .15-.5-.01-.5 .01-.5-.03-.5-.1-.5 .02-.5 .05-.5-.13-.5 .16-.5 .06-.5-.04-.5 .04-.5-.16-.5 0-.5 .15-.5-.09-.5 .03-.5 .06-.5-.01-.5-.1-.5-.09-.5 .06-.5 .02-.5 .09-.5-.02-.5-.06-.5 .08-.5-.12-.5-.03-.5 .02-.5-.04-.5 .14-.5-.09-.5 .07-.5-.01-.5 .03-.5-.05-.5-.1-.5 .03-.5 .03-.5 .02-.5 .07-.5 .03-.5-.13-.5 .08-.5 .02-.5 .03-.5-.1-.5 .13-.5-.01-.5-.11-.5 .14-.5-.16-.5-.08-.5 0-.5 .12-.5 .11-.5-.04-.5-.17-.5 .03-.5 .16-.5-.1-.5-.07-.5 .13-.5 0-.5-.12-.5 .06-.5 .04-.5-.08-.5-.04-.5 .17-.5 .04-.5-.23-.5 .18-.5 .01-.5 0-.5-.18-.5 .06-.5 0-.5-.04-.5 .15-.5 .03-.5-.04-.5 .05-.5-.13-.5 .04-.5-.11-.5 .18-.5-.13-.5 .07-.5-.02-.5-.07-.5-.01-.5 .15-.5 .04-.5-.19-.5 .1-.5-.07-.5 .08-.5-.06-.5 .05-.5 .08-.5-.11-.5 .05-.5-.08-.5 .08-.5-.06-.5 .08-.5-.1-.5 .07-.5-.08-.5-.03-.5 .03-.5 .11-.5-.1-.5 .11-.5-.18-.5 .06-.5 .02-.5-.09-.5 .04-.5 .18-.5-.01-.5-.05-.5-.03-.5-.14-.5 .06-.5 .01-.5 .12-.5-.16-.5 0-.5 .05-.5 .09-.5 .02-.5-.12-.5-.05-.5 .16-.5-.16-.5 .15-.5-.06-.5 .13-.5-.06-.5-.04-.5 .09-.5-.17-.5 .14-.5-.13-.5 .05-.5 .05-.5-.12-.5 .1-.5-.09-.5-.01-.5 .04-.5 .02-.5-.04-.5 .12-.5-.13-.5 .1-.5-.12-.5 0-.5 .14-.5-.11-.5 .05-.5 .11-.5-.04-.5-.07-.5 .03-.5 .02-.5-.09-.5-.07-.5 .1-.5 .09-.5-.04-.5-.1-.5 .07-.5-.04-.5-.03-.5 .14-.5-.04-.5-.1-.5 .09-.5 .05-.5-.12-.5 .1-.5-.06-.5 .02-.5 .05-.5-.05-.5 .06-.5-.09-.5-.01-.5 .06-.5-.05-.5 .06-.5 0-.5 .06-.5-.1-.5-.03-.5 .06-.5-.14-.5 .18-.5-.13-.5 .02-.5 .06-.5-.03-.5 .04-.5-.14-.5 .22-.5-.05-.5-.16-.5 .07-.5 .14-.5-.08-.5-.11-.5-.05-.5 .03-.5 .19-.5-.13-.5 .08-.5 .01-.5-.07-.5 .05-.5 .08-.5-.03-.5-.05-.5-.02-.5-.05-.5 .1-.5-.19-.5 .17-.5-.03-.5-.13-.5 .1-.5-.07-.5 .05-.5 .1-.5 .01-.5-.06-.5-.11-.5 .09-.5 .01-.5 .05-.5 .05-.5 .01-.5-.15-.5 .07-.5-.12-.5 .19-.5-.15-.5 .01-.5 .06-.5-.01-.5-.1-.5 .04-.5 .11-.5-.09-.5 .08-.5-.18-.5 .21-.5-.09-.5 0-.5 .11-.5-.15-.5 .1-.5 .05-.5-.02-.5-.17-.5 .02-.5 .04-.5 .1-.5-.1-.5 .14-.5-.08-.5-.07-.5 .09-.5-.12-.5 .15-.5-.07-.5-.01-.5 .05-.5 0-.5-.05-.5 .1-.5-.09-.5 0-.5 0-.5-.02-.5-.1-.5 .07-.5 .14-.5-.17-.5 .1-.5 0-.5-.02-.5 .06-.5-.12-.5 .14-.5 0-.5-.03-.5-.06-.5-.09-.5-.03-.5 .01-.5 .02-.5-.03-.5 .17-.5-.14-.5 .19-.5-.05-.5-.09-.5-.01-.5-.06-.5 0-.5 .05-.5-.03-.5-.02-.5 .13-.5-.03-.5-.02-.5-.07-.5 0-.5 .03-.5 .17-.5-.2-.5 .11-.5-.08-.5-.05-.5 .2-.5-.19-.5 .06-.5-.07-.5 .19-.5 .01-.5-.09-.5 .07-.5-.05-.5-.02-.5-.05-.5 .01-.5-.03-.5 .07-.5-.08-.5 .07-.5 .06-.5-.13-.5 .1-.5-.03-.5 .11-.5-.12-.5 .05-.5-.07-.5 .09-.5-.03-.5-.14-.5 .13-.5 .03-.5-.03-.5 .1-.5-.02-.5-.08-.5-.02-.5-.08-.5 .03-.5 .17-.5-.04-.5-.12-.5 .03-.5 .03-.5-.08-.5 .01-.5 .17-.5-.09-.5-.08-.5 .13-.5 .01-.5-.08-.5-.02-.5 .03-.5-.11-.5 .22-.5-.03-.5-.14-.5 .16-.5-.1-.5-.1-.5 .19-.5-.14-.5 .06-.5-.12-.5 .06-.5-.06-.5 .11-.5-.07-.5 .14-.5-.2-.5 .15-.5-.03-.5-.09-.5 .04-.5-.02-.5 .08-.5 .01-.5-.06-.5 .14-.5-.18-.5-.01-.5 .19-.5-.04-.5-.05-.5 .09-.5-.19-.5 .08-.5 .09-.5-.19-.5 .01-.5 .18-.5-.08-.5-.09-.5 0-.5 .07-.5-.07-.5 .15-.5-.04-.5 .07-.5 0-.5-.1-.5 .12-.5-.14-.5-.03-.5-.02-.5 .03-.5 .14-.5-.13-.5-.01-.5 .02-.5 .07-.5 .04-.5-.07-.5-.05-.5-.02-.5 .16-.5-.13-.5 .13-.5-.08-.5-.09-.5-.02-.5-.01-.5-.01-.5 .22-.5-.19-.5 .09-.5 .1-.5-.22-.5 .08-.5 .08-.5-.06-.5-.1-.5 .13-.5 .05-.5-.06-.5-.02-.5-.03-.5 0-.5 .02-.5 .06-.5-.14-.5 .12-.5 0-.5 .01-.5-.13-.5 .06-.5 .04-.5-.07-.5 .07-.5 .11-.5-.03-.5-.12-.5 .07-.5 .06-.5 .02-.5-.11-.5 0-.5 .02-.5 .08-.5-.02-.5-.1-.5-.04-.5-.03-.5 .01-.5-.02-.5 .05-.5-.02-.5 .01-.5-.06-.5 .04-.5 .03-.5 .12-.5 0-.5-.03-.5-.16-.5 .16-.5 .04-.5-.06-.5 .04-.5 .04-.5-.06-.5 .05-.5-.07-.5-.08-.5 .04-.5-.03-.5 .07-.5 .06-.5-.09-.5 .02-.5-.03-.5 0-.5 .01-.5-.09-.5 0-.5 .15-.5-.01-.5-.06-.5 .04-.5-.13-.5 .05-.5 .04-.5 .13-.5-.19-.5 .08-.5-.03-.5 .04-.5-.08-.5-.03-.5 .13-.5-.04-.5 0-.5 .12-.5 .01-.5-.17-.5 .16-.5-.04-.5-.17-.5 .11-.5-.07-.5 .02-.5 .1-.5-.15-.5 .18-.5 .02-.5-.21-.5 .22-.5 0-.5-.12-.5 .05-.5-.05-.5-.08-.5 .17-.5-.12-.5 0-.5 .09-.5-.14-.5 .09-.5-.11-.5 .11-.5-.08-.5 .02-.5-.06-.5 .21-.5-.18-.5 .06-.5-.04-.5-.05-.5 .06-.5-.02-.5-.02-.5 .18-.5-.21-.5 .05-.5 .15-.5-.08-.5 .08-.5-.02-.5 0-.5-.16-.5 .14-.5-.07-.5 .08-.5-.07-.5 .02-.5 .06-.5 0-.5-.06-.5 .08-.5-.14-.5-.03-.5 .15-.5-.04-.5-.12-.5 .15-.5-.02-.5 .07-.5-.2-.5 .13-.5 .05-.5-.11-.5-.08-.5 .1-.5 .08-.5 .03-.5-.04-.5-.17-.5 .12-.5 .02-.5 .03-.5-.02-.5-.13-.5-.01-.5 .14-.5-.05-.5-.06-.5 .12-.5-.06-.5 0-.5 .09-.5-.14-.5 .04-.5 .1-.5-.1-.5 .06-.5-.18-.5 .22-.5-.16-.5-.03-.5 .09-.5-.02-.5-.03-.5-.1-.5 .19-.5-.07-.5-.05-.5 .12-.5 .03-.5 0-.5-.15-.5-.07-.5 .09-.5-.04-.5-.04-.5 .15-.5-.16-.5 .14-.5-.08-.5-.02-.5-.04-.5 .03-.5 .05-.5 .09-.5-.07-.5-.1-.5 .2-.5-.05-.5 0-.5-.16-.5 .02-.5 .12-.5 .04-.5-.18-.5 .06-.5-.09-.5 .1-.5-.04-.5-.05-.5 .02-.5 .06-.5 .05-.5-.14-.5 .01-.5 .16-.5-.01-.5 .04-.5 0-.5-.1-.5-.09-.5 .03-.5-.03-.5-.02-.5 .03-.5-.05-.5 .16-.5-.08-.5 .08-.5 0-.5-.09-.5 .01-.5-.08-.5 .1-.5 .1-.5-.21-.5 .19-.5-.19-.5 .22-.5-.01-.5-.12-.5 .07-.5-.13-.5 .09-.5 .07-.5-.19-.5 .17-.5 .04-.5-.21-.5 .04-.5 .15-.5-.12-.5-.04-.5 .07-.5-.08-.5-.01-.5 .06-.5 .05-.5-.01-.5 .02-.5-.1-.5 .01-.5-.03-.5 .04-.5-.08-.5 .17-.5-.07-.5 .05-.5-.04-.5 .1-.5-.1-.5-.04-.5-.05-.5 .11-.5-.08-.5 0-.5 0-.5-.05-.5 .03-.5 .12-.5-.05-.5 .1-.5-.02-.5-.15-.5-.01-.5 .15-.5-.16-.5 .19-.5-.21-.5 .17-.5-.08-.5-.05-.5 .03-.5-.02-.5 .04-.5-.06-.5-.03-.5 .1-.5 .04-.5 .03-.5-.03-.5-.13-.5 .13-.5-.01-.5-.01-.5-.03-.5 .03-.5-.09-.5-.05-.5 .08-.5-.05-.5 0-.5 0-.5 .01-.5-.03-.5 .03-.5 .01-.5 .09-.5 .07-.5-.12-.5 .11-.5 .02-.5-.09-.5-.04-.5-.05-.5 .07-.5 .13-.5-.15-.5 .02-.5 .12-.5-.22-.5 .1-.5 .13-.5-.11-.5 .11-.5-.07-.5-.13-.5 .03-.5 .08-.5 .11-.5-.11-.5 .1-.5-.16-.5 .01-.5-.05-.5 .22-.5-.09-.5 .01-.5-.12-.5 .12-.5-.08-.5 .03-.5 .07-.5-.01-.5-.01-.5 .1-.5-.12-.5 .06-.5-.12-.5 .07-.5 .11-.5 .02-.5-.11-.5 .11-.5-.05-.5-.06-.5-.04-.5 .03-.5 .13-.5 .01-.5 .01-.5-.05-.5-.14-.5-.02-.5 .07-.5-.01-.5 .02-.5 .08-.5 .04-.5-.08-.5 .11-.5 0-.5 .01-.5-.14-.5 .12-.5 .03-.5-.17-.5 .11-.5 .05-.5 .06-.5-.05-.5-.09-.5 .09-.5-.13-.5-.01-.5 .15-.5-.01-.5-.14-.5 .2-.5-.04-.5-.02-.5 .02-.5 0-.5 .06-.5 .03-.5-.07-.5 0-.5-.01-.5 .09-.5-.02-.5 .03-.5-.09-.5 .09-.5-.12-.5-.04-.5-.02-.5 .05-.5 .11-.5 .02-.5-.09-.5 .14-.5-.12-.5 .11-.5-.16-.5 .15-.5 .05-.5-.11-.5 .12-.5-.15-.5 .1-.5-.06-.5-.06-.5-.02-.5 .12-.5 .05-.5-.06-.5-.1-.5 .06-.5 0-.5-.05-.5 .19-.5-.07-.5-.12-.5 .13-.5-.11-.5 .14-.5-.04-.5 .07-.5 .04-.5-.14-.5 .05-.5 .14-.5-.13-.5 .13-.5-.05-.5 .04-.5-.13-.5 .05-.5-.04-.5 .01-.5 .16-.5 0-.5-.13-.5-.02-.5-.04-.5 .08-.5 .15-.5-.04-.5 .05-.5-.11-.5-.08-.5 .05-.5 .05-.5-.01-.5 .05-.5-.05-.5 .12-.5-.12-.5 .04-.5 .15-.5-.1-.5-.05-.5 .18-.5-.04-.5-.15-.5 0-.5 .09-.5-.07-.5 .1-.5 .01-.5-.07-.5 .02-.5 .07-.5 .05-.5-.07-.5 .16-.5-.17-.5 .19-.5-.17-.5 .09-.5-.03-.5-.01-.5-.03-.5-.01-.5 .18-.5-.01-.5-.12-.5 .01-.5 .14-.5-.13-.5 .02-.5 .05-.5 .09-.5-.07-.5 .03-.5-.06-.5 .05-.5-.02-.5 .15-.5-.1-.5 0-.5-.04-.5 .15-.5-.03-.5-.09-.5 .05-.5 .15-.5-.2-.5 .11-.5-.04-.5-.02-.5 .05-.5 .11-.5 .03-.5-.14-.5 .14-.5-.03-.5-.12-.5 .07-.5 .04-.5 .09-.5-.09-.5 .02-.5-.14-.5 .21-.5-.17-.5 .19-.5 0-.5-.16-.5 .17-.5-.07-.5-.09-.5 .12-.5 .08-.5-.17-.5 .12-.5-.1-.5 .11-.5 0-.5-.14-.5 .12-.5 .09-.5-.14-.5-.06-.5 .15-.5 .04-.5-.02-.5-.09-.5 .04-.5 .11-.5-.11-.5-.01-.5 .02-.5-.05-.5 .06-.5 .08-.5-.14-.5 .06-.5 .1-.5 .01-.5 0-.5-.02-.5-.12-.5 .08-.5-.02-.5-.05-.5 0-.5 .07-.5-.15-.5 .12-.5-.09-.5 .06-.5 .06-.5-.04-.5-.03-.5 .04-.5-.01-.5-.16-.5-.03-.5 .08-.5 .12-.5-.06-.5-.1-.5-.1-.5 .17-.5 .02-.5-.09-.5-.02-.5-.1-.5-.02-.5-.04-.5-.04-.5 .13-.5-.17-.5 .19-.5-.17-.5 0-.5 .08-.5-.09-.5-.01-.5 .05-.5-.11-.5 0-.5 .02-.5-.16-.5-.02-.5-.03-.5 .17-.5-.21-.5-.01-.5 .02-.5-.02-.5-.09-.5 .08-.5 .1-.5-.15-.5 .02-.5-.06-.5-.02-.5-.13-.5 .14-.5 .02-.5-.22-.5 .16-.5-.15-.5-.05-.5 .07-.5-.07-.5-.01-.5 .01-.5 .02-.5 .01-.5-.06-.5-.03-.5-.15-.5 .15-.5-.13-.5-.11-.5 .05-.5 .02-.5 .03-.5-.09-.5-.06-.5-.01-.5 .06-.5-.04-.5 0-.5-.16-.5 .14-.5-.23-.5 .18-.5-.02-.5-.01-.5-.02-.5-.09-.5-.1-.5-.1-.5 .05-.5 0-.5-.03-.5-.14-.5 .17-.5-.11-.5-.04-.5-.09-.5 .09-.5-.12-.5-.04-.5-.07-.5 .16-.5-.05-.5-.16-.5-.02-.5 .09-.5 .01-.5-.09-.5 .03-.5-.18-.5-.04-.5 .02-.5 .11-.5-.07-.5-.18-.5 0-.5-.05-.5-.03-.5 .1-.5 .04-.5-.25-.5 .03-.5 .16-.5-.08-.5-.14-.5-.01-.5 .08-.5 .03-.5-.16-.5 .02-.5 .1-.5-.21-.5 .01-.5-.03-.5 .14-.5-.12-.5-.05-.5 .19-.5-.1-.5 .06-.5-.02-.5-.08-.5 .09-.5-.06-.5-.06-.5-.01-.5-.07-.5 .07-.5-.05-.5-.01-.5-.02-.5-.02-.5-.04-.5 0-.5 .16-.5-.15-.5 .14-.5-.16-.5-.06-.5 .13-.5-.03-.5 .12-.5-.05-.5-.07-.5-.08-.5 .02-.5 .21-.5-.03-.5-.05-.5-.12-.5 .02-.5 .09-.5-.03-.5 .11-.5-.08-.5 .08-.5 .01-.5-.1-.5 .05-.5 .03-.5-.01-.5 .01-.5 0-.5 .04-.5 .03-.5 .17-.5-.03-.5-.03-.5-.02-.5 .09-.5 .01-.5 .02-.5-.09-.5 .19-.5-.05-.5 .09-.5 0-.5-.09-.5 .17-.5 .02-.5-.03-.5 .2-.5 .07-.5 .06-.5-.03-.5 .11-.5 .03-.5 .12-.5-.01-.5 .02-.5 .2-.5 .08-.5-.1-.5 .12-.5 .06-.5 .18-.5-.1-.5 .21-.5 .06-.5 .01-.5 .14-.5 .15-.5 .01-.5-.03-.5 .16-.5 .03-.5 .1-.5 .26-.5 .03-.5 .07-.5 .15-.5 .1-.5 .03-.5 .17-.5-.09-.5 .2-.5 .04-.5 .1-.5 .26-.5 .11-.5-.13-.5 .28-.5-.06-.5 .09-.5 .18-.5-.05-.5 .16-.5 .15-.5-.11-.5 .14-.5 .06-.5 .22-.5-.07-.5 .07-.5 .03-.5-.01-.5 .21-.5 .15-.5-.12-.5 .09-.5 .13-.5 .12-.5 0-.5 .08-.5-.01-.5-.03-.5 .05-.5 .25-.5-.03-.5 .1-.5 .02-.5 .02-.5 .1-.5-.02-.5 .05-.5-.04-.5 .05-.5-.02-.5 .08-.5-.13-.5 .04-.5 .07-.5-.07-.5 .05-.5-.11-.5 .13-.5-.09-.5-.01-.5 .05-.5 .01-.5-.09-.5-.01-.5-.04-.5 .04-.5-.02-.5-.05-.5-.22-.5 0-.5-.05-.5 .08-.5-.04-.5 .03-.5-.08-.5-.17-.5 .04-.5-.15-.5 .07-.5-.02-.5-.13-.5 .02-.5-.12-.5 .03-.5-.05-.5-.03-.5-.14-.5-.12-.5 .01-.5 0-.5-.19-.5 .01-.5-.01-.5-.11-.5-.25-.5-.01-.5 .01-.5-.08-.5-.14-.5-.03-.5-.19-.5-.17-.5 0-.5-.14-.5 .03-.5-.22-.5-.13-.5 0-.5-.07-.5-.11-.5-.18-.5-.03-.5-.17-.5-.16-.5-.02-.5-.1-.5-.15-.5-.11-.5-.15-.5-.25-.5 .02-.5-.27-.5-.1-.5-.18-.5-.11-.5-.16-.5-.04-.5-.19-.5 0-.5-.11-.5-.2-.5-.16-.5-.15-.5 .06-.5-.29-.5 .01-.5-.14-.5-.17-.5 .05-.5-.26-.5 .06-.5-.23-.5-.15-.5-.04-.5-.09-.5-.18-.5-.07-.5-.04-.5-.03-.5-.05-.5-.04-.5 .02-.5 0-.5-.05-.5-.26-.5 .1-.5-.06-.5 .02-.5 .02-.5-.12-.5-.04-.5 .16-.5-.1-.5 .11-.5-.2-.5 0-.5-.02-.5 .05-.5 0-.5 .09-.5-.13-.5 .06-.5 0-.5 .13-.5-.16-.5-.05-.5 .05-.5 .1-.5 .07-.5-.22-.5 .19-.5-.15-.5 .06-.5-.02-.5-.03-.5 0-.5 .08-.5-.1-.5 .08-.5 .13-.5-.09-.5-.03-.5 .11-.5-.14-.5-.03-.5 .15-.5-.01-.5-.06-.5-.03-.5-.07-.5 .11-.5 .11-.5-.19-.5 .04-.5-.02-.5-.02-.5 .01-.5 .16-.5 .02-.5-.04-.5-.06-.5-.03-.5 .12-.5-.07-.5 .05-.5-.05-.5 .08-.5 .03-.5-.02-.5-.06-.5-.11-.5 .04-.5 .1-.5 .05-.5-.02-.5 .1-.5 .01-.5 .01-.5 .1-.5-.05-.5-.01-.5 .16-.5 .06-.5-.03-.5 .09-.5 .04-.5 .01-.5 .15-.5 .19-.5 .09-.5 .1-.5-.04-.5 .3-.5 .09-.5 .05-.5 .34-.5 .06-.5 .31-.5 .1-.5 .09-.5 .36-.5 .09-.5 .2-.5 .28-.5 .42-.5 .12-.5 .48-.5 .26-.5 .25-.5 .34-.5 .42-.5 .49-.5 .28-.5 .34-.5 .18-.5 .36-.5 .34-.5 .31-.5 .38-.5 .46-.5 .22-.5 .21-.5 .36-.5 .39-.5 .3-.5 .28-.5 .32-.5 .52-.5 .31-.5 .37-.5 .26-.5 .16-.5 .39-.5 .32-.5 .49-.5 .13-.5 .36-.5 .22-.5 .31-.5 .37-.5 .32-.5 .25-.5 .48-.5 .33-.5 .22-.5 .29-.5 .35-.5 .29-.5 .32-.5 .32-.5 .29-.5 .28-.5 .17-.5 .47-.5 .18-.5 .21-.5 .29-.5 .38-.5 .34-.5 .32-.5 .26-.5 .14-.5 .32-.5 .47-.5 .18-.5 .34-.5 .18-.5 .34-.5 .31-.5 .32-.5 .26-.5 .34-.5 .13-.5 .45-.5 .16-.5 .33-.5 .13-.5 .45-.5 .17-.5 .18-.5 .27-.5 .34-.5 .19-.5 .07-.5 .42-.5 .07-.5 .36-.5 .06-.5 .36-.5-.01-.5 .22-.5 .14-.5 .27-.5 .18-.5 .1-.5 .06-.5 .2-.5 .01-.5 .06-.5 .11-.5 .07-.5 .16-.5-.12-.5 .12-.5-.01-.5-.04-.5-.26-.5-.19-.5-.12-.5-.42-.5-.35-.5-.21-.5-.37-.5-.25-.5-.49-.5-.17-.5-.36-.5-.62-.5-.39-.5-.35-.5-.62-.5-.61-.5-.31-.5-.57-.5-.71-.5-.55-.5-.51-.5-.57-.5-.62-.5-.44-.5-.79-.5-.58-.5-.47-.5-.8-.5-.67-.5-.63-.5-.59-.5-.58-.5-.86-.5-.58-.5-.77-.5-.71-.5-.63-.5-.82-.5-.66-.5-.7-.5-.66-.5-.62-.5-.62-.5-.74-.5-.58-.5-.6-.5-.7-.5-.44-.5-.67-.5-.37-.5-.49-.5-.51-.5-.25-.5-.27-.5-.33-.5-.34-.5-.22-.5-.3-.5-.02-.5-.31-.5-.23-.5 .13-.5-.09-.5-.14-.5-.05-.5-.04-.5-.07-.5 .06-.5-.12-.5-.01-.5-.01-.5-.02-.5 0-.5-.06-.5 0-.5-.04-.5 .1-.5-.05-.5 .05Z" fill="#62d216" stroke="#62d216" stroke-width="0.6" stroke-linejoin="round"/>
<path d="M128.60 772.81l.5 .07 .5-.2 .5-.04 .5-.01 .5 .28 .5-.34 .5-.1 .5 .1 .5-.23 .5 .18 .5-.19 .5-.23 .5-.43 .5-.14 .5-.28 .5-.49 .5-.01 .5-.18 .5-.57 .5-.08 .5-.58 .5-.39 .5-.18 .5-.29 .5-.41 .5-.45 .5-.47 .5-.26 .5-.54 .5-.36 .5-.16 .5-.42 .5-.36 .5-.57 .5-.35 .5-.23 .5-.46 .5-.67 .5-.15 .5-.63 .5-.29 .5-.68 .5-.31 .5-.46 .5-.41 .5-.52 .5-.55 .5-.16 .5-.62 .5-.55 .5-.15 .5-.41 .5-.68 .5-.37 .5-.44 .5-.17 .5-.37 .5-.21 .5-.64 .5-.43 .5-.06 .5-.65 .5-.17 .5-.54 .5-.03 .5-.58 .5-.31 .5-.23 .5 0 .5-.41 .5-.23 .5-.42 .5 .03 .5-.25 .5-.48 .5-.1 .5-.16 .5-.4 .5-.27 .5-.18 .5-.48 .5-.2 .5-.07 .5-.28 .5-.28 .5-.13 .5-.24 .5-.25 .5-.04 .5-.51 .5 .11 .5-.25 .5-.41 .5-.06 .5-.12 .5-.27 .5-.35 .5-.12 .5-.12 .5-.15 .5-.3 .5-.15 .5-.17 .5-.2 .5-.22 .5-.34 .5-.05 .5-.5 .5-.04 .5-.37 .5-.22 .5-.03 .5-.17 .5-.06 .5-.22 .5-.17 .5-.27 .5-.19 .5-.02 .5-.12 .5-.4 .5-.19 .5-.07 .5-.11 .5 .09 .5-.21 .5-.13 .5-.07 .5-.16 .5-.41 .5-.09 .5 .09 .5-.06 .5-.33 .5 .13 .5-.44 .5-.16 .5 .25 .5-.35 .5-.2 .5 .23 .5-.35 .5 .12 .5-.04 .5-.32 .5-.1 .5 .04 .5-.27 .5 .2 .5-.06 .5-.46 .5 .24 .5-.3 .5-.01 .5-.17 .5 .18 .5-.17 .5-.05 .5-.04 .5-.2 .5 .13 .5-.4 .5 .12 .5-.07 .5-.06 .5-.03 .5-.02 .5-.22 .5 .05 .5-.15 .5 .2 .5-.1 .5-.4 .5-.04 .5 .05 .5 .11 .5 .06 .5-.08 .5-.4 .5 .03 .5 .26 .5-.25 .5 .01 .5-.09 .5-.01 .5-.22 .5 .25 .5-.21 .5 .02 .5-.12 .5-.08 .5-.02 .5 .05 .5-.14 .5 .2 .5-.2 .5 .24 .5-.04 .5 .01 .5-.16 .5-.03 .5-.11 .5-.15 .5 .29 .5-.09 .5-.14 .5 .1 .5 .11 .5-.3 .5-.04 .5 .12 .5-.09 .5 .28 .4-.04 0 2.26-.4-.21-.5-.05-.5 .22-.5-.19-.5 .11-.5 .14-.5-.24-.5-.02-.5 .07-.5-.07-.5 .22-.5 .04-.5-.17-.5 .17-.5 .1-.5-.23-.5 .2-.5-.07-.5-.18-.5 .34-.5-.19-.5 0-.5 .21-.5-.05-.5-.06-.5-.11-.5-.04-.5 .29-.5 .12-.5-.19-.5 .29-.5-.16-.5-.03-.5 .16-.5-.14-.5 .28-.5 .01-.5-.04-.5 .23-.5-.15-.5-.03-.5 .32-.5 .03-.5 .04-.5-.05-.5-.01-.5 0-.5 .06-.5 .39-.5 .03-.5 0-.5 .06-.5-.11-.5 .3-.5-.05-.5-.03-.5 .42-.5-.16-.5 .3-.5-.12-.5 .46-.5-.08-.5 .36-.5 .16-.5-.16-.5 .2-.5 .11-.5 .28-.5 .26-.5-.24-.5 .2-.5 .19-.5 .13-.5 .27-.5 .31-.5 .17-.5 .15-.5 .23-.5 .11-.5 .38-.5-.02-.5 .47-.5 .12-.5 .03-.5 .41-.5 .24-.5 .23-.5 .11-.5 .57-.5 .18-.5 .3-.5 .04-.5 .19-.5 .63-.5 .09-.5 .09-.5 .47-.5 .39-.5 .12-.5 .12-.5 .42-.5 .43-.5 .25-.5 0-.5 .17-.5 .28-.5 .48-.5 .31-.5 0-.5 .44-.5-.02-.5 .38-.5 .37-.5 .09-.5 .13-.5 .42-.5 .28-.5 .2-.5 .14-.5 .3-.5 .22-.5 .32-.5 .38-.5 .31-.5 .3-.5 .2-.5 .08-.5 .21-.5 .5-.5-.08-.5 .5-.5 .13-.5 .34-.5 .02-.5 .29-.5 .2-.5 .23-.5 .25-.5 .11-.5 .35-.5 .26-.5 .33-.5 .39-.5 .19-.5 .08-.5 .46-.5 .17-.5 .09-.5 .39-.5 .18-.5 .4-.5 .04-.5 .31-.5 .33-.5 .16-.5 .31-.5 .33-.5 .14-.5 .18-.5 .36-.5 .46-.5-.04-.5 .46-.5 .53-.5 .31-.5 .05-.5 .64-.5 .07-.5 .48-.5 .48-.5 .18-.5 .53-.5 .28-.5 .13-.5 .34-.5 .56-.5 .33-.5 .19-.5 .36-.5 .36-.5 .41-.5 .2-.5 .61-.5 .28-.5 .27-.5 .35-.5 .66-.5 .17-.5 .2-.5 .56-.5 .02-.5 .55-.5-.05-.5 .43-.5 .18-.5 .42-.5 .21-.5-.1-.5 .33-.5 .09-.5 .33-.5-.2-.5 .33-.5 .14-.5-.13-.5 .06-.5 .4-.5-.32-.5 .42-.5 .05-.5-.14-.5 .13-.5-.13-.5-.08Z" fill="#0072bd" stroke="#0072bd" stroke-width="0.5" stroke-linejoin="round"/>
<path d="M234.00 735.22l.3-.24 .3 .11 .3 .24 .3 .03 .3 .22 .3-.01 .3-.22 .3 .49 .3-.46 .3-.06 .3-.14 .3 .38 .3 .1 .3 .11 .3-.02 .3 .07 .3 .16 .3-.26 .3 .35 .3-.15 .3-.21 .3-.04 .3 .25 .3-.38 .3 .56 .3-.05 .3-.13 .3-1.25 .3 1.3 .3 .19 .3-.12 .3-.33 .3 .6 .3-.35 .3 .28 .3-.06 .3 .12 .3-.46 .3-.18 .3 .67 .3-.14 .3-.26 .3 .01 .3 .17 .3 .36 .3-.58 .3 .62 .3 .13 .3-.17 .3-.45 .3 .35 .3-.04 .3 .22 .3 .11 .3-.24 .3 .11 .3-.34 .3-.08 .3 .63 .3-.64 .3 .08 .3 .31 .3-.39 .3 .03 .3 .46 .3-.13 .3-.27 .3 .37 .3 .16 .3-.21 .3-.46 .3 .26 .3 .48 .3-.48 .3 .66 .3-.03 .3-.52 .3 .03 .3 .67 .3-.17 .3 .03 .3-.13 .3-.15 .3-.15 .3-.12 .3 .43 .3 .07 .3-.01 .3-.32 .3 .32 .3 .19 .3-.43 .3-.24 .3 .71 .3-.27 .3-.02 .3-.44 .3 .44 .3-.06 .3-.12 .3 .22 .3 .18 .3 .01 .3-.59 .3-.07 .3-.26 .3 .72 .3-.48 .3 .05 .3 .03 .3 .19 .3 .31 .3 .44 .3-.79 .3 .03 .3 0 .3 .09 .3-.33 .3 .17 .3 .1 .3-.37 .3-.01 .3-.24 .3 .06 .3 .27 .3 .18 .3-.38 .3 .06 .3 .06 .3-.19 .3 .2 .3-.52 .3-.03 .3 .61 .3-.29 .3-.55 .3 .37 .3 .23 .3-.03 .3 .03 .3-.44 .3-.32 .3 .36 .3 .25 .3-.73 .3 .08 .3-.01 .3-.02 .3 .38 .3-.47 .3-.28 .3 .53 .3-.24 .3 .2 .3-.17 .3 .2 .3-1.13 .3 1.4 .3-.43 .3-.67 .3 .11 .3 .42 .3-.05 .3-.19 .3-.15 .3 .05 .3-.02 .3-.26 .3-.18 .3-.03 .3-.23 .3-.02 .3 .25 .3-1.57 .3 1.52 .3-.54 .3 .16 .3-.38 .3 .42 .3-.12 .3-.52 .3 .99 .3-.89 .3-.01 .3-.52 .3 .52 .3-.15 .3-.14 .3-.29 .3 .14 .3-.12 .3-.57 .3 .27 .3 .35 .3-.59 .3 .07 .3-.2 .3 .18 .3-.3 .3 .34 .3-.7 .3 .04 .3 .46 .3-.33 .3-.02 .3-.31 .3 .12 .3-.6 .3 .5 .3 .09 .3-.48 .3 .11 .3-.38 .3 .25 .3-.46 .3 .01 .3 .24 .3-.3 .3-.07 .3-.46 .3 .14 .3 .75 .3-.81 .3-.28 .3 .52 .3-.17 .3-.09 .3-.16 .3 .07 .3-.52 .3-.12 .3 .42 .3-.18 .3-.25 .3-.03 .3-.05 .3 .17 .3-.41 .3-.33 .3-.13 .3 .49 .3-.65 .3 .2 .3-.07 .3-.46 .3 .22 .3-.2 .3-.06 .3 .26 .3-.42 .3 .39 .3-.16 .3-.05 .3-.54 .3-.47 .3 .32 .3 .03 .3-.17 .3 .01 .3 .11 .3-.1 .3 .59 .3-.54 .3-.43 .3 .34 .3-.47 .3 .35 .3-.5 .3-.16 .3-.09 .3-.18 .3 .54 .3-.57 .3 .45 .3-.06 .3 0 .3-.58 .3-.32 .3 .53 .3-.06 .3 .04 .3-.38 .3 .2 .3-.49 .3-.28 .3 .08 .3 .45 .3-.16 .3-.55 .3 .09 .3 .04 .3 .3 .3-.12 .3-.56 .3-.04 .3 .46 .3-.18 .3-.06 .3-.35 .3 .35 .3-.64 .3-.18 .3 .66 .3-.71 .3-.14 .3 .58 .3-.33 .3 .31 .3-.43 .3 .08 .3-.34 .3 .14 .3-.27 .3-.19 .3 .26 .3-.07 .3 .08 .3-.48 .3 .09 .3-.19 .3-.13 .3 .15 .3-.17 .3 .01 .3 .25 .3-.08 .3-.25 .3-.26 .3 .68 .3-.01 .3-.56 .3 .16 .3-.42 .3 .35 .3-.41 .3 .22 .3 .28 .3-.19 .3-.43 .3 .42 .3-.51 .3 .27 .3-.4 .3 .45 .3-.63 .3 .01 .3 .96 .3-1.18 .3 .51 .3-.37 .3 .36 .3-.49 .3 .24 .3-.14 .3 .19 .3-.46 .3-.25 .3 .66 .3-.55 .3 .42 .3-.29 .3-.21 .3-.08 .3 .36 .3-.53 .3 .37 .3-.2 .3 .01 .3 .21 .3-1.7 .3 1.49 .3-.1 .3-.31 .3-.23 .3 .68 .3-.28 .3 .29 .3-.37 .3-.73 .3 .71 .3 .23 .3-.64 .3 .59 .3-.54 .3 .08 .3 .03 .3-.37 .3 .07 .3 .04 .3-.05 .3-.25 .3 .55 .3 .08 .3-.06 .3-.68 .3 .45 .3-.14 .3-.31 .3 .6 .3-.25 .3 .13 .3-.58 .3 .23 .3 .15 .3-.2 .3 1.15 .3-.78 .3-.15 .3-.35 .3 0 .3 .1 .3-.35 .3 .36 .3 .09 .3-.56 .3 .53 .3-.13 .3 .05 .3-.73 .3 .68 .3-.41 .3 .15 .3 .34 .3-.16 .3-.28 .3 .4 .3-.66 .3-.01 .3 .52 .3-.38 .3 .3 .3-.6 .3-.7 .3 1.01 .3-1.02 .3 1.13 .3-.99 .3 1.12 .3-.74 .3 .32 .3 .16 .3-.5 .3 .64 .3-.17 .3-.25 .3 .13 .3-.31 .3 .15 .3-.27 .3-.12 .3 .09 .3 .43 .3-.37 .3 .26 .3 .14 .3-.62 .3 .43 .3-.25 .3 .14 .3 .2 .3-.13 .3 0 .3-.55 .3 .5 .3 .1 .3-.05 .3-.14 .3 0 .3-.24 .3 .28 .3-.18 .3-.55 .3 .19 .3-.22 .3 .62 .3-1.3 .3 .91 .3 .14 .3-.26 .3 .38 .3-.49 .3 .01 .3-.14 .3 .47 .3 .25 .3-.4 .3 .14 .3-.44 .3-.35 .3 .57 .3 .14 .3-.63 .3 .33 .3-.04 .3-.49 .3 .38 .3 .07 .3 .1 .3-.26 .3-.45 .3 .4 .3 .31 .3 .59 .3-.58 .3-.83 .3 .63 .3-.4 .3 .55 .3-.19 .3-.47 .3 .44 .3-.47 .3-.13 .3 .59 .3-.78 .3 .32 .3-.11 .3 .46 .3-.34 .3-.1 .3-.18 .3 0 .3-.04 .3 .15 .3-.36 .3 .58 .3 .04 .3-.44 .3 .2 .3 .22 .3-.16 .3-.27 .3-.36 .3 .24 .3 .24 .3-.55 .3-.75 .3 1.04 .3 .15 .3-.57 .3 .36 .3-.39 .3 .48 .3-.04 .3-.42 .3 .39 .3-.22 .3 .29 .3-.04 .3-.04 .3-.12 .3 .19 .3-.34 .3 .02 .3-.52 .3 .33 .3 .15 .3 .05 .3-.59 .3 .63 .3-.57 .3-.12 .3-.16 .3 .2 .3 .39 .3-.29 .3-.42 .3 .27 .3 .03 .3 .19 .3-.13 .3-.36 .3 1.18 .3-1.33 .3-.08 .3 .46 .3-.06 .3 .12 .3-.22 .3 .75 .3-1.04 .3 .24 .3-1.15 .3 1.1 .3-.61 .3 .42 .3-.06 .3-.39 .3 .22 .3-.19 .3 .41 .3-.33 .3 .05 .3-.37 .3 .4 .3-.35 .3 .45 .3-.06 .3-.59 .3 .03 .3-.13 .3 .59 .3-.21 .3-.56 .3 .43 .3 .08 .3-.62 .3 .12 .3-.04 .3-.09 .3 .68 .3-.37 .3-.42 .3 .41 .3-.23 .3-.29 .3-.41 .3 .95 .3-.04 .3 .03 .3-.36 .3-.38 .3-.02 .3 .46 .3-.21 .3 .25 .3-.07 .3-.2 .3 .09 .3-.3 .3 .3 .3-.38 .3 .04 .3 .28 .3-.19 .3-.8 .3 .22 .3-.05 .3 .56 .3-.75 .3 .46 .3 0 .3-.3 .3-.13 .3 .26 .3 .26 .3-.4 .3 .67 .3-.82 .3-.19 .3 .28 .3 .05 .3-.2 .3 .23 .3 .06 .3-.72 .3 .07 .3 .31 .3-.16 .3-.42 .3 .19 .3-.05 .3 .45 .3-.71 .3 .57 .3 .01 .3-.52 .3 .67 .3-.56 .3 .25 .3-.58 .3 .18 .3-.11 .3 .32 .3 .01 .3-.66 .3 .3 .3-.08 .3-.38 .3 .24 .3-.3 .3 .04 .3 .11 .3-.32 .3 .1 .3 .02 .3-.3 .3-.12 .3 .78 .3-.26 .3 .03 .3-.52 .3 .21 .3-.39 .3 .11 .3-.17 .3 .54 .3 .01 .3-.61 .3-.38 .3 .27 .3 .6 .3-.57 .3 .08 .3 .32 .3-.74 .3 .42 .3-.09 .3-.33 .3 .32 .3 .15 .3-.61 .3-.04 .3 .29 .3 .09 .3 .02 .3 .08 .3-.13 .3-.32 .3-.05 .3 0 .3-.16 .3 .29 .3-.6 .3 .46 .3-.53 .3 .06 .3 .13 .3 .3 .3-.01 .3-.15 .3-.06 .3-.14 .3-.45 .3 .33 .3 .15 .3-.24 .3-.15 .3-.15 .3 .02 .3-.07 .3 .49 .3-.15 .3-.47 .3 .07 .3 .12 .3-.47 .3 .28 .3-.08 .3 .13 .3-.09 .3-.59 .3 .17 .3-.26 .3 .51 .3-.07 .3-.1 .3 .15 .3 .01 .3-.5 .3 .38 .3-.31 .3 .29 .3-.74 .3 .03 .3 .38 .3-.45 .3 .36 .3-.46 .3 .54 .3-.3 .3-.44 .3-.27 .3 1.05 .3-.35 .3-.39 .3 .3 .3-.07 .3-.86 .3 .56 .3-.25 .3 .04 .3 .44 .3-.31 .3 .03 .3-.24 .3 .37 .3-.74 .3 .8 .3-.24 .3-.46 .3 .34 .3-.4 .3-.01 .3 .21 .3-.06 .3 .15 .3-.14 .3-.57 .3 .1 .3-.17 .3 .53 .3-.1 .3 .21 .3-.36 .3 .02 .3 .02 .3-.42 .3 .4 .3-.1 .3-.25 .3 .06 .3-.46 .3 .26 .3-.02 .3 .24 .3-.03 .3 .03 .3-.15 .3-.98 .3 .88 .3-.18 .3 .81 .3-.99 .3-.01 .3-.15 .3-.18 .3-.07 .3 .16 .3-.22 .3 .52 .3-.51 .3 .06 .3 .3 .3 .1 .3-.12 .3-.14 .3-.86 .3 .54 .3 .48 .3-.47 .3 .16 .3-.17 .3-.1 .3-.21 .3 .58 .3-.3 .3 .08 .3-.22 .3-.21 .3 .13 .3 .02 .3-.24 .3-.29 .3 .62 .3-.47 .3 .46 .3-.09 .3 0 .3-.72 .3 .38 .3 .12 .3-.55 .3 .37 .3 .15 .3-.08 .3 .12 .3-.16 .3-.59 .3 .29 .3-.14 .3 .18 .3 .02 .3-.06 .3 .18 .3-.39 .3 .21 .3-.21 .3-.01 .3-.47 .3 .45 .3 .03 .3-.45 .3 .24 .3-.07 .3-.43 .3 .19 .3 .27 .3-.51 .3 .22 .3 .12 .3-.04 .3-.36 .3 .11 .3 .2 .3-.11 .3 .1 .3-.15 .3 .07 .3-.38 .3 .25 .3 .04 .3-.3 .3-.28 .3 .52 .3-.17 .3-.09 .3-.29 .3 .3 .3-.39 .3 .5 .3-.65 .3 .6 .3-.74 .3 .66 .3-.57 .3-.11 .3 .05 .3 .43 .3-.05 .3-.54 .3 .2 .3-.16 .3 .37 .3 .27 .3-.18 .3-.22 .3-.12 .3 .27 .3-.62 .3-.13 .3 .18 .3 1.06 .3-1.63 .3 .87 .3-.48 .3 .39 .3 .03 .3 .02 .3-.65 .3 .41 .3 .01 .3-.22 .3-.16 .3 .46 .3-.78 .3 .45 .3-.38 .3 .14 .3-.06 .3-.04 .3-.11 .3 .35 .3-.16 .3 .22 .3-.14 .3-.26 .3 .06 .3 .17 .3-.58 .3-.13 .3 .38 .3-.07 .3 .07 .3-.07 .3-.28 .3 .53 .3-.01 .3-.59 .3 .08 .3 .41 .3-.31 .3-.03 .3 .21 .3-.58 .3-.06 .3 .38 .3-.23 .3-.16 .3-.46 .3 .38 .3 .53 .3-.44 .3-.25 .3 .11 .3-.14 .3 .59 .3-.57 .3 .05 .3 0 .3-.34 .3 .44 .3-.25 .3 .39 .3-.71 .3 .23 .3-.12 .3 .18 .3 .34 .3-.23 .3 .65 .3-.6 .3-.5 .3 .49 .3-.27 .3-.23 .3 .29 .3-.17 .3-.13 .3 .25 .3 .48 .3-.91 .3-.09 .3 .27 .3-.02 .3-.35 .3 .07 .3 .01 .3-.12 .3-.26 .3-.01 .3 .19 .3-.2 .3 .35 .3 .23 .3-.33 .3 .02 .3-.17 .3 .24 .3-.11 .3-.49 .3 .2 .3 .11 .3-.05 .3-.4 .3 .18 .3 .3 .3-.26 .3 .26 .3-.45 .3 .3 .3-.54 .3 .55 .3-.2 .3-.01 .3-.03 .3-.06 .3-.35 .3 .57 .3-.61 .3 .16 .3 .4 .3-1.37 .3 .96 .3 .11 .3-.48 .3 .41 .3-.09 .3 .25 .3-.06 .3-.65 .3-.23 .3 .17 .3 .5 .3-1.11 .3 1.12 .3-.38 .3-.36 .3 .66 .3-.49 .3 .27 .3 .11 .3-.45 .3-.39 .3 .32 .3 .37 .3 .09 .3-.65 .3-.34 .3 .87 .3-.49 .3-.24 .3 .35 .3 .06 .3-.35 .3-.27 .3 .44 .3-.36 .3 .13 .3 .26 .3-.51 .3 .27 .3-.28 .3 .33 .3-.2 .3 .13 .3-.33 .3 .29 .3-.46 .3 .35 .3-.48 .3 .49 .3 .1 .3-.24 .3-.73 .3 .95 .3-.18 .3 .1 .3-.24 .3 .17 .3 .04 .3-.51 .3 .43 .3-.07 .3-.53 .3-.1 .3 .23 .3 .25 .3-.66 .3 .49 .3-.25 .3 .28 .3-.15 .3-.04 .3-.32 .3 .26 .3-.49 .3 .31 .3 .32 .3-.47 .3 .03 .3 .35 .3-.18 .3-.22 .3-.34 .3 .1 .3 .27 .3-.12 .3-.3 .3 .82 .3-.71 .3 .34 .3-.64 .3-.07 .3 .53 .3-.53 .3 .56 .3 .04 .3-.22 .3 .16 .3-.24 .3 .19 .3-.02 .3-.73 .3-.01 .3-.06 .3-.06 .3 .76 .3-.12 .3-.59 .3 .63 .3-.12 .3-.62 .3 .06 .3-.14 .3 .51 .3 .06 .3-.56 .3 .55 .3-.46 .3 .25 .3 .18 .3-.58 .3 .44 .3-.51 .3 .43 .3-1.07 .3 .57 .3-.16 .3 .21 .3 .07 .3-.15 .3 .31 .3-.1 .3-.48 .3 .35 .3-.48 .3 .62 .3-.57 .3-.03 .3 .01 .3 .01 .3 .42 .3-.47 .3-.6 .3 .98 .3-.31 .3 .17 .3-.07 .3-.51 .3 .48 .3-.57 .3 .47 .3 .85 .3-.93 .3-.08 .3 .14 .3 .88 .3-1.29 .3 .3 .3-.05 .3-.23 .3 .31 .3 .06 .3-.46 .3 .37 .3-.46 .3 .24 .3-.58 .3 .83 .3-.78 .3 .53 .3-.69 .3 .41 .3-.51 .3 .37 .3-.07 .3 .38 .3-.06 .3-.24 .3-.08 .3 .21 .3-.66 .3 .26 .3-.34 .3 .61 .3-.34 .3 .12 .3-.43 .3 .14 .3 .14 .3 .16 .3-.59 .3 .64 .3-.58 .3 .11 .3-.27 .3 .07 .3-.15 .3 1.52 .3-1.44 .3 .17 .3-.29 .3-.52 .3 1.02 .3-.49 .3-.11 .3-.02 .3 .54 .3-.28 .3 .08 .3-.86 .3 .53 .3-.19 .3 .43 .3-.64 .3 .38 .3-.42 .3 .15 .3 .05 .3 .24 .3 .05 .3-.16 .3-.04 .3 .02 .3-.16 .3 0 .3 .13 .3-.3 .3-.29 .3 .52 .3-.12 .3-.12 .3-.43 .3 .57 .3-1.15 .3 1.21 .3-1.52 .3 1.35 .3-.41 .3 .71 .3-.82 .3 1.09 .3-1.11 .3 .15 .3-.05 .3 .11 .3-.29 .3 .31 .3-.58 .3 .37 .3-.31 .3-.03 .3 .35 .3-.36 .3 .02 .3 .1 .3-.23 .3 .12 .3 .21 .3-.44 .3 .06 .3 1.39 .3-1.07 .3-.41 .3 .31 .3-.06 .3-.05 .3 .08 .3-.89 .3 .35 .3 .59 .3-.45 .3 .5 .3-.37 .3-.54 .3 .01 .3-.57 .3 .84 .3-1.02 .3 1.34 .3-.65 .3 .31 .3-.97 .3 .77 .3 .37 .3-.55 .3-.22 .3 .28 .3 .14 .3-.32 .3-.22 .3 .24 .3 .11 .3-.3 .3-.11 .3-.01 .3 .43 .3-.29 .3-.18 .3-.01 .3-.08 .3 .04 .3 .27 .3 .23 .3-.37 .3-.38 .3 .51 .3-.15 .3-.37 .3-.09 .3-.09 .3 .75 .3-.02 .3-.34 .3-.41 .3 .63 .3-.5 .3 .18 .3-.21 .3 .28 .3-.54 .3 .4 .3-.02 .3 .18 .3 .26 .3-.76 .3-.22 .3 .55 .3-.4 .3 .09 .3-.41 .3 .67 .3-.56 .3 .39 .3-.11 .3-.58 .3 .63 .3-.68 .3 .29 .3-.15 .3 .14 .3-.6 .3 .91 .3 .02 .3-.05 .3-.66 .3 .31 .3 .06 .3-.45 .3 .4 .3-.59 .3 .41 .3-.21 .3 .06 .3-.88 .3 .8 .3 .35 .3 0 .3-.97 .3 .37 .3 .53 .3-.71 .3-.01 .3 .19 .3 .08 .3-.18 .3-.11 .3-.06 .3-.34 .3 .22 .3 .39 .3-.19 .3 .35 .3-.25 .3-.46 .3-.13 .3 .59 .3 .13 .3-.68 .3 .22 .3-.32 .3 .4 .3 .05 .3-.01 .3-.01 .3-.65 .3 .17 .3-.17 .3 .24 .3-.25 .3-.36 .3 .29 .3-.11 .3-.31 .3 .74 .3 .14 .3-.33 .3 .26 .3 .05 .3-.22 .3-.03 .3-.25 .3-.33 .3 .51 .3 .12 .3-.31 .3-.3 .3 .39 .3-.22 .3-.35 .3 1.05 .3-.06 .3-.6 .3 .53 .3-.8 .3 .18 .3-.37 .3 .3 .3-.52 .3-.01 .3 .43 .3 .15 .3-.75 .3 .68 .3-.72 .3 1.54 .3-1.25 .3-.14 .3 .02 .3 .13 .3-.5 .3 .64 .3-.45 .3-.06 .3 .06 .2 .04 .3-.44 .3 .18 .3 .33 .3-.37 .3 .5 .3-.12 .3-.52 .3 .04 .3 .21 .3-.12 .3 .23 .3-.16 .3-.13 .3-.6 .3 .73 .3-.26 .3 .39 .3-.24 .3 .24 .3-.11 .3 .05 .3 .1 .3-.5 .3 .08 .3-.19 .3 .42 .3-.13 .3-.19 .3 .28 .3 .25 .3-.18 .3 .06 .3-.42 .3 .18 .3 .01 .3 .04 .3 .38 .3-.28 .3-.13 .3 .39 .3-.04 .3-.47 .3 .04 .3-.16 .3 .37 .3 .19 .3-.53 .3 .53 .3-.05 .3-.41 .3-1.17 .3 1.41 .3 .32 .3-.03 .3-.1 .3-.22 .3 .24 .3 .02 .3-.56 .3 .31 .3 .34 .3-.06 .3 .07 .3-.39 .3 .37 .3-.47 .3 .37 .3-.59 .3 .41 .3 .07 .3 .19 .3-.67 .3 .13 .3 .33 .3-.37 .3 .26 .3 .02 .3-.22 .3 .1 .3 .34 .3-.38 .3-.22 .3 .63 .3-.43 .3 .37 .3-.16 .3-.37 .3 .02 .3-.3 .3 .45 .3 .49 .3-.21 .3-.54 .3 .97 .3-.37 .3-.13 .3-.28 .3 .08 .3-.79 .3 .77 .3-.14 .3 .32 .3 .11 .3 .35 .3-.71 .3 .34 .3-.31 .3-.07 .3-.12 .3 .41 .3-.39 .3 .66 .3-.56 .3 .21 .3-.2 .3 .3 .3 .14 .3-.1 .3-.29 .3 .07 .3 .3 .3-.03 .3-.42 .3-.06 .3 .15 .3 .28 .3-.13 .3 .38 .3-.34 .3-.06 .3-.14 .3 .01 .3 .32 .3-.3 .3-.15 .3 .48 .3-.34 .3-.23 .3 .74 .3-.1 .3 .15 .3-.25 .3-.28 .3 .39 .3 0 .3-.35 .3 .14 .3-.18 .3 .25 .3-.06 .3-.35 .3-.09 .3 .37 .3 0 .3 .08 .3-.17 .3 .24 .3-.03 .3-.13 .3 .01 .3 0 .3 1.02 .3-1.23 .3 .57 .3-.08 .3-.03 .3-.52 .3 .12 .3-.11 .3 .25 .3-.15 .3 .11 .3 .1 .3 0 .3 .26 .3-.38 .3-.12 .3 .21 .3-.04 .3 .1 .3 .07 .3-.53 .3 .7 .3-.25 .3 .26 .3-.71 .3 .5 .3 .18 .3-.6 .3 .65 .3-.1 .3-1.06 .3 .47 .3 .2 .3 .26 .3 .17 .3-.57 .3 .28 .3 .32 .3-.41 .3 .13 .3-.33 .3 .28 .3 .08 .3 .25 .3-.35 .3-.94 .3 .77 .3 .44 .3 .1 .3-.93 .3 .77 .3-.53 .3 .5 .3-.16 .3 .06 .3-.24 .3-.19 .3 .58 .3-.21 .3 .12 .3 .06 .3-.4 .3 .3 .3 .29 .3-.41 .3 .1 .3-.18 .3 .2 .3 .25 .3-.45 .3 .1 .3-.05 .3 .38 .3-.03 .3-.44 .3 .26 .3-.23 .3-.13 .3 .16 .3-.05 .3 .47 .3 .03 .3 .3 .3-1.01 .3 .45 .3-.4 .3 .33 .3-.21 .3 .06 .3 .32 .3-.08 .3 .26 .3-.15 .3-1.08 .3 .7 .3 .2 .3 .17 .3-.54 .3 .72 .3-.02 .3-.39 .3 .05 .3-.4 .3 0 .3 .18 .3 .33 .3-.42 .3 .68 .3 .12 .3-.38 .3-.32 .3 .59 .3-.59 .3 .19 .3 .37 .3-.49 .3 .01 .3 .5 .3-.21 .3-.33 .3-.13 .3-.04 .3 .11 .3 .18 .3 .22 .3-.48 .3 1.07 .3-.38 .3-.79 .3 .72 .3-.33 .3 .18 .3-.4 .3 .31 .3-.17 .3-.83 .3 1.03 .3-.24 .3-.16 .3 .32 .3-.02 .3-.32 .3-.05 .3 .68 .3-.64 .3-.74 .3 1.09 .3 .02 .3 .31 .3-.24 .3-.35 .3-.32 .3 .47 .3-.26 .3 .73 .3-.1 .3-.02 .3-.65 .3 1.28 .3-1.17 .3 .03 .3 .61 .3-.49 .3 .26 .3-.33 .3 0 .3 .13 .3 .41 .3-.39 .3 .14 .3-.5 .3 0 .3 .63 .3-.56 .3 .68 .3-.04 .3-.07 .3 .1 .3-1.1 .3 .62 .3-.23 .3 .57 .3-.59 .3 .76 .3-.54 .3 .09 .3-.63 .3 .94 .3 .13 .3 .62 .3-.87 .3-.12 .3 .29 .3-.26 .3 .29 .3-.22 .3 .19 .3-.02 .3-.34 .3-.21 .3 .26 .3-.52 .3 .51 .3 .02 .3 .34 .3-.23 .3-.09 .3-.04 .3 .37 .3-.72 .3 1.41 .3-1.03 .3 .89 .3-1.07 .3 .17 .3-.31 .3 .62 .3-.17 .3 .25 .3-.45 .3-.09 .3-.11 .3 .65 .3-.2 .3-.26 .3 .41 .3-.5 .3-.04 .3-.02 .3 .3 .3 .27 .3-.45 .3-.15 .3 .6 .3-.03 .3-.41 .3-.62 .3 .51 .3 .15 .3 .1 .3-.02 .3 .32 .3-.52 .3 .54 .3 .42 .3-.38 .3-.03 .3-.04 .3-.63 .3 .69 .3-.09 .3-.48 .3 .52 .3-.4 .3 .29 .3-.4 .3-.07 .3 .03 .3 .33 .3-.25 .3 .54 .3-.58 .3 .29 .3-.18 .3 .41 .3-.59 .3 .04 .3-.01 .3 .3 .3-1.06 .3 1.13 .3-.01 .3-.4 .3 .15 .3 .5 .3-.59 .3-.08 .3 .55 .3 .05 .3-.4 .3 .23 .3 .15 .3-.64 .3 1.08 .3-.91 .3 .52 .3-.31 .3-.5 .3 .47 .3-.02 .3-.03 .3-.62 .3 .75 .3 .1 .3-.36 .3 .14 .3-.12 .3 0 .3-.12 .3 .49 .3-.51 .3 .54 .3-.45 .3 .21 .3-.33 .3 .16 .3 .41 .3-.37 .3 .33 .3 .02 .3 .14 .3-.49 .3 .49 .3-.36 .3-.21 .3-.08 .3-.04 .3 .4 .3 .26 .3-.23 .3-.8 .3 .85 .3 .18 .3-.1 .3-.15 .3-.4 .3 .64 .3-.17 .3-.53 .3 .68 .3-.17 .3-.09 .3-.22 .3-.06 .3 .14 .3 .19 .3-.38 .3 .21 .3-.18 .3-.03 .3 .19 .3-.29 .3 .28 .3 .33 .3-.56 .3 .02 .3 .22 .3 .48 .3-.23 .3-.12 .3-1.14 .3 .72 .3 .75 .3-.3 .3 .65 .3-.19 .3-.76 .3 .04 .3-.22 .3 .63 .3-.07 .3 .22 .3-1.31 .3 .92 .3 .16 .3-.3 .3 .36 .3-.2 .3 .06 .3-.43 .3 .7 .3 .02 .3-.47 .3 .02 .3 .43 .3-.27 .3 .01 .3 .21 .3-.14 .3-.07 .3 .24 .3 0 .3 .02 .3 .02 .3-.2 .3-.38 .3 .5 .3-.65 .3 .76 .3-.78 .3 .24 .3-.14 .3 .05 .3 .46 .3-.23 .3-.3 .3 .51 .3-.46 .3-.12 .3 .11 .3 .34 .3 1 .3-1.15 .3-.24 .3 .09 .3-.06 .3 .42 .3-.03 .3-.29 .3-.17 .3 .52 .3-.26 .3 .27 .3-.33 .3 .43 .3 .09 .3-.16 .3 .14 .3-.62 .3 .3 .3 .06 .3 .22 .3-.5 .3 .44 .3-.41 .3 .23 .3 .34 .3-.75 .3-.28 .3 .74 .3-.48 .3 .25 .3 .46 .3-.05 .3-.57 .3 .66 .3-.01 .3-.08 .3-.19 .3 0 .3-.1 .3-.38 .3 .44 .3-.1 .3 .28 .3-.22 .3-.37 .3 .7 .3-.61 .3 .38 .3-.58 .3 .5 .3-.22 .3 .23 .3 0 .3 .3 .3-.23 .3-.06 .3-.44 .3 1.47 .3-.89 .3-.42 .3 .61 .3-.58 .3 .51 .3-.61 .3 .02 .3 .59 .3-.33 .3 .31 .3-.18 .3 .08 .3 .02 .3 .11 .3 .01 .3-.47 .3 .09 .3 .32 .3-.38 .3 .32 .3 .16 .3-.32 .3 .11 .3-.25 .3 .34 .3-.07 .3-.52 .3 .27 .3 0 .3 .35 .3-.4 .3-.2 .3 .65 .3-.51 .3 .37 .3-.13 .3-.11 .3-.11 .3 .32 .3 .07 .3-.31 .3 .11 .3-.35 .3-.6 .3 .67 .3 .15 .3 .45 .3-.62 .3 .38 .3-.3 .3 .13 .3 .26 .3 .02 .3 0 .3 .15 .3-.2 .3-.42 .3 .61 .3-.54 .3 .11 .3 .41 .3-.38 .3 .11 .3-.83 .3 .64 .3 0 .3 .1 .3-.11 .3 .03 .3 .1 .3-.25 .3 .63 .3-.63 .3 .62 .3-.16 .3-.33 .3-.15 .3 .42 .3 .12 .3 .09 .3-.43 .3-.05 .3-.21 .3 .11 .3 .39 .3-.11 .3 .2 .3 .13 .3-.39 .3-.4 .3 .33 .3 .03 .3 .32 .3-.29 .3-.23 .3 .88 .3-.91 .3-.11 .3 .26 .3 .32 .3-.33 .3 .38 .3-.36 .3 .44 .3-.07 .3 .13 .3-.33 .3-.09 .3-.2 .3-.12 .3 .65 .3-.24 .3-.06 .3-.02 .3-.22 .3 .43 .3-.31 .3-.19 .3 1.33 .3-1.12 .3-.22 .3 .2 .3-.24 .3 .67 .3-.18 .3 .11 .3-.36 .3-.09 .3 .4 .3-.16 .3 .35 .3-.69 .3 .15 .3 .26 .3-.07 .3 .39 .3-.19 .3-.53 .3 1.46 .3-1.32 .3-.03 .3-.16 .3 .29 .3-.07 .3-.03 .3 .4 .3-.28 .3-.13 .3 .04 .3-.22 .3 .2 .3-.12 .3 .06 .3-.06 .3 .14 .3-.23 .3 .3 .3 .36 .3-.12 .3-.07 .3 .16 .3-.05 .3 0 .3-.51 .3 .35 .3 .02 .3 .24 .3-.62 .3 .68 .3-.03 .3-.32 .3 .21 .3-.06 .3-.19 .3-.34 .3 .4 .3-.22 .3 .16 .3 .48 .3-.49 .3 .36 .3-.08 .3-.09 .3-.54 .3 .46 .3-.38 .3 .57 .3 0 .3-.03 .3-.35 .3-.18 .3 .6 .3-.63 .3 .5 .3-.41 .3-.11 .3 .47 .3 0 .3 .88 .3-.8 .3 .06 .3-.13 .3-.31 .3 .46 .3-.22 .3-.41 .3 .18 .3-.23 .3 .27 .3 .47 .3-.53 .3 .39 .3 .73 .3-1.24 .3 .26 .3 .11 .3 1.11 .3-1.18 .3 .17 .3 .03 .3 .14 .3-.48 .3 .43 .3-.47 .3-.06 .3 .21 .3 .28 .3-.2 .3-.01 .3-.4 .3 .01 .3 .73 .3-.18 .3-.25 .3 .15 .3 .25 .3-.18 .3-.5 .3 .53 .3-.06 .3-.1 .3-.03 .3-.12 .3-.26 .3 .6 .3 .08 .3-.3 .3 .01 .3 .32 .3-.48 .3 .21 .3-.29 .3 .22 .3 .05 .3-.5 .3 .7 .3-.64 .3 .75 .3-.5 .3 .11 .3-.04 .3-.29 .3 .3 .3-.2 .3-.05 .3 .25 .3-.14 .3 .46 .3-.09 .3-.19 .3-.17 .3 .26 .3-.06 .3-.23 .3 .01 .3 .01 .3 .47 .3 .15 .3-.43 .3 .29 .3-.15 .3 .2 .3-.55 .3 1.09 .3-.57 .3-.57 .3 .19 .3 .35 .3-.4 .3-.6 .3 .65 .3 .02 .3-.25 .3 .16 .3 .25 .3 .22 .3-1.28 .3 .61 .3 .13 .3-.03 .3 .09 .3 .44 .3-.04 .3-.3 .3 .43 .3-.17 .3 .06 .3 .12 .3-.02 .3-.62 .3 .39 .3 .19 .3-.25 .3 .08 .3-.01 .3-.39 .3 .45 .3-.2 .3-.38 .3 .52 .3 .13 .3-.27 .3-.14 .3-.24 .3 .25 .3-.12 .3-.12 .3 .27 .3 .17 .3 .02 .3-.14 .3-.21 .3-.07 .3 .64 .3-.25 .3-1.36 .3 1.45 .3-.2 .3 .26 .3-.06 .3 .02 .3-.25 .3-.05 .3-.18 .3-.02 .3 .47 .3 .21 .3-.17 .3-.26 .3 .11 .3-.4 .3 .62 .3-.64 .3 .16 .3 .61 .3-.39 .3-.1 .3 .37 .3-.12 .3-.26 .3 .22 .3-.16 .3 .22 .3-.52 .3 .5 .3-.45 .3 .05 .3 .03 .3 .39 .3 .16 .3-.35 .3 .19 .3-.1 .3-.1 .3 .37 .3-.13 .3-.24 .3 .18 .3-.48 .3 .49 .3-.36 .3 .05 .3 .11 .3-.26 .3 .24 .3-.29 .3 .57 .3 .28 .3-.62 .3-.19 .3 .44 .3-.22 .3-.24 .3 .67 .3-1.07 .3 .36 .3 .21 .3 .29 .3 .21 .3 .35 .3-.75 .3-.06 .3-.26 .3 .4 .3 .24 .3-.07 .3 .02 .3-.41 .3 .91 .3-.54 .3-.14 .3-.06 .3 .38 .3-.51 .3-.16 .3 .29 .3-.37 .3 .03 .3 .31 .3 .21 .3-.07 .3-.28 .3 .13 .3-.12 .3-.15 .3 .28 .3 .12 .3 .43 .3-.51 .3 .21 .3-.54 .3-.03 .3 .33 .3-.01 .3 .37 .3-.08 .3-.42 .3 .45 .3-.29 .3 .15 .3-.36 .3 .08 .3 .46 .3-.57 .3-.1 .3 .03 .3 .42 .3-.12 .3 .14 .3-.49 .3 .08 .3 .06 .3 .63 .3-.16 .3-.09 .3 .27 .3-.25 .3-.47 .3 .19 .3 .3 .3 .09 .3-.08 .3 .1 .3-.7 .3 .16 .3 .3 .3 .14 .3-.25 .3-.26 .3 .08 .3 .59 .3-.13 .3-.36 .3-.19 .3 .43 .3 .05 .3-.47 .3 .72 .3-.59 .3 .32 .3-.24 .3-.23 .3 .1 .3 .32 .3 .2 .3 .06 .3-.34 .3-.11 .3-.1 .3-.17 .3 .68 .3-.58 .3 .19 .3-.34 .3 .61 .3 .98 .3-1.31 .3 .01 .3 .09 .3 .31 .3-.02 .3 .12 .3-.58 .3 .34 .3-.06 .3-.42 .3 .34 .3 .11 .3-.42 .3 .51 .3-.31 .3-.25 .3 .75 .3 .01 .3-.47 .3 .08 .3 .11 .3 .18 .3-.48 .3 .36 .3-.09 .3-.05 .3-.14 .3 .11 .3 .05 .3 .2 .3 .58 .3-.73 .3 .08 .3-.12 .3-.1 .3-.06 .3-.01 .3 .06 .3 .07 .3 .9 .3-.56 .3-.14 .3 .16 .3-.01 .3-.07 .3 .05 .3-.42 .3 .1 .3 .15 .3 .19 .3-.7 .3 .41 .3-.1 .3-.33 .3 .5 .3-.44 .3 .42 .3-.45 .3 .15 .3 .5 .3-.24 .3-.24 .3-.07 .3-.03 .3 1.29 .3-.91 .3-.38 .3 .35 .3-.38 .3 .12 .3 .87 .3-.42 .3 .09 .3-.02 .3-.37 .3-.29 .3 .5 .3-.11 .3-.43 .3 .29 .3 .02 .3-.04 .3-.08 .3-.14 .3 .61 .3-.11 .3-.47 .3 .63 .3-.47 .3 .31 .3-.43 .3 .59 .3-.16 .3 .74 .3-.63 .3-.14 .3 .12 .3-.43 .3 .38 .3-.14 .3-.06 .3-.39 .3 .29" fill="none" stroke="#0072bd" stroke-width="2.0" stroke-linejoin="round" />
<path d="M128.60 772.82l.3 .32 .3 1.21 .3-.74 .3 .31 .3-.91 .3 .77 .3-.44 .3 .95 .3-.46 .3-1.27 .3 .98 .3 .32 .3-.71 .3 .66 .3-.46 .3-.63 .3 1.58 .3-.54 .3 .06 .3-.47 .3 .57 .3-.85 .3-.65 .3 .61 .3 .79 .3-.84 .3 .85 .3-.63 .3 .57 .3-1.21 .3 1.71 .3-1.14 .3 .33 .3-.82 .3 .76 .3-.26 .3 .41 .3-.02 .3-.54 .3-.55 .3 .93 .3-.98 .3 1.39 .3 .01 .3-.8 .3 .46 .3 .56 .3-.14 .3-.91 .3 1.13 .3-1.14 .3 .14 .3-.05 .3 .54 .3-.25 .3 .87 .3-.62 .3 .63 .3-1.79 .3 .38 .3 .81 .3 .02 .3-.18 .3-.93 .3 .53 .3 .45 .3 .15 .3 .44 .3-1.29 .3 1.3 .3 .15 .3-.77 .3-.61 .3 1.28 .3-1.17 .3-.02 .3 1.09 .3-1.38 .3 .38 .3 1.22 .3-1.71 .3 .55 .3-.02 .3 .69 .3 0 .3-.83 .3 .33 .3-.54 .3 .23 .3 .94 .3-.87 .3-.12 .3 .28 .3 .54 .3-.4 .3-.56 .3-.14 .3 1.58 .3-.95 .3-.76 .3 1.12 .3 .62 .3-.23 .3-.99 .3 .35 .3-.53 .3 .89 .3-1.39 .3 1.52 .3-.71 .3-.14 .3 .13 .3-.23 .3 .69 .3 .4 .3-.88 .3 .28 .3-.39 .3-.37 .3-.07 .3 1.23 .3 .12 .3-1.51 .3 1.6 .3-.13 .3-.82 .3 1.04 .3-1.5 .3 1.64 .3-1.9 .3 .54 .3 1.39 .3-.73 .3-.43 .3 .36 .3-.05 .3 .84 .3-1.51 .3 1.45 .3-.72 .3 .58 .3-1.48 .3 .83 .3-.73 .3-.29 .3 .9 .3-.8 .3-.11 .3 1.05 .3 .57 .3-1.14 .3-.47 .3 .37 .3 1.01 .3-.08 .3 .46 .3 .01 .3-1.25 .3 .66 .3-.83 .3 1.13 .3 .17 .3-.53 .3 .82 .3-.09 .3-1.44 .3-.17 .3 0 .3 .14 .3 .22 .3-.43 .3 .14 .3 1.44 .3-.5 .3-.21 .3 .33 .3-.21 .3 .22 .3-1.28 .3 1.09 .3-.99 .3 .57 .3-.03 .3-.11 .3 .37 .3 .33 .3-1.3 .3 1.33 .3-.3 .3-.79 .3 .14 .3 .67 .3 .3 .3-.17 .3-.73 .3 .17 .3 .52 .3 .38 .3 .09 .3-.16 .3-.41 .3 .06 .3 .78 .3-.68 .3 .04 .3-.62 .3 .96 .3-1.06 .3 .24 .3 .93 .3-1.25 .3 .97 .3-.95 .3-.41 .3 1.84 .3-.63 .3-.88 .3-.12 .3 1.4 .3-1.07 .3 .83 .3-.12 .3-.05 .3 .06 .3 .22 .3-.08 .3 .25 .3-1.33 .3-.18 .3-.2 .3 1.23 .3 .5 .3-1.08 .3 1.07 .3-.2 .3-1.4 .3 .77 .3-.01 .3 .03 .3 .44 .3-.68 .3 .42 .3-.85 .3 1.59 .3-.48 .3-.51 .3 .29 .3-.56 .3 1.2 .3 .02 .3 0 .3-.26 .3-.08 .3-1.3 .3 .24 .3 .15 .3 .93 .3-1.31 .3 .13 .3 .85 .3-.45 .3 1.1 .3-1.13 .3 1.1 .3-.81 .3-.42 .3 .27 .3-.16 .3-.69 .3 1.63 .3 .14 .3-1.12 .3-.4 .3 1.47 .3-.94 .3 .46 .3 .71 .3-1.58 .3 .47 .3 .36 .3-.62 .3 .8 .3-.44 .3 .6 .3 .09 .3-.74 .3 .94 .3-1.34 .3 1.28 .3-1.63 .3 .2 .3 .54 .3-.02 .3 .85 .3-.39 .3-.29 .3 .93 .3-.19 .3-1.65 .3 1.14 .3-.57 .3 .91 .3-1 .3 1.23 .3-.17 .3-1.65 .3 1.1 .3-.27 .3 .71 .3-.34 .3 .24 .3-.29 .3 .75 .3-1.84 .3 1.09 .3 .41 .3 .26 .3-1.31 .3-.01 .3 .47 .3 .65 .3-.87 .3 .01 .3-.2 .3-.11 .3-.26 .3 1.24 .3-1.28 .3 .43 .3 .76 .3 .6 .3-.93 .3-.18 .3 .91 .3-1.13 .3 .6 .3 .54 .3-1.18 .3 1.06 .3-1.58 .3 1.1 .3-.23 .3-.41 .3 .09 .3-.48 .3 .92 .3 .27 .3 .6 .3-.68 .3-1.13 .3 .91 .3 .76 .3-.44 .3-.55 .3-.52 .3-.19 .3 .67 .3 .83 .3-1.16 .3 1.15 .3 .09 .3-.44 .3-1.21 .3 .57 .3 1.25 .3 .01 .3-.38 .3 .19 .3-.2 .3-.55 .3-.92 .3 1.68 .3-1.48 .3 .18 .3 .61 .3 .92 .3-1.12 .3 .26 .3 .73 .3-.68 .3-.99 .3 1.03 .3 .37 .3-.95 .3-.11 .3 1.5 .3-1.68 .3 .1 .3 1.08 .3 .02 .3 .17 .3-.93 .3 .53 .3-.81 .3 .02 .3 1.02 .3 .45 .3-.19 .3-.49 .3-.26 .3-.34 .3-.57 .3 1.22 .3-1.13 .3 .64 .3-.76 .3 .78 .3 .14 .3-.42 .3-.03 .3-.24 .3 .39 .3 .23 .3-.75 .3 .35 .3 .75 .3 .43 .3 .1 .3-1.3 .3 1.45 .3-.36 .3-1.21 .3 .65 .3-.4 .3-.01 .3-.25 .3 1.58 .3-.91 .3 .42 .3-1.15 .3 1.05 .3-.64 .3-.09 .3 1.22 .3-.79 .3 .41 .3-1.26 .3 1.53 .3-1.43 .3 1.19 .3 .19 .3-.45 .3-.23 .3 .7 .3-.69 .3-.02 .3 .29 .3 .46 .3-.84 .3-.71 .3 1.38 .3-.27 .3-.18 .3 .28 .3-.99 .3 .96 .3-1.16 .3 .76 .3 .75 .3-.07 .3 .17 .3 .2 .3-.85 .3-.9 .3 .19 .3 .76 .3-1 .3 .27 .3-.45 .3 .35 .3 1.35 .3-1.05 .3 1.13 .3-1.37 .3 1.52 .3-1.87 .3 1.13 .3-.13 .3-1.01 .3 1.91 .3-.85 .3 .09 .3 .16 .3 .35 .3-.63 .3-.09 .3-.21 .3 .12 .3 1.07 .3-1.67 .3 .7 .3-.36 .3 1 .3 .18 .3-1.52 .3-.22 .3 .31 .3 1.2 .3-.07 .3-1.44 .3 1.57 .3-1.58 .3 1.42 .3-1.13 .3 .85 .3-.44 .3 .23 .3 .31 .3 .05 .3-1.24 .3 1.25 .3-.17 .3-1.1 .3 .61 .3 .72 .3-1 .3-.02 .3 .79 .3-.05 .3 .41 .3-.43 .3 0 .3 .06 .3-.45 .3 1.18 .3-1.57 .3 .56 .3-.79 .3 1.73 .3-.18 .3-.33 .3-.68 .3 .26 .3 .68 .3-.49 .3-1.13 .3 .93 .3 .89 .3-.21 .3-.14 .3-1.11 .3 1.32 .3-.06 .3-.21 .3-1.23 .3 .65 .3 .26 .3-.16 .3 1.05 .3-.22 .3-.73 .3 .66 .3-1.21 .3 .02 .3 .82 .3-.86 .3 1.36 .3-.37 .3-1.22 .3 .56 .3 .94 .3-.45 .3-.52 .3 .5 .3-.97 .3 1.7 .3-1.38 .3 .35 .3 .15 .3-.03 .3 .7 .3-1.37 .3-.17 .3 .05 .3 .3 .3-.44 .3-.13 .3 .62 .3 1.06 .3-1.31 .3 .12 .3-.45 .3 1.85 .3-.31 .3-.25 .3-.93 .3 .52 .3 .11 .3-.76 .3 .75 .3 .73 .3-.72 .3-.91 .3 1.12 .3 .59 .3-1.43 .3 1.47 .3-.98 .3 .79 .3-.05 .3-1.09 .3 0 .3 .9 .3 .27 .3-.46 .3-.37 .3-.21 .3 .98 .3-1.24 .3 .09 .3 1.45 .3-1.63 .3-.03 .3 .19 .3 .65 .3 .57 .3-1.04 .3 .05 .3 .79 .3-.48 .3 .4 .3-1.11 .3 .22 .3-.23 .3 1.32 .3-1.25 .3 1.18 .3-1.56 .3 .87 .3 1.09 .3-.69 .3-.54 .3 .61 .3-.63 .3-.66 .3 1.18 .3-.97 .3 .76 .3 .62 .3-.66 .3 .42 .3-.09 .3-.25 .3-.77 .3 .81 .3-.55 .3-.56 .3 .7 .3 .44 .3-.39 .3 .75 .3-.43 .3 .5 .3-.2 .3-1.22 .3 .24 .3 .02 .3 1.04 .3-.94 .3 .19 .3 .41 .3 .46 .3-1.41 .3 .41 .3 1.26 .3-.76 .3-.43 .3 .14 .3 1.16 .3-.44 .3-.84 .3-.53 .3 .89 .3-.36 .3 .99 .3-1.39 .3 .59 .3 .28 .3 .3 .3-1.27 .3 .06 .3 .48 .3 .49 .3 .1 .3-.25 .3 .94 .3-1.92 .3 1.28 .3 .44 .3-1.12 .3-.08 .3 .54 .3-.81 .3 1.05 .3-.79 .3 .83 .3-1.17 .3 1.77 .3-1.44 .3 .94 .3 .01 .3-.56 .3 .55 .3-1.33 .3 1.23 .3 .46 .3-1.25 .3 .66 .3-.61 .3-.19 .3 .38 .3 .44 .3-.93 .3 .91 .3-.48 .3-.52 .3-.11 .3 1.63 .3-.52 .3-.74 .3 .39 .3-.09 .3-.08 .3-.43 .3 .12 .3 .68 .3 .3 .3-.97 .3-.11 .3 1.24 .3-.27 .3 .28 .3-1.14 .3 .6 .3-.48 .3 1 .3 .32 .3-1.15 .3 .25 .3-.07 .3 .47 .3 .06 .3 .37 .3-1.55 .3-.03 .3 .64 .3 .12 .3-.49 .3 .49 .3-.1 .3 .97 .3-.33 .3-.26 .3 .25 .3-1.25 .3 .72 .3 .05 .3-.96 .3 .3 .3-.06 .3-.3 .3 1.22 .3-.53 .3 1.05 .3-1.15 .3 .82 .3 .18 .3-.88 .3-.51 .3 1.7 .3-.78 .3 .13 .3-.19 .3-.82 .3 .94 .3 .21 .3-.79 .3 1.19 .3-.25 .3-.19 .3-1.04 .3 1.5 .3-.22 .3-1.32 .3 1.58 .3 .05 .3-.24 .3-1.39 .3 .43 .3 0 .3-.07 .3 .24 .3 .54 .3-.18 .3 .41 .3-1 .3 .84 .3-.77 .3 .64 .3 0 .3-.28 .3 .48 .3 .29 .3-1.56 .3 .97 .3 .63 .3-.03 .3-1.47 .3-.05 .3 1.32 .3-.33 .3-.63 .3 .18 .3-.02 .3-.57 .3 .8 .3-.06 .3 .29 .3 .65 .3-1.73 .3-.13 .3 1.51 .3-.8 .3 .18 .3 .04 .3-.41 .3-.36 .3 .49 .3-.24 .3 .13 .3-.03 .3 .59 .3-1.23 .3 .7 .3 .97 .3 .19 .3-1.42 .3 1.41 .3-.57 .3 .63 .3-1.64 .3 1.48 .3 .04 .3-.3 .3 .2 .3 .02 .3-.33 .3-.03 .3-1.27 .3 .34 .3-.28 .3 .95 .3-.87 .3 .74 .3-.96 .3 .55 .3 1.25 .3-.69 .3-.93 .3 .41 .3-.08 .3 .28 .3-.51 .3 1.54 .3-.89 .3-.72 .3 1.75 .3-1.39 .3 1.15 .3-.16 .3-1.4 .3 .31 .3 .12 .3 .87 .3-1.1 .3 1.33 .3-1.3 .3 1.22 .3 .18 .3-.17 .3-1.09 .3 .97 .3-1.47 .3 .19 .3 1.58 .3-1.65 .3 1.82 .3-1.75 .3 .71 .3 .14 .3-.62 .3 .2 .3 1.32 .3-.95 .3-.82 .3 .63 .3 .51 .3-.84 .3 1.45 .3-.51 .3-.24 .3-.23 .3 .02 .3 .73 .3-.94 .3-.75 .3 .36 .3 .02 .3 .38 .3 .01 .3 .49 .3-1.12 .3 1.71 .3-1.24 .3-.38 .3 .23 .3-.32 .3 1.13 .3 .37 .3-.95 .3 .06 .3-.4 .3 .02 .3-.06 .3-.26 .3 .4 .3 .46 .3 .62 .3 .09 .3-.96 .3-.26 .3 1.17 .3-.98 .3 .68 .3-.55 .3 .45 .3 .19 .3-.68 .3 .59 .3-.4 .3 .5 .3-.06 .3-1.22 .3 1.38 .3 .24 .3-1.14 .3 1.38 .3-1.17 .3-.13 .3-.37 .3 .75 .3-.64 .3 .04 .3 .64 .3-.47 .3-.01 .3 .87 .3-1.28 .3 1.14 .3 .24 .3-1.54 .3 1.91 .3-.14 .3-.5 .3 .06 .3-1.16 .3-.01 .3 1.24 .3-.96 .3-.14 .3 1.09 .3-.84 .3 .28 .3-.86 .3 1.79 .3-.85 .3-.62 .3 .32 .3 .5 .3 .34 .3-.15 .3-.65 .3 .45 .3-.74 .3 .54 .3 .07 .3-.02 .3 .95 .3-1.22 .3 .59 .3-.96 .3 .68 .3-.15 .3-.24 .3 .95 .3-1.32 .3 .58 .3-.56 .3 .73 .3 .29 .3 .48 .3-.53 .3 .48 .3-1.01 .3 1.12 .3-1.07 .3 1.12 .3-1.24 .3 .72 .3-.71 .3 .06 .3 .51 .3 .41 .3-1.37 .3-.15 .3 .67 .3 .52 .3 .04 .3 .46 .3 .14 .3-1.04 .3 .95 .3 .04 .3-.97 .3-.02 .3-.26 .3 .94 .3-.38 .3-.43 .3-.26 .3 .77 .3-1 .3 1.49 .3 .14 .3-.89 .3 .41 .3-.79 .3 1.11 .3-.62 .3-1.09 .3 .26 .3 1.24 .3-.14 .3-.26 .3 .25 .3-.48 .3 .89 .3-.12 .3-1.21 .3 .34 .3-.71 .3 1.78 .3-1.61 .3 .87 .3 .25 .3-.22 .3-.78 .3 .74 .3-.78 .3-.34 .3 .61 .3-.2 .3 .63 .3-.41 .3 1.03 .3-.95 .3 .07 .3 .79 .3-.35 .3-.29 .3-.47 .3 1.49 .3-1.16 .3-.27 .3 .2 .3 .21 .3 .28 .3-1.08 .3 .61 .3-.67 .3 .47 .3 .08 .3 .68 .3-.97 .3 .31 .3-.65 .3 .63 .3 1.32 .3-.36 .3-.33 .3-.51 .3-.66 .3 1.16 .3 .17 .3-.46 .3-.49 .3 1.42 .3-.36 .3-1.17 .3-.07 .3 .97 .3-.78 .3 1.44 .3-.26 .3-.95 .3 .77 .3-1.3 .3 .02 .3 .27 .3 1.3 .3-.11 .3 .26 .3-1.17 .3 .4 .3 .69 .3-.01 .3-.4 .3-.29 .3 .1 .3-1.27 .3 1.11 .3 .76 .3 .05 .3-1.01 .3 .18 .3 .27 .3-.34 .3 .72 .3-1.09 .3 1.34 .3-.26 .3-.46 .3 0 .3 0 .3-1.14 .3 .7 .3-.53 .3 .47 .3 .09 .3 .09 .3 .82 .3-.3 .3-1.47 .3 .33 .3 .07 .3-.15 .3 .31 .3 .39 .3 1 .3-1.58 .3-.34 .3 .03 .3 .51 .3-.37 .3-.13 .3-.01 .3 .96 .3-.69 .3-.21 .3 .46 .3 .92 .3-.4 .3 .24 .3 .2 .3-.53 .3 .91 .3-1.12 .3-.07 .3-.28 .3 1 .3-.51 .3-.08 .3 .6 .3-1.19 .3 .92 .3 .68 .3 .13 .3-1.05 .3 .08 .3 .93 .3-.88 .3 .67 .3-.93 .3 .42 .3-.99 .3-.09 .3 .72 .3 .43 .3 .17 .3-.74 .3 1.03 .3-.93 .3-.22 .3 .14 .3-.66 .3 0 .3 .28 .3 1.54 .3 .04 .3-1.91 .3 .35 .3 1.41 .3-.86 .3-.9 .3 .19 .3-.13 .3 .55 .3 .69 .3 .39 .3-.61 .3-.28 .3 .53 .3-.38 .3 .15 .3 .48 .3-1.55 .3 .59 .3 .97 .3-1.32 .3 .39 .3 .11 .3-.66 .3 1.55 .3-1.65 .3 1.45 .3-1.3 .3 .2 .3 1.24 .3-1.63 .3 .88 .3 1.03 .3 .06 .3-.36 .3-1.22 .3-.3 .3 .69 .3-.75 .3 .53 .3 .56 .3-.99 .3 1.12 .3 .03 .3-.72 .3-.36 .3 .5 .3 .08 .3 .43 .3 .27 .3-.85 .3-.18 .3 1.22 .3-.55 .3-1.05 .3-.02 .3 .68 .3 1.13 .3-1.73 .3 .41 .3 1.3 .3-.31 .3-.57 .3 .7 .3 .21 .3-.67 .3-.41 .3 .3 .3 .46 .3-.55 .3 .6 .3-.47 .3 .03 .3 .78 .3 .03 .3-1.46 .3-.17 .3 1.14 .3 .49 .3-1.7 .3 .7 .3 .73 .3-.31 .3-.07 .3 .05 .3-.41 .3 .74 .3-.21 .3 .25 .3-.32 .3-.44 .3 .6 .3 .36 .3-1.09 .3 .51 .3-.21 .3 .8 .3-.78 .3-.39 .3 .54 .3-.89 .3 .5 .3-.89 .3 .64 .3 1.15 .3 .14 .3-1 .3-.58 .3 .58 .3 .96 .3-.42 .3-.58 .3 .5 .3-.94 .3 .39 .3 .52 .3-1.37 .3 1.15 .3-.2 .3-.59 .3 .63 .3-.71 .3 .08 .3 .01 .3 1.01 .3 .07 .3-.47 .3-.24 .3-.05 .3-.11 .3 .09 .3 .74 .3-.87 .3 .71 .3-1.17 .3 .91 .3-.9 .3 .12 .3 1.62 .3-.65 .3-1.18 .3 1.01 .3-.47 .3 1.19 .3-1.18 .3 .21 .3 1.04 .3-1.08 .3-.13 .3 .6 .3 .23 .3-.44 .3-.23 .3 1.16 .3-.96 .3 0 .3-.44 .3 .93 .3-.23 .3-.16 .3-.2 .3 .86 .3-.27 .3-.58 .3 1.02 .3-.56 .3-.05 .3-.1 .3-1.18 .3 1.09 .3 .59 .3-.08 .3-.09 .3-.19 .3-.06 .3 .24 .3-1.33 .3 .65 .3-.05 .3 .66 .3-.66 .3 .83 .3-.68 .3-.82 .3 1.81 .3 .01 .3-.07 .3-1.84 .3 1.61 .3 .28 .3-1.91 .3 .9 .3 .23 .3-.68 .3 .25 .3 .4 .3 .33 .3-.58 .3 1.11 .3-.71 .3-.78 .3 1.34 .3-1.49 .3 .21 .3-.52 .3 .63 .3 0 .3-.27 .3-.27 .3 .85 .3-.43 .3 1.39 .3-.18 .3-.89 .3-.64 .3 .53 .3-.62 .3 1.82 .3-1.46 .3 .96 .3-.13 .3 .4 .3-.55 .3 .15 .3-.03 .3-.03 .3-.19 .3 .26 .3-1.11 .3 1.04 .3-.34 .3-.18 .3 .07 .3 .85 .3 .18 .3-.56 .3-.55 .3-.1 .3 .96 .3-.69 .3 .93 .3-1.02 .3-.28 .3 1.26 .3-1.06 .3 1.21 .3-1.14 .3-.08 .3 .78 .3-.72 .3-.43 .3 .87 .3-.16 .3 .69 .3-.64 .3 .31 .3-.7 .3 .58 .3-.03 .3-.91 .3 .24 .3-.35 .3 1.65 .3-1.05 .3 .68 .3-1.48 .3 1.65 .3-.54 .3-1.11 .3 .07 .3 1.28 .3-.85 .3-.3 .3 .68 .3-.08 .3-.36 .3 1.5 .3-.05 .3-.54 .3-1.34 .3 1.61 .3-.49 .3-1.05 .3 .04 .3 .68 .3 .34 .3-.67 .3 .12 .3 .07 .3-.69 .3 1.87 .3-1.46 .3 .37 .3-.38 .3 .55 .3 .74 .3 .05 .3-1.47 .3 .16 .3 .08 .3 1.18 .3-.05 .3 .07 .3-.94 .3 1.18 .3-1.64 .3 .79 .3-.57 .3 .45 .3 .78 .3 .17 .3-1.25 .3 .27 .3-.4 .3 1.07 .3-1.36 .3 .74 .3 .53 .3-.73 .3-.44 .3 .6 .3 .51 .3-.6 .3 1.09 .3-.55 .3-1.27 .3 1.17 .3 .25 .3 .33 .3-.29 .3 .01 .3-1.46 .3 .26 .3 .53 .3-.08 .3-.73 .3 1.03 .3 0 .3-.82 .3 .71 .3 .28 .3-.95 .3 1.06 .3-1.01 .3 1.37 .3-.1 .3-1.67 .3 1.18 .3 .11 .3-1.19 .3 .62 .3-.23 .3 1.38 .3-1.9 .3 .76 .3-.04 .3-.19 .3 1.15 .3-1.55 .3 .41 .3 .03 .3 1.22 .3-1.22 .3 1.1 .3-.03 .3 .13 .3-.54 .3 .58 .3-.96 .3-.77 .3 .13 .3 .64 .3 .3 .3-1.14 .3 1.62 .3-.62 .3 .34 .3-.03 .3-.32 .3-.89 .3 .58 .3-.43 .3-.07 .3 .1 .3 1.19 .3 .19 .3-1.04 .3-.39 .3 1.56 .3-.74 .3 0 .3-.47 .3 .58 .3-.35 .3 .57 .3 .42 .3-1.5 .3 .97 .3 .03 .3 .34 .3-1.03 .3 .37 .3-.1 .3 .65 .3-.4 .3 .27 .3-.17 .3 .39 .3-.15 .3-.43 .3 .04 .3-.07 .3-.57 .3 1.36 .3-1.43 .3 .55 .3-.34 .3-.43 .3 1.43 .3-.81 .3 .28 .3 .57 .3-1.61 .3 .56 .3 .87 .3-.83 .3 .29 .3 1 .3-1.02 .3 .84 .3-1.65 .3 1.87 .3-.56 .3-.13 .3 0 .3-.35 .3-.86 .3 .58 .3 .61 .3-.31 .3 .23 .3-.07 .3-.39 .3 .19 .3-.5 .3 .7 .3-.22 .3-.88 .3 1.04 .3-.23 .3 .18 .3-.89 .3 .65 .3-.49 .3-.03 .3-.1 .3-.12 .3 1.75 .3-.59 .3 .48 .3-.94 .3 .33 .3-.87 .3 .49 .3-.19 .3 .95 .3 .05 .3 .25 .3-1.62 .3 1.05 .3 .22 .3-1.33 .3 1.68 .3-.97 .3 1.21 .3-1.48 .3 .78 .3 .04 .3-.75 .3 .1 .3 .79 .3-.35 .3 .68 .3-.1 .3-1.48 .3 1.33 .3 .1 .3 .09 .3-.43 .3-.82 .3-.33 .3 1.59 .3-.17 .3-.73 .3 .85 .3-1.55 .3 1.67 .3-.66 .3 .03 .3 .73 .3-.16 .3-1.44 .3 1.28 .3-1.26 .3 .86 .3-.3 .3 .07 .3 .28 .3 .4 .3-.82 .3 1.01 .3-1.66 .3 .13 .3 1.36 .3-.38 .3 .58 .3-.62 .3-.88 .3 .57 .3-.92 .3 1.9 .3-.07 .3-1.79 .3 .83 .3-.32 .3 .4 .3-.22 .3 .97 .3-1.07 .3-.24 .3 1.54 .3-1.35 .3 .81 .3-.38 .3 .43 .3-.34 .3 .51 .3-1.3 .3 1.56 .3-1.36 .3 1.29 .3-1.79 .3 1.05 .3-.28 .3-.58 .3 1.27 .3-.11 .3 .01 .3-.42 .3 .15 .3-.08 .3-.4 .3 .46 .3 .59 .3-.04 .3-1.5 .3 1.4 .3-.61 .3 .43 .3-.44 .3-.4 .3 1.42 .3-.02 .3-.52 .3-1.08 .3-.22 .3 1.23 .3 .07 .3-1.19 .3 .65 .3 .57 .3 .49 .3-.2 .3-.1 .3-1.41 .3 1.61 .3-.83 .3-.1 .3 .23 .3 .08 .3 .47 .3-1.64 .3 .05 .3 .83 .3 .77 .3-1.48 .3 1.08 .3-.47 .3 1.09 .3-.34 .3-1.15 .3 1.58 .3-.15 .3-1.5 .3 1.17 .3-.45 .3-.06 .3-.16 .3 .04 .3 .29 .3 .81 .3-.16 .3-1.1 .3 .08 .3 .88 .3-1.04 .3 .17 .3 .57 .3-1.22 .3 1.44 .3-1.18 .3 .59 .3-.46 .3 .54 .3-.5 .3 .26 .3 .32 .3 .64 .3-1.19 .3 1.21 .3 .14 .3-.24 .3-1.08 .3 .56 .3-.01 .3 .25 .3-.18 .3-.81 .3 .17 .3-.23 .3 .49 .3 .71 .3-.16 .3-1.23 .3 .33 .3 .85 .3-.36 .3 .17 .3 .13 .3 .04 .3-.9 .3 .96 .3-.98 .3 .33 .3-.22 .3-.19 .3 .21 .3-.45 .3 1.74 .3-1.1 .3 1.14 .3-1.47 .3 .35 .3 1.09 .3-1.36 .3 .31 .3 .23 .3-.73 .3 1.04 .3-.39 .3 .04 .3 .59 .3-1.47 .3 1.75 .3-1.17 .3 .92 .3-.29 .3 .16 .3-.22 .3 .25 .3-.06 .3-1.05 .3 1.29 .3-1.42 .3 .01 .3 .1 .3 .52 .3 .93 .3-1.62 .3 1.73 .3-1.74 .3 .74 .3-.27 .3 .68 .3-.21 .3-.67 .3 .55 .3-.15 .3-.39 .3-.06 .3-.06 .3-.31 .3 .17 .3-.06 .3 .4 .3-.37 .3 1.12 .3 .1 .3 .53 .3-.21 .3-.36 .3 .52 .3-.19 .3 .04 .3-1.72 .3 1.56 .3-.88 .3-.11 .3 1.15 .3-.42 .3 .11 .3 .39 .3-1.01 .3 .72 .3-1.41 .3-.04 .3 .32 .3 .14 .3-.56 .3 1.77 .3-.63 .3-.13 .3-.71 .3 1.32 .3-.21 .3-.58 .3-.55 .3 1.66 .3-.16 .3-1.56 .3 .58 .3 .2 .3 .25 .3 .12 .3 .08 .3-.76 .3 .17 .3-.62 .3 .77 .3 .61 .3-1.31 .3 .6 .3-.72 .3 .21 .3 .88 .3-1.14 .3 1.08 .3-.62 .3 .01 .3 .95 .3-.53 .3 .09 .3 .58 .3-.2 .3-1.47 .3 .99 .3-.32 .3 .34 .3-.73 .3 .47 .3-.51 .3 1.46 .3-.89 .3 .52 .3-.42 .3 .52 .3-.9 .3 1.05 .3-1.03 .3 .41 .3 .02 .3-.58 .3 .51 .3-.88 .3 1.3 .3-.04 .3-1.28 .3 .66 .3-.07 .3-.55 .3 1.37 .3-1.28 .3 .83 .3 .91 .3-.76 .3 .19 .3-.41 .3 .69 .3-.21 .3-.88 .3 .35 .3 .35 .3-1.02 .3 .51 .3 1.06 .3-.02 .3-1.18 .3 1.25 .3-.5 .3 .3 .3-.73 .3 .98 .3-.86 .3-.43 .3 .25 .3-.12 .3 .27 .3 .91 .3-1.59 .3 .63 .3 .93 .3 0 .3-1.87 .3 1.61 .3-1.39 .3 .17 .3-.37 .3 .49 .3 .92 .3 .07 .3-.15 .3-.17 .3-.08 .3-1.03 .3 .13 .3 .08 .3 1.64 .3-1.17 .3 .65 .3 .36 .3-.8 .3 .03 .3-.35 .3 .95 .3-.53 .3-.88 .3-.02 .3 .82 .3 .3 .3-.31 .3 .75 .3-.17 .3 .05 .3-1.58 .3 1.85 .3 .06 .3-.48 .3 .32 .3-.77 .3 .43 .3-.45 .3-.86 .3 1.02 .3 .41 .3-.8 .3-.43 .3 1.42 .3 .19 .3-.12 .3-.2 .3-1.04 .3-.41 .3 .52 .3-.22 .3-.03 .3 1.34 .3-1.56 .3 .03 .3 .45 .3-.48 .3 .58 .3 1.14 .3-1.79 .3 .3 .3 1.37 .3-1.51 .3 1.45 .3-.96 .3 .77 .3-1.37 .3 1.23 .3-.8 .3 .87 .3-1.47 .3 .8 .3 .1 .3-.17 .3 1.22 .3-.44 .3-1.01 .3 .82 .3-.74 .3 1.12 .3-.87 .3-.02 .3-.68 .3 .56 .3-.28 .3 1.02 .3 .15 .3-.7 .3 .71 .3 .13 .3-1.39 .3 1.12 .3-1.36 .3 .42 .3-.3 .3 .51 .3-.68 .3 .47 .3 .84 .3 .42 .3-1.09 .3 1.22 .3-.46 .3 .25 .3-1.16 .3 1.4 .3-1.77 .3 1.3 .3-.42 .3-.23 .3 1.02 .3-1.35 .3 1.18 .3-.26 .3 .26 .3 .29 .3-.81 .3 .45 .3-.2 .3-.37 .3 .41 .3-.3 .3-.12 .3-.35 .3 .91 .3 .3 .3-.66 .3-.8 .3 .77 .3-.59 .3 1.35 .3-.14 .3-1.09 .3-.13 .3 .68 .3-.85 .3 1.06 .3-.82 .3 .57 .3-.13 .3-.4 .3-.32 .3 .84 .3-.26 .3 .65 .3-.06 .3-.55 .3 .72 .3-1.12 .3 .89 .3-.19 .3-.75 .3-.41 .3-.06 .3 .22 .3-.23 .3 .27 .3 .9 .3-.47 .3-.06 .3 1.15 .3-.99 .3 .68 .3 0 .3-.51 .3 .47 .3-.83 .3 .72 .3-1 .3 1.01 .3-.72 .3 .54 .3 .63 .3-1.64 .3-.13 .3 .53 .3-.09 .3 .59 .3-.47 .3 .36 .3 .86 .3-1.52 .3-.32 .3 1.3 .3-.43 .3 .99 .3-1.62 .3 1.09 .3-.54 .3 1.14 .3-1.87 .3 .27 .3 .09 .3 .96 .3 .21 .3-.48 .3-.64 .3-.48 .3 .46 .3 1.41 .3-.48 .3-1.3 .3 1.78 .3-.72 .3-.68 .3 .99 .3-.96 .3-.41 .3 1.3 .3 .43 .3-.42 .3-1.34 .3 1.53 .3-.95 .3 1.11 .3-1.18 .3 .3 .3 .96 .3-.86 .3-.42 .3-.13 .3 .36 .3-.59 .3 1.09 .3 .37 .3-1.37 .3 .49 .3-.42 .3 1.31 .3-1.15 .3 1.41 .3-1.06 .3-.49 .3 .98 .3-.93 .3 1.26 .3-.49 .3-.71 .3 1.1 .3-1.31 .3 1.29 .3-1.07 .3-.17 .3-.28 .3 1.87 .3-1.04 .3-.41 .3 .03 .3 1.32 .3-.85 .3 .66 .3 .13 .3-1.57 .3 .76 .3-.32 .3 .16 .3 .55 .3-.94 .3 1.21 .3-.07 .3-.95 .3 .14 .3-.02 .3 .15 .3 .71 .3-.72 .3 .38 .3-.37 .3-.88 .3 1.32 .3-.18 .3-.64 .3 .81 .3-.07 .3 .05 .3-.06 .3-.05 .3 .71 .3-.07 .3-.49 .3 .38 .3-.83 .3-.31 .3 .8 .3-1.36 .3 1.29 .3 .38 .3-1.6 .3 1.11 .3-.27 .3 .15 .3-1.06 .3 .96 .3-.16 .3-.62 .3-.17 .3 .31 .3 .81 .3-.14 .3 .29 .3-1.28 .3 .64 .3-.38 .3 1.2 .3-1.4 .3 1.66 .3-.13 .3-1.53 .3 1.16 .3 .58 .3-1.43 .3 1.6 .3-.35 .3 .32 .3-1.11 .3 .12 .3 .61 .3-1.05 .3-.34 .3 .04 .3 .38 .3 .11 .3 .65 .3-.83 .3-.06 .3 .04 .3 .3 .3 .11 .3 .05 .3 .33 .3-.66 .3 1.34 .3-.63 .3-.22 .3 .53 .3-.61 .3 .82 .3-.96 .3 .75 .3-1.43 .3 1.65 .3 .08 .3-1.36 .3 .36 .3 .61 .3-1.15 .3 1.28 .3-.71 .3 .47 .3-1.04 .3-.04 .3-.31 .3 1.22 .3-.26 .3 .26 .3-.89 .3 .06 .3 .46 .3-.26 .3-.48 .3 1.48 .3 .2 .3 .08 .3-.15 .3-1.21 .3 .83 .3-.09 .3-.15 .3-.69 .3 .58 .3-1.01 .3 1.39 .3-1.44 .3 1.27 .3 .58 .3-1.35 .3 0 .3 .47 .3 .86 .3-1.59 .3 .33 .3-.22 .3-.21 .3 .29 .3 1.19 .3-.82 .3 .04 .3 .86 .3-.92 .3 1.02 .3-.85 .3-.7 .3 1.33 .3-1.32 .3 1.65 .3-.44 .3-1.13 .3 .29 .3-.27 .3 1.22 .3-.88 .3 .43 .3-.01 .3 .34 .3 .33 .3-1.35 .3 1 .3 .48 .3-1.54 .3 .85 .3 .02 .3-.9 .3 1.52 .3 .09 .3-.49 .3-.16 .3 .36 .3-.38 .3-.14 .3 .3 .3-.36 .3-.89 .3 .28 .3 1.24 .3-1.41 .3 .04 .3 1.22 .3-.13 .3-1.36 .3 .86 .3 .51 .3-1.21 .3 1.61 .3-1.6 .3 .46 .3-.18 .3 .52 .3-1.02 .3 1.13 .3 .3 .3 .09 .3-.8 .3 1.16 .3-.43 .3-1.14 .3 .08 .3 1.32 .3-1.6 .3 .63 .3-.11 .3 .06 .3-.55 .3 .19 .3 .01 .3 .78 .3-.7 .3 .47 .3-.33 .3-.51 .3 .57 .3 .72 .3-.41 .3 .41 .3-1.1 .3 1.44 .3-.24 .3-1.32 .3 .65 .3 .47 .3 .53 .3-.53 .3 .62 .3-1.53 .3 .63 .3-.85 .3 .85 .3-1 .3 .02 .3 .26 .3 .42 .3-.04 .3 1.33 .3-1.78 .3 .17 .3 1.31 .3-.16 .3-.15 .3-1.34 .3 .26 .3 1.29 .3-1.46 .3 1.07 .3-.53 .3 .08 .3 .26 .3 .6 .3 .39 .3-.37 .3-.32 .3 .38 .3-1.45 .3 .68 .3 1.04 .3-1.22 .3-.54 .3 1.11 .3-.85 .3 1.39 .3-1.32 .3 .87 .3 .3 .3-1.55 .3 1.8 .3-1.05 .3 .18 .3-.29 .3-.76 .3 1.83 .3-1.53 .3 .6 .3-.16 .3 .2 .3 .06 .3 .96 .3-1.68 .3 .47 .3 .95 .3-.23 .3 .15 .3-.71 .3-.11 .3-.19 .3 .04 .3-.5 .3 1.39 .3-.95 .3 .13 .3-.26 .3 .92 .3-.81 .3 .33 .3-.36 .3 1.03 .3-.98 .3 .53 .3-.12 .3-.98 .3 1.88 .3-.21 .3-.23 .3-1.15 .3 1.37 .3 .23 .3-.21 .3-.47 .3 .38 .3-1.11 .3 .99 .3-.86 .3 .05 .3 .93 .3-1.46 .3-.11 .3 1.27 .3 .4 .3-.58 .3 .04 .3-1.03 .3 .88 .3 .84 .3-.95 .3 .18 .3-.66 .3-.18 .3 1.52 .3-1.41 .3 1.52 .3-.12 .3-1.59 .3 1.43 .3-1.57 .3 1.78 .3-.19 .3-1.64 .3 1.46 .3-.64 .3-.5 .3 .5 .3 .01 .3 .97 .3-.73 .3 .72 .3-.62 .3-.36 .3-.43 .3 1.1 .3-.31 .3-1.13 .3 .4 .3 .38 .3-.37 .3-.44 .3 1.96 .3-.47 .3-.13 .3-.22 .3 .11 .3-.89 .3 .3 .3 .29 .3 .77 .3-1.12 .3 .88 .3-1.35 .3 1.22 .3-1.26 .3 .78 .3-.7 .3 .45 .3 1.16 .3-.28 .3 .36 .3-.41 .3-.51 .3-.49 .3 1.2 .3-1.29 .3 .15 .3 .63 .3-.74 .3 1.05 .3-1.3 .3 .02 .3 .36 .3 .27 .3-.39 .3-.21 .3 .69 .3 1.05 .3-.2 .3-.06 .3-.32 .3-.75 .3 .2 .3 .73 .3-.32 .3-.92 .3 .23 .3 .92 .3-.04 .3-.78 .3 .73 .3-1.22 .3 .65 .3-.72 .3 .02 .3 1.87 .3-1.48 .3 .73 .3 .31 .3-1.19 .3 .78 .3 .66 .3-.69 .3 .61 .3-.19 .3-.82 .3-.05 .3 1.24 .3-.98 .3 .97 .3-1.56 .3 .17 .3-.08 .3 1.11 .3-.82 .3-.47 .3 1.67 .3-.37 .3-.46 .3-.94 .3 .48 .3 .33 .3 .13 .3-.27 .3 .83 .3-1.47 .3 .62 .3 .57 .3-.77 .3-.42 .3 .88 .3 .51 .3-.22 .3 .15 .3-1.43 .3 1.51 .3-.25 .3-.19 .3 .51 .3-1.44 .3 .67 .3 .59 .3 .27 .3-.94 .3-.74 .3 1.05 .3 .16 .3-.68 .3 1.38 .3-.99 .3 .05 .3 .74 .3-1.25 .3-.32 .3 .46 .3 1 .3-.24 .3 .13 .3-.7 .3-.53 .3 .46 .3 .12 .3-.61 .3 .78 .3 .23 .3-.71 .3 .78 .3-1.05 .3 1.02 .3-1.24 .3 1.08 .3-.76 .3 1.07 .3 .37 .3-1.15 .3-.35 .3 .77 .3-1.04 .3 1.25 .3-1.13 .3 1.2 .3 .2 .3-.66 .3 .28 .3 .32 .3 .05 .3-1.44 .3 .38 .3 .94 .3-.52 .3 .51 .3-.35 .3 .03 .3 .02 .3-.58 .3 .84 .3-.02 .3 .16 .3-.18 .3-.82 .3 .65 .3-.58 .3 .25 .3 .63 .3-.91 .3 1.32 .3-.29 .3-.13 .3-1.13 .3 .91 .3-.84 .3-.33 .3 .74 .3-.47 .3 1.13 .3-.08 .3 .05 .3 .44 .3-1.71 .3 .95 .3-.31 .3-.77 .3 .22 .3 1.68 .3-.04 .3-1.8 .3 .38 .3-.21 .3-.22 .3 .09 .3-.16 .3 .08 .3 1.54 .3-.61 .3 .52 .3-1.5 .3 .61 .3-.37 .3 .11 .3 1.26 .3-.08 .3-.34 .3 .3 .3-.24 .3-.89 .3-.23 .3 1.71 .3-.35 .3-.2 .3-.19 .3-.04 .3 .81 .3-1.2 .3 1.16 .3-.8 .3-.01 .3 .6 .3-.96 .3 .48 .3 .36 .3-.77 .3 .57 .3-.97 .3 .18 .3 .68 .3-.9 .3 .99 .3 .06 .3-.24 .3-1.07 .3 .29 .3 .68 .3-.16 .3-.62 .3 1.25 .3-1.16 .3 1.03 .3-.83 .3-.31 .3 1.76 .3-1.33 .3 .39 .3 .26 .3-.19 .3 .85 .3-1.2 .3-.22 .3 .8 .3-.57 .3-.19 .3 .48 .3 .24 .3-.18 .3 .11 .3-.17 .3-.86 .3 .62 .3-.73 .3 1.83 .3-.37 .3-1.32 .3 .74 .3-.11 .3 .14 .3 .69 .3-.66 .3 .69 .3-1.26 .3 .02 .3 .56 .3-.38 .3-.3 .3 1.06 .3-1.39 .3 .71 .3 .06 .3 .94 .3-.83 .3-.04 .3 .31 .3-.77 .3 1.37 .3-1.28 .3 1.42 .3-.65 .3-.98 .3 1.02 .3 .18 .3-.65 .3 .45 .3 .26 .3 .41 .3-1.66 .3 .78 .3-.65 .3 1.03 .3-.27 .3 .07 .3 .27 .3-1.54 .3 .61 .3 1.28 .3-.24 .3-1.43 .3 .17 .3 .08 .3-.45 .3 .11 .3 .65 .3-.14 .3 1.1 .3-.59 .3-.11 .3 .24 .3-.14 .3 .24 .3 .2 .3 .37 .3-1.59 .3-.1 .3 1.72 .3-1.93 .3 .19 .3 1.69 .3-.93 .3-.51 .3-.24 .3 .65 .3-.05 .3-.14 .3-.57 .3 .57 .3 .15 .3 .88 .3-.35 .3 .57 .3-.76 .3 .44 .3-.01 .3-1.02 .3 .65 .3 .37 .3-.21 .3-1.29 .3 .72 .3-.74 .3 1.3 .3 .48 .3 .07 .3-.29 .3-.12 .3 .14 .3-.72 .3 .21 .3-.04 .3-.36 .3-.07 .3 1.23 .3-.27 .3-1.56 .3 .24 .3 1.5 .3-1.09 .3 .81 .3-.67 .3-.11 .3-.17 .3-.5 .3 1.5 .3-1.1 .3-.11 .3 1.53 .3-.88 .3 .79 .3-.96 .3-.52 .3 1.2 .3-.99 .3 1.15 .3-1.02 .3-.08 .3 .15 .3 .24 .3-.03 .3-.17 .3 .42 .3-.91 .3 1.6 .3-1.2 .3 .52 .3 .59 .3-1.15 .3-.49 .3-.17 .3 1.91 .3-1.43 .3 .88 .3 .16 .3-1.39 .3-.01 .3 1.24 .3-.54 .3-.18 .3-.51 .3 1.54 .3-.69 .3-.08 .3 .84 .3-.16 .3-.75 .3-.17 .3-.08 .3 .46 .3-.5 .3-.02 .3-.36 .3 .51 .3 .96 .3-1.47 .3 1.33 .3-.18 .3 .51 .3-1.65 .3 1.29 .3-.96 .3 .74 .3 .2 .3-1.38 .3 .34 .3-.16 .3 0 .3 .96 .3-.75 .3 .77 .3-1.08 .3 .04 .3 .2 .3 1.56 .3-.23 .3-1.39 .3 .43 .3 .38 .3-.62 .3 .15 .3 .33 .3 .26" fill="none" stroke="#f60a0a" stroke-width="1.35" stroke-linejoin="round" />
</g>
<text x="119.82" y="859.80" font-size="29.8" letter-spacing="0.0">0</text>
<text x="264.53" y="859.80" font-size="29.8" letter-spacing="0.0" dx="1.5 -1.5">10</text>
<rect x="267.52" y="856.05" width="6.00" height="4.55" fill="#fff"/>
<rect x="276.12" y="856.05" width="5.66" height="4.55" fill="#fff"/>
<text x="417.53" y="859.80" font-size="29.8" letter-spacing="0.0">20</text>
<text x="570.53" y="859.80" font-size="29.8" letter-spacing="0.0">30</text>
<text x="722.33" y="859.80" font-size="29.8" letter-spacing="0.0">40</text>
<text x="875.43" y="859.80" font-size="29.8" letter-spacing="0.0">50</text>
<text x="1027.48" y="859.80" font-size="29.8" letter-spacing="0.0">60</text>
<text x="100.03" y="786.40" font-size="29.8" letter-spacing="0.0">0</text>
<text x="75.18" y="711.60" font-size="29.8" letter-spacing="0.0">0.5</text>
<text x="100.03" y="636.20" font-size="29.8" letter-spacing="0.0" dx="1.5">1</text>
<rect x="103.02" y="632.45" width="6.00" height="4.55" fill="#fff"/>
<rect x="111.62" y="632.45" width="5.66" height="4.55" fill="#fff"/>
<text x="587.22" y="892.70" font-size="31.8" text-anchor="middle" letter-spacing="0.45">Time (s)</text>
<text transform="translate(47.20 814.40) rotate(-90)" font-size="32.0" text-anchor="start">Q<tspan font-size="26.0" dy="16.20" dx="0.00 0.00 0.00">SVC</tspan><tspan dy="-16.20" dx="-1.50 0.00 2.10 -1.90 0.30 1.00 0.30"> (MVar)</tspan></text>
<line x1="480.50" y1="650.20" x2="560.60" y2="650.20" stroke="#62d216" stroke-width="2.7"/>
<text x="566.30" y="661.30" font-size="29.0" text-anchor="start" fill="#000" style="fill:#000">bus-35</text>
<line x1="672.50" y1="650.20" x2="752.60" y2="650.20" stroke="#0072bd" stroke-width="2.7"/>
<text x="758.40" y="661.30" font-size="29.0" text-anchor="start" fill="#000" style="fill:#000">bus-42</text>
<line x1="864.20" y1="650.20" x2="945.00" y2="650.20" stroke="#f60a0a" stroke-width="2.7"/>
<text x="950.30" y="661.30" font-size="29.0" text-anchor="start" fill="#000" style="fill:#000">bus-67</text>
</g>
</svg></body></html>
